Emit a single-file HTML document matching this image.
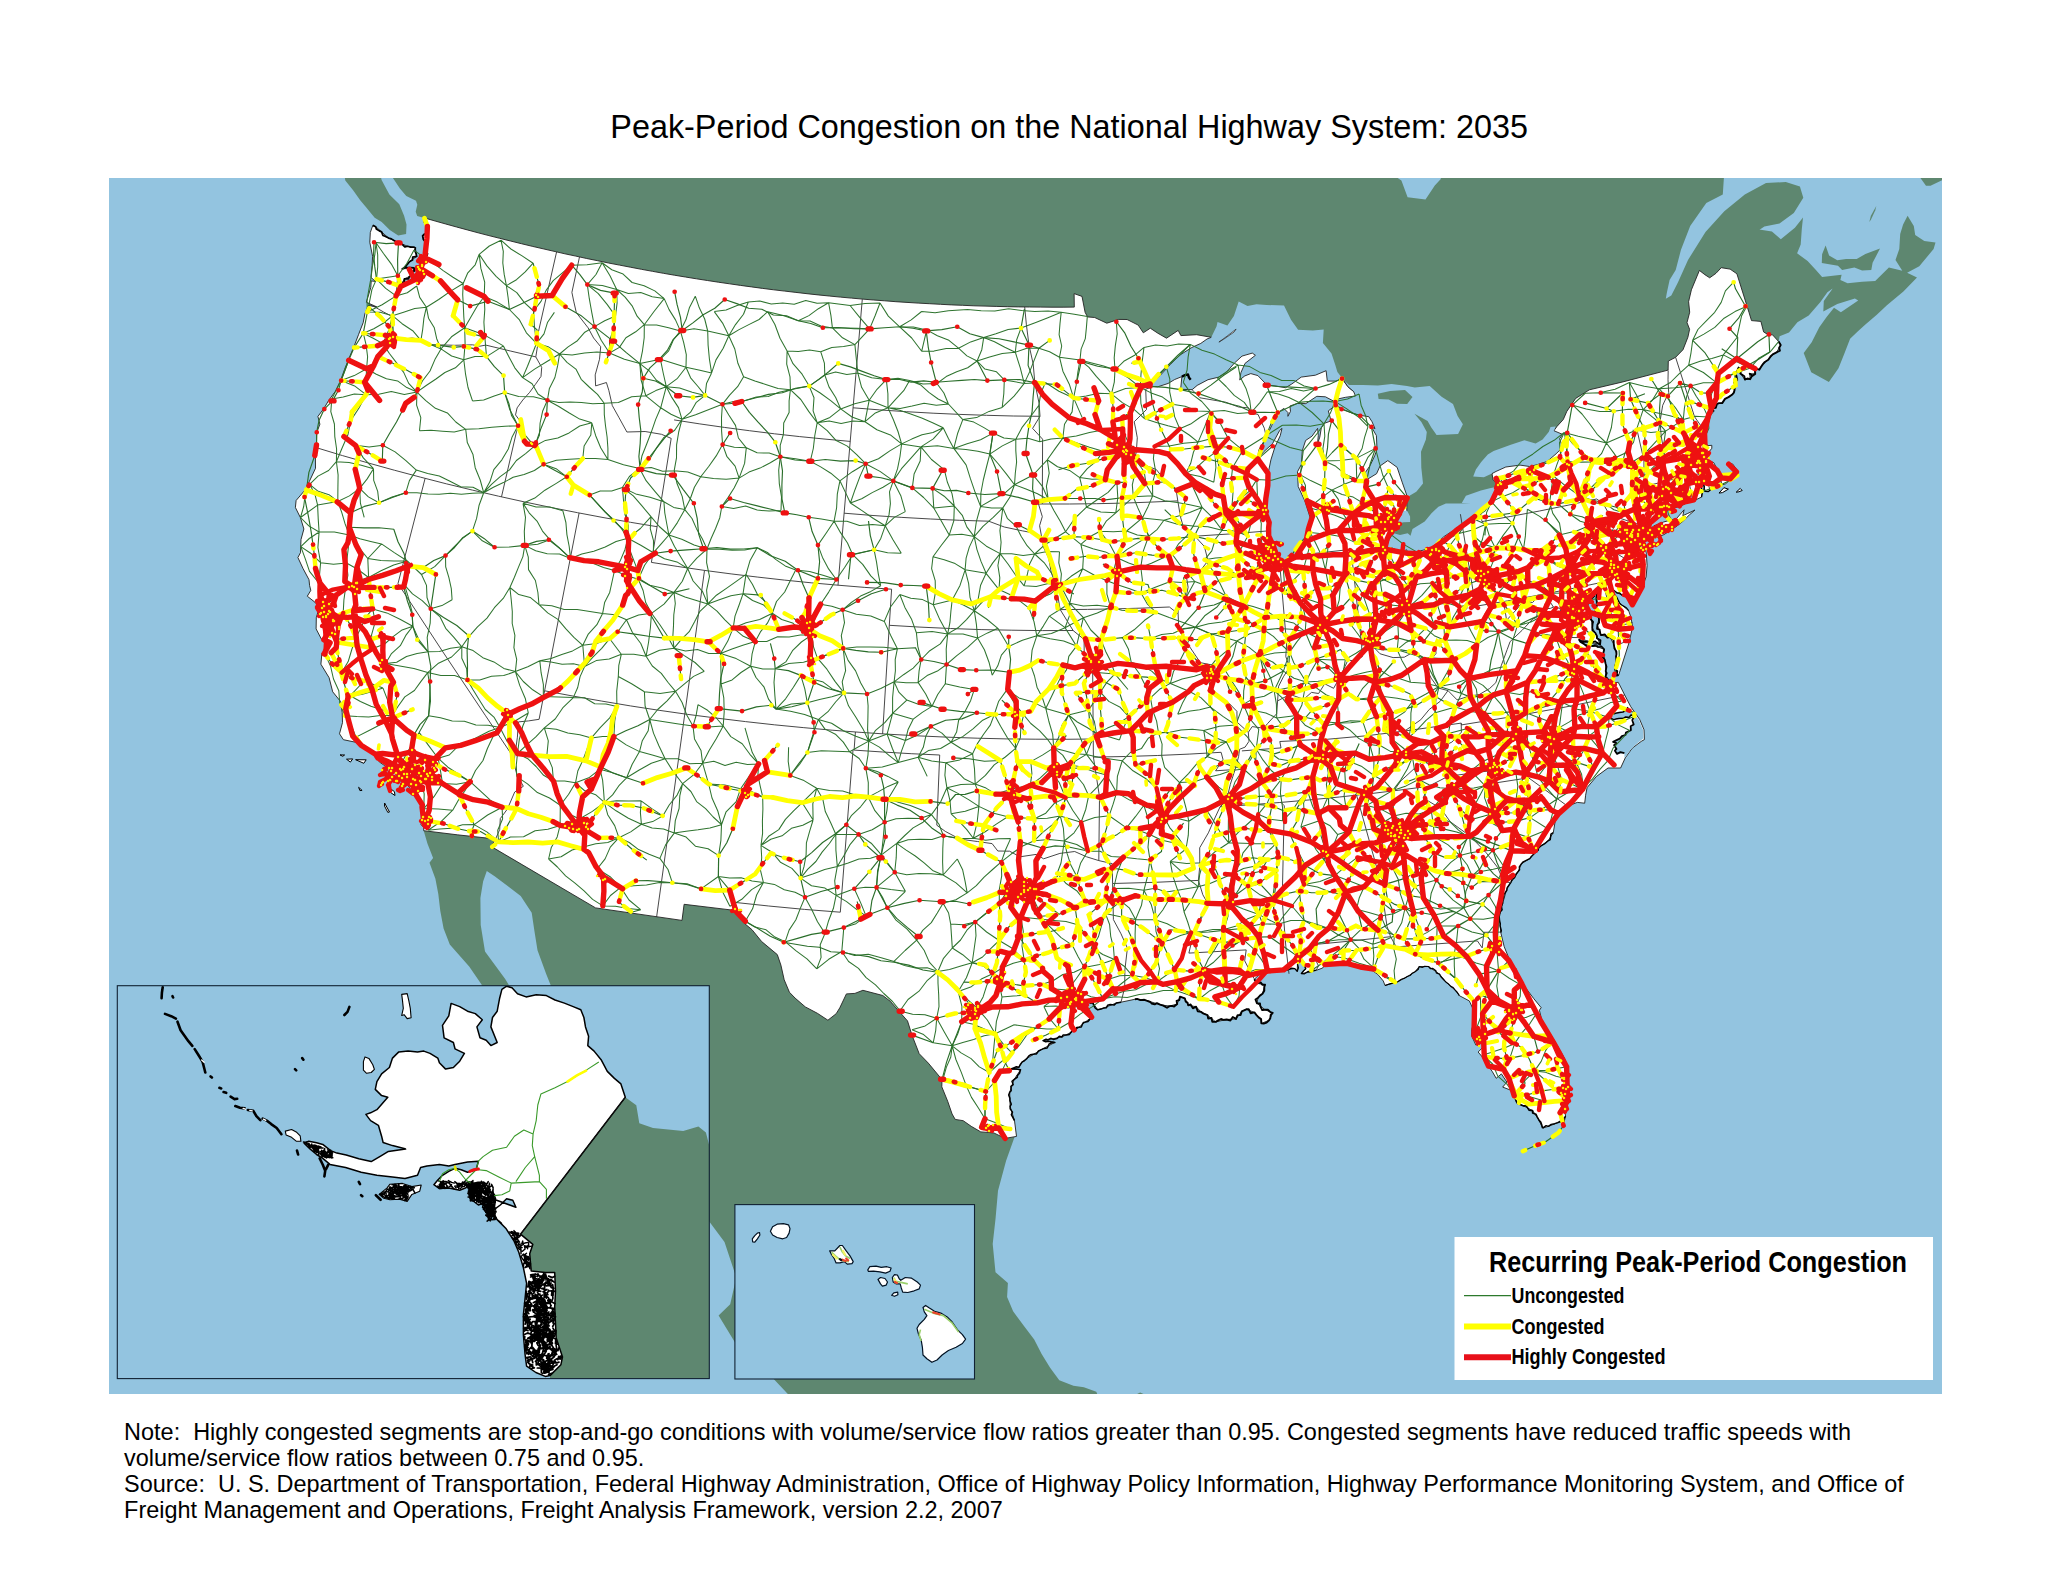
<!DOCTYPE html>
<html><head><meta charset="utf-8"><title>Peak-Period Congestion on the National Highway System: 2035</title>
<style>
html,body{margin:0;padding:0;background:#fff}
body{width:2048px;height:1582px;position:relative;overflow:hidden;font-family:"Liberation Sans",sans-serif;color:#000}
</style></head><body>
<svg xmlns="http://www.w3.org/2000/svg" width="2048" height="1582" viewBox="0 0 2048 1582" style="position:absolute;left:0;top:0;font-family:'Liberation Sans',sans-serif">
<defs><clipPath id="mc"><rect x="109" y="178" width="1833" height="1216"/></clipPath></defs>
<g clip-path="url(#mc)">
<rect x="109" y="178" width="1833" height="1216" fill="#93c4e0"/>
<path d="M315.7,16.1 328.3,46.5 338.2,72.2 339.9,95.0 335.0,109.2 345.5,121.0 358.7,132.9 371.9,144.6 384.8,158.0 390.0,168.8 392.3,177.0 399.9,188.5 406.3,196.0 416.0,200.7 417.3,204.8 415.7,211.7 417.2,215.9 424.3,217.9 423.6,221.4 427.8,228.2 427.5,233.6 422.6,235.9 425.8,244.2 427.0,255.7 420.9,261.3 420.1,268.5 418.2,275.4 414.5,279.2 407.0,283.3 401.7,283.7 404.4,278.8 411.8,275.4 414.0,267.9 402.2,268.9 409.4,261.7 416.7,256.4 415.4,247.9 407.6,246.3 399.7,242.9 388.6,238.1 381.6,231.9 375.7,226.7 372.8,225.4 370.3,232.5 369.8,242.4 372.6,256.3 372.1,265.5 371.0,277.5 375.5,281.4 371.2,280.9 370.8,287.5 367.7,297.8 366.3,302.2 376.8,306.9 368.2,305.4 364.9,313.8 363.2,322.6 358.5,334.7 353.5,347.8 348.9,358.5 344.5,369.5 340.5,380.7 335.4,391.3 328.6,400.5 323.9,408.5 317.9,416.4 319.9,424.2 316.7,432.7 316.5,445.9 315.4,456.9 315.5,468.3 309.3,481.5 305.3,489.7 296.1,500.5 295.4,507.5 300.5,517.8 303.9,529.0 301.0,539.5 300.5,552.6 297.9,557.5 303.0,568.5 309.0,579.7 309.6,585.5 310.8,590.4 307.3,596.2 314.9,602.2 319.0,606.4 320.1,606.7 323.0,602.6 327.2,600.1 331.4,600.8 325.2,605.1 326.9,611.3 327.2,620.8 329.4,623.3 323.6,617.9 321.6,611.6 321.5,607.8 318.9,607.8 317.3,614.2 316.3,617.7 316.1,628.9 321.4,639.1 325.9,641.1 328.5,647.5 324.9,653.2 321.9,653.2 320.9,664.2 329.1,677.7 332.7,691.8 340.6,701.5 342.2,712.4 342.5,722.6 339.5,733.8 343.4,739.7 356.9,742.5 364.9,747.1 371.7,750.0 375.7,754.7 379.3,761.9 384.5,765.5 387.1,767.6 394.5,768.3 396.7,771.8 396.9,777.4 397.1,780.4 402.0,781.2 406.0,782.5 409.6,787.8 414.3,794.1 419.3,801.2 422.4,809.3 421.8,818.5 421.0,824.6 423.8,827.4 423.7,830.7 427.5,843.8 433.1,858.0 429.5,862.7 435.4,878.8 438.3,894.1 440.3,911.1 443.6,928.4 449.8,944.4 457.5,953.3 469.2,966.6 481.7,984.8 483.8,998.7 481.8,1009.2 473.0,1013.0 450.1,1008.4 458.0,1022.8 466.6,1037.2 489.5,1058.0 498.4,1059.6 521.1,1080.0 529.9,1105.0 518.7,1131.8 533.2,1145.1 556.5,1166.8 579.0,1189.9 586.0,1211.3 595.2,1206.6 605.8,1193.9 594.6,1170.8 580.6,1163.4 569.7,1147.4 563.8,1121.3 556.4,1095.0 541.6,1060.0 535.0,1043.3 523.1,1016.9 516.3,997.5 505.2,979.1 485.0,951.5 480.7,925.0 480.4,898.1 483.1,881.4 486.8,871.1 495.0,876.4 520.7,896.0 531.7,912.7 534.5,931.5 537.5,950.3 546.1,973.7 553.9,993.2 568.6,1010.2 581.6,1029.6 596.6,1058.0 619.5,1079.4 628.5,1120.2 653.4,1145.0 661.4,1160.3 691.0,1192.4 704.6,1215.2 724.5,1242.1 736.3,1277.5 730.2,1304.3 718.6,1315.4 736.7,1345.2 762.1,1366.7 788.8,1395.0 833.8,1412.1 878.7,1438.8 913.9,1454.2 999.7,1484.1 1054.0,1518.6 1054.0,1686.4 1360.5,1673.5 1339.2,1421.0 1250.2,1427.4 1196.1,1416.3 1147.9,1395.8 1140.1,1392.6 1133.1,1395.9 1098.1,1396.2 1096.3,1391.7 1083.9,1387.3 1073.4,1385.7 1059.3,1380.2 1050.1,1367.7 1041.5,1353.8 1034.2,1339.5 1023.6,1325.4 1013.1,1311.3 1007.1,1296.9 1007.9,1282.9 995.5,1272.2 992.7,1244.0 995.5,1219.0 998.0,1190.8 1006.1,1160.8 1014.9,1136.1 1016.5,1136.4 1014.5,1120.7 1010.1,1106.4 1009.7,1092.2 1014.0,1079.7 1020.5,1069.8 1011.0,1068.9 1019.0,1067.3 1022.2,1061.9 1027.0,1058.4 1041.3,1049.6 1054.9,1042.4 1043.0,1040.6 1061.9,1037.0 1076.0,1029.8 1082.3,1024.4 1091.6,1017.1 1086.8,1008.2 1085.1,1001.0 1093.0,1002.7 1097.7,1009.8 1104.0,1007.9 1116.3,1003.0 1121.0,1002.2 1134.9,999.3 1144.3,999.8 1160.1,1004.7 1169.5,1006.1 1177.2,1004.0 1180.0,996.7 1184.8,998.3 1188.2,1005.3 1196.1,1006.7 1201.0,1011.9 1207.5,1015.2 1215.7,1021.9 1226.6,1019.5 1236.0,1018.9 1241.8,1011.4 1246.3,1009.3 1254.4,1012.4 1261.1,1019.1 1261.4,1023.4 1269.1,1020.3 1272.7,1012.9 1265.2,1009.8 1256.9,1003.2 1258.1,997.7 1262.5,993.8 1265.0,984.6 1257.1,983.4 1254.3,979.3 1259.6,974.2 1267.1,971.1 1274.7,969.5 1284.1,970.6 1288.7,969.5 1294.8,968.6 1297.2,971.3 1297.5,964.1 1299.1,957.5 1303.5,961.8 1305.7,968.8 1301.4,973.5 1310.6,972.0 1316.1,970.4 1322.7,968.0 1326.7,961.5 1331.8,965.4 1347.1,963.9 1359.7,965.5 1371.1,969.7 1377.8,974.4 1383.3,981.0 1385.0,985.5 1389.9,983.9 1396.6,982.4 1407.8,976.3 1415.1,971.8 1419.1,966.6 1428.5,966.5 1439.5,974.1 1446.2,982.3 1455.2,990.2 1459.4,995.7 1469.3,1000.9 1474.0,1011.1 1474.6,1020.0 1471.7,1029.5 1471.7,1036.0 1475.9,1045.1 1479.1,1042.9 1480.6,1035.4 1485.2,1038.4 1482.4,1047.8 1478.1,1052.0 1482.8,1057.5 1487.8,1065.1 1492.3,1071.6 1496.2,1078.3 1501.4,1073.9 1506.9,1082.1 1502.7,1087.1 1511.4,1090.4 1513.8,1095.8 1517.3,1103.2 1523.6,1105.9 1532.6,1110.6 1539.1,1120.4 1542.6,1128.1 1548.4,1126.4 1557.8,1122.7 1564.2,1121.7 1565.6,1116.1 1564.8,1110.8 1569.0,1100.4 1568.6,1088.5 1568.1,1077.8 1567.3,1067.1 1564.6,1058.5 1559.9,1050.2 1551.3,1035.4 1542.1,1021.3 1539.4,1010.2 1541.2,1007.7 1533.6,998.4 1526.7,989.3 1518.8,977.2 1509.8,960.4 1504.2,946.7 1500.8,932.7 1499.3,917.3 1502.7,903.2 1507.1,888.0 1510.8,882.6 1514.6,877.6 1518.2,871.5 1521.5,863.7 1529.8,858.6 1535.7,852.1 1541.3,845.7 1548.1,840.8 1553.3,832.6 1555.2,821.2 1558.4,814.0 1567.5,806.1 1577.3,802.4 1584.7,803.2 1585.6,795.3 1587.1,787.6 1596.3,776.6 1608.0,768.0 1620.6,768.0 1625.3,757.8 1632.2,748.2 1641.2,741.4 1644.4,739.6 1644.0,729.7 1639.7,719.5 1630.7,706.6 1624.7,695.0 1619.6,684.9 1618.2,682.3 1609.7,683.3 1609.3,681.6 1605.4,676.8 1605.7,671.2 1605.6,663.8 1604.7,659.6 1603.3,653.2 1604.2,649.3 1597.7,646.9 1584.3,644.2 1579.1,639.7 1588.0,641.5 1600.1,644.6 1596.9,636.0 1592.3,627.7 1590.5,612.5 1587.5,604.7 1591.8,598.2 1596.2,589.9 1600.0,590.9 1596.6,600.9 1594.8,612.4 1599.0,618.9 1597.4,624.8 1601.0,635.2 1609.9,637.0 1613.8,644.3 1616.5,654.1 1615.2,665.5 1616.7,675.5 1618.7,675.1 1623.5,660.0 1628.6,644.0 1632.6,627.2 1631.0,617.5 1628.6,610.6 1619.7,603.3 1615.0,595.1 1610.2,588.7 1610.0,581.3 1610.8,584.9 1612.5,590.0 1622.1,595.3 1631.0,597.1 1631.4,605.2 1636.2,597.7 1642.4,586.7 1646.1,576.9 1647.1,565.5 1646.4,554.5 1644.7,544.8 1639.1,546.9 1636.8,545.6 1640.3,540.3 1641.5,537.0 1642.3,531.3 1642.6,534.9 1642.3,536.9 1643.3,541.1 1653.8,538.6 1664.0,534.6 1675.9,526.8 1682.9,521.3 1689.5,514.8 1695.0,510.0 1687.8,513.4 1682.8,515.7 1684.1,509.8 1676.6,518.4 1663.6,522.0 1653.5,526.0 1648.0,531.8 1646.3,530.3 1648.6,526.1 1649.7,523.9 1654.6,519.0 1660.6,515.3 1666.3,510.6 1673.9,507.9 1680.4,506.3 1687.0,502.7 1692.7,501.3 1701.5,497.1 1702.4,492.0 1700.6,483.1 1703.4,483.5 1705.0,491.3 1708.4,491.5 1711.7,488.7 1714.9,484.9 1720.5,478.1 1721.8,484.9 1725.6,483.8 1730.5,479.5 1737.5,476.8 1738.7,475.3 1736.8,469.5 1732.5,463.9 1728.2,463.2 1729.1,464.5 1734.0,467.3 1735.4,472.5 1729.1,476.5 1723.5,476.2 1717.9,470.6 1713.8,462.7 1708.3,460.5 1704.5,459.6 1706.4,456.5 1708.1,453.0 1711.8,448.3 1711.8,445.3 1707.5,445.7 1705.6,441.7 1705.9,434.9 1705.9,431.9 1707.3,427.0 1709.1,420.9 1710.7,414.9 1713.8,411.4 1711.6,408.6 1717.0,403.8 1722.2,403.1 1725.0,398.9 1728.5,397.1 1733.9,392.6 1736.3,385.1 1735.1,373.5 1738.6,367.6 1740.4,373.5 1744.9,379.6 1750.1,379.2 1749.8,373.7 1755.2,373.9 1754.9,368.4 1759.3,369.7 1762.9,364.1 1768.3,359.8 1773.2,354.1 1776.6,352.3 1780.7,345.0 1778.6,341.5 1779.6,336.3 1789.0,332.5 1797.4,322.3 1808.7,315.5 1820.2,302.2 1827.4,292.2 1832.7,288.4 1823.8,301.0 1823.3,311.4 1837.3,304.0 1854.9,298.5 1858.2,300.4 1840.9,312.2 1834.0,307.7 1826.6,317.1 1819.3,327.2 1811.7,342.2 1803.7,353.1 1811.2,372.3 1828.9,382.0 1838.5,368.2 1844.4,353.6 1850.1,338.7 1858.2,330.9 1865.4,324.5 1876.8,314.7 1886.9,305.3 1903.4,291.5 1917.0,277.5 1907.1,272.8 1919.3,266.2 1933.6,249.0 1935.5,242.4 1924.3,241.1 1915.2,235.1 1913.8,226.0 1907.6,215.8 1903.1,224.4 1900.2,234.0 1899.3,248.9 1895.5,260.0 1902.3,270.8 1888.9,267.4 1875.2,280.9 1862.2,281.8 1847.6,283.2 1840.4,280.1 1841.6,274.7 1822.1,276.9 1815.7,269.7 1807.6,261.1 1797.1,253.3 1800.7,244.6 1801.8,229.1 1803.0,217.4 1794.9,227.7 1780.8,239.2 1771.9,231.6 1759.2,229.4 1753.1,234.0 1764.4,226.6 1779.5,223.5 1793.8,213.1 1803.3,197.8 1799.9,186.5 1785.8,182.0 1766.0,183.1 1744.8,194.5 1724.3,211.3 1705.5,231.9 1688.0,260.0 1677.9,282.5 1671.3,295.4 1665.8,298.7 1666.8,292.9 1669.6,279.9 1675.7,270.1 1680.9,250.1 1690.2,226.0 1706.3,203.1 1722.8,194.4 1724.0,176.2 1735.9,157.6 1765.4,144.2 1797.1,135.8 1836.9,123.2 1875.0,103.9 1892.1,77.9 1920.9,42.2 1922.5,-18.7 1826.3,-233.6 1390.3,-98.8 1427.0,116.3 1436.8,139.2 1446.1,158.7 1440.6,179.2 1434.8,185.6 1425.5,199.6 1407.6,197.3 1401.4,180.6 1380.8,166.2 1362.1,147.9 1356.9,127.7 1325.6,-88.2 392.1,-188.3Z" fill="#5e8770"/>
<path d="M316.7,117.3 321.1,131.2 320.4,144.0 330.3,151.2 337.5,162.9 343.6,170.6 345.3,180.5 353.3,190.5 360.2,200.2 366.5,207.8 374.7,217.8 381.7,221.9 389.8,229.9 398.2,235.4 406.1,234.1 406.5,224.5 404.1,215.7 399.3,204.3 389.4,194.6 381.6,179.9 378.4,166.3 366.5,148.4 349.8,137.3 338.5,127.2 328.2,118.0Z" fill="#5e8770"/>
<path d="M1781.0,154.9 1798.2,145.9 1817.7,144.5 1844.2,148.0 1853.0,157.9 1840.2,164.5 1818.3,166.9 1802.5,165.0 1786.7,159.3Z" fill="#5e8770"/>
<path d="M1825.6,245.4 1822.1,254.2 1821.8,263.0 1838.0,265.7 1842.1,270.0 1854.4,267.5 1862.1,270.4 1871.3,270.1 1872.6,262.8 1880.0,248.6 1865.4,254.0 1856.7,259.1 1846.1,259.0 1837.3,260.3 1829.1,255.6Z" fill="#5e8770"/>
<path d="M1926.0,185.8 1930.5,185.8 1944.3,179.0 1963.8,168.8 1989.1,159.8 1987.1,125.6 1961.8,98.1 1929.2,112.1 1928.0,133.8 1926.8,149.6 1915.3,156.3 1920.0,177.4Z" fill="#5e8770"/>
<path d="M1869.3,222.0 1870.9,215.7 1876.3,206.0 1875.3,210.2 1871.0,219.5Z" fill="#5e8770"/>
<path d="M424.3,217.9 423.6,221.4 427.8,228.2 427.5,233.6 422.6,235.9 425.8,244.2 427.0,255.7 420.9,261.3 420.1,268.5 418.2,275.4 414.5,279.2 407.0,283.3 401.7,283.7 404.4,278.8 411.8,275.4 414.0,267.9 402.2,268.9 409.4,261.7 416.7,256.4 415.4,247.9 407.6,246.3 399.7,242.9 388.6,238.1 381.6,231.9 375.7,226.7 372.8,225.4 370.3,232.5 369.8,242.4 372.6,256.3 372.1,265.5 371.0,277.5 375.5,281.4 371.2,280.9 370.8,287.5 367.7,297.8 366.3,302.2 376.8,306.9 368.2,305.4 364.9,313.8 363.2,322.6 358.5,334.7 353.5,347.8 348.9,358.5 344.5,369.5 340.5,380.7 335.4,391.3 328.6,400.5 323.9,408.5 317.9,416.4 319.9,424.2 316.7,432.7 316.5,445.9 315.4,456.9 315.5,468.3 309.3,481.5 305.3,489.7 296.1,500.5 295.4,507.5 300.5,517.8 303.9,529.0 301.0,539.5 300.5,552.6 297.9,557.5 303.0,568.5 309.0,579.7 309.6,585.5 310.8,590.4 307.3,596.2 314.9,602.2 319.0,606.4 320.1,606.7 323.0,602.6 327.2,600.1 331.4,600.8 325.2,605.1 326.9,611.3 327.2,620.8 329.4,623.3 323.6,617.9 321.6,611.6 321.5,607.8 318.9,607.8 317.3,614.2 316.3,617.7 316.1,628.9 321.4,639.1 325.9,641.1 328.5,647.5 324.9,653.2 321.9,653.2 320.9,664.2 329.1,677.7 332.7,691.8 340.6,701.5 342.2,712.4 342.5,722.6 339.5,733.8 343.4,739.7 356.9,742.5 364.9,747.1 371.7,750.0 375.7,754.7 379.3,761.9 384.5,765.5 387.1,767.6 394.5,768.3 396.7,771.8 396.9,777.4 397.1,780.4 402.0,781.2 406.0,782.5 409.6,787.8 414.3,794.1 419.3,801.2 422.4,809.3 421.8,818.5 421.0,824.6 423.8,827.4 423.7,830.7 457.3,834.8 495.6,839.0 491.4,846.6 595.6,907.9 682.0,920.4 684.1,904.3 734.8,910.4 739.1,913.1 743.5,922.6 752.0,929.7 761.6,941.5 777.3,954.6 780.9,965.1 784.2,979.8 789.4,992.2 795.1,998.1 805.3,1006.9 817.4,1013.3 827.9,1020.2 836.2,1013.7 839.8,1007.8 846.4,993.9 854.9,993.4 862.9,990.3 882.8,995.5 890.3,1001.3 899.2,1011.5 907.5,1020.9 912.1,1035.5 919.2,1053.7 928.3,1063.1 939.0,1076.0 942.0,1079.7 941.8,1086.8 947.7,1101.3 952.1,1114.0 955.2,1119.4 963.2,1120.7 971.2,1126.3 980.8,1131.9 993.8,1132.9 1005.1,1138.4 1016.5,1136.4 1014.5,1120.7 1010.1,1106.4 1009.7,1092.2 1014.0,1079.7 1020.5,1069.8 1011.0,1068.9 1019.0,1067.3 1022.2,1061.9 1027.0,1058.4 1041.3,1049.6 1054.9,1042.4 1043.0,1040.6 1061.9,1037.0 1076.0,1029.8 1082.3,1024.4 1091.6,1017.1 1086.8,1008.2 1085.1,1001.0 1093.0,1002.7 1097.7,1009.8 1104.0,1007.9 1116.3,1003.0 1121.0,1002.2 1134.9,999.3 1144.3,999.8 1160.1,1004.7 1169.5,1006.1 1177.2,1004.0 1180.0,996.7 1184.8,998.3 1188.2,1005.3 1196.1,1006.7 1201.0,1011.9 1207.5,1015.2 1215.7,1021.9 1226.6,1019.5 1236.0,1018.9 1241.8,1011.4 1246.3,1009.3 1254.4,1012.4 1261.1,1019.1 1261.4,1023.4 1269.1,1020.3 1272.7,1012.9 1265.2,1009.8 1256.9,1003.2 1258.1,997.7 1262.5,993.8 1265.0,984.6 1257.1,983.4 1254.3,979.3 1259.6,974.2 1267.1,971.1 1274.7,969.5 1284.1,970.6 1288.7,969.5 1294.8,968.6 1297.2,971.3 1297.5,964.1 1299.1,957.5 1303.5,961.8 1305.7,968.8 1301.4,973.5 1310.6,972.0 1316.1,970.4 1322.7,968.0 1326.7,961.5 1331.8,965.4 1347.1,963.9 1359.7,965.5 1371.1,969.7 1377.8,974.4 1383.3,981.0 1385.0,985.5 1389.9,983.9 1396.6,982.4 1407.8,976.3 1415.1,971.8 1419.1,966.6 1428.5,966.5 1439.5,974.1 1446.2,982.3 1455.2,990.2 1459.4,995.7 1469.3,1000.9 1474.0,1011.1 1474.6,1020.0 1471.7,1029.5 1471.7,1036.0 1475.9,1045.1 1479.1,1042.9 1480.6,1035.4 1485.2,1038.4 1482.4,1047.8 1478.1,1052.0 1482.8,1057.5 1487.8,1065.1 1492.3,1071.6 1496.2,1078.3 1501.4,1073.9 1506.9,1082.1 1502.7,1087.1 1511.4,1090.4 1513.8,1095.8 1517.3,1103.2 1523.6,1105.9 1532.6,1110.6 1539.1,1120.4 1542.6,1128.1 1548.4,1126.4 1557.8,1122.7 1564.2,1121.7 1565.6,1116.1 1564.8,1110.8 1569.0,1100.4 1568.6,1088.5 1568.1,1077.8 1567.3,1067.1 1564.6,1058.5 1559.9,1050.2 1551.3,1035.4 1542.1,1021.3 1539.4,1010.2 1541.2,1007.7 1533.6,998.4 1526.7,989.3 1518.8,977.2 1509.8,960.4 1504.2,946.7 1500.8,932.7 1499.3,917.3 1502.7,903.2 1507.1,888.0 1510.8,882.6 1514.6,877.6 1518.2,871.5 1521.5,863.7 1529.8,858.6 1535.7,852.1 1541.3,845.7 1548.1,840.8 1553.3,832.6 1555.2,821.2 1558.4,814.0 1567.5,806.1 1577.3,802.4 1584.7,803.2 1585.6,795.3 1587.1,787.6 1596.3,776.6 1608.0,768.0 1620.6,768.0 1625.3,757.8 1632.2,748.2 1641.2,741.4 1644.4,739.6 1644.0,729.7 1639.7,719.5 1630.7,706.6 1624.7,695.0 1619.6,684.9 1618.2,682.3 1609.7,683.3 1609.3,681.6 1605.4,676.8 1605.7,671.2 1605.6,663.8 1604.7,659.6 1603.3,653.2 1604.2,649.3 1597.7,646.9 1584.3,644.2 1579.1,639.7 1588.0,641.5 1600.1,644.6 1596.9,636.0 1592.3,627.7 1590.5,612.5 1587.5,604.7 1591.8,598.2 1596.2,589.9 1600.0,590.9 1596.6,600.9 1594.8,612.4 1599.0,618.9 1597.4,624.8 1601.0,635.2 1609.9,637.0 1613.8,644.3 1616.5,654.1 1615.2,665.5 1616.7,675.5 1618.7,675.1 1623.5,660.0 1628.6,644.0 1632.6,627.2 1631.0,617.5 1628.6,610.6 1619.7,603.3 1615.0,595.1 1610.2,588.7 1610.0,581.3 1610.8,584.9 1612.5,590.0 1622.1,595.3 1631.0,597.1 1631.4,605.2 1636.2,597.7 1642.4,586.7 1646.1,576.9 1647.1,565.5 1646.4,554.5 1644.7,544.8 1639.1,546.9 1636.8,545.6 1640.3,540.3 1641.5,537.0 1642.3,531.3 1642.6,534.9 1642.3,536.9 1643.3,541.1 1653.8,538.6 1664.0,534.6 1675.9,526.8 1682.9,521.3 1689.5,514.8 1695.0,510.0 1687.8,513.4 1682.8,515.7 1684.1,509.8 1676.6,518.4 1663.6,522.0 1653.5,526.0 1648.0,531.8 1646.3,530.3 1648.6,526.1 1649.7,523.9 1654.6,519.0 1660.6,515.3 1666.3,510.6 1673.9,507.9 1680.4,506.3 1687.0,502.7 1692.7,501.3 1701.5,497.1 1702.4,492.0 1700.6,483.1 1703.4,483.5 1705.0,491.3 1708.4,491.5 1711.7,488.7 1714.9,484.9 1720.5,478.1 1721.8,484.9 1725.6,483.8 1730.5,479.5 1737.5,476.8 1738.7,475.3 1736.8,469.5 1732.5,463.9 1728.2,463.2 1729.1,464.5 1734.0,467.3 1735.4,472.5 1729.1,476.5 1723.5,476.2 1717.9,470.6 1713.8,462.7 1708.3,460.5 1704.5,459.6 1706.4,456.5 1708.1,453.0 1711.8,448.3 1711.8,445.3 1707.5,445.7 1705.6,441.7 1705.9,434.9 1705.9,431.9 1707.3,427.0 1709.1,420.9 1710.7,414.9 1713.8,411.4 1711.6,408.6 1717.0,403.8 1722.2,403.1 1725.0,398.9 1728.5,397.1 1733.9,392.6 1736.3,385.1 1735.1,373.5 1738.6,367.6 1740.4,373.5 1744.9,379.6 1750.1,379.2 1749.8,373.7 1755.2,373.9 1754.9,368.4 1759.3,369.7 1762.9,364.1 1768.3,359.8 1773.2,354.1 1776.6,352.3 1780.7,345.0 1778.6,341.5 1772.5,334.8 1768.5,334.9 1763.6,331.9 1760.9,321.4 1751.5,320.6 1749.0,312.4 1736.9,273.8 1730.1,269.1 1721.2,267.7 1716.0,273.3 1709.7,277.8 1704.9,274.7 1699.4,270.4 1691.4,289.8 1688.6,301.7 1689.7,312.2 1687.0,322.6 1689.6,329.3 1687.9,337.2 1683.0,349.7 1675.6,357.3 1668.3,361.1 1668.1,370.1 1622.9,381.9 1589.4,389.8 1575.7,398.4 1566.8,411.4 1563.3,419.5 1557.0,426.4 1553.9,430.7 1547.3,449.4 1499.0,458.7 1492.2,472.1 1492.0,473.6 1493.1,480.0 1497.8,483.9 1498.3,486.4 1478.4,502.0 1461.5,517.7 1414.6,543.9 1396.1,540.3 1393.6,533.4 1393.1,524.3 1397.2,521.2 1405.2,515.3 1406.8,511.5 1406.8,498.7 1407.3,496.8 1411.6,474.3 1393.4,414.0 1367.1,407.9 1363.6,400.4 1366.5,393.5 1353.6,391.5 1348.0,386.8 1342.0,378.6 1335.8,379.3 1328.0,365.8 1304.4,354.1 1237.7,324.6 1216.1,336.3 1211.3,337.3 1196.6,334.7 1180.9,335.6 1178.2,330.4 1166.5,338.2 1157.8,333.2 1150.3,328.2 1143.3,332.8 1138.2,325.1 1127.1,319.5 1118.7,319.4 1106.8,323.2 1094.7,317.5 1087.5,316.9 1085.1,312.3 1082.0,296.4 1074.1,293.6 1074.3,307.1 1063.1,307.2 1052.0,307.2 1040.8,307.1 1029.6,307.0 1018.5,306.9 1007.3,306.7 996.2,306.4 985.0,306.1 973.9,305.8 962.7,305.3 951.6,304.9 940.4,304.3 929.3,303.7 918.1,303.1 907.0,302.4 895.9,301.7 884.7,300.8 873.6,300.0 862.5,299.1 851.4,298.1 840.3,297.1 829.2,296.0 818.1,294.9 807.0,293.7 795.9,292.4 784.8,291.1 773.7,289.8 762.6,288.4 751.6,286.9 740.5,285.4 729.5,283.8 718.4,282.2 707.4,280.5 696.4,278.8 685.4,277.0 674.4,275.2 663.4,273.3 652.4,271.3 641.4,269.3 630.4,267.2 619.5,265.1 608.5,263.0 597.6,260.7 586.7,258.5 575.8,256.1 564.9,253.8 554.0,251.3 543.1,248.8 532.2,246.3 521.4,243.7 510.5,241.0 499.7,238.3 488.9,235.6 478.1,232.8 467.3,229.9 456.6,227.0 445.8,224.0 435.1,221.0 424.3,217.9Z" fill="#fff" stroke="#222" stroke-width="0.9" stroke-linejoin="round"/>
<path d="M1553.9,430.7 1562.6,434.4 1559.6,438.7 1562.7,447.3 1556.1,453.8 1547.1,461.5 1537.1,464.7 1529.5,466.5 1520.0,465.1 1505.8,467.0 1496.1,471.4 1492.0,473.6 1483.9,477.2 1473.2,476.5 1475.9,469.5 1481.2,462.0 1487.8,454.6 1493.6,450.9 1510.8,444.8 1524.4,440.3 1535.6,443.6 1542.6,439.6 1548.9,431.7 1550.5,427.0 1555.7,426.6Z" fill="#93c4e0"/>
<path d="M1498.8,486.3 1496.1,493.4 1489.6,501.9 1480.4,511.9 1472.4,518.4 1461.7,526.8 1450.5,532.3 1443.2,537.1 1434.0,547.6 1421.0,550.7 1410.8,554.7 1407.1,551.6 1406.8,549.8 1400.9,551.7 1392.4,548.1 1386.3,547.1 1389.1,539.5 1393.1,533.4 1393.8,533.3 1400.0,535.1 1407.7,533.2 1410.5,535.8 1412.5,528.9 1424.7,521.6 1431.5,513.3 1438.4,506.7 1445.9,503.4 1459.2,503.4 1471.1,503.3 1461.8,503.0 1465.9,495.7 1480.9,490.6 1489.8,488.3 1498.0,486.4Z" fill="#93c4e0"/>
<path d="M1397.1,523.8 1398.1,518.2 1400.5,510.5 1407.2,510.7 1410.1,516.5 1410.1,521.9 1403.5,522.2Z" fill="#93c4e0"/>
<path d="M1407.3,496.8 1402.4,482.9 1397.1,467.3 1387.8,460.6 1380.0,466.0 1376.6,473.7 1367.4,479.3 1364.6,473.5 1370.1,465.5 1374.7,455.8 1377.0,449.3 1376.4,435.6 1371.4,426.9 1375.0,428.6 1372.0,421.7 1368.8,416.7 1360.0,415.3 1352.6,413.4 1342.7,409.2 1335.7,405.3 1335.5,402.1 1338.2,398.9 1345.5,397.3 1355.5,396.0 1353.6,391.5 1348.0,386.8 1343.4,380.2 1342.0,378.6 1349.0,384.9 1362.8,384.9 1377.9,385.4 1391.6,383.9 1407.0,385.9 1414.8,387.6 1429.7,386.0 1441.6,396.8 1453.0,404.0 1457.6,416.0 1462.9,424.2 1458.1,434.1 1436.6,435.1 1431.3,427.6 1427.6,420.9 1414.5,413.8 1421.4,421.9 1426.8,431.9 1425.9,439.4 1421.0,451.8 1421.3,467.4 1423.0,483.5 1416.3,491.8 1407.8,496.7Z" fill="#93c4e0"/>
<path d="M1335.7,405.3 1328.3,410.9 1330.3,417.9 1331.9,420.6 1324.4,423.3 1321.3,427.9 1319.8,437.1 1317.5,443.9 1318.3,435.5 1317.6,428.4 1312.0,436.2 1305.6,440.5 1302.3,450.6 1301.4,464.4 1297.5,471.7 1298.2,486.5 1304.9,501.0 1310.0,517.2 1309.5,530.7 1305.4,542.0 1299.3,553.5 1295.6,556.8 1288.0,561.1 1281.3,561.0 1276.0,552.8 1272.4,545.1 1269.3,535.9 1268.7,523.6 1265.6,511.6 1264.7,498.6 1268.0,485.7 1268.2,473.0 1270.9,459.8 1274.9,447.1 1280.2,435.8 1282.0,428.4 1279.7,430.4 1272.5,443.7 1263.8,451.7 1258.0,458.4 1258.6,450.4 1266.3,437.1 1271.6,425.8 1278.0,412.6 1283.9,408.4 1288.1,412.7 1287.9,416.3 1290.5,411.3 1289.9,406.0 1297.2,403.5 1305.8,403.6 1316.8,396.3 1325.4,396.8 1335.5,402.1Z" fill="#93c4e0"/>
<path d="M1342.0,378.6 1336.0,381.1 1327.3,381.1 1326.1,370.7 1315.4,375.2 1301.2,377.1 1291.5,384.2 1285.6,387.7 1274.2,385.9 1266.7,384.8 1257.9,375.6 1250.8,373.6 1244.8,375.9 1239.7,379.9 1240.9,372.7 1245.0,363.4 1255.4,355.3 1252.3,353.1 1242.0,356.1 1234.4,363.1 1226.0,372.7 1218.5,377.2 1208.0,379.7 1197.2,385.4 1192.1,389.7 1180.6,389.3 1181.9,376.6 1174.7,379.5 1168.0,383.5 1157.7,386.8 1150.3,386.4 1153.8,381.6 1160.4,375.2 1170.0,364.8 1179.5,355.3 1191.8,347.5 1200.8,343.4 1207.0,339.0 1211.3,337.3 1216.6,326.3 1217.5,321.9 1227.4,325.5 1233.9,316.0 1238.7,301.4 1247.5,306.0 1256.5,304.2 1266.6,305.0 1284.0,305.5 1291.0,319.7 1298.1,329.7 1312.9,330.6 1323.7,329.4 1322.9,343.1 1331.5,353.6 1335.3,365.0 1337.4,371.9 1342.5,378.5Z" fill="#93c4e0"/>
<path d="M1377.8,393.8 1390.1,391.0 1405.0,389.9 1412.5,397.1 1407.2,404.0 1397.0,403.7 1388.7,399.5 1378.6,399.1Z" fill="#5e8770"/>
<path d="M1218.9,342.1 1227.0,336.2 1236.1,329.1 1234.0,332.1 1223.6,339.3Z" fill="#fff" stroke="#222" stroke-width="0.7"/>
<path d="M1553.9,430.7 1562.6,434.4 1559.6,438.7 1562.7,447.3 1556.1,453.8 1547.1,461.5 1537.1,464.7 1529.5,466.5 1520.0,465.1 1505.8,467.0 1496.1,471.4 1492.0,473.6" fill="none" stroke="#222" stroke-width="0.9"/>
<path d="M1498.8,486.3 1496.1,493.4 1489.6,501.9 1480.4,511.9 1472.4,518.4 1461.7,526.8 1450.5,532.3 1443.2,537.1 1434.0,547.6 1421.0,550.7 1410.8,554.7 1407.1,551.6 1406.8,549.8 1400.9,551.7 1392.4,548.1 1386.3,547.1 1389.1,539.5 1393.1,533.4" fill="none" stroke="#222" stroke-width="0.9"/>
<path d="M1407.3,496.8 1402.4,482.9 1397.1,467.3 1387.8,460.6 1380.0,466.0 1376.6,473.7 1367.4,479.3 1364.6,473.5 1370.1,465.5 1374.7,455.8 1377.0,449.3 1376.4,435.6 1371.4,426.9 1375.0,428.6 1372.0,421.7 1368.8,416.7 1360.0,415.3 1352.6,413.4 1342.7,409.2 1335.7,405.3 1335.5,402.1 1338.2,398.9 1345.5,397.3 1355.5,396.0 1353.6,391.5 1348.0,386.8 1343.4,380.2 1342.0,378.6" fill="none" stroke="#222" stroke-width="0.9"/>
<path d="M1335.7,405.3 1328.3,410.9 1330.3,417.9 1331.9,420.6 1324.4,423.3 1321.3,427.9 1319.8,437.1 1317.5,443.9 1318.3,435.5 1317.6,428.4 1312.0,436.2 1305.6,440.5 1302.3,450.6 1301.4,464.4 1297.5,471.7 1298.2,486.5 1304.9,501.0 1310.0,517.2 1309.5,530.7 1305.4,542.0 1299.3,553.5 1295.6,556.8 1288.0,561.1 1281.3,561.0 1276.0,552.8 1272.4,545.1 1269.3,535.9 1268.7,523.6 1265.6,511.6 1264.7,498.6 1268.0,485.7 1268.2,473.0 1270.9,459.8 1274.9,447.1 1280.2,435.8 1282.0,428.4 1279.7,430.4 1272.5,443.7 1263.8,451.7 1258.0,458.4 1258.6,450.4 1266.3,437.1 1271.6,425.8 1278.0,412.6 1283.9,408.4 1288.1,412.7 1287.9,416.3 1290.5,411.3 1289.9,406.0 1297.2,403.5 1305.8,403.6 1316.8,396.3 1325.4,396.8 1335.5,402.1" fill="none" stroke="#222" stroke-width="0.9"/>
<path d="M1342.0,378.6 1336.0,381.1 1327.3,381.1 1326.1,370.7 1315.4,375.2 1301.2,377.1 1291.5,384.2 1285.6,387.7 1274.2,385.9 1266.7,384.8 1257.9,375.6 1250.8,373.6 1244.8,375.9 1239.7,379.9 1240.9,372.7 1245.0,363.4 1255.4,355.3 1252.3,353.1 1242.0,356.1 1234.4,363.1 1226.0,372.7 1218.5,377.2 1208.0,379.7 1197.2,385.4 1192.1,389.7 1180.6,389.3 1181.9,376.6 1174.7,379.5 1168.0,383.5 1157.7,386.8 1150.3,386.4 1153.8,381.6 1160.4,375.2 1170.0,364.8 1179.5,355.3 1191.8,347.5 1200.8,343.4 1207.0,339.0 1211.3,337.3" fill="none" stroke="#222" stroke-width="0.9"/>
<path d="M1624.4,753.2 1617.1,753.9 1614.9,750.7 1616.3,743.0 1613.1,741.8 1619.8,738.6 1628.6,731.2 1633.7,724.5 1633.8,717.1 1634.9,715.0 1638.8,719.7 1643.1,729.9 1643.5,738.3 1635.9,744.4 1631.0,749.2 1624.5,757.9Z" fill="#93c4e0"/>
<path d="M1633.5,715.3 1625.6,717.0 1615.7,719.1 1606.8,718.4 1613.2,714.1 1623.0,712.0 1627.9,707.2 1630.6,710.4Z" fill="#93c4e0"/>
<path d="M1719.0,493.1 1723.9,487.7 1728.4,489.1 1722.5,492.6Z" fill="#fff" stroke="#000" stroke-width="1.0"/>
<path d="M1736.2,492.2 1740.2,488.4 1742.2,490.5 1738.9,491.8Z" fill="#fff" stroke="#000" stroke-width="1.0"/>
<path d="M340.0,754.9 344.6,755.0 342.7,756.3Z" fill="#fff" stroke="#000" stroke-width="1.0"/>
<path d="M346.5,759.2 352.7,758.9 350.4,762.1Z" fill="#fff" stroke="#000" stroke-width="1.0"/>
<path d="M355.6,759.7 366.2,759.8 363.8,763.3Z" fill="#fff" stroke="#000" stroke-width="1.0"/>
<path d="M388.4,787.2 394.4,791.6 395.0,795.5 390.7,792.6Z" fill="#fff" stroke="#000" stroke-width="1.0"/>
<path d="M384.6,803.0 389.5,812.0 387.8,812.4 384.5,806.0Z" fill="#fff" stroke="#000" stroke-width="1.0"/>
<path d="M358.6,787.3 362.1,790.4 359.9,790.6Z" fill="#fff" stroke="#000" stroke-width="1.0"/>
<path d="M1609.7,683.3 1609.3,681.6 1607.4,678.5 1605.4,676.8 1606.7,673.2 1605.7,671.2 1606.5,666.7 1605.6,663.8 1604.7,659.6 1602.3,656.8 1603.3,653.2 1604.2,649.3 1601.3,646.4 1597.7,646.9 1596.1,645.1 1592.8,646.1 1589.6,645.1 1587.2,646.6 1584.3,644.2 1580.5,642.0 1579.1,639.7 1581.2,641.1 1584.1,641.9 1588.0,641.5 1590.2,642.6 1595.3,641.4 1596.8,642.6 1600.1,644.6 1600.5,640.4 1596.9,638.3 1596.9,636.0 1595.3,632.9 1592.4,630.3 1592.3,627.7 1592.6,623.7 1593.1,621.9 1590.8,619.3 1589.7,616.6 1590.5,612.5 1588.8,610.0 1586.6,607.6 1587.5,604.7 1588.9,601.4 1591.8,598.2 1594.3,596.0 1594.1,592.4 1596.2,589.9 1600.0,590.9 1598.7,592.3 1596.9,594.4 1596.3,598.7 1596.6,600.9 1597.8,604.6 1596.1,606.9 1597.2,608.9 1594.8,612.4 1598.4,615.8 1599.0,618.9 1599.1,622.7 1597.4,624.8 1597.0,628.8 1599.6,629.5 1600.2,633.1 1601.0,635.2 1604.7,634.4 1607.4,637.6 1609.9,637.0 1613.2,639.4 1613.7,640.8 1613.8,644.3 1614.5,648.5 1616.4,651.5 1616.5,654.1 1616.0,656.6 1616.6,659.2 1617.2,662.1 1615.2,665.5 1615.1,669.9 1617.3,671.1 1616.7,675.5 1618.7,675.1" fill="none" stroke="#000" stroke-width="1.8" stroke-linejoin="round"/>
<path d="M1713.8,411.4 1711.6,408.6 1715.8,407.8 1717.0,403.8 1719.0,403.1 1722.2,403.1 1725.0,398.9 1728.5,397.1 1732.0,394.8 1733.9,392.6 1734.5,390.2 1733.9,386.2 1736.3,385.1 1734.0,382.5 1737.2,379.9 1736.3,375.4 1735.1,373.5 1737.6,370.4 1738.6,367.6 1741.1,369.9 1740.4,373.5 1744.3,376.2 1744.9,379.6 1747.3,378.5 1750.1,379.2 1752.1,375.6 1749.8,373.7 1752.3,375.9 1755.2,373.9 1755.0,370.7 1754.9,368.4 1759.3,369.7 1760.8,367.2 1762.9,364.1 1764.8,362.0 1768.3,359.8 1771.0,355.9 1773.2,354.1 1776.6,352.3 1779.9,350.6 1779.2,347.7 1780.7,345.0 1778.6,341.5" fill="none" stroke="#000" stroke-width="1.9" stroke-linejoin="round"/>
<path d="M423.6,221.4 426.0,222.5 426.0,227.1 427.8,228.2 428.2,231.5 427.5,233.6 424.3,234.0 422.6,235.9 423.3,239.4 425.3,241.7 425.8,244.2 426.9,247.0 425.5,250.4 427.6,253.6 427.0,255.7 424.5,257.3 424.1,260.8 420.9,261.3 421.4,265.4 420.1,268.5 419.1,272.6 418.2,275.4 415.5,277.3 414.5,279.2 412.0,281.2 408.5,281.5 407.0,283.3 403.7,284.1 401.7,283.7 404.4,281.6 404.4,278.8 408.4,278.9 409.4,276.6 411.8,275.4 411.5,271.9 414.7,270.9 414.0,267.9 410.5,267.5 408.7,267.5 404.9,267.7 402.2,268.9 404.9,267.1 407.7,264.0 409.4,261.7 412.5,260.1 412.7,257.2 416.7,256.4 416.0,253.3 414.8,250.5 415.4,247.9 413.8,247.1 410.7,247.1 407.6,246.3 405.0,247.0 402.7,244.9 399.7,242.9 397.4,243.1 394.3,240.7 391.4,238.9 388.6,238.1 385.0,236.2 382.9,235.4 381.6,231.9 379.3,230.9 376.3,229.0 375.7,226.7 372.8,225.4" fill="none" stroke="#000" stroke-width="1.7" stroke-linejoin="round"/>
<path d="M1134.9,999.3 1137.2,998.9 1140.4,1000.1 1144.3,999.8 1146.6,1000.7 1150.3,1002.0 1151.6,1003.5 1154.7,1004.4 1156.9,1003.1 1160.1,1004.7 1163.3,1005.6 1167.0,1007.8 1169.5,1006.1 1171.9,1005.9 1174.1,1006.6 1177.2,1004.0 1176.6,1000.8 1179.3,1000.0 1180.0,996.7 1184.8,998.3 1185.7,1001.6 1187.5,1002.6 1188.2,1005.3 1190.6,1004.5 1192.9,1008.3 1196.1,1006.7 1197.7,1011.3 1201.0,1011.9 1203.6,1013.7 1207.5,1015.2 1208.2,1018.5 1211.5,1018.0 1212.3,1021.9 1215.7,1021.9 1218.2,1020.4 1221.0,1019.0 1223.4,1019.9 1226.6,1019.5 1230.4,1020.5 1232.8,1017.0 1236.0,1018.9 1237.6,1015.1 1240.5,1015.1 1241.8,1011.4 1246.3,1009.3 1248.7,1009.1 1250.6,1013.2 1254.4,1012.4 1256.3,1014.9 1258.6,1017.4 1261.1,1019.1 1261.4,1023.4 1263.7,1023.6 1266.6,1022.6 1269.1,1020.3 1270.3,1018.2 1270.7,1014.9 1272.7,1012.9 1270.4,1012.1 1267.9,1009.8 1265.2,1009.8 1262.2,1010.1 1260.3,1006.1 1260.0,1003.5 1256.9,1003.2 1255.5,999.5 1258.1,997.7 1260.2,995.4 1262.5,993.8 1264.3,990.7 1264.3,986.9 1265.0,984.6 1262.5,984.8 1260.6,982.4 1257.1,983.4 1254.3,979.3" fill="none" stroke="#000" stroke-width="1.9" stroke-linejoin="round"/>
<path d="M1014.5,1120.7 1012.8,1117.4 1011.3,1114.7 1012.5,1112.1 1010.2,1108.9 1010.1,1106.4 1011.3,1104.2 1009.9,1100.6 1009.9,1098.2 1008.7,1094.9 1009.7,1092.2 1011.2,1090.8 1010.9,1086.3 1013.2,1084.7 1012.0,1081.3 1014.0,1079.7 1017.4,1077.2 1017.3,1075.8 1019.5,1073.3 1020.5,1069.8 1016.5,1069.0 1015.0,1068.7 1011.0,1068.9 1014.3,1067.6 1016.3,1066.8 1019.0,1067.3 1020.0,1065.0 1022.2,1061.9 1024.1,1061.0 1027.0,1058.4 1028.6,1056.1 1030.4,1054.8 1034.7,1053.9 1036.5,1053.9 1038.5,1051.0 1041.3,1049.6 1044.2,1048.4 1047.2,1048.0 1049.2,1043.9 1052.0,1042.8 1054.9,1042.4 1051.1,1041.8 1048.7,1041.3 1045.7,1041.7 1043.0,1040.6 1046.0,1039.3 1047.7,1039.8 1050.7,1038.3 1053.3,1039.4 1056.9,1038.6 1059.3,1036.3 1061.9,1037.0 1063.0,1035.1 1066.3,1035.1 1069.4,1034.4 1071.6,1031.5 1073.4,1029.5 1076.0,1029.8 1076.7,1027.4 1081.3,1027.0 1082.3,1024.4 1083.5,1022.4 1088.0,1021.6 1089.3,1020.1 1091.6,1017.1 1090.4,1014.2 1087.8,1011.8 1086.8,1008.2 1086.4,1004.8 1085.1,1001.0 1087.1,1001.1 1090.4,1003.2 1093.0,1002.7 1093.7,1005.5 1095.3,1008.1 1097.7,1009.8 1101.1,1009.1 1104.0,1007.9 1106.5,1007.7 1107.6,1005.2 1110.2,1004.5 1114.3,1005.1 1116.3,1003.0 1121.0,1002.2" fill="none" stroke="#000" stroke-width="1.5" stroke-linejoin="round"/>
<path d="M1500.8,932.7 1501.3,930.5 1500.1,925.8 1500.3,923.6 1499.6,921.2 1499.3,917.3 1499.0,914.9 1500.3,911.8 1502.2,909.8 1501.3,906.3 1502.7,903.2 1502.5,900.9 1503.5,898.0 1504.0,894.5 1505.5,892.1 1506.9,890.3 1507.1,888.0 1509.4,884.5 1510.8,882.6 1512.1,879.2 1514.6,877.6 1516.1,874.0 1518.2,871.5 1519.6,869.8 1519.3,866.9 1521.5,863.7 1523.2,861.8 1527.7,859.6 1529.8,858.6 1531.3,856.5 1533.4,854.6 1535.7,852.1 1538.3,850.1 1538.4,847.7 1541.3,845.7 1544.5,843.9 1545.9,842.8 1548.1,840.8 1550.3,839.6 1550.9,834.2 1553.3,832.6" fill="none" stroke="#000" stroke-width="1.4" stroke-linejoin="round"/>
<path d="M1513.8,1095.8 1514.9,1097.4 1516.4,1101.7 1517.3,1103.2 1520.1,1104.5 1523.6,1105.9 1526.4,1105.9 1529.0,1110.1 1532.6,1110.6 1532.6,1113.1 1536.0,1114.3 1537.3,1117.0 1539.1,1120.4 1540.9,1122.4 1541.6,1124.4 1542.6,1128.1" fill="none" stroke="#000" stroke-width="1.6" stroke-linejoin="round"/>
<path d="M1542.6,1128.1 1546.1,1125.7 1548.4,1126.4 1551.2,1124.4 1554.6,1123.7 1557.8,1122.7 1560.4,1121.1 1564.2,1121.7 1563.9,1118.5 1565.6,1116.1" fill="none" stroke="#000" stroke-width="1.4" stroke-linejoin="round"/>
<path d="M1624.4,753.2 1620.4,752.1 1617.1,753.9 1614.9,750.7 1616.5,748.9 1614.1,745.2 1616.3,743.0 1613.1,741.8 1616.6,740.1 1619.8,738.6 1621.9,736.2 1625.4,735.0 1625.9,732.6 1628.6,731.2 1630.9,730.1 1630.7,726.2 1633.7,724.5 1632.3,720.2 1633.8,717.1" fill="none" stroke="#000" stroke-width="1.8" stroke-linejoin="round"/>
<path d="M1633.5,715.3 1631.0,714.9 1629.3,717.3 1625.6,717.0 1623.3,718.3 1618.9,718.6 1615.7,719.1 1613.5,719.7 1610.7,718.1 1606.8,718.4 1609.1,715.7 1613.2,714.1 1615.6,713.2 1619.3,712.5 1623.0,712.0 1626.1,710.1 1627.9,707.2" fill="none" stroke="#000" stroke-width="1.5" stroke-linejoin="round"/>
<path d="M1628.6,610.6 1626.6,608.0 1624.4,606.5 1621.3,604.8 1619.7,603.3 1617.9,599.6 1616.8,597.2 1615.0,595.1 1612.7,592.7 1612.1,591.5 1610.2,588.7 1609.3,585.7 1610.0,581.3 1610.8,584.9 1612.2,587.6 1612.5,590.0 1614.4,590.6 1617.2,593.2 1619.4,592.8 1622.1,595.3 1624.9,595.1 1628.8,597.4 1631.0,597.1 1630.9,599.2 1631.4,602.2 1631.4,605.2" fill="none" stroke="#000" stroke-width="1.2" stroke-linejoin="round"/>
<path d="M1259.6,974.2 1261.0,973.2 1265.3,972.1 1267.1,971.1 1269.0,971.3 1271.6,970.3 1274.7,969.5 1277.7,970.3 1281.4,971.3 1284.1,970.6 1288.7,969.5 1291.3,968.2 1294.8,968.6 1297.2,971.3 1298.4,967.8 1297.5,964.1 1298.2,960.8 1299.1,957.5 1301.5,960.7 1303.5,961.8 1304.8,966.2 1305.7,968.8 1303.9,970.4 1301.4,973.5 1304.5,973.8 1308.3,971.3 1310.6,972.0 1313.2,970.1 1316.1,970.4" fill="none" stroke="#000" stroke-width="1.3" stroke-linejoin="round"/>
<path d="M1385.0,985.5 1389.9,983.9 1394.0,982.9 1396.6,982.4 1398.8,980.9 1401.4,979.2 1404.8,978.1 1407.8,976.3 1410.0,975.5 1412.1,973.3 1415.1,971.8 1418.3,969.3 1419.1,966.6 1422.5,967.3 1424.6,966.4 1428.5,966.5 1430.3,968.6 1432.9,968.4 1435.9,970.7 1436.3,972.9 1439.5,974.1 1440.5,976.3 1443.0,979.0 1444.7,980.9 1446.2,982.3 1447.9,983.4 1450.8,986.4 1453.2,987.6 1455.2,990.2 1457.0,992.0 1459.4,995.7" fill="none" stroke="#000" stroke-width="1.2" stroke-linejoin="round"/>
<path d="M1701.5,497.1 1702.4,492.0 1701.4,489.3 1701.1,485.7 1700.6,483.1 1703.4,483.5 1704.4,487.0 1703.9,489.7 1705.0,491.3 1708.4,491.5 1711.7,488.7 1714.9,484.9 1717.3,482.7 1719.0,480.0 1720.5,478.1" fill="none" stroke="#000" stroke-width="1.3" stroke-linejoin="round"/>
<path d="M1181.9,376.6 1185.0,375.1 1188.0,374.5 1188.9,377.4 1190.7,379.7" fill="none" stroke="#000" stroke-width="2.4" stroke-linejoin="round"/>
<path d="M367.5,303.3 376.5,307.9 383.2,311.8 391.1,315.9 392.2,325.6 392.3,334.2 401.2,339.4 412.1,338.0 422.0,339.6 428.8,345.2 441.4,344.9 454.3,345.3 472.5,344.8 479.8,346.2 485.8,345.1 485.8,345.1 510.8,351.1 535.8,356.9 M556.6,251.9 536.2,341.6 537.5,346.2 535.8,356.9 M535.8,356.9 541.7,367.4 541.0,376.4 535.4,384.4 529.7,392.3 522.8,400.0 517.1,407.9 515.5,414.9 520.6,421.6 516.5,431.7 501.5,496.8 M316.8,447.8 342.5,455.6 368.4,463.0 394.3,470.2 420.3,477.1 446.3,483.8 472.4,490.1 498.6,496.2 524.9,502.0 551.2,507.5 577.6,512.7 604.0,517.7 630.5,522.3 657.1,526.7 M425.1,478.4 398.0,583.5 441.9,650.4 485.6,715.8 514.4,758.7 514.2,764.2 516.7,773.9 523.3,786.3 514.7,792.0 507.4,809.0 500.3,818.6 499.7,829.5 495.6,839.0 M544.6,690.8 539.1,719.3 528.6,720.9 518.4,721.9 517.4,737.2 514.4,758.7 M579.1,513.0 544.6,690.8 M544.6,690.8 573.2,696.1 601.8,701.1 630.4,705.9 659.1,710.3 687.8,714.4 716.6,718.1 745.5,721.6 774.3,724.8 803.2,727.6 832.1,730.2 861.1,732.4 890.0,734.3 919.0,735.9 948.0,737.2 977.1,738.2 1006.1,738.9 1035.1,739.2 1064.1,739.3 1093.2,739.0 M657.1,526.7 651.4,562.4 651.4,562.4 677.9,566.5 704.5,570.4 684.8,713.9 656.6,917.0 M657.1,526.7 671.2,438.4 661.5,434.3 645.1,431.5 626.9,432.0 619.1,417.8 612.3,405.6 608.8,390.3 606.4,382.5 595.6,385.9 595.2,374.9 599.5,359.3 600.7,346.7 593.6,338.0 588.1,327.8 576.3,312.6 573.7,301.1 571.9,292.4 579.5,256.9 M674.1,419.9 699.2,423.8 724.3,427.4 749.4,430.7 774.5,433.8 799.7,436.6 825.0,439.1 850.2,441.4 M862.3,299.1 838.0,585.2 M853.1,407.8 879.7,409.9 906.4,411.7 933.1,413.2 959.8,414.4 986.5,415.3 1013.3,416.0 1040.0,416.3 M844.1,513.2 873.0,515.5 901.9,517.4 930.8,519.0 959.8,520.3 988.7,521.2 1004.3,527.0 1022.6,530.9 1033.0,532.8 1042.2,540.1 M704.5,570.4 731.1,573.9 757.8,577.1 784.5,580.1 811.2,582.8 838.0,585.2 864.8,587.4 891.6,589.2 M891.6,589.2 889.3,625.3 M889.3,625.3 919.9,627.1 950.5,628.5 981.1,629.6 1011.8,630.2 1042.4,630.6 1073.1,630.5 M889.3,625.3 882.6,733.9 M855.4,732.0 854.1,750.1 854.1,750.1 882.6,752.0 911.2,753.7 939.7,755.0 M853.0,750.0 840.3,912.2 840.3,912.2 804.5,909.4 768.7,906.0 732.9,902.2 734.8,910.4 M939.7,755.0 936.8,825.2 945.3,831.4 959.8,839.1 977.4,841.5 992.1,843.6 997.8,851.0 1009.6,851.2 1019.9,856.8 1036.2,854.4 1043.6,858.8 1059.9,853.4 1074.7,851.5 1086.6,856.8 1098.8,860.6 1112.2,863.6 M1093.4,757.1 1099.5,796.9 1098.8,860.6 M1112.2,863.6 1112.6,883.5 1113.4,919.6 1121.0,933.8 1127.4,948.1 1124.9,969.8 1124.7,987.7 1121.0,1002.2 M1093.4,757.1 1092.6,662.9 1084.2,652.2 1084.1,639.5 1073.1,630.5 1060.2,609.6 1057.5,594.4 1055.9,585.3 1051.3,572.7 1048.7,558.2 1043.5,547.3 1042.2,540.1 1039.6,525.7 1042.3,516.6 1038.5,504.0 1042.3,504.0 1042.6,439.2 1032.6,428.4 1040.0,416.3 1039.1,403.4 1034.8,382.6 1033.2,364.0 1029.0,345.1 1026.4,324.8 1024.7,307.0 M1042.3,504.0 1069.4,504.0 1096.6,503.7 1123.7,503.1 1150.7,502.1 1177.8,500.9 M1060.2,609.6 1087.5,609.4 1114.8,608.9 1142.1,608.1 1169.4,607.0 1178.1,613.8 M1093.4,757.1 1125.4,756.5 1157.3,755.5 1189.2,754.1 1221.1,752.3 1223.0,759.4 1215.6,770.8 1235.1,769.5 M1112.6,883.5 1155.5,882.3 1198.4,880.4 M1152.3,387.0 1145.7,389.1 1146.5,409.5 1134.2,421.8 1135.7,428.9 1137.3,437.8 1136.4,450.4 1135.4,457.7 1143.3,464.6 1156.3,469.5 1165.8,481.7 1175.9,488.4 1177.8,500.9 1180.5,517.1 1183.6,527.7 1194.9,536.2 1204.4,546.5 1208.0,560.7 1199.3,572.1 1186.1,574.7 1188.1,587.2 1186.0,598.2 1178.2,605.9 1178.1,613.8 1178.9,630.1 1189.8,647.0 1200.4,662.7 1214.9,665.5 1215.5,675.3 1211.5,687.5 1220.6,698.6 1226.9,701.1 1236.9,711.3 1237.1,722.2 1248.3,732.3 1249.0,741.3 1245.1,747.1 1239.5,749.3 1238.6,756.6 1235.1,769.5 1230.3,784.4 1226.4,801.0 1220.1,806.8 1214.9,818.0 1208.4,832.8 1199.7,847.8 1199.8,865.9 1198.4,880.4 1202.8,894.7 1207.7,903.4 1202.4,916.4 1193.5,933.0 1188.9,953.1 M1188.9,953.1 1246.2,949.9 1244.7,960.8 1250.1,971.3 1254.3,978.9 M1194.9,536.2 1232.1,533.8 1269.4,530.8 M1192.1,389.7 1200.0,397.8 1225.7,402.2 1238.6,407.0 1248.7,407.9 1251.6,413.1 1258.0,414.4 1264.3,428.2 1266.3,437.1 M1279.1,556.8 1286.6,643.8 1285.8,656.6 1289.5,667.2 1283.4,676.8 1278.6,686.3 1277.6,700.9 M1287.5,556.1 1319.3,552.9 1351.0,549.4 1351.2,551.5 1386.7,546.0 M1351.2,551.5 1361.7,645.1 M1470.2,573.4 1468.9,582.5 1468.1,594.7 1466.8,608.5 1454.9,621.4 1450.2,626.9 1446.2,639.2 1435.6,645.2 1436.0,653.5 1430.1,661.0 1426.0,662.3 1419.2,657.8 1413.4,652.0 1404.3,657.2 1393.1,657.6 1380.1,653.8 1370.5,644.0 1361.7,645.1 1361.8,652.4 1362.3,656.7 1353.0,660.7 1347.9,660.2 1342.9,670.9 1339.5,677.9 1333.6,688.3 1324.7,683.8 1318.6,693.5 1311.5,692.4 1303.7,699.3 1290.0,694.4 1277.6,700.9 1276.7,713.7 1267.5,723.6 1263.7,728.2 1252.2,726.6 1248.3,732.3 M1241.9,750.9 1281.0,747.9 1279.8,741.5 1310.3,739.9 1324.6,739.5 1367.3,735.7 1404.7,731.0 1461.2,723.1 1461.5,724.9 1508.8,717.2 1565.1,707.1 1624.7,695.0 M1404.7,731.0 1420.7,719.8 1429.3,709.4 1440.2,701.3 1448.0,690.6 1438.2,688.0 1431.1,678.1 1427.1,669.5 1426.0,662.3 M1448.0,690.6 1457.1,699.9 1469.4,696.1 1479.2,694.6 1489.6,688.5 1495.8,682.7 1501.4,665.2 1507.2,649.5 1510.1,641.6 1522.1,630.3 1532.7,619.1 1536.6,617.3 1537.8,609.0 1550.3,608.4 1553.4,607.1 M1503.6,601.6 1506.6,620.2 1516.9,609.1 1523.5,600.6 1532.5,602.6 1538.7,595.9 1545.6,598.3 1550.7,602.8 1553.4,607.1 1560.1,608.3 1561.2,613.7 1571.7,617.1 1576.1,621.8 1572.9,629.8 1571.6,637.5 1580.1,637.6 1588.0,641.5 1602.2,647.9 M1475.6,606.3 1507.4,600.9 1539.3,595.0 1571.0,588.8 1602.7,582.2 1608.2,576.9 1611.9,577.2 M1602.7,582.2 1614.8,626.6 1632.5,622.7 M1620.0,644.0 1630.4,639.2 M1460.4,514.2 1475.6,606.3 M1480.4,511.9 1482.0,521.6 1482.0,521.6 1510.8,516.4 1539.5,511.0 1568.1,505.2 1596.6,499.0 1603.0,503.2 1607.5,511.4 1618.6,517.8 1613.3,528.7 1610.4,534.1 1610.7,544.1 1617.0,553.8 1626.0,559.2 1618.5,570.2 1611.9,577.2 M1618.6,517.8 1642.4,525.7 M1648.9,524.1 1646.3,521.0 1651.7,516.0 1649.0,512.9 1644.2,486.2 1643.9,460.2 1637.1,430.3 1632.6,430.3 M1644.3,486.5 1687.7,475.7 1698.7,473.9 1699.7,477.7 1708.0,483.0 1709.9,490.0 M1688.0,476.7 1692.9,502.0 M1644.0,460.9 1664.6,455.8 1694.3,449.2 1700.5,442.0 1704.9,440.1 M1664.6,455.8 1661.1,435.5 1660.1,420.9 1662.7,405.3 1668.7,392.6 1668.0,379.8 1668.2,370.4 M1705.5,432.4 1694.5,416.7 1675.6,357.3 M1220.1,806.8 1250.0,804.8 1279.8,802.5 1309.6,799.9 1339.4,797.0 1369.2,793.8 1398.9,790.2 1428.6,786.3 M1393.7,790.9 1400.9,780.8 1414.8,768.1 1425.2,759.4 1438.3,748.4 1451.9,742.1 1461.4,732.2 1461.2,723.4 M1428.6,786.3 1448.1,776.3 1487.3,771.1 1488.0,775.7 1490.9,773.4 1496.3,782.8 1528.6,777.8 1567.5,806.1 M1428.6,786.3 1423.1,798.0 1440.8,808.4 1450.2,821.7 1470.3,836.3 1486.3,852.9 1497.7,867.5 1503.7,881.9 1510.8,882.6 M1356.6,795.2 1377.5,870.3 1385.2,884.7 1383.9,904.9 1387.0,926.3 1390.6,936.7 1396.2,946.9 1477.4,940.9 1482.2,947.9 1483.9,932.3 1500.1,932.1 M1390.6,936.7 1351.0,941.0 1311.3,944.8 1310.9,950.3 1318.5,965.9 1316.1,970.4 M1281.1,802.4 1284.3,805.8 1282.2,900.3 1285.9,947.0 1289.0,973.8" fill="none" stroke="#333" stroke-width="0.9"/>
<path d="M1258.9,914.6 1247.1,919.1 1236.3,925.9 1224.1,929.4 M1258.9,914.6 1277.9,924.3 M1258.9,914.6 1243.4,909.1 1228.2,902.8 M1084.2,967.4 1074.0,972.2 1062.8,974.5 1053.1,980.7 1042.4,984.3 M1084.2,967.4 1076.2,978.8 1067.9,989.9 M1084.2,967.4 1099.6,964.6 1114.4,959.5 M1084.2,967.4 1078.0,956.4 1072.2,945.1 M817.4,658.1 803.5,662.2 788.8,663.5 775.2,668.8 M817.4,658.1 813.5,646.8 811.8,634.9 M817.4,658.1 826.9,669.2 835.0,681.4 844.0,692.9 M817.4,658.1 830.4,653.5 843.2,648.4 M1521.5,487.2 1535.9,494.3 1549.7,502.4 M1521.5,487.2 1512.1,493.1 1501.6,496.9 1491.6,501.8 M1486.4,935.3 1498.8,919.4 M1486.4,935.3 1475.0,940.4 1465.9,949.4 1454.2,954.0 M1486.4,935.3 1471.9,931.9 1458.1,926.0 M1282.6,820.8 1282.5,806.9 1280.4,793.1 1281.3,779.2 M1282.6,820.8 1269.9,819.3 1258.2,814.3 M1282.6,820.8 1291.7,811.6 1298.7,800.8 1307.7,791.6 M1334.9,875.6 1349.6,881.1 1364.2,886.7 M1334.9,875.6 1345.8,866.2 1357.3,857.4 M1334.9,875.6 1320.0,881.6 1304.1,884.6 M1334.9,875.6 1324.0,859.9 M1257.7,510.5 1261.3,523.4 1260.8,536.8 1263.0,549.9 M1257.7,510.5 1251.1,522.7 1247.8,536.1 M1257.7,510.5 1257.4,495.1 1256.8,479.6 M1466.7,572.8 1476.6,553.8 M1466.7,572.8 1465.6,584.4 1460.4,595.1 1459.5,606.8 M1156.1,612.4 1147.2,603.8 1141.0,593.1 M1156.1,612.4 1144.6,620.3 1134.2,629.8 1122.4,637.6 M1156.1,612.4 1169.2,617.6 1182.4,622.3 1195.5,627.2 M1250.6,843.6 1228.8,842.8 M1250.6,843.6 1243.0,852.8 1239.6,864.5 1232.3,874.0 M1250.6,843.6 1252.4,854.9 1255.6,865.9 M1250.6,843.6 1263.3,843.7 1275.9,843.7 M1045.4,382.5 1024.2,383.4 M1045.4,382.5 1058.9,391.2 1073.6,397.9 M1045.4,382.5 1040.7,393.5 1038.9,405.3 M1283.0,565.2 1284.1,578.9 1284.8,592.7 M999.2,940.5 990.7,948.6 982.6,957.0 972.2,962.8 M999.2,940.5 986.6,932.0 975.2,922.1 M999.2,940.5 1013.0,948.8 1024.2,960.4 M509.9,587.5 503.2,598.4 494.4,607.7 487.0,618.1 477.5,626.8 469.1,636.4 461.8,646.8 M509.9,587.5 514.4,577.2 518.6,566.9 522.9,556.6 524.8,545.4 M509.9,587.5 518.8,594.6 530.2,597.4 539.0,604.7 M509.9,587.5 511.2,599.5 512.3,611.5 512.2,623.5 514.9,635.4 513.9,647.6 516.7,659.4 515.4,671.6 M1364.2,886.7 1359.3,897.7 1356.5,909.3 M1263.0,549.9 1259.1,560.2 1256.2,570.9 M967.5,309.6 981.2,310.7 994.9,311.1 1008.6,308.8 M967.5,309.6 948.4,310.7 M1626.0,513.5 1613.9,509.7 1603.1,502.4 1590.6,499.8 1578.8,495.2 M562.8,510.7 549.8,507.0 536.1,506.9 523.0,503.3 M562.8,510.7 565.9,522.5 566.9,534.6 569.2,546.5 570.6,558.6 M1345.9,566.5 1343.9,577.8 1340.1,588.7 1339.2,600.2 1336.0,611.2 M1345.9,566.5 1354.2,580.5 1362.8,594.4 M1084.9,900.9 1076.7,890.7 1065.8,883.2 1057.1,873.5 M1347.2,520.2 1341.2,510.6 1338.3,499.4 1331.8,490.1 M1347.2,520.2 1334.8,515.3 1322.1,511.3 1309.3,507.7 M1347.2,520.2 1350.7,531.9 1355.9,542.9 M999.0,589.6 985.4,598.6 974.3,610.7 M999.0,589.6 999.8,577.6 997.9,565.5 1000.1,553.6 M999.0,589.6 986.1,573.3 M999.0,589.6 1009.8,594.5 1019.7,600.8 1029.0,608.1 M899.7,326.8 911.7,338.0 921.7,351.2 M899.7,326.8 888.3,316.1 880.0,303.0 M899.7,326.8 911.2,319.9 921.6,311.5 M899.7,326.8 913.4,326.9 926.7,329.9 M1248.0,886.1 1259.4,894.4 1272.5,899.8 M1291.9,906.0 1284.4,914.8 1277.9,924.3 M1291.9,906.0 1304.2,920.5 M1291.9,906.0 1299.3,896.1 1304.1,884.6 M1498.8,919.4 1498.0,932.3 1496.8,945.1 1497.5,958.0 1498.6,970.9 M1498.8,919.4 1495.4,906.5 1488.5,895.1 M1498.8,919.4 1498.6,906.1 1502.4,893.2 1502.0,879.9 1504.0,866.8 M965.1,569.8 968.6,583.3 970.0,597.3 974.3,610.7 M965.1,569.8 955.1,563.6 944.2,559.8 933.0,556.7 M965.1,569.8 966.1,558.2 969.3,547.1 974.2,536.6 M965.1,569.8 986.1,573.3 M965.1,569.8 960.0,585.4 952.2,599.9 M1228.8,842.8 1238.0,832.7 1248.1,823.5 1258.2,814.3 M1228.8,842.8 1228.3,831.1 1228.4,819.4 1231.2,807.8 1230.2,796.0 M1228.8,842.8 1220.4,832.4 1213.6,820.9 1206.4,809.7 M1228.8,842.8 1215.1,851.7 1203.0,862.7 M1346.7,760.4 1361.3,766.2 1373.9,775.5 M1346.7,760.4 1344.8,772.2 1345.5,784.0 1344.1,795.8 1346.0,807.7 M1346.7,760.4 1340.0,772.0 1336.4,785.1 1328.4,796.0 M1448.5,733.4 1450.7,719.8 1455.4,707.0 M1448.5,733.4 1469.5,727.9 M1690.5,385.9 1675.0,387.8 1659.3,388.8 M1690.5,385.9 1703.3,382.8 1716.4,382.6 M1690.5,385.9 1696.2,396.3 1703.0,406.1 1708.0,417.0 M1690.5,385.9 1686.6,396.8 1684.4,408.1 1683.3,419.6 M1021.1,536.2 1027.1,545.7 1034.7,554.0 M1021.1,536.2 1016.0,526.1 1007.3,518.3 1002.8,507.9 M1664.3,461.1 1654.4,466.1 1646.4,474.0 1636.5,479.1 M1664.3,461.1 1663.5,446.0 1665.6,431.1 M1643.2,409.6 1636.4,429.9 M1643.2,409.6 1655.4,419.4 1665.6,431.1 M1643.2,409.6 1652.5,400.1 1659.3,388.8 M1643.2,409.6 1636.9,395.8 1629.4,382.5 M1643.2,409.6 1656.6,412.8 1670.0,415.8 1683.3,419.6 M1643.2,409.6 1628.4,409.3 1613.7,411.3 M1247.8,536.1 1237.4,555.4 M1247.8,536.1 1235.4,531.1 1222.1,530.3 M1034.7,554.0 1023.2,555.4 1011.6,553.8 1000.1,553.6 M1034.7,554.0 1029.6,564.1 1027.2,575.0 1024.1,585.8 M1034.7,554.0 1044.6,563.2 1052.3,574.3 1060.4,585.0 M1034.7,554.0 1044.1,545.3 1054.9,538.5 1065.6,531.8 M1034.7,554.0 1047.0,551.6 1059.5,551.8 M1310.3,532.4 1316.3,544.5 1322.1,556.7 1325.4,569.9 M1310.3,532.4 1329.2,534.6 M1310.3,532.4 1310.0,545.4 1306.5,557.8 1303.2,570.2 M953.8,448.4 965.9,449.5 977.9,451.2 989.8,454.1 M953.8,448.4 937.5,445.8 920.9,446.9 M953.8,448.4 966.1,464.9 M953.8,448.4 967.1,443.8 980.6,439.8 993.0,433.1 M953.8,448.4 948.3,438.2 943.2,427.8 M953.8,448.4 957.5,433.8 962.8,419.6 M762.7,796.9 752.0,791.8 740.6,788.7 M762.7,796.9 760.2,786.1 757.9,775.2 758.6,763.9 M762.7,796.9 762.9,809.1 762.4,821.2 762.6,833.3 761.0,845.4 M762.7,796.9 775.8,798.9 789.2,799.7 802.2,802.7 M702.6,763.2 709.1,750.6 716.4,738.4 723.2,726.0 M702.6,763.2 701.0,750.4 694.5,738.9 693.0,726.1 M702.6,763.2 689.8,763.7 677.7,758.7 665.1,758.7 M702.6,763.2 708.7,784.1 M702.6,763.2 713.8,761.2 725.0,765.4 736.2,762.2 747.4,764.5 758.6,763.9 M702.6,763.2 693.9,774.7 682.6,783.7 M1001.3,861.9 1011.5,853.8 1022.2,846.3 1034.1,840.8 M1001.3,861.9 992.6,869.5 984.1,877.2 976.3,885.7 967.2,892.9 M1001.3,861.9 1005.5,850.0 1010.6,838.6 M1001.3,861.9 1001.7,875.8 999.3,889.7 999.3,903.6 M1065.6,797.7 1059.2,782.5 1049.6,769.2 M1065.6,797.7 1077.1,796.5 1088.7,795.7 M1065.6,797.7 1072.7,810.3 1081.1,822.2 M1065.6,797.7 1054.3,803.4 1045.8,813.2 1034.4,818.8 M1065.6,797.7 1060.3,816.0 M1049.6,769.2 1040.3,777.8 1030.3,785.4 M1049.6,769.2 1030.8,761.6 M1034.1,840.8 1049.2,839.4 1064.3,841.0 M1034.1,840.8 1042.7,832.3 1052.2,824.9 1060.3,816.0 M1502.4,477.5 1513.5,471.1 1521.8,460.9 1532.7,454.2 1542.9,446.5 1554.1,440.3 1564.2,432.5 M1502.4,477.5 1497.8,490.0 1491.6,501.8 M1049.4,616.1 1065.1,627.7 M1049.4,616.1 1043.3,626.1 1036.8,635.8 M1049.4,616.1 1059.6,609.8 1069.8,603.3 M1553.2,475.8 1551.4,489.1 1549.7,502.4 M1553.2,475.8 1556.7,465.1 1560.6,454.6 1559.5,442.8 1564.2,432.5 M1553.2,475.8 1565.6,485.9 1578.8,495.2 M946.5,664.5 945.3,683.8 M946.5,664.5 956.8,655.6 967.6,647.3 977.6,638.1 M946.5,664.5 946.2,649.1 947.7,633.9 M946.5,664.5 937.4,671.1 927.1,675.6 918.1,682.4 M1379.7,669.7 1371.4,679.2 1362.7,688.3 1356.2,699.2 M1379.7,669.7 1389.1,675.9 1399.9,678.7 1410.4,682.2 M1379.7,669.7 1374.2,657.4 1366.3,646.5 M1379.7,669.7 1380.0,683.0 1381.6,696.3 M1379.7,669.7 1366.9,671.9 1354.4,675.1 1342.0,679.1 M1380.9,916.1 1370.6,923.7 1359.8,930.7 1350.5,939.6 M1380.9,916.1 1393.6,913.7 1405.1,908.0 M1380.9,916.1 1385.8,927.3 1394.3,936.0 M1380.9,916.1 1375.6,929.8 1372.9,944.3 M1380.9,916.1 1368.8,912.4 1356.5,909.3 M1350.5,939.6 1338.8,939.7 1327.3,941.3 1315.9,943.8 M1350.5,939.6 1362.1,940.3 1372.9,944.3 M1350.5,939.6 1341.3,948.5 1331.1,956.1 M1350.5,939.6 1338.8,935.2 1328.1,928.3 1316.3,924.2 1304.2,920.5 M1350.5,939.6 1358.7,948.2 1364.0,959.2 1372.9,967.2 M1100.0,531.2 1109.6,543.7 1117.0,557.7 M1100.0,531.2 1106.5,520.8 1115.8,512.8 M1100.0,531.2 1113.3,531.7 1126.7,531.0 M1100.0,531.2 1089.7,536.7 1080.9,544.4 M461.8,646.8 451.6,657.0 438.5,663.2 427.7,672.6 M461.8,646.8 450.5,648.3 439.5,651.6 428.1,651.8 M461.8,646.8 461.8,658.2 466.7,668.7 467.4,679.9 M461.8,646.8 453.9,637.4 445.7,628.3 440.1,616.9 430.7,608.8 M461.8,646.8 473.1,650.6 482.8,657.7 493.9,661.9 503.8,668.4 515.4,671.6 M500.0,727.4 514.6,721.2 528.3,713.0 M500.0,727.4 489.0,731.2 478.8,736.5 468.4,741.6 457.9,746.3 449.3,755.0 438.1,758.2 M500.0,727.4 494.2,717.4 485.3,709.5 479.2,699.8 473.2,690.0 467.4,679.9 M500.0,727.4 507.2,741.5 517.5,753.5 M500.0,727.4 488.1,725.3 475.9,725.1 464.4,721.2 452.2,721.0 440.5,717.8 428.6,715.8 M500.0,727.4 492.6,737.5 487.3,748.7 483.0,760.5 475.5,770.5 470.2,781.7 M528.3,713.0 522.8,726.0 519.3,739.5 517.5,753.5 M528.3,713.0 525.4,698.8 519.7,685.4 515.4,671.6 M1186.0,849.0 1178.4,837.9 1169.7,827.6 1163.3,815.6 M1186.0,849.0 1170.2,861.4 M1186.0,849.0 1188.3,835.2 1188.8,821.2 M1186.0,849.0 1174.2,842.9 1161.2,840.0 1149.2,834.3 M1281.3,779.2 1291.0,761.0 M1281.3,779.2 1271.3,770.5 1263.1,760.2 1256.2,749.0 M1281.3,779.2 1272.8,790.4 1267.1,803.4 1258.2,814.3 M1291.0,761.0 1278.7,759.0 1268.4,751.3 1256.2,749.0 M1291.0,761.0 1298.6,742.0 M1291.0,761.0 1302.8,762.2 1314.5,762.2 1326.3,761.6 M1198.2,886.7 1210.0,883.5 1221.2,878.7 1232.3,874.0 M1198.2,886.7 1177.6,890.2 M1198.2,886.7 1188.3,878.9 1179.6,869.8 1170.2,861.4 M1198.2,886.7 1191.8,899.6 1184.0,911.7 M1198.2,886.7 1199.7,874.5 1203.0,862.7 M372.7,608.9 375.2,621.9 371.5,635.1 374.1,648.0 M372.7,608.9 365.5,617.6 361.1,627.8 355.9,637.6 M372.7,608.9 386.8,612.9 400.0,619.3 412.8,626.2 M349.3,535.0 359.8,538.8 370.7,541.4 381.5,543.9 M349.3,535.0 348.2,549.0 346.5,563.0 M349.3,535.0 334.4,532.0 319.1,532.0 M349.3,535.0 345.1,523.9 341.8,512.6 337.8,501.5 M349.3,535.0 358.3,546.9 367.8,558.5 M345.7,587.1 356.6,581.0 368.6,577.5 M345.7,587.1 343.9,600.0 343.2,612.9 M345.7,587.1 347.9,575.1 346.5,563.0 M300.5,517.5 303.7,506.5 305.1,495.0 309.6,484.3 M300.5,517.5 308.8,525.9 319.1,532.0 M300.5,517.5 317.6,505.1 M364.2,517.4 360.4,503.1 359.7,488.3 M1242.9,939.4 1232.7,946.3 1222.6,953.4 1213.7,962.2 1203.6,969.2 M1242.9,939.4 1252.8,948.2 1260.8,958.6 1267.9,969.7 M1175.6,990.6 1157.0,981.7 M1175.6,990.6 1184.8,983.3 1193.7,975.6 1203.6,969.2 M1175.6,990.6 1187.5,994.4 1199.2,999.0 M1175.6,990.6 1163.3,990.5 1151.3,993.3 1139.2,994.5 1127.2,997.5 1114.9,996.8 1102.8,998.8 M1191.0,932.6 1178.5,929.9 1167.2,923.8 1155.2,919.7 M1191.0,932.6 1202.0,931.5 1213.0,929.4 1224.1,929.4 M1191.0,932.6 1180.4,935.6 1170.2,939.9 1159.4,942.5 M1191.0,932.6 1187.7,922.0 1184.0,911.7 M1155.2,919.7 1135.6,919.4 M1155.2,919.7 1162.8,910.0 1169.1,899.3 1177.6,890.2 M1155.2,919.7 1151.2,904.4 1143.9,890.3 M1155.2,919.7 1156.0,931.4 1159.4,942.5 M1135.6,919.4 1129.5,908.2 1119.5,899.8 1113.6,888.5 M1135.6,919.4 1120.4,916.7 1105.4,913.4 M1135.6,919.4 1141.5,905.3 1143.9,890.3 M1135.6,919.4 1135.1,934.2 1135.3,949.0 M501.0,240.2 503.3,251.4 502.8,263.0 504.2,274.4 506.4,285.6 M501.0,240.2 510.9,249.0 522.1,255.9 533.1,263.2 M501.0,240.2 489.3,246.0 479.2,254.3 M414.0,250.1 423.5,257.2 433.8,263.3 443.2,270.6 453.0,277.2 463.2,283.5 M414.0,250.1 406.8,263.5 397.8,275.7 M775.2,668.8 774.0,682.2 774.9,695.7 776.0,709.1 M775.2,668.8 785.8,661.9 792.5,650.7 801.4,642.0 811.8,634.9 M775.2,668.8 762.8,669.1 750.7,666.2 M974.3,610.7 986.5,619.0 997.9,628.3 M974.3,610.7 978.3,598.3 980.6,585.2 986.1,573.3 M974.3,610.7 976.4,624.4 977.6,638.1 M974.3,610.7 963.4,605.0 952.2,599.9 M974.3,610.7 966.5,619.6 958.0,627.8 947.7,633.9 M1532.7,691.3 1519.8,694.4 1506.3,692.3 1493.4,695.7 M933.8,508.1 923.6,497.5 912.3,487.9 M933.8,508.1 941.6,521.5 949.2,535.1 M933.8,508.1 932.6,488.4 M933.8,508.1 954.3,506.0 M649.7,719.5 648.2,730.8 642.3,740.7 639.5,751.6 M649.7,719.5 664.2,721.7 678.6,723.9 693.0,726.1 M649.7,719.5 653.5,733.1 659.0,746.0 665.1,758.7 M649.7,719.5 657.7,709.5 667.1,700.9 675.5,691.3 M649.7,719.5 645.1,706.0 644.4,691.8 M1103.0,451.3 1089.5,447.2 1076.2,442.7 1062.8,438.1 M1103.0,451.3 1096.4,461.1 1087.3,468.7 1079.7,477.6 M1432.4,583.1 1420.3,583.7 1408.5,587.0 M1432.4,583.1 1421.9,595.3 1410.0,606.1 M523.0,503.3 525.5,517.3 524.3,531.4 524.8,545.4 M523.0,503.3 534.8,498.1 544.9,490.2 555.9,483.6 566.7,476.8 M523.0,503.3 529.1,512.8 537.0,521.1 542.5,531.1 549.8,539.7 M1495.2,547.7 1489.5,536.4 1485.7,524.3 M1495.2,547.7 1493.7,560.1 1489.0,571.6 M1495.2,547.7 1503.3,535.1 1512.5,523.3 M1042.4,984.3 1054.7,988.9 1067.9,989.9 M1237.4,555.4 1226.5,557.3 1215.4,558.1 1204.5,559.8 M1144.0,347.4 1155.5,345.1 1167.2,346.1 1178.7,344.0 1190.3,344.4 M1144.0,347.4 1142.3,360.7 1141.0,374.1 1140.3,387.5 M1144.0,347.4 1134.6,355.3 1123.8,361.3 1115.0,370.0 M997.9,628.3 1008.7,646.5 M997.9,628.3 987.6,632.9 977.6,638.1 M1331.8,490.1 1344.1,484.3 1356.7,479.5 M1331.8,490.1 1320.3,498.6 1309.3,507.7 M1331.8,490.1 1342.1,494.5 1353.2,497.1 1362.9,503.0 M1331.8,490.1 1321.1,485.5 1310.6,480.6 1300.5,474.9 M1045.8,708.4 1042.3,697.5 1037.0,687.2 1034.5,676.0 1030.7,665.2 M1045.8,708.4 1052.6,694.3 1059.3,680.1 M1045.8,708.4 1048.9,721.5 1052.7,734.4 1053.7,747.9 M1045.8,708.4 1057.1,711.8 1068.5,715.0 M1045.8,708.4 1032.9,702.1 1019.0,697.9 1006.9,689.9 M1619.6,532.2 1613.2,542.4 1604.1,550.3 M1619.6,532.2 1605.7,529.0 1592.0,524.5 M1082.2,417.6 1073.6,397.9 M943.1,875.0 931.0,873.7 918.9,873.5 906.7,874.7 894.7,872.3 M943.1,875.0 957.3,859.0 M943.1,875.0 956.0,882.9 967.2,892.9 M943.1,875.0 942.6,861.9 942.8,848.8 943.4,835.7 M943.1,875.0 932.6,870.4 924.1,862.9 915.3,856.0 905.8,849.9 896.7,843.4 M1437.1,925.9 1436.8,938.8 1436.3,951.7 1438.2,964.6 M1437.1,925.9 1427.3,932.4 1416.9,937.6 M1437.1,925.9 1429.1,907.1 M1437.1,925.9 1450.2,916.5 1463.8,907.8 M1437.1,925.9 1458.1,926.0 M1396.1,567.9 1402.1,577.6 1408.5,587.0 M1396.1,567.9 1390.4,556.0 1381.3,546.5 M1405.1,908.0 1401.7,922.8 1394.3,936.0 M1405.1,908.0 1408.6,896.6 1415.0,886.5 M1405.1,908.0 1400.4,894.2 1398.3,879.6 1391.9,866.4 M1405.1,908.0 1412.9,922.0 1416.9,937.6 M1405.1,908.0 1417.2,909.6 1429.1,907.1 M350.8,420.4 347.9,434.8 342.0,448.2 336.4,461.7 M350.8,420.4 359.0,408.0 366.0,394.7 M1394.3,936.0 1383.8,940.7 1372.9,944.3 M1394.3,936.0 1393.5,947.6 1396.3,959.1 1394.1,970.7 1395.1,982.3 M868.7,741.1 875.3,730.7 884.8,722.7 892.6,713.3 M868.7,741.1 849.6,751.7 M868.7,741.1 868.0,754.8 865.8,768.2 M868.7,741.1 879.4,747.1 888.7,755.1 898.3,762.6 M868.7,741.1 887.1,734.1 M868.7,741.1 867.6,729.4 867.9,717.6 868.1,705.7 867.0,694.0 M868.7,741.1 863.0,728.9 855.9,717.3 848.5,705.8 844.0,692.9 M868.7,741.1 855.9,736.3 843.4,730.7 831.6,723.3 818.3,719.6 M1623.0,578.2 1617.1,568.7 1612.1,558.5 1604.1,550.3 M1431.2,810.1 1433.1,823.4 1434.6,836.7 M1431.2,810.1 1419.0,814.1 1406.1,813.3 1393.7,816.0 M1431.2,810.1 1439.4,818.0 1450.4,822.1 1458.5,830.1 1467.7,836.8 M1431.2,810.1 1440.7,798.9 1451.4,788.7 M1384.1,730.1 1392.9,739.9 1403.2,748.0 1412.5,757.1 M1384.1,730.1 1392.9,719.7 1404.5,712.1 1412.7,701.2 M1232.3,874.0 1243.5,868.5 1255.6,865.9 M1232.3,874.0 1229.1,888.2 1228.2,902.8 M1392.8,790.4 1406.1,785.9 1418.6,779.5 M1392.8,790.4 1384.6,781.4 1373.9,775.5 M1392.8,790.4 1379.9,798.0 1366.8,805.4 M1392.8,790.4 1400.7,780.1 1407.3,769.0 1412.5,757.1 M1418.6,779.5 1414.3,768.7 1412.5,757.1 M1418.6,779.5 1429.0,784.7 1439.9,787.7 1451.4,788.7 M1723.3,354.9 1711.8,358.5 1700.1,361.3 1688.7,365.2 M1723.3,354.9 1717.9,368.3 1716.4,382.6 M1723.3,354.9 1736.7,361.7 1750.4,367.9 M1723.3,354.9 1736.8,337.7 M1636.4,429.9 1650.9,432.5 1665.6,431.1 M1636.4,429.9 1633.5,442.5 1625.0,452.8 1621.8,465.2 M1636.4,429.9 1621.4,436.6 1606.4,443.0 M1703.5,473.0 1697.5,459.3 1688.2,447.8 M1703.5,473.0 1706.4,461.9 1705.0,450.6 1704.0,439.2 1708.9,428.3 1708.0,417.0 M1039.7,441.7 1028.0,438.3 1015.8,439.2 M1039.7,441.7 1051.1,438.9 1062.8,438.1 M1039.7,441.7 1039.4,429.6 1039.1,417.4 1038.9,405.3 M1383.5,523.8 1392.0,535.4 1403.3,544.1 M980.6,506.4 980.9,493.0 983.3,480.0 986.5,467.0 989.8,454.1 M980.6,506.4 992.2,499.7 1004.2,493.6 1014.5,484.7 M980.6,506.4 976.4,521.3 974.2,536.6 M980.6,506.4 975.3,492.8 970.5,478.9 966.1,464.9 M980.6,506.4 991.6,508.1 1002.8,507.9 M1015.8,439.2 1002.3,445.9 989.8,454.1 M1015.8,439.2 1015.8,450.6 1016.6,462.0 1015.3,473.3 1014.5,484.7 M1015.8,439.2 1003.9,438.0 993.0,433.1 M1015.8,439.2 1022.3,427.1 1030.8,416.3 1038.9,405.3 M989.8,454.1 998.4,464.0 1006.5,474.2 1014.5,484.7 M989.8,454.1 993.0,433.1 M1443.4,559.0 1449.9,545.5 1458.9,533.6 M1443.4,559.0 1422.2,555.1 M544.3,727.9 555.2,719.0 563.2,707.3 573.3,697.6 M544.3,727.9 548.3,740.9 546.9,754.8 552.3,767.6 553.5,781.1 M544.3,727.9 556.3,729.2 567.8,733.0 579.8,734.7 591.4,737.9 M544.3,727.9 535.8,736.9 526.5,745.1 517.5,753.5 M1567.6,461.6 1580.4,462.1 1593.3,462.0 M1567.6,461.6 1567.0,446.9 1564.2,432.5 M1206.2,672.3 1194.4,676.3 1182.1,678.9 1170.4,683.4 M1206.2,672.3 1225.6,670.9 M1206.2,672.3 1209.5,683.7 1209.6,695.5 1210.5,707.1 M1206.2,672.3 1215.1,660.6 1226.4,651.2 1236.8,641.0 M1259.9,656.2 1272.7,662.0 1283.5,671.1 M1259.9,656.2 1265.4,667.4 1270.8,678.6 1274.1,690.7 M1259.9,656.2 1274.6,652.9 1289.6,652.1 M1259.9,656.2 1249.1,647.4 1236.8,641.0 M1170.4,683.4 1159.5,689.3 1150.5,697.8 M1170.4,683.4 1173.5,671.4 1179.8,660.9 1185.4,650.1 M1170.4,683.4 1160.1,679.1 1151.7,671.1 1142.0,665.7 1131.2,662.2 M1170.4,683.4 1189.0,691.2 M1305.6,598.6 1303.6,609.6 1306.0,620.7 1305.2,631.7 M1305.6,598.6 1284.8,592.7 M1305.6,598.6 1321.3,603.8 1336.0,611.2 M1372.9,944.3 1373.8,955.8 1372.9,967.2 M1007.7,816.8 996.3,824.1 985.2,831.8 973.3,838.2 M1007.7,816.8 992.8,813.0 978.9,806.4 M972.6,753.8 974.5,768.9 975.2,784.1 M972.6,753.8 977.4,743.6 983.6,734.2 990.3,725.1 994.3,714.5 M972.6,753.8 961.4,748.8 951.1,742.3 M972.6,753.8 959.7,759.9 945.8,762.7 M913.2,719.2 892.6,713.3 M913.2,719.2 922.3,712.4 931.9,706.4 M913.2,719.2 908.1,729.4 905.4,740.4 M1221.9,984.3 1233.7,979.6 1244.9,973.6 M1221.9,984.3 1225.9,996.4 1233.3,1006.7 M1221.9,984.3 1209.9,990.7 1199.2,999.0 M539.8,660.8 551.0,662.1 562.1,664.2 573.5,663.7 584.6,666.5 M539.8,660.8 541.1,672.7 543.4,684.6 543.3,696.6 M539.8,660.8 527.8,666.8 515.4,671.6 M539.8,660.8 551.1,658.4 561.8,654.5 572.6,650.9 582.8,645.3 M618.3,676.5 618.8,665.3 621.3,654.3 M618.3,676.5 616.7,691.4 616.9,706.4 M618.3,676.5 631.6,683.8 644.4,691.8 M584.6,666.5 596.2,660.6 609.2,658.9 621.3,654.3 M584.6,666.5 580.1,676.6 577.7,687.5 573.3,697.6 M584.6,666.5 582.8,645.3 M584.6,666.5 592.9,657.2 601.7,648.3 609.7,638.7 M1163.3,815.6 1176.1,818.0 1188.8,821.2 M1163.3,815.6 1143.9,805.3 M1300.9,826.9 1304.3,815.3 1303.6,803.0 1307.7,791.6 M1300.9,826.9 1320.0,820.5 M1300.9,826.9 1309.8,837.0 1315.8,849.2 1324.0,859.9 M1325.4,740.5 1316.6,731.2 1305.1,725.2 1296.7,715.5 M1256.2,749.0 1246.8,736.3 1235.8,725.0 M1256.2,749.0 1250.7,759.5 1243.6,769.0 M1256.2,749.0 1255.8,760.2 1259.0,771.2 1258.7,782.4 M1256.2,749.0 1258.8,729.3 M1158.5,732.9 1162.1,744.1 1161.7,756.0 1164.6,767.3 M1158.5,732.9 1148.2,738.3 1141.6,748.4 1130.3,752.5 1122.2,760.8 M1158.5,732.9 1156.6,721.1 1152.5,709.7 1150.5,697.8 M1158.5,732.9 1169.8,732.2 1181.1,730.0 1192.4,729.2 1203.8,730.6 M1674.0,524.4 1668.4,514.2 1665.9,502.5 1658.9,492.9 M973.3,838.2 966.6,829.4 959.1,821.3 951.1,813.8 M973.3,838.2 977.1,822.5 978.9,806.4 M973.3,838.2 958.2,838.4 943.4,835.7 M973.3,838.2 985.7,840.3 998.2,838.7 1010.6,838.6 M320.6,562.7 319.2,578.8 321.2,594.8 M320.6,562.7 333.5,564.2 346.5,563.0 M320.6,562.7 317.9,547.5 319.1,532.0 M320.6,562.7 311.4,553.8 300.8,546.6 M975.2,784.1 985.4,775.3 994.2,764.9 1005.3,757.0 1015.6,748.3 M975.2,784.1 979.2,794.9 978.9,806.4 M975.2,784.1 960.9,784.6 946.9,787.8 M975.2,784.1 986.0,788.1 995.9,794.1 M975.2,784.1 964.1,778.7 955.5,769.9 945.8,762.7 M359.7,488.3 367.2,478.9 373.5,468.7 M359.7,488.3 349.4,495.9 337.8,501.5 M359.7,488.3 368.4,496.9 379.0,502.8 M1224.1,929.4 1220.2,940.0 1214.6,949.7 1208.3,959.0 1203.6,969.2 M1224.1,929.4 1228.0,916.4 1228.2,902.8 M416.7,286.0 419.7,297.4 426.4,307.2 M416.7,286.0 407.3,292.8 396.1,295.9 M790.4,389.7 779.0,392.2 768.1,396.6 756.3,396.9 745.3,400.6 733.6,401.5 722.4,404.3 M790.4,389.7 800.8,399.5 808.7,411.4 817.2,422.7 M790.4,389.7 789.1,400.9 789.1,412.4 783.7,423.0 783.4,434.4 780.2,445.4 780.3,456.8 M790.4,389.7 790.0,376.8 786.7,364.1 787.1,351.1 M790.4,389.7 809.2,386.1 M790.4,389.7 778.1,388.4 766.5,384.7 754.9,381.1 743.6,376.7 M464.7,327.7 451.5,336.8 441.0,348.9 M464.7,327.7 463.8,316.7 463.3,305.6 462.7,294.5 463.2,283.5 M464.7,327.7 465.1,343.8 463.8,359.8 M464.7,327.7 470.9,317.1 477.0,306.5 484.2,296.5 M464.7,327.7 484.7,335.1 M553.2,280.6 562.4,272.9 571.7,265.2 M553.2,280.6 546.1,290.4 541.0,301.4 533.5,311.0 M651.0,516.7 640.4,528.5 627.9,538.3 M651.0,516.7 659.3,526.5 668.9,535.0 M651.0,516.7 650.3,528.8 653.5,540.6 653.4,552.7 M651.0,516.7 642.2,506.2 633.3,495.9 622.4,487.5 M723.2,726.0 708.1,727.1 693.0,726.1 M723.2,726.0 715.9,717.5 707.6,710.3 698.0,704.6 M723.2,726.0 730.8,736.6 742.2,743.8 749.9,754.3 758.6,763.9 M723.2,726.0 724.2,711.8 723.8,697.8 721.1,683.9 M901.3,553.2 893.0,539.7 885.2,525.8 M901.3,553.2 887.6,552.7 874.1,549.8 M800.8,675.4 804.8,688.9 807.3,702.7 M800.8,675.4 793.4,687.2 785.6,698.8 776.0,709.1 M800.8,675.4 812.0,678.9 823.2,682.1 832.9,689.3 844.0,692.9 M720.6,653.4 732.0,649.1 743.6,645.1 755.3,641.6 M720.6,653.4 708.8,653.6 697.5,649.4 685.5,650.9 674.0,648.2 M720.6,653.4 736.2,658.6 750.7,666.2 M720.6,653.4 727.8,641.1 733.2,627.9 M720.6,653.4 720.9,668.6 721.1,683.9 M1337.7,834.6 1349.5,830.7 1361.7,830.3 1373.8,829.0 M1337.7,834.6 1330.2,825.8 1320.0,820.5 M1337.7,834.6 1332.4,848.1 1324.0,859.9 M1276.7,870.5 1276.8,857.1 1275.9,843.7 M1276.7,870.5 1274.4,885.1 1272.5,899.8 M857.8,372.9 846.8,374.4 835.6,372.1 824.8,375.0 M857.8,372.9 861.6,387.3 869.2,400.2 M857.8,372.9 871.7,377.8 886.3,379.6 M857.8,372.9 856.3,358.7 854.9,344.6 M772.3,613.3 766.8,602.8 757.6,594.8 752.4,584.2 746.0,574.3 M772.3,613.3 781.7,619.5 792.6,622.9 801.1,631.0 811.8,634.9 M772.3,613.3 767.4,623.2 760.4,631.9 755.3,641.6 M772.3,613.3 763.7,605.0 752.6,600.5 743.0,593.8 M772.3,613.3 776.5,601.5 784.7,592.0 790.1,580.9 795.7,569.9 M772.3,613.3 759.7,619.5 746.1,622.8 733.2,627.9 M1133.7,448.8 1136.6,461.3 1144.2,471.8 1146.2,484.7 1152.7,495.7 M1133.7,448.8 1132.4,460.8 1135.0,472.8 1132.3,484.8 1133.3,496.8 M1133.7,448.8 1126.9,439.6 1122.7,429.0 M1425.6,628.4 1417.1,636.7 1406.4,642.2 1397.2,649.7 M1425.6,628.4 1434.3,635.7 1444.7,640.2 M961.7,1021.7 973.4,1024.2 984.3,1029.0 995.2,1033.8 M961.7,1021.7 957.7,1034.0 952.2,1045.8 M961.7,1021.7 961.9,1006.3 958.2,991.5 M961.7,1021.7 976.9,1007.9 M1454.2,954.0 1465.2,958.5 1476.1,963.1 1487.6,966.3 1498.6,970.9 M1454.2,954.0 1438.2,964.6 M1454.2,954.0 1454.3,966.0 1455.0,978.0 M1454.2,954.0 1456.7,940.1 1458.1,926.0 M745.0,727.8 748.5,740.2 752.3,752.6 758.6,763.9 M1258.2,814.3 1263.0,824.8 1271.9,832.8 1275.9,843.7 M1258.2,814.3 1259.4,798.4 1258.7,782.4 M985.0,1118.7 978.4,1108.0 971.5,1097.4 966.3,1085.9 M985.0,1118.7 997.8,1123.6 1010.3,1129.0 M985.0,1118.7 984.9,1105.1 985.9,1091.5 M1035.7,1028.0 1047.0,1029.0 1058.3,1029.0 M1035.7,1028.0 1026.6,1035.2 1019.9,1044.7 1012.1,1053.1 M1035.7,1028.0 1014.2,1024.8 M483.7,492.7 472.5,493.2 461.4,494.3 450.3,493.3 439.2,494.3 428.1,493.9 416.9,492.7 405.8,492.7 M483.7,492.7 480.2,480.0 475.2,467.7 473.0,454.6 467.3,442.6 465.7,429.3 M483.7,492.7 491.5,484.3 500.2,476.7 509.5,469.9 516.4,460.5 525.6,453.6 534.4,446.2 M483.7,492.7 473.0,487.3 460.7,486.8 450.0,481.3 439.3,476.0 427.7,473.4 416.3,470.1 M483.7,492.7 489.9,481.8 493.8,469.7 501.9,459.8 508.3,449.0 512.1,436.9 518.0,425.8 M483.7,492.7 493.4,487.3 503.4,482.6 513.1,477.3 524.1,474.6 534.4,470.5 543.6,464.2 M483.7,492.7 479.1,505.2 476.6,518.4 472.4,531.1 M1047.3,459.8 1055.0,448.9 1062.8,438.1 M1047.3,459.8 1033.1,475.0 M1047.3,459.8 1049.2,473.1 1046.4,486.4 1048.3,499.7 M1047.3,459.8 1057.5,466.7 1069.6,470.4 1079.7,477.6 M1474.8,804.9 1485.0,785.7 M1474.8,804.9 1463.4,796.4 1451.4,788.7 M1498.6,970.9 1509.3,978.3 1520.7,984.9 M1498.6,970.9 1496.8,986.1 1499.3,1001.1 M1476.6,553.8 1482.4,539.5 1485.7,524.3 M682.0,419.3 671.0,414.2 660.7,407.8 M682.0,419.3 690.6,412.2 696.3,402.3 705.1,395.4 M682.0,419.3 695.6,414.8 709.0,409.5 722.4,404.3 M682.0,419.3 678.5,407.6 671.8,397.4 666.3,386.7 M682.0,419.3 674.7,430.2 663.6,437.7 656.2,448.4 649.3,459.7 639.6,468.4 M682.0,419.3 678.7,432.0 676.6,444.8 676.5,457.9 674.2,470.7 M1373.9,775.5 1373.9,759.7 1369.8,744.5 M1373.9,775.5 1371.9,790.8 1366.8,805.4 M1369.8,744.5 1381.0,746.0 1390.9,751.6 1402.4,751.9 1412.5,757.1 M1369.8,744.5 1358.7,738.4 1349.4,729.7 1338.6,723.1 M1369.8,744.5 1366.6,732.8 1362.7,721.3 M1665.6,431.1 1654.5,443.2 1643.3,455.1 M1665.6,431.1 1683.3,419.6 M1002.2,407.4 1014.1,396.2 1024.2,383.4 M1002.2,407.4 1003.8,393.7 1004.3,379.9 M1002.2,407.4 989.1,411.4 976.6,417.6 962.8,419.6 M876.5,887.4 865.4,887.3 854.3,888.8 M876.5,887.4 885.6,879.8 894.7,872.3 M876.5,887.4 877.6,870.9 881.4,854.8 M876.5,887.4 890.9,889.6 905.4,891.3 M876.5,887.4 882.5,897.2 887.3,907.7 M1057.1,873.5 1061.0,863.0 1062.7,852.0 1064.3,841.0 M1177.6,890.2 1172.9,876.1 1170.2,861.4 M1177.6,890.2 1166.3,892.0 1155.1,888.3 1143.9,890.3 M1177.6,890.2 1182.0,900.6 1184.0,911.7 M1497.4,593.9 1507.4,582.6 1517.7,571.7 M1119.5,739.9 1108.0,736.6 1096.5,733.5 M1119.5,739.9 1123.5,728.0 1128.7,716.6 M1296.7,715.5 1276.7,717.9 M1296.7,715.5 1296.0,728.8 1298.6,742.0 M1296.7,715.5 1289.2,707.1 1282.5,698.2 1274.1,690.7 M1296.7,715.5 1310.5,718.6 1324.4,721.7 1338.6,723.1 M1296.7,715.5 1301.9,704.9 1304.0,693.5 1306.1,682.0 M1267.0,611.1 1253.1,606.5 1238.9,603.0 1226.0,596.0 M1267.0,611.1 1278.9,619.5 1293.5,622.9 1305.2,631.7 M1534.6,1070.9 1523.4,1082.2 1514.6,1095.3 M1534.6,1070.9 1545.6,1072.3 1556.0,1076.2 1566.7,1078.8 M1534.6,1070.9 1541.2,1061.4 1545.6,1050.6 1551.9,1040.9 M1488.5,895.1 1497.4,881.6 1504.0,866.8 M1488.5,895.1 1477.1,903.3 1463.8,907.8 M1459.9,855.5 1448.1,844.9 1434.6,836.7 M1459.9,855.5 1450.8,862.4 1442.9,870.6 1436.4,880.1 M1459.9,855.5 1470.8,852.8 1481.8,851.1 1492.9,850.2 M1459.9,855.5 1467.7,836.8 M1459.9,855.5 1467.3,865.0 1472.2,876.0 M892.6,713.3 906.8,700.1 M892.6,713.3 892.6,697.5 894.1,681.8 M892.6,713.3 887.1,734.1 M951.1,813.8 965.3,811.3 978.9,806.4 M951.1,813.8 950.0,800.6 946.9,787.8 M1307.7,791.6 1312.7,806.5 1320.0,820.5 M1088.7,795.7 1085.8,809.2 1081.1,822.2 M1088.7,795.7 1102.7,794.7 1116.6,792.6 M1088.7,795.7 1098.4,785.9 1106.6,774.9 M1088.7,795.7 1083.5,784.5 1075.7,775.0 1068.9,764.8 M1230.2,796.0 1235.1,781.7 1243.6,769.0 M1230.2,796.0 1217.7,801.8 1206.4,809.7 M1230.2,796.0 1218.8,787.2 1208.3,777.3 M381.5,543.9 394.3,552.6 407.3,561.0 M381.5,543.9 367.8,558.5 M374.1,648.0 385.6,663.6 M374.1,648.0 384.6,644.0 393.1,636.6 402.1,629.9 412.8,626.2 M427.7,672.6 421.0,681.4 414.4,690.5 404.8,696.9 398.3,706.0 392.2,715.4 M427.7,672.6 440.9,675.4 454.6,675.4 467.4,679.9 M427.7,672.6 413.9,668.6 399.8,666.0 385.6,663.6 M427.7,672.6 430.0,686.9 430.5,701.3 428.6,715.8 M1282.4,425.3 1296.3,424.9 1310.2,426.2 1324.0,423.8 M1282.4,425.3 1265.3,436.2 M1277.9,924.3 1290.8,920.4 1304.2,920.5 M1331.1,956.1 1321.5,963.7 1311.3,970.5 M1331.1,956.1 1345.4,958.3 1359.1,963.2 1372.9,967.2 M1292.1,964.5 1280.5,969.1 1267.9,969.7 M995.2,1033.8 996.4,1021.4 999.9,1009.4 1002.0,997.1 M995.2,1033.8 993.9,1046.8 992.8,1059.8 989.3,1072.5 M995.2,1033.8 984.2,1035.8 973.6,1039.4 962.8,1042.4 952.2,1045.8 M995.2,1033.8 1003.1,1043.9 1012.1,1053.1 M995.2,1033.8 987.3,1020.0 976.9,1007.9 M995.2,1033.8 1014.2,1024.8 M382.9,343.6 388.8,330.0 392.5,315.7 M382.9,343.6 389.4,353.5 396.6,362.9 403.7,372.4 408.7,383.4 416.9,392.1 M382.9,343.6 373.2,338.2 363.3,333.2 M382.8,445.2 395.1,451.9 405.9,460.7 416.3,470.1 M382.8,445.2 369.1,447.1 355.5,445.3 M506.4,285.6 508.1,297.5 509.4,309.5 M506.4,285.6 516.5,279.7 525.2,271.9 533.1,263.2 M506.4,285.6 516.8,292.6 524.4,302.6 533.5,311.0 M506.4,285.6 496.1,276.3 486.9,265.9 479.2,254.3 M858.5,834.4 850.2,844.3 844.0,855.5 837.3,866.4 M858.5,834.4 871.2,843.2 881.4,854.8 M858.5,834.4 872.2,829.8 884.6,822.3 M858.5,834.4 847.1,834.4 835.8,834.2 M884.3,621.4 870.8,616.1 856.3,614.3 842.6,609.8 M884.3,621.4 890.5,607.0 899.8,594.5 M884.3,621.4 890.6,635.2 897.4,648.7 M854.3,888.8 836.1,895.4 M854.3,888.8 860.5,902.4 866.1,916.1 M609.5,353.0 624.4,359.3 639.9,363.6 M609.5,353.0 619.4,347.4 625.9,337.7 635.7,331.8 644.3,324.7 M609.5,353.0 609.6,340.4 613.8,328.5 615.5,316.1 M609.5,353.0 601.2,340.3 594.5,326.6 M609.5,353.0 597.0,352.0 584.5,352.9 572.1,355.0 559.6,354.0 M1611.7,598.8 1600.3,598.6 1588.9,599.7 M509.4,309.5 497.3,302.1 484.2,296.5 M509.4,309.5 519.5,319.9 526.4,332.8 536.5,343.3 M441.0,348.9 420.9,340.3 M441.0,348.9 436.7,338.7 434.3,327.8 428.5,318.2 426.4,307.2 M441.0,348.9 451.6,356.0 463.8,359.8 M441.0,348.9 434.9,359.6 430.0,371.0 422.4,381.0 416.9,392.1 M906.8,700.1 898.8,692.1 894.1,681.8 M906.8,700.1 919.0,704.5 931.9,706.4 M336.4,461.7 349.1,462.5 361.3,465.2 373.5,468.7 M336.4,461.7 328.6,470.5 318.0,476.1 309.6,484.3 M336.4,461.7 338.1,474.9 337.9,488.2 337.8,501.5 M336.4,461.7 336.6,449.0 334.8,436.6 334.4,424.0 330.8,411.6 331.8,398.9 M638.3,579.3 649.6,585.3 662.1,587.9 674.0,592.4 M638.3,579.3 635.7,565.4 630.6,552.2 627.9,538.3 M638.3,579.3 644.6,565.3 653.4,552.7 M638.3,579.3 643.1,590.5 645.7,602.5 651.5,613.3 M638.3,579.3 626.2,575.4 614.5,570.5 M1164.6,767.3 1179.6,782.6 M1552.1,752.7 1557.5,765.9 1561.6,779.5 M1552.1,752.7 1539.9,749.3 1528.1,745.1 M1552.1,752.7 1563.8,758.3 1576.1,762.1 M1552.1,752.7 1546.3,765.5 1537.8,776.8 M639.9,363.6 642.5,350.8 644.2,337.8 644.3,324.7 M639.9,363.6 641.1,380.0 645.9,395.8 M639.9,363.6 649.2,370.8 656.4,380.2 666.3,386.7 M639.9,363.6 660.4,359.2 M621.3,654.3 633.8,654.3 646.1,656.3 M621.3,654.3 609.7,638.7 M1409.1,737.4 1410.8,725.4 1410.9,713.2 1412.7,701.2 M1409.1,737.4 1417.8,729.1 1426.0,720.4 1435.2,712.7 M1515.8,772.1 1517.8,786.4 1515.9,800.7 M1515.8,772.1 1526.4,776.4 1537.8,776.8 M1023.7,714.8 1020.9,725.9 1020.4,737.6 1015.6,748.3 M1023.7,714.8 1030.8,723.5 1039.5,730.6 1047.1,738.8 1053.7,747.9 M1023.7,714.8 1014.2,703.1 1006.9,689.9 M1356.7,479.5 1345.4,474.3 1335.8,466.3 1324.5,461.0 M1356.7,479.5 1362.4,468.7 1367.7,457.7 1375.5,448.4 M1356.7,479.5 1356.2,458.4 M1172.3,404.2 1185.1,406.3 1197.5,411.1 1210.6,411.6 M1172.3,404.2 1169.7,391.8 1169.8,379.0 1166.3,366.8 M1172.3,404.2 1162.5,397.1 1151.1,392.9 1140.3,387.5 M1172.3,404.2 1174.7,416.9 1179.7,428.8 M1303.3,450.7 1310.4,441.9 1317.5,433.0 1324.0,423.8 M1303.3,450.7 1301.7,462.8 1300.5,474.9 M1303.3,450.7 1290.0,447.5 1277.5,442.1 1265.3,436.2 M1113.6,888.5 1108.4,900.5 1105.4,913.4 M1113.6,888.5 1128.8,888.2 1143.9,890.3 M1113.6,888.5 1117.4,872.5 1123.4,857.2 M1309.3,507.7 1316.5,516.2 1321.6,526.3 1329.2,534.6 M1309.3,507.7 1305.9,496.9 1305.4,485.3 1300.5,474.9 M1369.7,614.4 1362.8,594.4 M1369.7,614.4 1369.5,630.6 1366.3,646.5 M1369.7,614.4 1386.1,604.5 M1504.0,866.8 1492.9,850.2 M1504.0,866.8 1493.2,869.2 1482.3,871.2 1472.2,876.0 M1030.7,665.2 1032.1,650.1 1036.8,635.8 M1225.6,670.9 1232.2,681.7 1239.0,692.4 1243.4,704.4 M1225.6,670.9 1232.8,656.6 1236.8,641.0 M1235.1,618.5 1222.0,621.9 1208.6,623.7 1195.5,627.2 M1170.2,861.4 1186.6,863.6 1203.0,862.7 M1226.0,596.0 1216.0,590.3 1205.5,585.6 1194.8,581.5 M1226.0,596.0 1219.9,583.3 1213.1,571.0 1204.5,559.8 M1226.0,596.0 1216.7,607.3 1204.7,615.8 1195.5,627.2 M1015.3,352.2 1002.2,353.4 989.6,357.1 977.1,361.0 M1015.3,352.2 1020.2,367.7 1024.2,383.4 M1015.3,352.2 1026.8,348.3 1038.9,348.3 M1015.3,352.2 1004.8,347.2 994.5,341.8 983.7,337.6 M1015.3,352.2 1016.7,339.8 1021.0,328.1 M355.9,637.6 351.8,649.5 348.2,661.6 341.7,672.6 M1086.5,754.4 1098.3,757.3 1110.2,759.0 1122.2,760.8 M1086.5,754.4 1075.3,753.7 1064.5,750.7 1053.7,747.9 M1086.5,754.4 1081.6,740.8 1076.0,727.5 1068.5,715.0 M1086.5,754.4 1095.3,765.9 1106.6,774.9 M1086.5,754.4 1068.9,764.8 M1086.5,754.4 1090.7,743.6 1096.5,733.5 M1058.3,1029.0 1049.7,1018.6 1043.9,1006.4 M1058.3,1029.0 1069.9,1022.2 1080.5,1013.9 1092.1,1006.9 1102.8,998.8 M1157.0,981.7 1144.7,977.5 1132.0,975.3 M1157.0,981.7 1159.5,968.7 1156.6,955.4 1159.4,942.5 M1157.0,981.7 1174.3,969.6 M1157.0,981.7 1146.0,984.5 1135.7,989.7 1124.2,991.2 1113.4,994.7 1102.8,998.8 M1154.6,446.4 1153.4,458.7 1155.6,471.1 1152.5,483.3 1152.7,495.7 M1154.6,446.4 1169.2,446.1 1183.6,443.3 1198.1,442.1 M1024.5,995.3 1013.2,996.0 1002.0,997.1 M1024.5,995.3 1013.7,988.6 1002.8,982.0 993.2,973.6 M644.3,324.7 654.0,311.5 664.2,298.6 M644.3,324.7 637.1,316.2 632.1,305.8 625.1,297.1 616.7,289.5 M644.3,324.7 656.6,325.1 668.6,327.7 680.4,330.9 M714.3,311.6 726.1,309.9 737.1,305.6 748.3,302.0 M714.3,311.6 722.6,323.1 728.8,335.8 M842.6,609.8 851.3,602.5 860.6,596.1 870.9,591.4 880.7,585.7 M842.6,609.8 831.8,606.3 820.6,604.2 M842.6,609.8 844.5,622.7 841.3,635.6 843.2,648.4 M1242.9,450.3 1228.1,438.2 M1242.9,450.3 1254.1,443.2 1265.3,436.2 M1242.9,450.3 1232.6,467.4 M1163.9,520.2 1178.3,524.6 1193.2,526.1 M1163.9,520.2 1176.8,516.5 1189.7,512.5 1202.1,507.4 M1163.9,520.2 1157.3,529.3 1148.6,536.3 M1163.9,520.2 1142.4,517.9 M1106.9,580.7 1118.2,585.0 1129.7,588.7 1141.0,593.1 M1106.9,580.7 1094.5,575.3 1082.7,568.8 M1106.9,580.7 1113.9,570.0 1117.0,557.7 M1106.9,580.7 1106.9,594.1 1110.6,607.0 M1438.2,964.6 1455.0,978.0 M687.7,568.5 693.1,581.0 702.4,591.3 707.8,603.9 M687.7,568.5 682.3,581.3 674.0,592.4 M687.7,568.5 681.1,557.5 674.5,546.5 668.9,535.0 M687.7,568.5 676.9,561.9 664.5,558.7 653.4,552.7 M687.7,568.5 696.8,558.1 707.0,549.0 M626.5,619.7 615.0,614.8 602.6,613.6 M626.5,619.7 632.3,632.3 640.8,643.5 646.1,656.3 M626.5,619.7 638.6,614.9 651.5,613.3 M626.5,619.7 619.1,630.0 609.7,638.7 M832.4,327.9 830.9,315.3 828.6,302.8 M832.4,327.9 820.9,325.9 810.1,321.0 798.3,320.8 M832.4,327.9 844.8,327.9 857.2,328.2 869.6,328.9 M832.4,327.9 842.5,337.8 854.9,344.6 M1403.3,544.1 1422.2,555.1 M1107.9,979.6 1119.7,975.8 1132.0,975.3 M977.1,361.0 984.9,369.1 996.5,371.8 1004.3,379.9 M977.1,361.0 967.7,367.8 956.7,371.7 946.2,376.6 936.9,383.5 M977.1,361.0 981.8,349.7 983.7,337.6 M977.1,361.0 966.9,355.9 958.5,348.2 M1393.7,816.0 1383.6,822.3 1373.8,829.0 M1393.7,816.0 1380.9,809.1 1366.8,805.4 M1393.7,816.0 1404.8,822.3 1417.3,825.0 M933.3,604.7 935.4,592.6 935.2,580.7 931.6,568.7 933.0,556.7 M933.3,604.7 922.6,599.6 910.8,598.3 899.8,594.5 M933.3,604.7 952.2,599.9 M933.3,604.7 939.8,619.6 947.7,633.9 M1436.4,880.1 1425.5,882.9 1415.0,886.5 M1436.4,880.1 1431.2,893.2 1429.1,907.1 M1436.4,880.1 1444.1,890.8 1453.1,900.1 1463.8,907.8 M1478.0,643.9 1471.3,631.8 1465.1,619.4 1459.5,606.8 M1478.0,643.9 1482.7,629.2 1486.7,614.5 M1478.0,643.9 1466.2,651.9 1453.9,659.2 M1478.0,643.9 1487.8,637.5 1498.5,633.0 M1478.0,643.9 1467.2,640.5 1456.0,640.0 1444.7,640.2 M945.3,683.8 937.7,694.5 931.9,706.4 M945.3,683.8 959.7,687.1 974.3,689.4 M748.3,302.0 759.8,301.0 771.2,304.1 782.7,303.1 794.2,304.2 805.7,300.5 817.1,303.2 828.6,302.8 M748.3,302.0 743.5,314.2 735.5,324.6 728.8,335.8 M1030.0,892.2 1027.3,905.3 1020.8,917.0 M1030.0,892.2 1036.6,905.4 1041.9,919.2 M516.7,776.6 527.5,783.9 537.4,792.6 549.5,798.0 560.3,805.3 M516.7,776.6 516.3,765.0 517.5,753.5 M1152.7,495.7 1164.6,500.8 1177.2,502.5 1189.7,504.8 1202.1,507.4 M1152.7,495.7 1133.3,496.8 M1152.7,495.7 1147.9,506.9 1142.4,517.9 M1373.8,829.0 1381.4,837.3 1392.8,840.4 1400.4,848.7 M1346.0,807.7 1366.8,805.4 M1346.0,807.7 1328.4,796.0 M1621.8,465.2 1633.1,461.5 1643.3,455.1 M1621.8,465.2 1614.4,453.9 1606.4,443.0 M1141.0,593.1 1155.3,587.3 1169.7,581.8 M1141.0,593.1 1142.4,580.2 1140.8,567.2 M1105.4,913.4 1109.6,924.5 1110.7,936.3 1113.5,947.7 1114.4,959.5 M1105.4,913.4 1101.7,925.0 1098.4,936.8 1092.2,947.5 M1459.5,606.8 1453.2,617.3 1448.7,628.6 1444.7,640.2 M1459.5,606.8 1448.6,603.5 1437.3,604.1 M1486.7,614.5 1498.5,633.0 M1439.1,686.5 1424.9,683.3 1410.4,682.2 M1439.1,686.5 1455.0,683.5 1470.2,678.1 M1439.1,686.5 1446.8,673.0 1453.9,659.2 M1439.1,686.5 1433.4,676.7 1428.1,666.6 1421.5,657.3 M1439.1,686.5 1426.0,694.0 1412.7,701.2 M1439.1,686.5 1435.9,699.4 1435.2,712.7 M1305.2,631.7 1316.5,626.5 1326.0,618.5 1336.0,611.2 M1305.2,631.7 1317.9,638.3 1331.6,642.6 M1305.2,631.7 1311.0,645.8 1318.1,659.3 M1305.2,631.7 1291.6,629.2 1277.8,628.5 1264.0,630.0 M1305.2,631.7 1297.0,641.6 1289.6,652.1 M1408.5,587.0 1393.4,584.3 1379.6,577.7 M1408.5,587.0 1410.0,606.1 M1122.2,760.8 1133.0,770.8 1145.6,778.5 1156.6,788.2 M1122.2,760.8 1117.4,776.3 1116.6,792.6 M1188.8,821.2 1186.1,808.3 1182.7,795.5 1179.6,782.6 M1188.8,821.2 1206.4,809.7 M1207.1,756.6 1196.7,763.9 1188.5,773.6 1179.6,782.6 M1207.1,756.6 1216.1,748.4 1226.4,741.9 M1207.1,756.6 1219.2,761.0 1231.0,766.1 1243.6,769.0 M1207.1,756.6 1205.8,743.5 1203.8,730.6 M1015.6,748.3 1007.4,737.7 1000.6,726.2 994.3,714.5 M1087.8,851.0 1076.7,844.5 1064.3,841.0 M1087.8,851.0 1080.7,862.9 1076.7,876.2 M1087.8,851.0 1100.0,851.2 1111.3,856.4 1123.4,857.2 M639.5,751.6 652.3,755.0 665.1,758.7 M639.5,751.6 632.2,764.3 626.6,777.8 M639.5,751.6 626.2,744.9 613.9,736.5 M1183.3,382.4 1190.9,393.4 1201.8,401.5 1210.6,411.6 M1183.3,382.4 1187.1,370.0 1188.1,357.1 1190.3,344.4 M420.9,340.3 422.7,329.3 423.9,318.1 426.4,307.2 M420.9,340.3 412.7,330.7 402.1,323.7 392.5,315.7 M522.6,377.6 514.8,367.8 509.0,356.9 503.4,345.9 M522.6,377.6 527.5,366.2 532.1,354.8 536.5,343.3 M522.6,377.6 532.1,383.8 538.0,394.0 547.4,400.3 M522.6,377.6 534.6,369.1 547.0,361.5 559.6,354.0 M407.3,561.0 393.7,564.9 381.0,570.8 368.6,577.5 M407.3,561.0 421.5,574.5 M407.3,561.0 406.3,573.2 404.6,585.2 M407.3,561.0 394.1,561.1 380.9,560.6 367.8,558.5 M695.3,296.2 699.3,307.8 704.7,319.0 707.7,331.0 M695.3,296.2 689.5,307.4 686.0,319.6 680.4,330.9 M820.7,351.7 824.4,363.1 824.8,375.0 M820.7,351.7 809.5,350.0 798.3,351.6 787.1,351.1 M820.7,351.7 831.8,347.4 843.5,346.6 854.9,344.6 M707.8,603.9 696.4,600.5 685.0,596.9 674.0,592.4 M707.8,603.9 716.4,595.2 726.4,588.4 736.3,581.4 746.0,574.3 M707.8,603.9 719.3,599.7 730.9,595.7 743.0,593.8 M707.8,603.9 699.7,611.7 694.6,621.8 689.2,631.7 681.2,639.6 674.0,648.2 M707.8,603.9 717.0,611.1 724.9,619.8 733.2,627.9 M707.8,603.9 706.6,590.2 709.5,576.4 706.6,562.7 707.0,549.0 M807.3,702.7 791.3,703.9 776.0,709.1 M807.3,702.7 819.5,699.4 831.9,696.7 844.0,692.9 M1000.1,553.6 986.4,546.2 974.2,536.6 M1000.1,553.6 1008.2,564.3 1015.7,575.3 1024.1,585.8 M1000.1,553.6 992.6,563.1 986.1,573.3 M1000.1,553.6 1001.1,542.2 999.9,530.6 1001.4,519.3 1002.8,507.9 M1561.6,779.5 1556.8,799.3 M1284.8,592.7 1293.0,580.6 1303.2,570.2 M1528.2,837.4 1514.9,832.7 1501.5,828.6 1489.1,821.5 M1528.2,837.4 1530.2,817.6 M1528.2,837.4 1548.5,829.3 M1002.0,997.1 999.4,984.7 993.2,973.6 M763.4,882.5 751.6,889.6 741.8,899.3 729.9,906.2 M763.4,882.5 774.4,884.4 784.3,889.7 795.1,892.3 805.0,897.2 M763.4,882.5 752.1,881.0 741.1,877.8 729.6,878.1 718.4,876.5 M763.4,882.5 756.6,895.0 752.6,908.8 745.3,921.2 M763.4,882.5 760.5,870.3 761.7,857.7 761.0,845.4 M1515.9,800.7 1524.3,808.1 1530.2,817.6 M1415.0,886.5 1422.4,896.5 1429.1,907.1 M1059.3,680.1 1066.6,669.6 1068.8,656.4 1076.5,646.1 M1340.4,444.5 1332.2,452.5 1324.5,461.0 M1340.4,444.5 1356.2,458.4 M426.4,307.2 438.7,299.5 450.7,291.1 463.2,283.5 M426.4,307.2 414.7,308.6 403.6,312.2 392.5,315.7 M1128.0,689.5 1114.9,673.9 M367.4,312.0 382.1,304.7 396.1,295.9 M367.4,312.0 369.7,300.8 371.9,289.6 376.5,279.1 M367.4,312.0 380.2,312.2 392.5,315.7 M367.4,312.0 367.0,300.3 369.0,288.8 371.1,277.3 372.5,265.8 374.9,254.3 376.0,242.7 M1692.7,340.3 1691.0,352.8 1688.7,365.2 M1692.7,340.3 1697.9,329.5 1706.3,320.9 1714.7,312.3 1721.2,302.4 1725.4,290.9 1733.6,282.2 M1692.7,340.3 1703.9,334.1 1714.8,327.4 1724.1,318.2 1735.0,311.6 1746.8,306.2 M894.7,872.3 881.4,854.8 M894.7,872.3 896.2,857.9 896.7,843.4 M894.7,872.3 905.4,891.3 M1143.9,890.3 1147.8,875.3 1150.0,859.9 M1379.6,577.7 1381.8,591.4 1386.1,604.5 M472.5,400.9 468.0,387.5 465.5,373.8 463.8,359.8 M472.5,400.9 483.7,400.0 494.2,396.1 504.7,392.6 M1556.8,799.3 1543.3,808.2 1530.2,817.6 M1556.8,799.3 1552.3,814.2 1548.5,829.3 M1556.8,799.3 1569.3,791.8 1583.4,787.6 M1556.8,799.3 1547.0,788.3 1537.8,776.8 M894.1,681.8 895.4,670.8 895.2,659.6 897.4,648.7 M894.1,681.8 880.8,688.5 867.0,694.0 M894.1,681.8 903.5,674.7 913.2,668.1 921.2,659.5 M894.1,681.8 906.1,682.7 918.1,682.4 M1320.0,820.5 1320.3,833.7 1324.4,846.6 1324.0,859.9 M1320.0,820.5 1323.1,807.9 1328.4,796.0 M1276.7,717.9 1286.2,731.3 1298.6,742.0 M1276.7,717.9 1276.4,704.2 1274.1,690.7 M1276.7,717.9 1265.8,712.9 1253.8,710.6 1243.4,704.4 M1024.2,383.4 1004.3,379.9 M1024.2,383.4 1029.6,371.9 1034.2,360.1 1038.9,348.3 M993.2,973.6 983.7,966.3 972.2,962.8 M993.2,973.6 981.3,979.1 970.7,987.1 958.2,991.5 M993.2,973.6 987.0,984.7 983.1,996.9 976.9,1007.9 M993.2,973.6 1002.8,967.5 1013.2,963.3 1024.2,960.4 M1132.0,975.3 1124.2,966.2 1114.4,959.5 M1132.0,975.3 1122.2,983.0 1112.4,990.8 1102.8,998.8 M1020.8,917.0 1041.9,919.2 M1020.8,917.0 1023.3,931.3 1022.0,946.0 1024.2,960.4 M729.9,906.2 722.7,891.9 718.4,876.5 M912.0,1029.8 923.6,1034.6 933.2,1042.8 M912.0,1029.8 925.2,1025.9 936.7,1018.2 M660.7,407.8 645.9,395.8 M660.7,407.8 666.3,386.7 M660.7,407.8 655.6,419.6 651.4,431.8 646.8,443.7 642.0,455.7 639.6,468.4 M707.7,331.0 728.8,335.8 M707.7,331.0 694.0,328.8 680.4,330.9 M707.7,331.0 708.1,345.1 709.4,359.0 711.6,372.9 M693.0,726.1 686.6,714.8 682.1,702.5 675.5,691.3 M693.0,726.1 696.1,715.5 698.0,704.6 M912.3,487.9 893.3,480.9 M912.3,487.9 914.1,474.0 920.2,461.0 920.9,446.9 M1528.1,745.1 1526.5,729.2 1527.4,713.2 M1528.1,745.1 1531.6,755.6 1535.3,766.0 1537.8,776.8 M957.3,859.0 962.6,869.7 965.1,881.3 967.2,892.9 M366.0,394.7 354.6,385.9 341.1,380.6 M366.0,394.7 365.9,381.7 366.6,368.8 M366.0,394.7 354.3,394.1 343.2,397.0 331.8,398.9 M366.0,394.7 378.7,394.3 391.3,391.6 404.3,394.5 416.9,392.1 M419.5,430.7 431.0,430.3 442.6,431.2 454.2,431.9 465.7,429.3 M419.5,430.7 420.8,417.7 416.6,405.1 416.9,392.1 M1213.8,482.2 1200.2,476.6 1185.8,473.4 M1213.8,482.2 1215.9,467.5 1214.9,452.7 M571.7,265.2 587.0,264.7 602.1,262.8 M865.6,463.7 859.9,476.6 855.0,489.7 850.4,503.0 M865.6,463.7 880.0,471.4 893.3,480.9 M865.6,463.7 856.7,454.6 847.3,446.1 835.7,440.2 827.2,430.6 817.2,422.7 M865.6,463.7 878.5,458.7 889.8,450.9 901.6,443.9 M865.6,463.7 852.4,471.7 839.9,480.8 M543.3,696.6 558.3,697.0 573.3,697.6 M543.3,696.6 532.7,689.8 523.3,681.5 515.4,671.6 M1593.3,462.0 1582.9,452.8 1572.6,443.6 1564.2,432.5 M1593.3,462.0 1601.5,453.7 1606.4,443.0 M1659.3,388.8 1670.4,382.5 1679.3,373.6 1688.7,365.2 M1659.3,388.8 1644.2,386.3 1629.4,382.5 M1659.3,388.8 1667.9,398.6 1676.1,408.7 1683.3,419.6 M1081.1,822.2 1074.1,832.8 1064.3,841.0 M1081.1,822.2 1094.8,817.6 1109.2,815.7 M1081.1,822.2 1060.3,816.0 M1356.2,699.2 1368.9,697.9 1381.6,696.3 M1489.1,821.5 1488.8,809.5 1484.6,797.9 1485.0,785.7 M933.0,556.7 941.0,545.8 949.2,535.1 M972.2,962.8 974.1,949.3 976.0,935.8 975.2,922.1 M972.2,962.8 962.7,954.7 952.3,948.0 M972.2,962.8 966.4,977.8 958.2,991.5 M972.2,962.8 960.9,966.1 949.5,969.4 937.9,971.5 M705.1,395.4 698.0,386.5 690.6,377.8 686.0,367.2 M705.1,395.4 692.2,392.2 679.6,387.9 666.3,386.7 M705.1,395.4 706.5,383.6 711.6,372.9 M341.1,380.6 354.3,375.6 366.6,368.8 M341.1,380.6 348.7,360.3 M341.1,380.6 331.8,398.9 M722.4,404.3 721.5,417.7 721.6,431.1 722.6,444.6 M722.4,404.3 728.8,415.0 735.5,425.4 738.4,438.0 746.3,447.8 M722.4,404.3 729.6,395.2 737.6,386.7 743.6,376.7 M850.4,503.0 861.7,498.7 872.2,492.6 883.0,487.3 893.3,480.9 M850.4,503.0 862.0,510.6 873.4,518.5 885.2,525.8 M850.4,503.0 845.2,491.9 839.9,480.8 M1455.4,707.0 1462.0,692.2 1470.2,678.1 M1455.4,707.0 1469.6,711.2 1484.4,713.4 M1455.4,707.0 1435.2,712.7 M893.3,480.9 901.5,468.7 911.2,457.8 920.9,446.9 M893.3,480.9 889.5,491.8 890.4,503.6 889.0,514.9 885.2,525.8 M893.3,480.9 900.8,495.7 905.3,511.6 M893.3,480.9 897.5,468.9 900.0,456.5 901.6,443.9 M704.3,671.3 693.6,676.4 684.5,683.8 675.5,691.3 M704.3,671.3 695.0,662.5 684.3,655.6 674.0,648.2 M533.5,311.0 534.5,327.2 536.5,343.3 M1193.2,526.1 1202.1,507.4 M1193.2,526.1 1186.8,535.9 1178.3,544.2 1172.3,554.3 M1193.2,526.1 1207.9,526.8 1222.1,530.3 M674.0,592.4 675.3,603.5 673.8,614.7 673.5,625.8 672.8,637.0 674.0,648.2 M674.0,592.4 664.0,604.1 651.5,613.3 M1429.1,907.1 1440.6,909.1 1452.2,908.1 1463.8,907.8 M1388.4,488.1 1382.8,475.3 1379.0,461.9 1375.5,448.4 M1304.1,884.6 1317.4,887.1 1330.1,892.0 1343.4,894.7 M975.2,922.1 966.9,930.2 960.6,940.0 952.3,948.0 M975.2,922.1 963.1,924.8 950.7,924.1 M975.2,922.1 986.9,912.5 999.3,903.6 M1126.5,827.9 1109.2,815.7 M1126.5,827.9 1138.1,830.2 1149.2,834.3 M1126.5,827.9 1135.4,816.7 1143.9,805.3 M1116.6,792.6 1106.6,774.9 M1116.6,792.6 1113.1,804.2 1109.2,815.7 M1116.6,792.6 1129.7,800.1 1143.9,805.3 M1549.7,502.4 1552.8,513.4 1559.5,523.1 1561.4,534.5 M615.5,316.1 604.7,320.7 594.5,326.6 M615.5,316.1 617.1,302.9 616.7,289.5 M615.5,316.1 607.3,304.6 598.3,293.6 587.3,284.6 M645.9,395.8 655.8,390.6 666.3,386.7 M645.9,395.8 631.7,396.7 618.4,402.4 604.2,403.3 M686.0,367.2 677.5,378.3 666.3,386.7 M686.0,367.2 686.3,354.7 683.7,342.7 680.4,330.9 M686.0,367.2 673.2,363.3 660.4,359.2 M686.0,367.2 698.8,369.9 711.6,372.9 M664.2,298.6 654.8,290.9 644.1,285.7 632.1,282.5 623.1,274.1 611.8,269.8 602.1,262.8 M664.2,298.6 652.2,296.7 640.8,292.5 628.3,293.5 616.7,289.5 M664.2,298.6 669.1,309.6 675.5,319.9 680.4,330.9 M1629.8,730.5 1618.7,725.1 1609.0,717.6 M1629.8,730.5 1621.3,739.3 1612.9,748.4 1608.2,760.3 1599.9,769.4 1592.4,779.1 1583.4,787.6 M1064.3,841.0 1067.0,853.2 1070.8,865.1 1076.7,876.2 M1064.3,841.0 1063.4,828.3 1060.3,816.0 M836.3,579.5 844.8,567.3 852.7,554.7 M836.3,579.5 828.6,568.9 822.5,557.4 817.9,545.1 M836.3,579.5 828.7,592.1 820.6,604.2 M836.3,579.5 823.0,575.2 809.6,571.6 795.7,569.9 M1335.0,401.4 1346.8,408.9 1358.2,416.7 1368.0,426.7 M1335.0,401.4 1330.4,413.1 1324.0,423.8 M1335.0,401.4 1347.5,399.0 1359.1,394.1 M920.9,446.9 901.6,443.9 M920.9,446.9 933.3,438.9 943.2,427.8 M920.9,446.9 931.5,459.5 944.4,469.8 M665.1,758.7 651.3,763.2 638.8,770.2 626.6,777.8 M665.1,758.7 673.2,771.6 682.6,783.7 M978.9,806.4 968.6,799.6 957.9,793.4 946.9,787.8 M1231.5,511.9 1238.8,500.3 1249.4,491.2 1256.8,479.6 M1231.5,511.9 1222.1,530.3 M1231.5,511.9 1232.4,500.8 1233.2,489.7 1231.4,478.5 1232.6,467.4 M1492.9,850.2 1480.1,843.8 1467.7,836.8 M1492.9,850.2 1485.5,858.4 1480.3,868.3 1472.2,876.0 M602.1,262.8 610.0,275.8 616.7,289.5 M602.1,262.8 596.0,274.5 587.3,284.6 M1688.7,365.2 1703.4,372.5 1716.4,382.6 M1256.8,479.6 1271.6,480.2 1285.9,476.0 1300.5,474.9 M1014.5,484.7 1033.1,475.0 M1014.5,484.7 1026.0,489.1 1037.5,493.7 1048.3,499.7 M1014.5,484.7 1010.0,497.0 1002.8,507.9 M1485.7,524.3 1499.1,523.4 1512.5,523.3 M1485.7,524.3 1486.6,512.5 1491.6,501.8 M1485.7,524.3 1472.6,529.9 1458.9,533.6 M931.9,706.4 925.7,694.0 918.1,682.4 M463.2,283.5 467.6,273.2 475.2,264.8 479.2,254.3 M824.8,375.0 829.0,386.9 835.7,397.5 840.7,408.9 M824.8,375.0 809.2,386.1 M974.2,536.6 976.9,549.3 981.0,561.4 986.1,573.3 M974.2,536.6 961.8,534.3 949.2,535.1 M974.2,536.6 983.0,526.3 993.2,517.4 1002.8,507.9 M974.2,536.6 966.8,526.9 962.3,515.3 954.3,506.0 M1202.1,507.4 1197.0,496.0 1191.7,484.5 1185.8,473.4 M1202.1,507.4 1213.1,518.1 1222.1,530.3 M946.9,787.8 940.6,802.0 931.5,814.6 M946.9,787.8 944.9,775.3 945.8,762.7 M1024.1,585.8 1036.2,586.4 1048.3,583.5 1060.4,585.0 M1008.6,308.8 1021.7,310.5 1034.8,311.6 1048.1,311.1 1061.2,312.3 M840.7,408.9 852.0,417.0 865.0,421.7 M840.7,408.9 829.9,417.4 817.2,422.7 M840.7,408.9 854.7,403.8 869.2,400.2 M840.7,408.9 830.7,400.7 820.2,393.0 809.2,386.1 M1485.0,785.7 1470.8,770.9 M1485.0,785.7 1473.9,788.0 1462.7,788.7 1451.4,788.7 M865.0,421.7 853.0,421.1 841.1,423.4 829.1,420.9 817.2,422.7 M865.0,421.7 869.2,400.2 M865.0,421.7 876.9,429.7 890.4,434.9 901.6,443.9 M865.0,421.7 875.4,412.9 888.0,407.8 M1410.4,682.2 1407.7,670.7 1401.9,660.4 1397.2,649.7 M1114.9,673.9 1106.8,682.4 1100.3,692.2 M1114.9,673.9 1111.2,662.3 1105.7,651.4 1101.1,640.0 M1114.9,673.9 1099.8,672.8 1084.7,672.8 M992.2,675.2 997.8,665.8 1001.4,655.1 1008.7,646.5 M992.2,675.2 989.0,662.2 984.4,649.8 977.6,638.1 M994.3,714.5 982.7,720.2 973.0,728.9 962.7,736.6 951.1,742.3 M994.3,714.5 998.7,701.2 1006.9,689.9 M1255.6,865.9 1265.1,854.2 1275.9,843.7 M828.6,302.8 818.4,308.7 808.9,315.6 798.3,320.8 M828.6,302.8 850.1,305.5 M594.5,326.6 591.8,312.7 589.3,298.7 587.3,284.6 M594.5,326.6 584.8,332.2 577.4,340.7 568.1,346.9 559.6,354.0 M666.3,386.7 663.2,373.0 660.4,359.2 M728.8,335.8 723.2,348.2 716.0,359.9 711.6,372.9 M728.8,335.8 738.6,329.9 748.8,324.6 759.1,319.5 767.7,311.7 M728.8,335.8 734.8,349.0 737.9,363.3 743.6,376.7 M463.8,359.8 474.9,356.4 486.5,356.6 M463.8,359.8 455.4,367.8 444.9,372.5 435.6,379.2 426.2,385.5 416.9,392.1 M746.0,574.3 743.0,593.8 M746.0,574.3 750.1,560.4 757.2,547.7 M885.2,525.8 894.3,517.4 905.3,511.6 M885.2,525.8 880.8,538.4 874.1,549.8 M885.2,525.8 872.5,524.4 859.5,525.5 847.0,521.3 834.1,521.2 M1621.7,701.2 1610.5,702.6 1600.7,708.4 1590.1,711.5 M1621.7,701.2 1610.7,690.9 1603.0,678.0 M373.5,468.7 363.3,457.9 355.5,445.3 M373.5,468.7 373.7,480.4 377.7,491.4 379.0,502.8 M1395.1,982.3 1383.1,976.1 1372.9,967.2 M405.8,492.7 409.4,480.6 416.3,470.1 M405.8,492.7 392.1,497.0 379.0,502.8 M943.1,903.2 955.9,899.8 967.2,892.9 M943.1,903.2 948.6,913.0 950.7,924.1 M943.1,903.2 937.3,913.0 931.3,922.6 922.7,930.4 916.7,940.1 M993.0,433.1 983.5,427.4 973.8,422.1 962.8,419.6 M1116.9,482.6 1104.8,478.8 1092.1,479.2 1079.7,477.6 M1116.9,482.6 1108.1,492.4 1097.2,499.7 1086.5,507.2 M1116.9,482.6 1117.8,497.8 1115.8,512.8 M309.6,484.3 318.2,491.3 329.0,494.7 337.8,501.5 M309.6,484.3 314.9,494.2 317.6,505.1 M1073.6,397.9 1086.2,396.1 1098.7,393.2 1111.5,393.8 M1073.6,397.9 1072.1,411.9 1064.5,424.2 1062.8,438.1 M1073.6,397.9 1076.1,385.4 1077.8,372.7 1080.0,360.0 M1073.6,397.9 1069.3,384.2 1062.9,371.2 1059.5,357.2 M1034.4,818.8 1047.4,818.2 1060.3,816.0 M916.4,632.7 911.7,619.6 904.9,607.4 899.8,594.5 M916.4,632.7 932.1,631.4 947.7,633.9 M916.4,632.7 917.8,646.3 921.2,659.5 M1082.7,568.8 1071.1,576.3 1060.4,585.0 M1082.7,568.8 1077.5,580.0 1072.4,591.2 1069.8,603.3 M1082.7,568.8 1083.4,556.5 1080.9,544.4 M740.6,788.7 724.8,785.1 708.7,784.1 M740.6,788.7 749.3,776.1 758.6,763.9 M740.6,788.7 736.2,801.7 726.1,811.8 721.5,824.7 M663.9,501.8 673.7,507.4 684.8,509.6 M663.9,501.8 664.8,513.0 666.8,524.0 668.9,535.0 M663.9,501.8 654.9,491.3 646.1,480.7 639.6,468.4 M663.9,501.8 650.0,497.3 635.7,493.9 622.4,487.5 M874.1,549.8 852.7,554.7 M874.1,549.8 876.5,561.8 878.3,573.8 880.7,585.7 M1336.0,611.2 1334.0,597.1 1328.3,583.9 1325.4,569.9 M1228.1,438.2 1220.6,424.0 1210.6,411.6 M1228.1,438.2 1212.8,438.3 1198.1,442.1 M1111.5,393.8 1104.1,384.9 1096.3,376.4 1089.0,367.4 1080.0,360.0 M1111.5,393.8 1125.5,388.6 1140.3,387.5 M1111.5,393.8 1114.3,382.1 1115.0,370.0 M1111.5,393.8 1122.3,402.6 1134.3,409.6 1144.8,418.8 M1150.5,697.8 1145.2,685.3 1139.1,673.3 1131.2,662.2 M1283.5,671.1 1274.1,690.7 M1283.5,671.1 1294.0,678.3 1306.1,682.0 M1283.5,671.1 1289.6,652.1 M420.6,779.4 428.3,767.9 438.1,758.2 M420.6,779.4 411.4,771.1 401.4,763.6 M420.6,779.4 424.2,793.8 423.8,808.6 M989.3,1072.5 979.3,1066.9 971.1,1058.6 961.1,1052.9 952.2,1045.8 M989.3,1072.5 1000.4,1062.5 1012.1,1053.1 M1148.6,536.3 1137.7,542.9 1126.8,549.6 1117.0,557.7 M1148.6,536.3 1142.4,517.9 M1148.6,536.3 1143.2,551.4 1140.8,567.2 M1148.6,536.3 1137.3,534.9 1126.7,531.0 M776.0,709.1 768.5,699.1 764.1,687.2 756.0,677.5 750.7,666.2 M776.0,709.1 790.5,711.3 804.6,714.5 818.3,719.6 M503.4,345.9 486.5,356.6 M503.4,345.9 484.7,335.1 M888.2,798.8 898.3,782.0 M888.2,798.8 868.2,797.1 M888.2,798.8 899.2,802.4 910.3,805.5 921.0,809.8 931.5,814.6 M888.2,798.8 886.9,810.6 884.6,822.3 M1463.8,907.8 1465.9,891.3 1472.2,876.0 M1397.2,649.7 1381.6,649.7 1366.3,646.5 M1397.2,649.7 1409.4,653.4 1421.5,657.3 M1397.2,649.7 1398.5,636.6 1397.8,623.4 M1117.0,557.7 1128.7,562.9 1140.8,567.2 M1117.0,557.7 1121.5,544.2 1126.7,531.0 M1117.0,557.7 1105.5,551.9 1092.9,548.8 1080.9,544.4 M949.2,535.1 953.8,520.9 954.3,506.0 M607.9,459.5 623.5,464.8 639.6,468.4 M607.9,459.5 600.8,448.0 595.7,435.7 591.8,422.8 M607.9,459.5 607.9,448.2 607.1,437.0 605.5,425.8 604.3,414.6 604.2,403.3 M607.9,459.5 595.4,458.6 582.8,458.4 M811.8,634.9 800.3,634.9 789.1,637.0 777.6,636.8 766.7,641.5 755.3,641.6 M811.8,634.9 814.3,619.0 820.6,604.2 M1514.6,1095.3 1509.0,1082.3 1503.6,1069.3 M1514.6,1095.3 1507.4,1084.7 1497.8,1076.1 1492.6,1064.0 1483.3,1055.1 M1514.6,1095.3 1529.8,1096.8 1544.4,1101.1 M1368.0,426.7 1364.6,437.4 1362.1,448.5 1356.2,458.4 M1368.0,426.7 1365.6,415.7 1361.1,405.2 1359.1,394.1 M438.1,758.2 440.5,770.8 442.5,783.4 M438.1,758.2 425.6,758.5 413.8,762.7 401.4,763.6 M438.1,758.2 428.5,745.4 419.1,732.4 M438.1,758.2 447.9,767.2 459.0,774.5 470.2,781.7 M1564.2,432.5 1578.2,436.2 1592.4,439.4 1606.4,443.0 M1210.6,411.6 1224.2,410.5 1237.6,413.5 1251.2,412.5 M1210.6,411.6 1204.6,426.9 1198.1,442.1 M1210.6,411.6 1200.2,417.2 1190.6,424.1 1179.7,428.8 M1244.9,973.6 1256.1,969.6 1267.9,969.7 M1244.9,973.6 1240.1,984.3 1239.0,996.3 1233.3,1006.7 M755.3,641.6 752.1,653.8 750.7,666.2 M755.3,641.6 743.3,636.3 733.2,627.9 M1688.2,447.8 1684.4,433.9 1683.3,419.6 M1590.1,711.5 1575.7,708.9 1562.6,702.5 M1590.1,711.5 1609.0,717.6 M1590.1,711.5 1585.4,698.4 1580.2,685.6 1572.4,674.0 M1590.1,711.5 1578.9,715.0 1569.4,721.9 1559.3,727.6 M1590.1,711.5 1588.0,723.8 1588.7,736.2 M1325.4,569.9 1327.3,558.2 1327.9,546.4 1329.2,534.6 M1325.4,569.9 1314.3,568.8 1303.2,570.2 M800.6,878.1 811.5,885.8 825.0,888.1 836.1,895.4 M800.6,878.1 812.8,874.1 824.7,869.4 837.3,866.4 M800.6,878.1 804.0,866.7 806.1,855.0 806.4,842.9 809.6,831.4 813.1,820.0 M800.6,878.1 807.6,869.3 815.9,861.5 822.1,852.1 829.4,843.5 835.8,834.2 M800.6,878.1 791.9,868.4 780.4,862.2 772.0,852.2 761.0,845.4 M1716.4,382.6 1711.7,393.6 1709.0,405.1 1708.0,417.0 M1716.4,382.6 1727.0,376.0 1738.8,372.1 1750.4,367.9 M1133.3,496.8 1137.6,507.4 1142.4,517.9 M1133.3,496.8 1124.6,504.8 1115.8,512.8 M368.6,577.5 358.0,569.5 346.5,563.0 M368.6,577.5 367.8,558.5 M1562.6,702.5 1550.6,705.1 1538.8,708.5 1527.4,713.2 M1562.6,702.5 1569.5,688.9 1572.4,674.0 M1562.6,702.5 1560.9,715.0 1559.3,727.6 M1514.7,1043.4 1521.9,1032.9 1530.1,1023.3 1537.0,1012.7 M1514.7,1043.4 1510.3,1056.8 1503.6,1069.3 M1514.7,1043.4 1504.5,1047.9 1493.9,1051.6 1483.3,1055.1 M1592.0,524.5 1587.3,509.0 1578.8,495.2 M1592.0,524.5 1577.1,530.7 1561.4,534.5 M1592.0,524.5 1580.2,521.3 1570.2,514.2 M1592.0,524.5 1584.9,537.1 1579.7,550.5 M597.3,868.8 590.2,858.0 584.2,846.7 M597.3,868.8 610.1,876.7 620.7,887.4 M597.3,868.8 605.1,858.9 610.3,847.1 618.9,837.7 M1169.7,581.8 1182.3,582.4 1194.8,581.5 M788.6,747.3 788.2,761.4 790.2,775.4 M573.3,697.6 584.6,697.7 594.7,703.7 606.0,704.1 616.9,706.4 M1329.2,534.6 1343.2,536.9 1355.9,542.9 M421.5,574.5 426.5,585.4 427.0,597.5 430.7,608.8 M421.5,574.5 434.7,566.6 445.5,555.6 M1708.0,417.0 1695.4,416.2 1683.3,419.6 M494.5,547.2 482.3,540.8 472.4,531.1 M1062.8,438.1 1076.3,436.1 1089.5,432.6 1102.8,430.0 M952.3,948.0 951.5,936.0 950.7,924.1 M952.3,948.0 943.3,958.7 937.9,971.5 M1493.4,695.7 1483.0,685.4 1470.2,678.1 M1493.4,695.7 1484.4,713.4 M1493.4,695.7 1499.4,681.1 1504.9,666.4 M1493.4,695.7 1501.2,704.6 1507.8,714.4 M1185.8,473.4 1196.4,467.7 1205.3,459.7 1214.9,452.7 M1185.8,473.4 1190.7,463.3 1193.4,452.3 1198.1,442.1 M1566.7,1078.8 1564.3,1100.3 M1087.3,316.6 1086.4,327.6 1085.3,338.6 1081.1,349.1 1080.0,360.0 M1087.3,316.6 1074.3,314.2 1061.2,312.3 M675.5,691.3 668.1,682.5 661.3,673.4 652.3,666.0 646.1,656.3 M675.5,691.3 660.0,693.4 644.4,691.8 M817.2,422.7 814.8,435.5 813.3,448.5 810.3,461.2 M817.2,422.7 813.1,410.8 814.0,397.8 809.2,386.1 M1512.5,523.3 1501.6,513.1 1491.6,501.8 M1512.5,523.3 1517.7,536.3 1523.5,549.1 M852.7,554.7 862.7,564.4 870.8,575.9 880.7,585.7 M852.7,554.7 847.5,543.0 840.4,532.4 834.1,521.2 M951.1,742.3 956.6,732.1 958.6,720.4 965.4,710.7 970.7,700.4 974.3,689.4 M951.1,742.3 941.9,733.1 930.8,726.4 M951.1,742.3 940.6,748.5 928.4,750.6 918.1,757.2 M392.2,715.4 388.2,701.6 383.0,688.1 M392.2,715.4 381.1,724.3 368.6,730.8 356.0,737.1 M392.2,715.4 380.4,715.4 368.7,717.1 356.9,716.6 345.1,715.8 M392.2,715.4 382.1,709.7 370.9,706.3 360.4,701.5 350.3,695.7 M1318.1,659.3 1311.5,670.4 1306.1,682.0 M1318.1,659.3 1331.8,660.1 1345.4,659.4 M1318.1,659.3 1331.4,667.6 1342.0,679.1 M1166.3,366.8 1178.8,356.2 1190.3,344.4 M1166.3,366.8 1158.9,375.3 1149.4,381.2 1140.3,387.5 M898.3,782.0 887.9,776.4 877.2,771.6 865.8,768.2 M898.3,782.0 887.9,786.4 878.1,791.9 868.2,797.1 M1750.4,367.9 1758.8,358.2 1770.2,351.8 1778.4,341.9 M428.1,651.8 417.1,653.4 406.5,656.5 396.7,662.2 385.6,663.6 M428.1,651.8 427.2,637.4 430.2,623.1 430.7,608.8 M428.1,651.8 419.0,639.9 412.8,626.2 M936.9,383.5 923.0,384.0 909.6,380.6 M936.9,383.5 943.9,393.0 948.4,404.0 M1080.0,360.0 1059.5,357.2 M1080.0,360.0 1091.8,363.0 1103.6,365.9 1115.0,370.0 M504.7,392.6 518.7,396.4 533.4,396.8 547.4,400.3 M504.7,392.6 509.0,403.7 511.5,415.5 518.0,425.8 M1480.9,1016.5 1473.9,1035.4 M1480.9,1016.5 1489.9,1023.2 1497.1,1031.6 M1480.9,1016.5 1480.4,995.3 M1470.2,678.1 1476.4,689.3 1478.0,702.3 1484.4,713.4 M1470.2,678.1 1481.8,674.5 1492.9,669.0 1504.9,666.4 M1033.1,475.0 1042.4,486.3 1048.3,499.7 M502.1,807.2 487.6,815.0 474.2,824.6 M502.1,807.2 490.3,800.2 480.3,790.9 470.2,781.7 M502.1,807.2 502.6,819.0 497.7,830.2 498.6,841.9 M627.9,538.3 621.5,528.6 613.9,519.9 605.3,512.1 597.5,503.5 589.7,495.1 M627.9,538.3 616.1,541.5 605.2,547.0 593.8,551.2 581.8,553.9 570.6,558.6 M627.9,538.3 640.8,545.3 653.4,552.7 M627.9,538.3 628.3,525.4 624.6,513.0 623.5,500.2 622.4,487.5 M627.9,538.3 624.9,549.7 620.4,560.4 614.5,570.5 M442.5,783.4 434.0,796.7 423.8,808.6 M442.5,783.4 456.5,784.3 470.2,781.7 M465.7,429.3 478.8,428.7 491.8,427.3 504.9,426.2 518.0,425.8 M465.7,429.3 455.8,422.0 447.4,412.9 435.4,408.3 425.8,400.7 416.9,392.1 M534.4,446.2 545.4,440.4 557.8,438.0 569.1,432.9 579.7,426.0 591.8,422.8 M534.4,446.2 539.4,435.2 540.1,423.0 542.6,411.3 547.4,400.3 M534.4,446.2 526.0,436.2 518.0,425.8 M534.4,446.2 543.6,464.2 M684.8,509.6 677.4,522.6 668.9,535.0 M684.8,509.6 682.2,496.4 677.1,483.8 674.2,470.7 M684.8,509.6 692.0,518.5 696.6,528.9 702.3,538.7 707.0,549.0 M684.8,509.6 690.3,498.8 694.4,487.3 700.7,476.8 M1185.3,598.9 1194.8,581.5 M467.4,679.9 479.8,679.9 491.5,676.2 503.7,675.6 515.4,671.6 M1100.3,692.2 1088.6,710.1 M1100.3,692.2 1108.8,701.4 1120.2,707.3 1128.7,716.6 M401.4,763.6 406.9,752.9 413.0,742.7 419.1,732.4 M1053.7,747.9 1058.8,737.0 1062.0,725.3 1068.5,715.0 M1053.7,747.9 1062.7,755.1 1068.9,764.8 M1053.7,747.9 1042.4,755.1 1030.8,761.6 M1179.6,782.6 1194.3,781.8 1208.3,777.3 M474.2,824.6 462.5,824.7 451.3,828.3 439.7,829.1 428.1,830.2 M474.2,824.6 487.2,832.1 498.6,841.9 M560.1,825.4 579.4,819.0 M560.1,825.4 560.3,805.3 M560.1,825.4 557.2,836.9 551.3,847.4 548.6,859.0 M560.1,825.4 547.9,829.3 535.1,830.7 523.6,836.8 510.4,837.1 498.6,841.9 M780.3,456.8 778.7,470.2 779.3,483.6 781.5,497.0 781.0,510.4 M780.3,456.8 795.1,460.0 810.3,461.2 M780.3,456.8 769.2,453.1 757.1,452.8 746.3,447.8 M780.3,456.8 770.3,462.7 760.0,468.1 749.0,472.1 739.1,478.1 M589.7,495.1 600.2,490.9 611.7,491.0 622.4,487.5 M1194.8,581.5 1187.0,572.6 1179.2,563.9 1172.3,554.3 M1172.3,554.3 1161.7,558.5 1151.4,563.2 1140.8,567.2 M364.1,681.0 383.0,688.1 M364.1,681.0 350.3,695.7 M1324.5,461.0 1322.9,448.7 1324.8,436.2 1324.0,423.8 M1324.5,461.0 1340.4,460.5 1356.2,458.4 M743.0,593.8 739.1,605.0 735.0,616.1 733.2,627.9 M849.6,751.7 859.2,758.5 865.8,768.2 M849.6,751.7 835.5,751.3 821.4,750.7 807.4,752.5 M849.6,751.7 843.3,742.1 835.4,734.2 824.8,728.9 818.3,719.6 M1523.7,601.8 1536.6,595.5 1550.8,593.3 M1060.4,585.0 1050.8,593.8 1038.4,598.9 1029.0,608.1 M1060.4,585.0 1061.4,573.9 1058.8,562.9 1059.5,551.8 M1060.4,585.0 1069.8,603.3 M1142.4,517.9 1126.7,531.0 M1150.0,859.9 1136.7,858.7 1123.4,857.2 M1150.0,859.9 1148.0,847.2 1149.2,834.3 M1029.0,608.1 1034.0,621.6 1036.8,635.8 M1350.7,624.5 1356.8,609.5 1362.8,594.4 M1350.7,624.5 1358.8,635.3 1366.3,646.5 M659.9,858.4 668.0,869.5 672.3,882.7 M659.9,858.4 649.1,854.3 638.6,849.6 629.3,842.5 618.9,837.7 M659.9,858.4 665.6,844.9 674.2,833.1 M1235.8,725.0 1222.9,716.4 1210.5,707.1 M1235.8,725.0 1219.5,726.2 1203.8,730.6 M1235.8,725.0 1243.4,704.4 M584.2,846.7 583.9,832.4 579.4,819.0 M584.2,846.7 572.1,850.0 561.1,856.7 548.6,859.0 M584.2,846.7 595.8,843.8 607.8,842.5 618.9,837.7 M1541.8,652.9 1555.4,636.0 M1122.4,637.6 1128.5,649.3 1131.2,662.2 M1555.4,636.0 1560.1,649.1 1567.5,661.0 1572.4,674.0 M1555.4,636.0 1542.3,634.0 1529.8,630.0 1517.3,625.8 M1190.3,344.4 1202.0,350.2 1214.5,354.1 1226.1,359.8 1238.0,365.1 M1530.2,817.6 1548.5,829.3 M1038.9,348.3 1049.6,351.8 1059.5,357.2 M1065.6,531.8 1060.1,521.0 1053.9,510.5 1048.3,499.7 M1065.6,531.8 1074.8,518.3 1086.5,507.2 M1065.6,531.8 1080.9,544.4 M396.1,295.9 385.7,288.3 376.5,279.1 M396.1,295.9 392.5,315.7 M396.1,295.9 397.8,275.7 M1473.9,1035.4 1485.3,1032.1 1497.1,1031.6 M1410.0,606.1 1397.8,623.4 M1410.0,606.1 1398.0,605.7 1386.1,604.5 M1238.0,365.1 1249.7,366.6 1260.0,372.4 1271.1,375.5 1281.7,380.4 1293.8,380.4 1304.1,386.0 1315.5,388.5 M1238.0,365.1 1240.3,377.2 1246.0,388.4 1249.7,400.1 1251.2,412.5 M1238.0,365.1 1227.4,371.1 1217.4,378.2 M1008.7,646.5 1022.4,640.3 1036.8,635.8 M805.0,897.2 811.6,909.3 817.5,921.7 825.0,933.4 M805.0,897.2 800.3,908.4 795.9,919.8 789.1,930.1 785.2,941.7 M1068.5,715.0 1088.6,710.1 M1068.5,715.0 1077.3,722.0 1087.1,727.5 1096.5,733.5 M674.0,648.2 659.5,650.2 646.1,656.3 M674.0,648.2 667.4,636.0 659.7,624.5 651.5,613.3 M722.6,444.6 734.3,447.2 746.3,447.8 M722.6,444.6 726.8,456.3 735.1,466.2 739.1,478.1 M722.6,444.6 716.2,455.9 708.7,466.5 700.7,476.8 M1537.0,1012.7 1545.0,1026.5 1551.9,1040.9 M1537.0,1012.7 1525.9,1017.4 1513.8,1018.2 M1140.3,387.5 1128.3,377.8 1115.0,370.0 M1140.3,387.5 1140.9,403.4 1144.8,418.8 M952.2,1045.8 933.2,1042.8 M952.2,1045.8 955.9,1059.5 961.4,1072.6 966.3,1085.9 M952.2,1045.8 950.8,1057.0 946.3,1067.4 943.3,1078.2 M952.2,1045.8 944.3,1032.0 936.7,1018.2 M781.0,510.4 769.1,511.1 757.2,510.1 745.6,506.1 733.6,508.4 721.8,506.5 M1030.3,785.4 1018.6,787.4 1007.2,790.6 995.9,794.1 M1030.3,785.4 1031.9,773.5 1030.8,761.6 M383.0,688.1 372.3,691.4 361.5,694.5 350.3,695.7 M423.8,808.6 438.3,808.9 452.7,810.2 M423.8,808.6 428.1,830.2 M1041.9,919.2 1054.0,920.4 1066.0,921.5 1077.7,924.8 M1041.9,919.2 1051.6,928.4 1061.1,937.6 1072.2,945.1 M1453.9,659.2 1437.7,658.2 1421.5,657.3 M1453.9,659.2 1444.7,640.2 M1274.1,690.7 1285.0,688.6 1295.8,686.3 1306.1,682.0 M1274.1,690.7 1264.3,696.3 1253.1,698.6 1243.4,704.4 M1366.3,646.5 1376.0,637.7 1386.7,630.2 1397.8,623.4 M1366.3,646.5 1356.0,653.2 1345.4,659.4 M366.6,368.8 348.7,360.3 M366.6,368.8 376.3,374.2 386.4,378.8 397.6,380.9 406.8,387.6 416.9,392.1 M366.6,368.8 367.6,356.7 366.1,344.9 363.3,333.2 M1324.0,423.8 1312.1,412.5 1299.1,402.4 M1204.5,559.8 1211.8,550.9 1215.2,539.5 1222.1,530.3 M1570.6,570.5 1557.8,566.2 1546.8,558.3 M933.2,1042.8 935.7,1030.6 936.7,1018.2 M869.2,400.2 877.0,389.3 886.3,379.6 M869.2,400.2 888.0,407.8 M921.7,351.2 926.7,329.9 M921.7,351.2 934.0,351.1 946.2,348.6 958.5,348.2 M901.6,443.9 898.0,431.5 893.3,419.5 888.0,407.8 M901.6,443.9 911.7,439.1 922.0,434.8 933.0,432.5 943.2,427.8 M948.4,310.7 935.1,312.7 921.6,311.5 M1079.7,477.6 1083.3,492.3 1086.5,507.2 M880.0,303.0 875.0,316.0 869.6,328.9 M880.0,303.0 865.0,303.4 850.1,305.5 M909.6,380.6 898.0,378.2 886.3,379.6 M909.6,380.6 903.7,390.7 895.8,399.2 888.0,407.8 M909.6,380.6 920.3,384.7 928.9,392.4 938.1,399.0 948.4,404.0 M1520.7,984.9 1520.2,996.4 1515.5,1007.0 1513.8,1018.2 M1527.4,713.2 1538.3,717.5 1549.2,721.6 1559.3,727.6 M808.7,517.3 821.4,518.9 834.1,521.2 M865.8,768.2 882.3,767.1 898.3,762.6 M865.8,768.2 868.3,782.6 868.2,797.1 M886.3,379.6 887.9,393.7 888.0,407.8 M1491.6,501.8 1484.8,511.1 1475.2,517.6 1465.7,524.2 1458.9,533.6 M701.0,888.9 718.4,876.5 M701.0,888.9 687.1,883.7 672.3,882.7 M1570.9,593.0 1550.8,593.3 M1576.1,762.1 1581.6,774.3 1583.4,787.6 M1576.1,762.1 1570.0,750.8 1565.3,738.9 1559.3,727.6 M1576.1,762.1 1584.1,750.0 1588.7,736.2 M900.0,1010.8 892.5,1001.5 883.8,993.5 875.5,984.9 866.1,977.6 858.5,968.4 848.6,961.5 841.8,951.5 M900.0,1010.8 908.0,999.5 919.0,991.2 927.4,980.3 937.9,971.5 M602.6,613.6 589.9,611.4 577.2,609.4 564.2,609.6 551.8,605.7 539.0,604.7 M602.6,613.6 596.9,624.7 588.3,634.1 582.8,645.3 M602.6,613.6 604.6,602.6 609.7,592.4 612.1,581.5 614.5,570.5 M1018.3,876.6 1011.0,885.0 1005.2,894.3 999.3,903.6 M640.6,909.7 629.0,900.0 620.7,887.4 M640.6,909.7 628.0,908.4 615.5,906.3 602.8,905.9 M983.7,337.6 995.9,333.7 1008.1,329.4 1021.0,328.1 M983.7,337.6 970.7,341.9 958.5,348.2 M321.2,594.8 318.0,582.0 309.5,571.3 305.3,558.9 300.8,546.6 M579.4,819.0 568.7,813.7 560.3,805.3 M579.4,819.0 592.4,811.4 604.4,802.3 M1067.9,989.9 1055.8,998.1 1043.9,1006.4 M1067.9,989.9 1079.8,991.8 1091.0,996.7 1102.8,998.8 M1226.4,741.9 1233.6,756.3 1243.6,769.0 M1226.4,741.9 1214.5,737.3 1203.8,730.6 M1243.6,769.0 1231.5,770.4 1220.0,774.4 1208.3,777.3 M1243.6,769.0 1258.7,782.4 M843.8,927.6 842.8,939.6 841.8,951.5 M843.8,927.6 855.9,923.7 866.1,916.1 M836.1,895.4 834.7,880.8 837.3,866.4 M836.1,895.4 846.6,901.6 856.2,909.1 866.1,916.1 M836.1,895.4 833.4,908.3 828.6,920.7 825.0,933.4 M718.4,876.5 718.6,855.6 M837.3,866.4 848.2,863.0 858.9,859.0 870.5,858.2 881.4,854.8 M837.3,866.4 835.9,850.3 835.8,834.2 M898.3,762.6 892.4,748.5 887.1,734.1 M898.3,762.6 901.4,751.4 905.4,740.4 M898.3,762.6 918.1,757.2 M641.4,824.3 630.7,831.9 618.9,837.7 M641.4,824.3 628.4,818.2 616.1,810.8 604.4,802.3 M641.4,824.3 652.1,828.0 663.5,829.1 674.2,833.1 M641.4,824.3 652.7,821.6 662.8,815.9 M641.4,824.3 640.4,812.6 641.1,800.8 M560.3,805.3 568.5,794.5 575.5,782.8 M745.3,921.2 754.9,927.1 766.1,929.8 774.9,937.1 785.2,941.7 M816.8,968.8 828.7,959.3 841.8,951.5 M816.8,968.8 821.1,957.4 820.2,944.7 825.0,933.4 M816.8,968.8 807.0,958.8 795.8,950.6 785.2,941.7 M553.5,781.1 543.6,775.3 536.1,766.5 527.8,758.7 517.5,753.5 M553.5,781.1 564.6,780.9 575.5,782.8 M868.2,797.1 855.3,795.1 842.7,790.9 829.6,790.4 816.7,788.3 M868.2,797.1 874.9,810.7 884.6,822.3 M868.2,797.1 860.6,806.8 851.6,815.3 845.0,825.9 835.8,834.2 M816.7,788.3 812.8,803.9 813.1,820.0 M816.7,788.3 804.0,780.6 790.2,775.4 M816.7,788.3 822.8,799.2 825.3,811.6 830.7,822.8 835.8,834.2 M816.7,788.3 802.2,802.7 M620.7,887.4 633.6,885.8 646.5,884.9 659.3,882.5 672.3,882.7 M620.7,887.4 610.5,895.5 602.8,905.9 M817.9,545.1 826.1,533.2 834.1,521.2 M839.9,480.8 830.8,473.2 820.7,466.9 810.3,461.2 M839.9,480.8 837.3,494.2 836.6,507.8 834.1,521.2 M1609.0,717.6 1608.3,730.1 1605.2,742.1 1602.5,754.2 M1609.0,717.6 1599.7,727.8 1588.7,736.2 M1080.2,1006.2 1068.2,1007.9 1056.0,1006.0 1043.9,1006.4 M887.1,734.1 905.4,740.4 M1470.8,770.9 1481.8,762.1 1494.7,756.1 1504.9,746.2 M1498.5,633.0 1500.4,644.2 1502.8,655.2 1504.9,666.4 M1498.5,633.0 1517.3,625.8 M524.8,545.4 528.3,557.1 528.5,569.6 535.4,580.5 537.9,592.5 539.0,604.7 M524.8,545.4 535.7,550.8 547.2,553.7 559.5,554.1 570.6,558.6 M524.8,545.4 537.7,544.3 549.8,539.7 M1336.9,699.4 1338.2,711.2 1338.6,723.1 M1336.9,699.4 1326.0,694.8 1316.4,687.9 1306.1,682.0 M539.0,604.7 547.7,612.9 557.9,619.4 565.7,628.7 573.9,637.3 582.8,645.3 M1527.4,509.3 1526.2,522.6 1525.4,535.9 1523.5,549.1 M1527.4,509.3 1539.7,516.4 1550.7,525.2 1561.4,534.5 M668.9,535.0 661.2,543.9 653.4,552.7 M668.9,535.0 681.8,539.3 694.1,545.0 707.0,549.0 M1246.0,677.4 1243.7,690.8 1243.4,704.4 M570.6,558.6 560.5,548.8 549.8,539.7 M570.6,558.6 581.6,561.4 592.9,563.3 603.5,567.5 614.5,570.5 M484.2,296.5 484.8,309.4 483.9,322.2 484.7,335.1 M484.2,296.5 484.7,282.2 480.9,268.4 479.2,254.3 M958.2,991.5 948.3,981.3 937.9,971.5 M958.2,991.5 967.6,999.6 976.9,1007.9 M1315.5,388.5 1299.1,402.4 M1315.5,388.5 1303.6,391.1 1291.3,388.6 1279.5,391.6 1267.4,391.8 M1086.5,507.2 1100.8,511.9 1115.8,512.8 M1083.4,617.7 1090.8,630.0 1101.1,640.0 M1083.4,617.7 1065.1,627.7 M1083.4,617.7 1079.9,631.9 1076.5,646.1 M1083.4,617.7 1097.3,612.9 1110.6,607.0 M1083.4,617.7 1069.8,603.3 M1602.5,754.2 1595.8,765.2 1590.6,776.9 1583.4,787.6 M1602.5,754.2 1596.1,744.8 1588.7,736.2 M1504.9,746.2 1499.0,734.6 1491.9,723.8 1484.4,713.4 M1101.1,640.0 1096.8,651.5 1092.2,662.8 1084.7,672.8 M1101.1,640.0 1103.0,628.7 1107.2,617.9 1110.6,607.0 M943.4,835.7 939.0,824.3 931.5,814.6 M943.4,835.7 932.0,839.6 920.0,839.3 908.1,839.8 896.7,843.4 M931.5,814.6 920.1,818.5 908.0,818.2 896.0,818.7 884.6,822.3 M931.5,814.6 923.1,822.2 913.1,827.9 904.8,835.5 896.7,843.4 M1210.5,707.1 1199.6,709.8 1188.5,711.2 1177.7,714.2 M1210.5,707.1 1200.9,697.6 1189.0,691.2 M385.6,663.6 391.5,653.6 400.3,645.7 405.8,635.4 412.8,626.2 M616.7,289.5 602.3,285.6 587.3,284.6 M600.0,769.2 613.5,773.0 626.6,777.8 M600.0,769.2 602.6,780.1 603.6,791.2 604.4,802.3 M600.0,769.2 588.8,777.8 575.5,782.8 M600.0,769.2 602.7,757.5 611.0,748.1 613.9,736.5 M1065.1,627.7 1076.5,646.1 M1065.1,627.7 1051.4,633.4 1036.8,635.8 M1065.1,627.7 1069.4,615.9 1069.8,603.3 M1059.5,357.2 1061.7,346.0 1059.1,334.7 1060.0,323.5 1061.2,312.3 M1088.6,710.1 1094.3,721.2 1096.5,733.5 M1629.4,382.5 1615.1,389.2 1599.7,392.8 M841.8,951.5 854.6,955.6 868.3,954.3 881.2,957.8 894.0,961.4 M813.1,820.0 802.8,825.3 791.4,828.3 782.1,835.8 770.8,839.2 761.0,845.4 M813.1,820.0 802.2,802.7 M1328.4,796.0 1326.4,784.6 1328.3,773.0 1326.3,761.6 M1106.6,774.9 1094.0,771.7 1081.8,767.0 1068.9,764.8 M452.1,599.7 441.9,605.6 430.7,608.8 M452.1,599.7 451.3,588.6 448.9,577.6 445.7,566.9 445.5,555.6 M1021.0,328.1 1034.5,323.1 1047.9,317.8 1061.2,312.3 M945.8,762.7 931.7,761.1 918.1,757.2 M591.4,737.9 600.2,727.7 609.7,717.9 616.9,706.4 M591.4,737.9 587.1,749.0 582.9,760.2 577.8,771.0 575.5,782.8 M591.4,737.9 602.6,736.4 613.9,736.5 M1431.2,742.4 1422.8,750.9 1412.5,757.1 M746.3,447.8 744.6,463.4 739.1,478.1 M798.3,320.8 783.3,315.4 767.7,311.7 M897.4,648.7 883.9,647.3 870.3,646.9 856.8,646.9 843.2,648.4 M1338.6,723.1 1350.7,722.7 1362.7,721.3 M566.7,476.8 556.1,468.7 543.6,464.2 M708.7,784.1 712.0,798.0 717.8,811.0 721.5,824.7 M1115.0,370.0 1114.2,357.9 1115.3,345.9 1117.2,333.8 1116.3,321.7 M680.4,330.9 673.3,340.0 668.7,350.9 660.4,359.2 M750.7,666.2 741.0,672.5 732.1,679.9 721.1,683.9 M1185.4,650.1 1189.3,638.1 1195.5,627.2 M966.3,1085.9 954.3,1083.5 943.3,1078.2 M966.3,1085.9 985.9,1091.5 M888.0,407.8 899.6,410.3 910.7,414.1 921.7,418.1 932.6,422.8 943.2,427.8 M888.0,407.8 900.2,408.6 912.1,406.1 924.1,403.3 936.3,405.3 948.4,404.0 M927.2,776.4 918.1,757.2 M1306.1,682.0 1318.1,681.2 1330.1,679.9 1342.0,679.1 M1306.1,682.0 1300.1,672.3 1293.8,662.7 1289.6,652.1 M376.5,279.1 377.7,267.0 377.7,254.8 376.0,242.7 M376.5,279.1 397.8,275.7 M1504.9,666.4 1511.1,653.5 1513.1,639.3 1517.3,625.8 M430.7,608.8 422.2,600.6 412.5,593.9 404.6,585.2 M1746.8,306.2 1741.5,316.1 1739.2,326.9 1736.8,337.7 M646.1,656.3 648.6,642.0 650.4,627.7 651.5,613.3 M1458.9,533.6 1446.0,539.7 1433.5,546.3 1422.2,555.1 M1444.7,640.2 1444.0,627.8 1440.8,615.9 1437.3,604.1 M1381.6,696.3 1397.2,698.3 1412.7,701.2 M1195.5,627.2 1183.9,628.4 1173.2,633.2 1161.6,634.6 1150.7,638.6 M1195.5,627.2 1208.8,633.3 1222.9,636.9 1236.8,641.0 M639.6,468.4 651.2,467.5 662.6,471.2 674.2,470.7 M639.6,468.4 629.4,476.5 622.4,487.5 M1345.4,659.4 1342.0,679.1 M1251.2,412.5 1244.3,402.4 1234.2,395.4 1226.1,386.5 1217.4,378.2 M1251.2,412.5 1259.9,402.6 1267.4,391.8 M626.6,777.8 618.9,785.7 612.6,794.9 604.4,802.3 M869.6,328.9 859.7,317.3 850.1,305.5 M869.6,328.9 854.9,344.6 M1299.1,402.4 1288.9,397.6 1278.4,393.9 1267.4,391.8 M428.6,715.8 419.1,732.4 M356.0,737.1 351.5,726.0 345.1,715.8 M674.2,470.7 687.8,472.1 700.7,476.8 M1114.4,959.5 1102.8,954.5 1092.2,947.5 M937.9,971.5 927.2,967.7 915.6,967.9 904.6,965.4 894.0,961.4 M937.9,971.5 929.3,962.1 924.1,950.3 916.7,940.1 M937.9,971.5 938.0,983.2 938.7,994.9 939.0,1006.6 936.7,1018.2 M787.1,351.1 780.0,338.2 774.9,324.5 767.7,311.7 M787.1,351.1 793.0,363.7 802.1,374.2 809.2,386.1 M1096.5,733.5 1107.4,728.1 1118.6,723.5 1128.7,716.6 M1606.4,443.0 1611.4,427.5 1613.7,411.3 M1606.4,443.0 1597.2,434.3 1589.8,424.0 1582.0,414.0 1572.9,405.2 M1177.7,714.2 1182.8,702.4 1189.0,691.2 M1076.5,646.1 1063.7,640.9 1050.1,638.8 1036.8,635.8 M977.6,638.1 963.0,634.1 947.7,633.9 M1264.0,630.0 1273.4,636.4 1281.3,644.5 1289.6,652.1 M1264.0,630.0 1249.7,633.8 1236.8,641.0 M392.5,315.7 383.7,323.0 373.8,328.7 363.3,333.2 M452.7,810.2 441.3,821.3 428.1,830.2 M452.7,810.2 458.2,800.5 464.6,791.3 470.2,781.7 M345.1,715.8 339.8,704.0 338.8,690.8 333.5,679.0 330.6,666.4 325.3,654.6 M867.0,694.0 860.6,682.8 855.6,670.9 848.1,660.4 843.2,648.4 M795.7,569.9 785.2,565.9 776.0,559.6 767.4,552.4 757.2,547.7 M881.4,854.8 883.2,838.6 884.6,822.3 M881.4,854.8 896.7,843.4 M1499.3,1001.1 1480.4,995.3 M844.0,692.9 842.2,681.8 845.6,670.6 844.4,659.5 843.2,648.4 M844.0,692.9 835.6,702.0 828.0,711.7 818.3,719.6 M1559.3,727.6 1573.4,733.9 1588.7,736.2 M1613.7,411.3 1599.8,411.4 1586.2,409.0 1572.9,405.2 M591.8,422.8 579.7,419.1 568.9,412.8 558.4,406.2 547.4,400.3 M591.8,422.8 590.8,435.1 584.1,446.1 582.8,458.4 M721.8,506.5 719.8,517.7 715.7,528.2 711.1,538.5 707.0,549.0 M721.8,506.5 728.2,497.4 734.1,488.0 739.1,478.1 M445.5,555.6 454.6,547.5 462.3,538.0 472.4,531.1 M790.2,775.4 799.5,764.5 807.4,752.5 M1110.6,607.0 1097.1,605.2 1083.3,605.9 1069.8,603.3 M536.5,343.3 544.0,333.9 547.6,322.2 554.4,312.4 M536.5,343.3 548.8,347.1 559.6,354.0 M952.2,599.9 950.9,611.3 949.9,622.7 947.7,633.9 M1123.4,857.2 1133.3,851.0 1139.6,840.8 1149.2,834.3 M1149.2,834.3 1148.3,819.5 1143.9,805.3 M1243.4,704.4 1249.2,718.0 1258.8,729.3 M1198.1,442.1 1189.2,435.0 1179.7,428.8 M930.8,726.4 918.7,734.4 905.4,740.4 M930.8,726.4 925.8,736.3 923.3,747.3 918.1,757.2 M404.6,585.2 408.7,598.6 412.1,612.2 412.8,626.2 M1343.4,894.7 1356.5,909.3 M582.8,645.3 596.6,643.4 609.7,638.7 M926.7,329.9 937.4,335.8 948.9,340.3 958.5,348.2 M325.3,654.6 326.8,638.3 326.4,622.0 M547.4,400.3 549.4,388.4 554.9,377.5 557.6,365.9 559.6,354.0 M547.4,400.3 558.7,402.6 570.1,401.9 581.5,402.4 592.8,403.7 604.2,403.3 M721.5,824.7 709.9,827.9 698.0,829.8 686.1,831.3 674.2,833.1 M721.5,824.7 720.9,840.3 718.6,855.6 M721.5,824.7 713.2,817.0 705.6,808.6 696.6,801.6 690.9,791.5 682.6,783.7 M948.4,404.0 962.8,419.6 M947.7,633.9 940.3,643.9 929.8,650.7 921.2,659.5 M319.1,532.0 309.3,538.5 300.8,546.6 M319.1,532.0 318.2,518.6 317.6,505.1 M337.8,501.5 317.6,505.1 M921.2,659.5 919.1,670.8 918.1,682.4 M1543.4,615.5 1530.9,622.0 1517.3,625.8 M602.8,905.9 592.6,899.4 584.1,890.9 575.0,883.2 565.6,875.8 557.4,867.0 548.6,859.0 M1375.5,448.4 1356.2,458.4 M894.0,961.4 905.1,950.5 916.7,940.1 M618.9,837.7 614.7,825.6 607.7,814.7 604.4,802.3 M604.4,802.3 595.6,794.7 584.4,790.5 575.5,782.8 M604.4,802.3 616.6,800.7 628.9,801.1 641.1,800.8 M486.5,356.6 484.7,335.1 M616.9,706.4 614.7,721.4 613.9,736.5 M944.4,469.8 947.3,482.0 952.0,493.6 954.3,506.0 M674.2,833.1 686.1,837.1 695.4,846.2 708.1,848.8 718.6,855.6 M674.2,833.1 675.3,820.6 679.1,808.5 679.8,795.9 682.6,783.7 M662.8,815.9 651.8,808.6 641.1,800.8 M662.8,815.9 669.2,805.0 677.1,795.1 682.6,783.7 M761.0,845.4 768.7,836.3 778.8,829.6 785.4,819.4 793.6,810.9 802.2,802.7 M807.4,752.5 810.8,741.4 814.3,730.4 818.3,719.6 M1179.7,428.8 1168.0,425.8 1156.3,422.4 1144.8,418.8 M1012.1,1053.1 1005.8,1062.9 1000.8,1073.5 993.8,1082.8 985.9,1091.5 M707.0,549.0 719.6,549.2 732.2,550.3 744.7,550.1 757.2,547.7 M376.0,242.7 383.5,253.5 391.4,264.1 397.8,275.7 M559.6,354.0 567.0,362.3 575.9,369.1 581.2,379.3 589.2,387.0 597.5,394.4 604.2,403.3 M932.6,488.4 944.2,496.2 954.3,506.0 M916.7,940.1 907.1,929.1 895.7,919.8 887.3,907.7 M905.4,891.3 896.6,899.8 887.3,907.7 M582.8,458.4 569.6,459.3 556.4,460.3 543.6,464.2 M739.1,478.1 726.2,479.2 713.5,478.4 700.7,476.8" fill="none" stroke="#2f742f" stroke-width="1.05" stroke-linejoin="round"/>
<path d="M313.0,544.6 311.0,530.9 308.6,517.2 304.5,497.1 M350.6,512.8 364.3,506.4 379.0,502.8 392.3,497.5 405.8,492.7 M349.3,527.2 364.1,527.9 379.0,527.7 393.8,529.3 398.0,541.8 404.0,553.6 407.8,566.2 M314.8,455.5 308.9,472.4 306.4,490.0 M413.9,735.0 420.1,724.4 428.6,715.8 429.7,698.7 430.1,681.5 430.8,666.5 428.1,651.8 417.2,639.8 412.8,626.2 412.2,614.7 407.4,601.0 403.7,586.9 M423.3,567.6 433.8,560.5 445.5,555.6 454.1,547.0 462.6,538.4 472.4,531.1 484.0,538.4 494.5,547.2 509.7,547.0 524.8,545.4 536.5,541.4 548.8,539.8 559.6,548.3 569.7,557.6 M467.4,679.9 467.5,665.2 467.1,650.4 468.7,635.7 456.8,625.5 443.6,617.4 430.7,608.8 433.3,591.6 435.8,574.4 M601.0,767.1 613.5,773.2 626.6,777.8 643.0,783.3 M613.9,736.5 625.8,730.8 638.0,725.7 649.7,719.5 M649.9,613.5 657.0,625.8 664.2,638.1 M617.6,631.8 633.1,633.9 648.6,636.3 664.2,638.1 M655.3,553.2 670.6,551.1 687.0,549.9 703.5,548.7 716.9,547.6 730.4,549.1 743.8,549.0 757.2,547.7 770.5,555.7 785.2,561.2 797.9,570.2 817.9,578.4 M626.0,532.2 613.5,520.5 601.4,508.0 589.7,495.1 M566.7,476.8 555.1,470.6 543.6,464.2 M648.6,458.4 659.5,444.4 670.6,430.7 M640.2,469.4 656.3,473.6 672.9,475.1 M535.4,444.4 540.6,429.4 546.6,414.6 547.4,400.3 M518.0,425.8 509.9,409.8 504.7,392.6 503.5,375.6 494.4,366.7 486.5,356.6 M429.3,344.6 438.0,345.1 453.7,347.4 463.8,346.4 M457.7,299.8 470.1,306.1 488.0,301.2 509.4,309.5 523.1,302.9 536.7,296.2 M397.8,275.7 397.6,259.3 398.5,242.9 386.2,243.6 374.0,242.2 373.6,254.6 374.8,266.9 376.5,279.1 M367.4,312.0 363.3,333.2 354.1,347.6 348.7,360.3 341.1,380.6 338.4,390.3 332.5,400.9 324.3,409.1 319.1,420.2 316.7,432.2 316.5,444.9 M402.7,410.0 396.5,422.0 389.5,433.5 382.8,445.2 382.3,461.1 M565.4,306.7 580.8,315.4 594.5,326.6 613.1,341.1 M613.1,341.1 626.3,352.6 639.9,363.6 643.3,378.3 655.4,381.0 666.3,386.7 678.2,395.8 693.0,397.4 705.1,395.4 722.4,404.3 734.9,403.3 741.7,401.5 M643.3,378.3 649.9,367.9 658.9,359.6 667.3,350.4 673.3,339.3 682.2,330.5 680.5,317.4 677.1,304.7 674.6,291.7 M643.3,378.3 642.3,391.8 638.1,404.6 639.2,417.5 640.8,430.4 640.2,443.4 638.9,456.5 640.2,469.4 M741.7,401.5 749.4,412.3 758.1,422.2 767.2,431.8 775.3,442.2 780.3,456.8 782.5,470.8 781.9,484.9 782.0,499.0 784.8,512.9 796.8,514.8 808.7,517.3 812.1,531.6 817.9,545.1 819.6,561.7 817.9,578.4 M780.3,456.8 795.3,458.7 810.3,461.2 825.3,459.5 840.5,461.1 855.6,460.6 M814.1,682.4 807.3,702.7 813.6,722.4 814.4,732.3 807.4,752.5 798.6,763.8 790.2,775.4 M732.8,828.7 726.8,842.7 718.6,855.6 718.4,876.5 729.7,890.2 M701.0,888.9 686.9,884.5 672.3,882.7 660.2,881.5 648.0,880.6 635.9,880.7 M800.1,861.8 800.6,878.1 805.0,897.2 M800.1,861.8 811.7,852.6 822.6,842.5 834.8,834.2 846.3,824.8 M837.5,887.1 821.0,891.5 805.0,897.2 M842.6,609.8 858.0,600.8 871.4,593.7 885.9,589.2 M843.2,648.4 855.8,650.4 868.3,651.9 881.1,652.3 M724.0,663.9 720.7,678.6 719.5,693.6 718.8,708.6 M800.8,675.4 788.4,670.6 775.2,668.8 774.2,658.6 770.4,643.4 M814.1,682.4 828.6,688.8 844.0,692.9 867.0,694.0 M807.3,702.7 791.8,706.7 776.0,709.1 771.3,705.2 756.4,706.9 742.0,711.1 718.8,708.6 M760.7,595.1 743.0,593.8 M682.2,330.5 692.9,322.9 703.2,314.7 714.8,308.3 724.7,299.5 736.8,303.6 748.7,308.3 761.8,309.2 773.4,315.0 786.5,315.8 798.3,320.8 810.8,323.5 822.8,327.7 838.5,327.5 854.0,328.7 869.6,328.9 M741.7,401.5 755.1,398.0 768.5,394.4 782.3,392.8 795.5,388.2 809.2,386.1 819.3,379.1 829.0,371.5 838.2,363.4 850.4,366.9 862.3,371.4 874.2,375.8 886.3,379.6 M614.7,293.1 600.5,290.4 587.3,284.6 579.9,274.6 571.7,265.2 M784.8,512.9 771.1,509.3 757.3,505.9 743.6,502.5 730.0,498.5 721.8,506.5 M722.6,444.6 730.1,433.0 M797.9,570.2 802.9,584.3 809.0,597.9 M703.5,548.7 698.6,533.9 697.2,518.4 693.8,503.3 683.1,489.3 672.9,475.1 M817.9,578.4 836.3,579.5 M689.4,588.7 674.0,592.4 664.7,594.1 651.7,586.5 638.9,578.4 M942.1,1079.3 946.5,1062.4 952.2,1045.8 957.0,1033.8 961.7,1021.7 M937.7,972.3 922.9,970.0 908.7,965.1 894.0,962.3 881.0,960.8 868.6,956.6 855.7,954.7 842.9,952.5 830.8,951.8 819.4,947.2 807.4,946.3 795.5,944.2 783.7,942.2 M783.7,942.2 770.3,936.3 757.9,928.6 745.3,921.2 M783.7,942.2 797.6,938.4 811.4,934.4 825.7,932.1 843.8,927.6 M843.8,927.6 860.8,919.1 M869.9,914.3 887.3,907.7 903.3,903.6 919.5,900.2 941.7,901.7 M941.7,901.7 955.6,901.2 969.3,904.0 973.3,902.1 M936.7,1018.2 924.9,1014.7 912.6,1014.2 900.7,1011.2 M912.1,1035.1 933.2,1042.8 M957.3,838.1 943.4,835.7 931.7,827.9 921.5,818.0 910.0,810.3 897.1,805.1 884.6,799.3 M988.2,911.7 975.2,922.1 964.2,926.2 M930.5,801.4 947.6,803.6 955.6,794.5 965.1,794.4 976.8,790.9 M884.6,799.3 884.6,822.3 885.6,836.8 880.4,857.8 M880.4,857.8 885.8,861.6 894.7,872.3 M880.4,857.8 877.8,872.5 876.5,887.4 887.3,907.7 896.7,918.4 907.5,927.6 918.6,936.5 M880.4,857.8 869.3,871.8 854.3,888.8 M880.4,857.8 865.3,844.4 858.5,834.4 846.3,824.8 M884.6,799.3 883.6,787.1 880.8,775.2 865.8,768.2 M869.9,914.3 871.9,900.5 876.5,887.4 M953.3,757.9 968.9,758.7 984.5,761.3 1000.2,760.5 M1020.4,841.6 1043.1,848.3 1055.2,845.9 1067.5,846.7 1087.8,851.0 M976.8,712.8 961.9,718.9 945.7,720.2 930.8,726.4 913.3,734.0 M976.8,712.8 959.7,711.4 942.6,709.3 921.6,702.4 M1009.4,672.2 992.9,670.1 976.2,670.3 961.9,669.6 946.5,664.5 933.9,661.5 921.2,659.5 915.5,647.7 897.4,648.7 881.1,652.3 M1009.4,672.2 1010.6,659.3 1008.7,646.5 1008.7,636.8 M974.3,689.4 967.8,694.1 M867.0,582.4 884.0,582.6 900.7,585.1 M900.7,585.1 913.4,585.5 926.2,586.1 M1035.1,502.2 1032.6,488.7 1033.1,475.0 1025.6,453.5 1026.9,439.6 1029.0,425.8 1032.1,411.6 1033.1,397.0 1034.5,382.6 M1034.5,382.6 1028.1,365.4 1029.0,345.1 1021.0,328.1 1024.4,309.0 M1034.5,382.6 1019.6,379.5 1004.3,379.9 987.3,380.6 974.4,379.5 961.7,380.4 948.9,381.2 936.2,382.2 923.7,380.9 911.2,382.1 898.8,379.3 886.3,379.6 M1035.1,502.2 1018.4,497.4 1001.4,493.6 984.8,494.5 968.3,493.0 956.5,490.4 944.3,490.8 932.6,488.4 912.3,487.9 893.3,480.9 881.0,477.7 868.4,476.1 865.6,463.7 855.6,460.6 M1064.9,498.4 1080.2,498.5 1095.0,498.5 1103.4,500.1 1122.0,497.7 M1158.5,374.3 1166.3,366.8 1177.9,355.2 1190.3,344.4 M1114.5,369.0 1097.7,366.2 1081.3,361.4 M1081.3,361.4 1076.8,381.8 M1116.3,321.7 1124.9,333.2 1130.9,346.2 1138.4,358.3 M1049.6,340.4 1038.9,348.3 1029.0,345.1 M926.2,586.1 928.4,603.0 929.3,620.1 M851.0,554.7 849.7,567.0 848.5,579.3 M851.0,554.7 874.1,549.8 870.3,535.6 868.5,521.0 M942.7,470.2 932.6,488.4 M993.0,433.1 989.8,454.1 997.0,471.5 1001.4,493.6 M926.2,330.9 941.8,329.6 957.2,326.8 969.8,333.8 983.7,337.6 999.0,338.7 1014.0,341.9 1029.0,345.1 M926.2,330.9 928.2,346.8 931.1,362.5 936.2,382.2 M869.6,328.9 884.6,327.7 899.7,326.8 913.0,328.2 926.2,330.9 M987.3,380.6 977.1,361.0 M1017.8,524.8 1029.5,530.4 M1168.3,454.2 1170.9,449.4 1161.1,429.7 1156.9,418.4 1152.3,402.7 1150.3,386.4 M1150.3,386.4 1165.5,387.4 1180.6,389.6 1198.5,393.6 M1257.8,459.1 1272.7,446.2 M1219.3,421.3 1211.3,413.6 M1198.5,393.6 1211.2,384.9 1223.4,375.5 1236.2,367.0 M1198.5,393.6 1212.0,398.2 1225.5,402.7 1239.3,406.3 1252.3,412.3 1265.0,412.3 1277.7,412.6 M1277.7,412.6 1299.1,402.4 1311.1,401.2 1323.2,401.0 1335.3,402.1 M1266.7,385.2 1272.0,399.0 1277.7,412.6 M1266.7,385.2 1278.9,386.5 1291.1,387.1 1303.3,387.8 1315.5,388.5 1329.1,384.4 1342.0,378.6 M1205.3,591.7 1198.6,607.7 1188.8,618.6 1179.1,629.7 M1179.1,629.7 1195.5,627.2 1211.4,634.0 M1226.8,599.8 1214.1,605.0 1198.6,607.7 M1226.8,599.8 1225.0,607.2 1216.2,617.5 M1251.8,684.1 1265.2,680.9 1283.5,671.1 M1259.6,654.4 1263.3,670.7 1265.2,680.9 M1230.0,691.8 1225.3,677.7 M1341.7,607.6 1351.4,597.0 M1339.3,678.6 1327.4,667.1 1318.6,668.6 M1299.4,475.1 1303.4,463.4 1317.5,444.3 M1325.1,461.9 1327.5,448.2 1328.4,434.2 1331.7,420.6 M1366.6,480.9 1370.1,464.3 1375.5,448.4 1371.4,426.9 M1371.4,426.9 1360.2,415.8 1341.5,409.2 1335.7,405.3 M1365.8,487.1 1378.6,484.1 1388.8,471.0 M1407.2,497.9 1393.9,482.1 1388.8,471.0 M1331.7,420.6 1340.4,431.9 M1378.5,643.8 1396.4,637.5 1409.8,641.1 1423.7,641.4 1434.9,627.0 M1434.1,604.7 1430.4,614.4 1434.9,627.0 M1373.8,583.8 1362.8,594.4 M1325.0,726.0 1338.6,723.1 1350.5,720.8 1362.7,721.3 1376.5,716.7 M1375.1,682.2 1384.6,672.0 1393.8,661.5 M1354.9,753.1 1359.2,743.4 M1369.1,759.2 1369.8,744.5 M1430.1,661.0 1433.4,674.2 1439.1,686.5 1461.0,693.2 1470.4,697.1 M1483.0,621.3 1491.3,624.1 1498.5,631.5 M1480.9,630.4 1486.5,630.9 1498.5,631.5 M1498.5,631.5 1517.3,625.8 1529.8,619.6 1542.7,613.9 M1498.5,631.5 1512.8,639.1 1528.3,643.9 M1488.8,674.7 1491.1,660.1 1495.1,645.8 1498.5,631.5 M1468.4,678.7 1459.1,686.7 1461.0,693.2 M1258.8,937.1 1269.7,936.8 1284.2,947.0 1298.8,957.1 M1194.1,932.7 1208.7,932.0 1223.2,930.4 1239.4,928.8 1262.7,923.8 1277.9,924.3 M1229.5,904.0 1237.5,893.8 1248.0,886.1 1260.0,883.9 1273.9,898.7 M1229.5,904.0 1238.8,889.5 1246.8,874.3 1261.0,871.3 1267.4,859.8 M1242.9,939.4 1232.4,945.5 M1262.7,923.8 1258.9,914.6 1260.9,901.5 M1305.2,865.4 1320.4,873.9 1334.9,875.6 M1305.2,865.4 1296.3,847.9 1289.7,833.8 M1358.0,911.0 1362.1,929.0 M1347.0,930.3 1350.5,939.6 1343.6,950.5 M1315.9,943.8 1327.4,941.5 1347.0,930.3 M1324.2,892.6 1316.1,909.0 1317.4,927.7 M1338.3,912.3 1347.0,930.3 M1377.9,930.2 1380.9,916.1 1382.8,903.1 M1487.1,989.6 1498.6,970.9 1508.9,960.6 M1479.1,974.1 1498.6,970.9 M1538.0,1051.6 1533.9,1036.4 M1525.1,1083.6 1522.4,1072.8 M1475.9,985.3 1479.1,974.1 M1438.0,962.7 1452.2,959.1 1466.5,956.3 M1415.1,954.1 1426.0,959.8 1438.0,962.7 M1495.8,946.9 1486.4,935.3 1470.2,918.7 M1425.8,824.7 1443.2,828.9 1456.6,832.0 1469.7,836.4 M1384.9,884.4 1406.5,877.9 1423.7,865.8 M1384.9,884.4 1387.3,898.2 1393.0,911.0 1392.2,922.1 1377.9,930.2 M1413.6,912.9 1421.7,912.7 1433.9,915.0 1453.4,911.4 1470.2,918.7 1483.4,919.3 1496.5,917.0 M1423.4,897.8 1440.0,905.7 1453.4,911.4 M1443.8,936.2 1456.3,926.5 1470.2,918.7 1482.5,904.4 1488.5,895.1 1503.4,882.0 M1413.6,912.9 1405.1,908.0 1393.0,911.0 1382.8,903.1 M1426.7,929.2 1433.9,915.0 M1443.8,936.2 1458.1,926.0 1470.2,918.7 M1423.7,865.8 1436.4,880.1 1441.7,886.2 1449.7,889.4 1457.8,895.9 1466.2,900.9 1482.5,904.4 1496.5,917.0 M1446.9,873.6 1463.2,882.9 1471.7,887.6 1479.4,881.5 1503.4,882.0 M1469.7,836.4 1470.9,851.9 1472.9,856.9 1480.8,872.0 M1469.7,836.4 1458.8,847.0 1459.9,855.5 1462.4,868.9 1463.2,882.9 1466.2,900.9 1463.8,907.8 1470.2,918.7 M1423.7,865.8 1433.8,853.0 1446.6,858.1 1459.9,855.5 M1446.9,873.6 1462.4,868.9 M1503.4,882.0 1493.5,873.9 1485.2,864.2 M1469.7,836.4 1487.9,841.4 1499.6,845.9 1511.2,850.8 M1469.7,836.4 1481.1,843.6 1492.9,850.2 1497.0,862.8 1502.6,874.8 M1502.2,830.6 1495.9,838.4 1492.9,850.2 M1463.0,783.2 1472.7,791.4 1485.0,785.7 1495.3,786.6 M1494.3,813.2 1472.4,819.3 1460.0,809.3 M1567.2,432.7 1569.8,418.9 1572.2,405.1 1585.2,393.3 1600.7,392.7 1622.8,393.0 M1551.6,503.4 1545.5,519.8 1559.3,535.0 M1513.8,548.2 1518.7,536.6 1512.5,523.3 1516.2,512.5 M1593.1,521.6 1582.0,516.8 1570.2,514.2 1558.2,503.9 M1474.0,536.1 1483.2,544.2 1496.7,548.0 M1472.6,518.4 1485.7,524.3 1484.9,535.4 M1660.0,422.8 1659.6,408.3 1660.6,394.0 1651.3,379.0 M1736.8,358.7 1737.7,337.5 1729.5,328.7 1738.6,318.2 1745.5,306.3 M1630.6,399.3 1629.4,382.5 M1686.7,403.5 1680.0,383.1 M1748.0,365.2 1759.0,358.9 1769.7,352.2 1768.9,334.4 M1736.8,358.7 1747.3,350.3 1757.7,341.8 1768.9,334.4 M1745.5,306.3 1735.5,288.8 1733.6,282.2 M1713.9,366.5 1704.6,352.3 1692.7,340.3 M1708.4,393.1 1701.1,393.0 1690.5,385.9 M1690.5,385.9 1680.0,383.1 1667.8,396.2 M1736.8,358.7 1721.7,348.8 M1648.1,403.1 1660.6,394.0 M1630.6,399.3 1644.9,393.7 M1628.1,451.8 1614.8,457.9 1591.1,459.6 M1622.8,393.0 1606.6,408.5 1613.7,411.3 M1585.1,402.9 1606.6,408.5 M396.1,295.9 392.5,315.7 393.3,334.5 M352.1,411.8 350.8,420.4 343.9,436.7 M315.5,568.4 314.3,554.8 313.0,544.6 M304.5,497.1 306.4,490.0 309.6,484.3 M331.2,652.7 341.3,673.2 344.6,685.0 348.1,696.7 M345.7,709.2 341.2,704.7 M374.0,587.4 397.1,587.3 M369.4,639.8 383.3,635.5 M430.3,821.3 444.3,823.7 457.6,828.7 471.5,831.5 480.4,831.5 498.6,841.9 M459.2,794.6 466.2,809.8 474.2,824.6 471.5,831.5 471.9,836.1 M433.6,762.6 445.4,769.8 458.3,774.9 470.2,781.7 M361.1,745.2 356.0,737.1 M392.7,717.9 412.6,709.4 M393.5,682.3 397.2,694.4 392.7,717.9 M518.7,790.9 516.6,808.5 510.7,819.8 504.4,830.7 498.6,841.9 492.2,846.8 M622.6,888.8 618.9,902.1 631.6,912.2 640.6,909.7 M582.6,797.1 575.5,782.8 M686.3,767.9 697.8,775.6 708.7,784.1 720.7,786.5 732.5,789.2 744.5,791.5 M585.2,829.8 594.3,815.7 604.4,802.3 M604.4,802.3 617.2,805.1 630.4,805.4 643.3,808.0 662.8,815.9 M598.6,837.9 618.9,837.7 632.4,849.5 646.8,860.1 M678.7,655.6 681.1,679.1 M628.7,540.0 635.1,532.6 M570.8,493.7 573.3,485.1 M626.0,532.2 626.6,518.0 625.0,503.8 625.9,489.6 630.6,478.0 640.2,469.4 M582.8,458.4 574.6,467.4 566.7,476.8 M486.5,356.6 477.5,349.4 463.8,346.4 M476.4,345.7 483.7,336.9 484.7,335.1 M453.1,315.8 464.7,327.7 468.0,332.8 483.7,336.9 M536.7,296.2 539.2,285.6 533.1,263.2 M536.7,296.2 534.3,310.4 530.7,324.2 537.1,329.9 536.5,343.3 M400.9,286.4 397.8,275.7 M400.9,286.4 388.9,282.1 376.5,279.1 M385.4,335.2 363.3,333.2 M377.5,345.8 354.1,347.6 M391.8,337.8 389.9,327.8 380.4,316.8 369.5,307.4 367.4,312.0 M364.6,382.2 341.1,380.6 M377.8,356.6 392.3,363.1 406.5,370.1 420.5,377.7 M420.5,377.7 416.9,392.1 414.2,397.3 M355.5,445.3 368.9,453.1 382.3,461.1 M613.1,341.1 605.9,362.3 M613.1,341.1 613.8,326.2 614.2,311.3 614.7,293.1 M810.1,661.7 814.1,682.4 M764.5,760.5 777.9,744.9 M744.5,791.5 762.7,796.9 772.6,797.4 M706.8,726.7 693.0,726.1 M718.8,708.6 706.8,726.7 M729.7,890.2 742.4,882.2 755.1,874.1 M755.1,874.1 762.8,863.5 770.9,853.2 785.3,858.2 800.1,861.8 M801.9,617.6 805.3,612.7 809.0,597.9 M808.5,628.4 820.2,622.8 830.8,615.1 842.6,609.8 M708.6,641.8 720.6,653.4 724.0,663.9 M814.1,682.4 800.8,675.4 M810.1,661.7 826.6,655.0 843.2,648.4 M778.7,629.4 772.3,613.3 760.7,595.1 M808.5,628.4 796.9,620.3 784.6,613.3 M1020.4,841.6 1018.2,822.0 M1013.2,780.7 1017.4,761.3 1015.6,748.3 1014.8,727.3 M956.6,988.8 966.4,1000.4 976.1,1012.0 M1123.4,857.2 1140.5,843.0 1149.2,834.3 M1043.1,848.3 1049.6,833.5 1060.7,814.3 1065.2,799.3 1067.9,794.7 1072.2,784.5 1073.2,767.3 1076.3,755.9 M1049.2,1019.0 1035.7,1028.0 1022.5,1035.1 M1022.5,1035.1 1012.1,1053.1 1005.0,1062.1 1009.4,1070.7 M1022.5,1035.1 1010.2,1043.3 997.3,1050.3 989.3,1072.5 985.9,1091.5 985.1,1105.1 985.0,1118.7 M995.2,1033.8 1001.2,1047.6 1005.0,1062.1 M942.1,1079.3 954.4,1081.9 966.3,1085.9 985.9,1091.5 M981.6,1127.3 996.0,1127.4 1010.3,1129.0 M1084.7,979.2 1084.2,967.4 1089.2,955.8 1092.8,943.7 1094.8,934.3 1088.7,914.9 1104.9,900.9 M1094.8,934.3 1105.4,913.4 1121.7,900.6 M1104.9,900.9 1107.9,879.9 1112.0,868.0 M1051.5,988.6 1042.4,984.3 1023.6,985.9 1000.2,982.0 M1042.6,968.1 1034.9,960.8 1026.8,948.5 1019.0,936.2 M1000.2,982.0 1017.8,990.9 1024.5,995.3 1037.2,1002.9 M1059.9,1008.0 1058.3,1029.0 1045.6,1035.2 1032.5,1040.4 M1112.9,988.7 1107.9,979.6 1114.4,959.5 M1112.9,988.7 1108.1,977.4 1103.3,966.0 1098.8,954.5 1092.8,943.7 M1092.8,943.7 1085.4,934.2 1077.7,924.8 1075.1,907.5 M1001.0,951.4 986.7,951.6 M1000.2,982.0 985.1,964.8 972.2,962.8 M1000.2,982.0 988.1,981.2 976.0,982.5 963.9,982.1 M976.1,1012.0 954.6,1013.5 936.7,1018.2 M1006.9,874.5 1001.3,861.9 980.4,850.2 M980.4,850.2 981.8,837.8 983.7,825.4 M983.7,825.4 996.8,807.7 1010.0,794.4 M999.3,903.6 988.2,911.7 M1030.0,891.9 1039.6,899.5 1049.3,907.0 1059.2,914.3 M1075.1,907.5 1059.2,914.3 1039.8,916.5 M1030.0,891.9 1041.4,887.6 1052.0,881.6 1061.7,871.8 1070.3,861.0 M1075.1,907.5 1084.9,900.9 1091.9,901.9 M1019.0,936.2 1038.3,933.1 1050.8,931.5 1062.9,928.1 M1013.0,952.3 1024.2,960.4 1034.9,960.8 M860.8,919.1 857.2,901.5 M1055.5,787.6 1053.5,797.0 1060.7,814.3 M1053.7,747.9 1066.1,735.9 1060.3,733.6 M1054.3,770.1 1072.2,784.5 M1054.3,770.1 1073.2,767.3 M1022.8,769.6 1031.7,777.3 M1010.0,794.4 1005.5,777.3 1000.2,760.5 M1012.1,803.5 1013.6,812.2 M1034.4,818.8 1026.6,798.7 M983.7,825.4 996.5,830.3 M983.7,825.4 969.9,823.5 956.3,820.9 M1016.3,714.0 1031.0,711.2 M1049.0,688.6 1061.8,685.6 1074.8,683.5 1086.8,672.4 M1016.3,714.0 994.3,714.5 976.8,712.8 M1016.3,714.0 1023.7,714.8 M1016.3,714.0 1024.6,733.0 M1016.3,714.0 1001.9,700.2 M1030.7,665.2 1038.3,660.3 1050.4,663.3 1062.8,665.0 M1093.2,662.9 1083.9,683.4 1086.6,696.7 1088.6,710.1 1089.8,722.8 1096.3,736.1 M1062.8,665.0 1062.0,678.5 1061.7,692.1 1068.5,715.0 1060.3,733.6 M1093.2,662.9 1076.5,646.1 M1099.8,679.1 1100.3,692.2 1100.3,708.5 1101.6,721.1 1101.9,732.4 M1099.8,745.8 1105.2,761.7 M1133.3,751.2 1135.6,764.9 M1135.6,764.9 1150.3,777.5 1156.6,788.2 1157.6,806.6 M1130.7,730.6 1128.7,716.6 1123.0,703.2 1118.5,689.4 1099.8,679.1 M1130.7,730.6 1144.6,731.5 1158.5,732.9 1165.0,732.2 1175.6,736.8 1189.0,738.3 1202.3,740.2 1215.5,742.7 1226.4,741.9 1236.9,736.8 M1093.2,662.9 1104.4,667.6 1114.9,673.9 1132.3,676.3 1146.5,677.1 1160.4,679.9 M1155.4,666.7 1152.0,648.2 1150.7,638.6 1148.0,625.5 M1146.7,702.4 1147.9,713.0 M1160.4,679.9 1166.4,691.1 1172.5,702.2 M1172.5,702.2 1167.8,724.9 1165.0,732.2 M1085.4,638.7 1101.1,640.0 1122.4,637.6 1136.6,637.9 1150.7,638.6 1164.6,638.2 1178.6,637.6 M1178.6,637.6 1185.4,650.1 1196.6,669.8 M1215.0,675.3 1210.3,690.5 1210.5,707.1 1214.8,712.5 1215.9,727.6 1215.5,742.7 M1233.1,761.3 1235.4,763.2 1243.6,769.0 M1233.1,761.3 1225.0,761.8 1211.7,768.7 1206.7,777.1 M1236.9,736.8 1246.2,730.1 M1193.4,785.1 1199.7,767.1 1198.6,762.8 1207.1,756.6 1215.5,742.7 M1199.7,767.1 1206.7,777.1 M1177.7,799.9 1179.6,782.6 M1140.3,828.5 1140.5,843.0 M1140.3,828.5 1126.5,827.9 M1162.5,818.7 1162.6,835.1 1161.5,851.5 1150.0,859.9 1153.3,874.8 M1153.3,874.8 1137.0,874.6 1124.8,870.1 1112.0,868.0 M1153.3,874.8 1155.3,887.1 1155.1,899.6 M1100.4,797.3 1109.2,815.7 1106.7,827.7 1101.2,845.8 1105.6,857.4 1112.0,868.0 M1106.9,772.9 1097.3,768.3 1082.9,768.0 1068.6,768.4 1054.3,770.1 M1157.6,806.6 1169.4,790.8 M1171.8,837.1 1180.0,858.2 M1171.8,837.1 1183.6,823.2 M1206.4,809.7 1205.6,815.6 1210.0,822.7 M1155.0,760.3 1135.6,764.9 M1177.2,981.7 1174.9,970.6 1168.8,956.8 1162.4,943.0 1152.3,935.4 1142.4,927.5 1121.6,916.7 1121.7,900.6 M1181.7,988.1 1199.2,999.0 1203.5,999.2 1218.7,1002.0 M1140.1,982.7 1132.0,975.3 1135.8,961.1 1135.3,949.0 1130.6,935.6 1121.6,916.7 M1140.1,982.7 1148.8,973.7 1155.9,963.4 1162.4,943.0 M1162.4,943.0 1159.7,931.1 1155.2,919.7 1155.1,899.6 M1162.4,943.0 1170.8,929.7 1191.0,932.6 M1170.8,899.4 1177.6,890.2 M1224.9,969.2 1224.4,957.0 1223.1,944.9 M1174.9,970.6 1164.4,973.3 M1203.7,972.2 1193.1,963.0 M1218.7,1002.0 1233.3,1006.7 M1239.5,970.3 1242.5,956.8 M1121.7,900.6 1113.6,888.5 M1177.2,981.7 1175.6,990.6 M991.1,596.5 1011.2,598.7 M1168.7,556.3 1158.7,548.3 1150.2,538.6 M1117.0,556.3 1125.8,540.2 1123.7,528.2 1122.2,516.1 M1122.0,497.7 1125.2,482.1 1123.9,474.2 M1144.8,483.6 1166.0,481.7 1176.8,490.2 M1138.4,358.3 1139.5,361.6 1131.3,363.3 M1112.9,422.0 1113.2,407.9 1111.5,393.8 M1095.0,414.5 1098.7,400.8 M1098.7,400.8 1086.1,399.5 1073.6,397.9 1056.8,384.6 1035.0,382.9 M1095.4,453.6 1078.3,445.6 M1078.3,445.6 1062.8,438.1 1054.8,429.7 M1105.3,479.7 1091.1,486.2 1076.9,489.0 1064.9,498.4 M1105.3,479.7 1116.9,482.6 1125.2,482.1 M1105.3,479.7 1092.3,474.2 M1142.5,464.2 1154.2,473.0 1166.0,481.7 M1122.7,429.0 1122.2,417.3 1130.4,412.6 M1116.8,456.4 1102.1,459.1 1087.7,463.2 1072.9,465.5 1058.5,469.8 M1055.6,585.0 1040.1,578.1 M1055.6,585.0 1051.0,579.3 M1055.6,585.0 1056.2,596.2 1057.6,608.6 M1035.1,601.2 1033.5,619.6 M1035.1,601.2 1029.0,608.1 M991.1,596.5 988.4,607.8 M1043.5,540.1 1058.7,538.6 1073.9,536.6 1088.1,537.5 1102.1,539.7 M1102.1,539.7 1110.1,541.8 1125.8,540.2 1138.0,538.4 1150.2,538.6 M1150.2,538.6 1160.6,539.5 1177.5,538.4 1194.3,536.2 M1117.0,556.3 1111.0,555.8 1097.9,557.5 1086.1,556.3 1070.4,558.6 M1117.0,556.3 1135.5,552.8 1152.0,555.1 1168.7,556.3 M1168.7,556.3 1181.5,546.8 1194.3,536.2 M1198.5,571.4 1193.2,552.5 1194.3,536.2 M1198.5,571.4 1183.6,577.8 1185.7,597.9 1180.1,603.6 1177.7,611.0 M1117.4,572.2 1131.2,582.4 1147.9,584.5 1150.4,591.8 1161.9,590.2 1174.6,593.5 1185.7,597.9 M1172.9,567.7 1169.7,581.8 1174.6,593.5 M1117.4,572.2 1106.9,580.7 M1117.4,572.2 1102.9,564.0 M1126.9,515.6 1142.4,517.9 1145.5,529.7 1150.2,538.6 M1126.9,515.6 1122.2,516.1 M1102.1,539.7 1100.0,531.2 1099.1,518.9 M1074.8,516.0 1073.9,536.6 M1057.7,585.0 1073.9,593.9 M1116.0,591.7 1124.9,592.7 1141.0,593.1 1150.4,591.8 M1194.3,536.2 1184.3,527.5 1174.3,518.8 1164.7,509.7 M1257.8,459.1 1265.6,437.1 1270.7,424.4 1277.7,412.6 M1241.7,450.6 1228.8,447.2 1215.4,446.1 1198.0,447.5 1184.5,449.0 1170.9,449.4 1168.3,454.2 M1223.3,496.8 1221.7,479.1 1218.0,461.8 1215.4,446.1 M1226.0,513.6 1239.5,498.5 1248.7,486.6 M1226.0,513.6 1207.2,518.8 1198.6,527.6 1194.3,536.2 M1226.0,513.6 1216.2,506.0 1209.8,498.2 M1248.0,468.9 1232.6,467.4 1218.0,461.8 1202.4,457.4 M1245.7,477.8 1226.0,478.5 M1176.8,490.2 1185.9,497.7 1180.7,517.0 M1226.0,513.6 1222.1,530.3 M1264.8,511.7 1251.4,501.6 1239.5,498.5 M1252.6,705.5 1250.5,718.1 1246.2,730.1 M1264.8,617.6 1246.3,629.2 1227.4,632.0 1211.4,634.0 1196.9,639.7 1178.6,637.6 M1226.8,599.8 1235.1,618.5 M1243.5,606.2 1246.3,629.2 1244.6,644.8 1242.7,660.4 1246.0,677.4 1251.8,684.1 M1205.3,591.7 1198.3,592.8 1185.3,598.9 M1236.1,541.8 1223.2,543.6 1208.9,539.6 1194.3,536.2 M1205.3,591.7 1215.6,581.8 1238.6,575.7 M1218.6,665.6 1216.0,649.6 1211.4,634.0 M1252.6,705.5 1263.0,701.7 M1259.6,654.4 1270.7,668.0 1286.4,665.1 1288.7,668.0 M1272.0,580.7 1284.8,592.7 M1281.4,616.2 1281.6,631.5 1289.5,639.1 M1244.4,706.1 1239.9,697.4 1232.8,687.4 1225.3,677.7 M1314.6,647.7 1316.8,658.7 1318.6,668.6 M1344.8,574.9 1337.2,584.0 1328.5,588.3 1319.1,588.4 1313.5,590.3 1300.7,603.5 M1289.9,693.7 1290.0,680.8 1288.7,668.0 1289.6,652.1 1289.5,639.1 M1289.5,639.1 1296.2,628.6 1301.4,617.3 1300.7,603.5 M1289.9,693.7 1306.1,682.0 1306.3,676.9 M1288.7,668.0 1299.7,666.2 1316.8,658.7 1332.9,653.4 1340.4,649.5 1347.9,659.8 M1322.5,625.0 1332.9,630.7 1342.7,638.5 M1356.7,619.0 1354.3,607.0 1349.6,590.9 1344.8,574.9 M1320.6,599.0 1333.0,595.1 M1300.7,603.5 1284.8,592.7 M1331.2,644.9 1314.6,647.7 M1307.2,500.8 1302.7,488.1 1299.4,475.1 M1323.6,508.9 1323.2,494.9 1324.6,481.1 1325.1,461.9 M1366.6,480.9 1362.2,469.2 1356.2,458.4 1340.9,445.2 M1353.4,513.8 1347.2,493.0 1343.9,483.3 1343.0,475.4 M1366.6,480.9 1357.2,481.0 1343.0,475.4 M1365.8,487.1 1361.8,502.9 1353.4,513.8 M1374.4,500.9 1361.8,502.9 M1312.5,516.2 1323.6,508.9 M1313.0,556.5 1313.0,550.8 1306.1,541.2 M1328.0,532.7 1329.2,544.6 1320.1,555.7 M1359.4,530.5 1370.4,541.9 1384.7,549.2 M1394.3,523.1 1394.0,506.1 1384.9,497.5 M1323.6,508.9 1339.2,507.9 1353.4,513.8 M1323.6,508.9 1333.4,501.1 M1394.4,575.9 1390.8,565.1 1384.7,549.2 M1411.0,630.4 1413.2,636.0 1413.4,652.0 M1434.9,627.0 1449.9,626.9 M1385.3,594.3 1369.8,593.3 1373.8,583.8 M1421.5,603.5 1436.4,590.9 1447.1,583.3 M1411.0,630.4 1423.7,641.4 1435.8,645.0 M1370.2,644.1 1388.4,649.8 1401.0,649.9 1413.4,652.0 1430.1,661.0 M1416.2,577.3 1403.9,578.3 1394.4,575.9 1373.8,583.8 1359.9,580.9 1344.8,574.9 M1446.3,571.4 1452.8,564.1 1464.0,557.6 M1446.3,571.4 1455.7,578.6 1466.7,572.8 M1464.0,557.6 1466.7,572.8 1467.0,584.3 1468.2,595.1 M1464.0,557.6 1458.9,544.5 1455.9,530.7 M1384.7,549.2 1372.0,560.8 1362.6,563.4 1344.8,574.9 M1384.7,549.2 1369.4,552.6 1360.0,558.9 1346.2,554.7 M1384.7,571.4 1396.1,567.9 1412.9,560.1 1423.9,553.9 M1407.6,553.3 1412.9,560.1 1416.2,577.3 M1376.0,619.3 1385.6,612.2 1386.1,604.5 1385.3,594.3 M1385.6,612.2 1395.0,610.5 1407.3,607.8 M1376.0,619.3 1371.5,628.2 1368.7,634.6 1370.2,644.1 M1370.2,644.1 1361.0,630.5 1356.7,619.0 M1445.0,599.8 1459.3,589.9 1467.0,584.3 1485.2,578.3 M1400.7,585.7 1408.5,587.0 1416.2,577.3 M1434.3,547.6 1441.2,539.8 1451.1,546.8 1455.7,552.8 M1441.1,561.9 1443.4,559.0 1447.5,556.2 1455.7,552.8 1464.0,557.6 M1384.7,571.4 1375.9,572.7 1362.6,563.4 M1403.1,551.5 1399.7,560.1 1396.1,567.9 M1338.7,699.1 1325.7,705.7 1311.8,710.3 1303.9,719.5 1296.7,715.5 1284.6,725.2 1263.7,728.2 M1325.0,726.0 1311.8,710.3 1303.4,699.7 M1303.4,699.7 1287.2,699.8 M1303.4,699.7 1322.0,697.4 1338.7,699.1 M1376.5,716.7 1390.9,713.4 1403.1,709.6 1415.4,705.9 M1375.1,682.2 1394.2,686.7 1410.1,694.0 1415.4,705.9 1433.0,695.0 M1433.0,695.0 1435.2,712.7 1436.6,728.5 M1376.5,716.7 1379.6,739.5 1379.0,759.0 M1375.1,682.2 1379.7,669.7 1375.2,657.9 1366.3,646.5 M1339.3,678.6 1348.3,693.5 1356.2,699.2 1369.6,699.7 M1348.3,693.5 1338.7,699.1 M1325.0,726.0 1315.2,733.9 1296.7,733.6 M1263.7,728.2 1265.0,739.4 1256.2,749.0 1252.4,753.1 1244.0,767.9 M1263.7,728.2 1271.3,742.7 1271.9,754.6 M1364.2,677.6 1376.1,674.9 M1259.3,775.0 1259.7,770.3 1252.4,753.1 M1261.7,781.8 1274.1,779.3 1281.3,779.2 1288.7,780.1 1300.7,778.4 1312.7,777.1 M1261.7,781.8 1271.9,795.8 1272.0,805.7 M1227.0,800.9 1245.9,797.6 1256.1,796.6 1271.9,795.8 1280.2,796.3 1293.9,794.0 1307.7,791.6 1313.8,794.0 1328.4,796.0 1342.4,790.2 1364.8,792.5 M1261.7,781.8 1270.4,763.7 1271.9,754.6 1286.3,750.1 1300.5,745.1 M1318.3,756.9 1299.8,759.8 1291.0,761.0 1280.3,765.8 1270.4,763.7 M1318.3,756.9 1328.1,748.1 1337.6,741.9 M1318.3,756.9 1313.0,743.7 M1330.6,767.0 1330.1,777.6 1328.4,796.0 1328.8,807.9 M1330.6,767.0 1346.8,770.8 1354.4,757.0 1354.9,753.1 M1331.5,754.5 1330.6,767.0 M1364.8,792.5 1373.9,775.5 1379.0,759.0 M1376.8,787.1 1389.5,771.5 1401.0,764.8 1411.5,756.8 M1312.7,777.1 1307.7,791.6 1296.9,808.4 M1312.7,777.1 1319.9,780.5 1330.1,777.6 M1376.8,787.1 1392.8,790.4 M1453.1,660.2 1447.8,679.1 1439.1,686.5 1433.0,695.0 M1453.1,660.2 1445.2,650.9 1437.2,641.8 1435.8,645.0 M1430.1,661.0 1437.2,641.8 1444.7,640.2 M1449.9,626.9 1460.0,614.7 1468.8,601.5 1468.2,595.1 M1523.5,600.6 1542.7,613.9 M1470.4,697.1 1455.4,707.0 1445.3,702.3 1433.0,695.0 M1455.4,707.0 1450.8,721.4 M1324.9,964.6 1343.6,950.5 1356.5,950.2 1370.6,948.5 1384.6,945.7 M1466.5,956.3 1480.9,950.7 1495.8,946.9 M1229.5,904.0 1219.8,883.5 1217.7,874.1 1212.1,862.1 M1258.8,937.1 1242.9,939.4 1223.6,942.6 1208.8,937.8 1194.1,932.7 M1194.1,932.7 1200.6,917.7 1208.3,903.4 M1200.9,865.5 1209.2,852.3 1213.9,836.1 1219.3,818.0 1227.0,800.9 M1200.9,865.5 1212.1,862.1 1226.8,860.0 1240.3,861.1 1252.5,857.8 1267.4,859.8 1278.8,857.1 1291.7,860.0 1305.2,865.4 M1298.8,957.1 1292.7,945.6 1284.3,935.6 1277.9,924.3 1273.5,908.7 1273.9,898.7 1275.9,884.7 1276.7,870.5 1278.8,857.1 1275.9,843.7 1268.7,830.3 1269.3,818.3 1272.0,805.7 M1227.0,800.9 1241.9,803.7 1257.0,804.5 1272.0,805.7 1282.8,810.6 1296.9,808.4 1317.9,813.7 1328.8,807.9 M1346.0,807.7 1356.8,793.0 1364.8,792.5 M1232.1,831.1 1244.3,828.1 1258.7,830.5 1268.7,830.3 M1237.2,850.3 1240.3,861.1 M1213.9,836.1 1232.1,831.1 M1256.2,972.0 1267.4,971.1 M1348.8,832.1 1355.1,844.1 1348.9,848.0 1342.9,863.1 M1355.1,844.1 1370.9,861.7 1376.3,872.6 1372.4,878.9 M1317.9,813.7 1299.1,810.2 1297.1,821.1 1289.7,833.8 M1323.5,828.8 1311.7,842.3 M1346.0,891.9 1339.4,890.1 1324.2,892.6 1311.7,892.8 1299.3,890.9 1286.3,893.8 1273.9,898.7 M1305.2,865.4 1304.1,884.6 1299.3,890.9 1301.0,905.8 1304.2,920.5 1300.9,928.7 1300.7,943.0 1298.8,957.1 M1377.9,930.2 1384.6,945.7 1378.1,956.9 1373.8,969.0 M1377.9,930.2 1362.1,929.0 1355.9,925.7 1347.0,930.3 1329.4,927.6 1317.4,927.7 1304.2,920.5 M1377.9,930.2 1380.7,916.7 1382.8,903.1 1384.9,884.4 M1346.0,891.9 1344.5,886.3 1354.0,871.3 M1298.8,957.1 1304.5,964.9 1310.0,965.6 1311.3,970.5 M1514.2,1095.8 1527.6,1094.8 1540.6,1091.1 1553.9,1089.3 1567.2,1088.0 M1560.1,1112.7 1563.6,1125.7 1558.4,1132.7 1544.6,1142.5 1536.3,1145.2 1522.8,1151.2 M1474.6,1001.9 1464.5,990.2 1455.0,978.0 1438.0,962.7 1426.4,958.7 1415.1,954.1 M1510.2,1033.1 1514.7,1043.4 1521.3,1047.2 1529.0,1058.5 1534.6,1070.9 1545.8,1080.6 1557.1,1090.3 1567.7,1100.6 M1503.6,1069.3 1507.1,1058.9 1504.0,1047.8 1504.8,1032.1 M1484.3,1056.9 1507.1,1058.9 1522.6,1055.6 1538.0,1051.6 1553.4,1042.3 M1509.0,1078.6 1522.4,1072.8 1534.6,1070.9 1547.2,1070.4 1566.6,1066.8 M1487.1,989.6 1480.4,995.3 1474.6,1001.9 M1482.6,1013.5 1483.6,1004.0 1487.1,989.6 M1499.0,1029.5 1491.6,1023.8 1482.6,1013.5 M1514.2,1009.1 1514.6,1018.1 1510.2,1033.1 M1514.2,1095.8 1525.1,1083.6 M1373.8,969.0 1384.7,975.2 1395.1,982.3 M1415.1,954.1 1422.4,938.7 1418.5,925.6 1413.6,912.9 M1415.1,954.1 1403.9,938.8 1408.0,925.5 1413.6,912.9 M1343.6,950.5 1343.3,963.2 M1356.5,950.2 1347.1,963.5 M1331.1,956.1 1324.9,964.6 M1495.8,946.9 1500.3,936.0 M1425.8,824.7 1441.7,817.6 1444.4,802.4 M1425.8,824.7 1425.1,837.5 1433.8,853.0 1423.7,865.8 M1372.4,820.4 1378.0,812.5 M1372.4,820.4 1383.3,822.4 M1372.4,820.4 1366.8,805.4 1364.8,792.5 M1384.9,884.4 1397.5,889.1 1409.3,895.6 1423.4,897.8 M1413.6,912.9 1412.9,926.3 1422.4,938.7 M1443.8,936.2 1434.6,938.3 1422.4,938.7 1403.9,938.8 1391.1,933.8 1377.9,930.2 M1411.4,814.2 1419.5,817.7 1425.8,824.7 M1418.1,806.0 1431.2,810.1 1444.4,802.4 M1387.8,853.1 1403.2,853.5 M1375.2,842.9 1387.8,853.1 M1375.8,801.4 1389.3,805.0 M1494.3,813.2 1514.9,812.8 1526.8,811.1 1538.8,809.8 1550.9,809.9 M1533.8,851.4 1528.2,837.4 1530.2,817.6 1530.1,799.9 1524.8,791.7 1521.2,782.6 1525.2,773.6 M1494.3,813.2 1514.9,812.8 1530.1,799.9 M1494.3,813.2 1484.6,821.9 1476.5,832.1 M1494.3,813.2 1490.2,802.3 1485.0,785.7 1489.1,780.3 M1449.9,788.8 1460.0,809.3 1463.8,823.2 1469.7,836.4 M1449.9,788.8 1446.6,775.5 1441.7,762.6 M1506.2,800.9 1495.3,786.6 1492.8,768.4 M1528.2,784.8 1521.2,782.6 M1530.1,799.9 1528.2,784.8 1525.2,773.6 M1596.4,726.8 1605.2,726.5 1620.1,722.3 1634.4,716.2 M1550.1,765.2 1561.6,779.5 1582.6,789.3 M1550.1,765.2 1565.3,765.1 1576.1,762.1 1593.7,767.9 M1550.1,765.2 1534.2,761.1 M1573.3,748.7 1573.0,736.2 M1573.3,748.7 1573.0,754.5 1577.4,772.3 M1584.3,748.4 1589.3,737.0 M1584.3,748.4 1593.7,767.9 M1492.8,768.4 1511.4,758.4 1519.4,746.3 M1499.5,752.0 1511.4,758.4 M1441.7,762.6 1424.2,775.3 1405.9,782.2 M1424.2,775.3 1418.6,779.5 1417.4,792.7 1418.1,806.0 M1463.5,736.6 1469.5,727.9 M1463.5,736.6 1443.8,736.3 M1441.7,762.6 1455.8,747.9 M1616.8,705.9 1609.0,717.6 1596.4,726.8 M1574.9,727.7 1574.0,709.4 M1616.8,705.9 1634.3,712.6 1634.4,716.2 M1590.1,711.5 1596.4,726.8 M1543.4,731.8 1539.1,721.7 1540.2,705.8 M1526.8,732.6 1519.4,746.3 M1560.2,701.4 1540.2,705.8 1525.5,712.9 1511.6,711.6 1498.1,713.5 1484.4,713.4 M1527.5,682.3 1547.4,680.6 1562.3,680.8 1577.1,679.6 M1573.8,668.8 1587.0,651.8 M1604.8,680.7 1592.6,665.7 1587.0,651.8 1567.9,641.9 M1567.9,641.9 1552.2,638.7 M1567.9,641.9 1555.8,629.1 1542.7,613.9 M1573.8,668.8 1560.6,674.8 1547.4,680.6 M1525.5,712.9 1537.3,706.8 1549.4,701.2 1558.2,690.9 1564.8,679.0 1573.8,668.8 M1610.7,686.8 1615.2,671.2 1619.3,655.4 1618.8,642.3 1618.2,629.2 M1528.3,643.9 1537.0,634.3 1552.2,638.7 M1541.8,656.9 1552.2,646.9 1552.2,638.7 M1493.3,694.9 1470.4,697.1 M1506.1,691.2 1505.9,678.8 1504.9,666.4 M1476.1,707.9 1484.4,713.4 1491.9,721.9 M1594.7,695.7 1603.5,692.8 M1614.2,600.4 1623.4,614.0 1631.6,628.1 M1568.1,466.4 1566.5,449.6 1567.2,432.7 M1541.1,550.8 1550.7,543.5 1559.3,535.0 M1541.1,550.8 1558.3,545.6 1575.5,540.6 1588.5,539.3 1608.7,533.8 M1629.7,442.9 1622.5,424.1 1622.4,408.6 1622.8,393.0 M1472.6,518.4 1495.0,515.6 1516.2,512.5 1533.5,498.0 1551.6,503.4 1558.2,503.9 1581.4,498.6 M1581.4,498.6 1592.8,502.4 1604.7,504.3 1616.4,507.2 1625.1,513.0 M1528.0,586.1 1523.5,600.6 M1539.8,555.5 1546.8,558.3 1557.8,564.4 1569.5,568.8 M1514.7,577.1 1517.7,571.7 1507.9,567.3 M1512.5,589.3 1514.7,577.1 M1484.5,566.0 1496.7,548.0 M1485.2,578.3 1489.0,571.6 1507.9,567.3 1510.4,554.5 1513.8,548.2 M1485.2,578.3 1497.4,593.9 1491.2,607.0 M1498.4,581.1 1502.1,581.4 1514.7,577.1 M1586.4,573.8 1594.2,561.0 M1586.4,573.8 1581.5,563.7 M1593.1,521.6 1603.0,515.6 M1567.6,547.4 1575.5,540.6 M1579.7,550.5 1588.5,539.3 M1604.4,549.2 1595.1,543.4 1588.5,539.3 M1565.9,549.2 1567.6,547.4 1574.0,546.9 M1626.2,558.4 1627.4,551.5 1625.3,543.5 M1610.3,544.5 1613.9,533.3 1621.9,523.0 M1676.9,523.1 1685.8,516.5 M1636.0,501.1 1635.8,490.6 1636.5,479.1 1632.5,466.7 M1662.3,461.6 1661.0,452.3 1657.8,434.7 1660.0,422.8 M1660.0,500.6 1658.9,492.9 1645.3,480.9 1646.9,470.6 M1646.9,470.6 1646.9,461.5 1644.5,455.2 M1644.5,455.2 1645.1,441.7 1644.1,428.2 1637.7,415.9 1630.6,399.3 M1632.5,466.7 1636.5,464.2 1644.5,455.2 M1683.6,433.0 1674.8,414.8 1667.8,396.2 1660.6,394.0 M1687.6,440.2 1704.5,432.7 M1687.6,440.2 1667.4,447.7 1661.0,452.3 M1683.6,433.0 1672.8,427.7 1661.9,422.7 1660.0,422.8 1648.1,403.1 1630.6,399.3 M1704.5,432.7 1696.8,426.2 1690.9,415.2 1686.7,403.5 M1683.6,433.0 1682.4,421.4 1674.8,414.8 M1683.6,433.0 1696.8,426.2 M1716.4,398.0 1719.9,397.0 1722.1,394.4 1735.6,385.4 1734.7,373.2 1748.0,365.2 M1718.3,373.5 1713.9,366.5 M1711.4,408.7 1691.1,401.9 1686.7,403.5 M1717.0,382.8 1734.7,373.2 M1644.1,428.2 1660.0,422.8 M1644.1,428.2 1636.4,429.9 1629.7,442.9 M1568.1,466.4 1559.8,457.1 1563.0,444.7 1567.2,432.7 M1591.1,459.6 1584.4,457.0 1575.9,444.8 1567.2,432.7 M1581.4,498.6 1587.7,480.0 1591.1,459.6 M1581.4,498.6 1591.4,490.6 1600.6,481.5 1612.8,470.3 1626.2,460.7 M1563.6,489.8 1558.2,503.9 M1563.6,489.8 1548.1,477.2 M1568.1,466.4 1558.2,472.9 1548.1,477.2 M1530.0,470.1 1541.9,465.0 1559.8,457.1 M1496.1,478.4 1502.4,477.5 1522.1,470.9 1530.0,470.1 M1499.5,492.7 1507.8,502.7 1516.2,512.5 M1499.2,485.9 1511.0,482.0 1522.8,478.1 1539.1,477.6 1548.1,477.2 M1516.2,478.7 1521.5,487.2 1531.4,491.5 M1632.5,466.7 1621.8,465.2 1611.8,474.1 1600.6,481.5 M1632.1,493.5 1624.0,502.9 1625.1,513.0 M1635.4,508.7 1636.0,501.1 1640.7,499.8 M1258.9,914.6 1251.7,901.0 1248.0,886.1 M1258.9,914.6 1249.6,926.1 1242.9,939.4 M1258.9,914.6 1272.5,899.8 M1084.2,967.4 1096.1,973.4 1107.9,979.6 M1084.2,967.4 1091.6,977.2 1097.5,987.8 1102.8,998.8 M1521.5,487.2 1502.4,477.5 M1521.5,487.2 1532.5,484.6 1542.3,478.8 1553.2,475.8 M1466.7,572.8 1455.4,576.5 1443.9,579.9 1432.4,583.1 M1466.7,572.8 1477.4,579.2 1487.2,586.8 1497.4,593.9 M1466.7,572.8 1477.9,573.2 1489.0,571.6 M1156.1,612.4 1144.8,610.7 1133.2,610.9 1121.8,610.2 1110.6,607.0 M1283.0,565.2 1292.2,554.3 1300.4,542.7 1310.3,532.4 M1283.0,565.2 1303.2,570.2 M999.2,940.5 998.0,951.7 996.9,962.9 993.2,973.6 M999.2,940.5 1008.4,927.3 1020.8,917.0 M999.2,940.5 999.3,928.2 1000.2,915.9 999.3,903.6 M1364.2,886.7 1374.4,892.1 1384.3,898.0 1394.1,904.1 1405.1,908.0 M1364.2,886.7 1372.2,878.3 1383.4,874.1 1391.9,866.4 M1263.0,549.9 1250.3,553.1 1237.4,555.4 M1345.9,566.5 1356.5,572.1 1368.0,575.1 1379.6,577.7 M1345.9,566.5 1357.2,559.0 1370.0,554.1 1381.3,546.5 M1084.9,900.9 1080.3,888.8 1076.7,876.2 M1248.0,886.1 1232.3,874.0 M1248.0,886.1 1263.2,880.0 1276.7,870.5 M1248.0,886.1 1255.6,865.9 M1576.2,619.2 1583.9,628.3 1592.7,636.3 M1576.2,619.2 1571.8,606.5 1570.9,593.0 M1448.5,733.4 1446.7,745.1 1444.3,756.7 1442.8,768.4 M1448.5,733.4 1458.5,741.4 1467.4,750.7 M1247.8,536.1 1239.8,523.9 1231.5,511.9 M1065.6,797.7 1065.3,781.0 1068.9,764.8 M1034.1,840.8 1034.3,829.8 1034.4,818.8 M1553.2,475.8 1567.6,461.6 M372.7,608.9 370.4,593.3 368.6,577.5 M372.7,608.9 357.7,608.7 343.2,612.9 M1315.9,943.8 1313.8,957.2 1311.3,970.5 M1191.0,932.6 1195.5,944.7 1197.4,957.7 1203.6,969.2 M1103.0,451.3 1118.4,450.6 1133.7,448.8 M1432.4,583.1 1437.3,604.1 M1495.2,547.7 1509.3,548.4 1523.5,549.1 M1237.4,555.4 1246.5,563.5 1256.2,570.9 M1237.4,555.4 1236.9,575.1 M1396.1,567.9 1379.6,577.7 M1431.2,810.1 1425.3,800.6 1424.7,788.9 1418.6,779.5 M1384.1,730.1 1396.6,733.9 1409.1,737.4 M1384.1,730.1 1385.4,718.7 1383.1,707.5 1381.6,696.3 M1392.8,790.4 1393.1,803.2 1393.7,816.0 M1636.5,479.1 1640.7,499.8 M1383.5,523.8 1374.5,512.1 1362.9,503.0 M1383.5,523.8 1392.6,514.0 1404.2,507.4 M1383.5,523.8 1384.7,511.8 1385.5,499.8 1388.4,488.1 M1383.5,523.8 1375.2,531.3 1364.6,535.7 1355.9,542.9 M1206.2,672.3 1196.8,660.3 1185.4,650.1 M1305.6,598.6 1304.5,584.4 1303.2,570.2 M1007.7,816.8 1021.0,817.8 1034.4,818.8 M1221.9,984.3 1211.5,978.3 1203.6,969.2 M1163.3,815.6 1167.6,804.0 1174.0,793.5 1179.6,782.6 M1325.4,740.5 1326.3,761.6 M1674.0,524.4 1664.1,514.6 1652.1,507.6 1640.7,499.8 M1604.1,550.3 1596.5,538.2 1592.0,524.5 M1276.7,870.5 1255.6,865.9 M1658.9,492.9 1670.1,484.1 1681.0,475.1 M1425.6,628.4 1411.9,624.7 1397.8,623.4 M1637.9,591.3 1640.0,578.7 1640.9,565.9 M1476.6,553.8 1489.0,571.6 M1373.9,775.5 1386.4,768.6 1399.9,763.9 1412.5,757.1 M1057.1,873.5 1076.7,876.2 M1497.4,593.9 1485.0,598.8 1472.6,603.9 1459.5,606.8 M1497.4,593.9 1503.9,604.6 1511.8,614.5 1517.3,625.8 M1277.9,924.3 1274.5,912.2 1272.5,899.8 M1592.7,636.3 1587.6,649.8 1581.0,662.5 1572.4,674.0 M1611.7,598.8 1603.9,586.8 1598.7,573.4 M1552.1,752.7 1555.5,740.1 1559.3,727.6 M1627.4,551.5 1640.9,565.9 M1681.0,475.1 1680.1,489.6 1675.4,503.3 M1681.0,475.1 1685.6,461.7 1688.2,447.8 M1675.4,503.3 1685.6,498.4 1695.4,492.6 1706.7,490.0 1717.5,486.4 1727.7,481.4 1737.4,475.4 M1172.3,404.2 1158.3,411.0 1144.8,418.8 M1369.7,614.4 1350.7,624.5 M1434.6,836.7 1445.6,837.5 1456.6,838.4 1467.7,836.8 M1434.6,836.7 1417.3,825.0 M1235.1,618.5 1229.7,607.6 1226.0,596.0 M1235.1,618.5 1250.3,622.5 1264.0,630.0 M355.9,637.6 350.2,624.9 343.2,612.9 M355.9,637.6 336.8,639.2 M1024.5,995.3 1023.3,983.7 1025.9,972.0 1024.2,960.4 M1598.7,573.4 1588.8,579.2 1580.2,586.6 1570.9,593.0 M1373.8,829.0 1381.1,840.8 1386.4,853.6 1391.9,866.4 M1373.8,829.0 1369.7,817.4 1366.8,805.4 M1400.4,848.7 1404.4,861.7 1411.9,873.2 1415.0,886.5 M1621.8,465.2 1607.5,463.6 1593.3,462.0 M1621.8,465.2 1612.2,474.4 1599.6,479.3 1590.1,488.6 1578.8,495.2 M1486.7,614.5 1502.6,618.7 1517.3,625.8 M1408.5,587.0 1411.3,575.6 1417.4,565.6 1422.2,555.1 M1087.8,851.0 1097.9,846.1 1107.1,839.3 1117.3,834.4 1126.5,827.9 M1561.6,779.5 1549.5,779.7 1537.8,776.8 M1284.8,592.7 1275.9,584.6 1266.2,577.6 1256.2,570.9 M1528.2,837.4 1516.3,841.4 1504.7,845.9 1492.9,850.2 M1515.9,800.7 1507.0,807.7 1497.6,814.0 1489.1,821.5 M1415.0,886.5 1403.4,876.4 1391.9,866.4 M1379.6,577.7 1372.1,587.0 1362.8,594.4 M1381.3,546.5 1368.9,542.5 1355.9,542.9 M1132.0,975.3 1134.5,962.3 1135.3,949.0 M1528.1,745.1 1516.6,747.7 1504.9,746.2 M1528.1,745.1 1519.6,736.0 1515.1,724.3 1507.8,714.4 M1593.3,462.0 1587.7,472.8 1583.9,484.3 1578.8,495.2 M1489.1,821.5 1503.0,822.2 1516.7,821.1 1530.2,817.6 M1404.2,507.4 1396.3,497.8 1388.4,488.1 M1304.1,884.6 1313.8,872.1 1324.0,859.9 M1485.0,785.7 1488.9,775.3 1496.7,766.8 1498.6,755.4 1504.9,746.2 M1517.7,571.7 1521.8,586.6 1523.7,601.8 M1517.7,571.7 1527.6,580.7 1540.7,584.6 1550.8,593.3 M1517.7,571.7 1532.8,566.1 1546.8,558.3 M1034.4,818.8 1031.0,807.9 1031.4,796.6 1030.3,785.4 M1150.5,697.8 1139.4,707.0 1128.7,716.6 M1590.1,711.5 1594.6,700.4 1598.8,689.2 1603.0,678.0 M1442.8,768.4 1456.9,768.1 1470.8,770.9 M1442.8,768.4 1435.1,756.2 1431.2,742.4 M1442.8,768.4 1427.5,763.1 1412.5,757.1 M1442.8,768.4 1454.4,758.5 1467.4,750.7 M1514.7,1043.4 1497.1,1031.6 M1169.7,581.8 1179.1,588.9 1185.3,598.9 M1578.8,495.2 1570.2,514.2 M1203.6,969.2 1188.9,971.1 1174.3,969.6 M1203.6,969.2 1199.6,983.9 1199.2,999.0 M1100.3,692.2 1088.1,692.1 1075.9,692.9 M364.1,681.0 352.4,678.2 341.7,672.6 M343.2,612.9 326.4,622.0 M1523.7,601.8 1532.6,610.1 1543.4,615.5 M1523.7,601.8 1519.2,613.5 1517.3,625.8 M1214.9,452.7 1224.3,459.5 1232.6,467.4 M1204.5,559.8 1215.3,564.8 1226.9,568.3 1236.9,575.1 M1570.6,570.5 1559.8,581.1 1550.8,593.3 M1570.9,593.0 1588.9,599.7 M1067.9,989.9 1080.2,1006.2 M1602.1,616.2 1588.9,599.7 M1504.9,746.2 1507.5,730.4 1507.8,714.4 M1504.9,746.2 1492.8,740.6 1480.7,735.1 1469.5,727.9 M1088.6,710.1 1075.9,692.9 M1550.8,593.3 1546.7,604.3 1543.4,615.5 M1550.8,593.3 1548.9,581.7 1549.2,569.8 1546.8,558.3 M1397.8,623.4 1392.9,613.4 1386.1,604.5 M1381.6,696.3 1371.5,708.3 1362.7,721.3 M1513.8,1018.2 1497.1,1031.6 M1077.7,924.8 1072.2,945.1 M341.7,672.6 332.6,664.5 325.3,654.6 M341.7,672.6 339.7,661.5 336.9,650.6 336.8,639.2 M345.1,715.8 350.3,695.7 M1467.4,750.7 1466.9,739.2 1469.5,727.9 M1024.2,960.4 1036.0,955.9 1048.2,952.7 1059.8,947.6 1072.2,945.1" fill="none" stroke="#2a6e2a" stroke-width="1.15" stroke-linejoin="round"/>
<path d="M396.1,295.9 392.5,315.7 393.3,334.5 M352.1,411.8 350.8,420.4 343.9,436.7 M315.5,568.4 314.3,554.8 313.0,544.6 M304.5,497.1 306.4,490.0 309.6,484.3 M331.2,652.7 341.3,673.2 344.6,685.0 348.1,696.7 M345.7,709.2 341.2,704.7 M374.0,587.4 397.1,587.3 M369.4,639.8 383.3,635.5 M430.3,821.3 444.3,823.7 457.6,828.7 471.5,831.5 480.4,831.5 498.6,841.9 M459.2,794.6 466.2,809.8 474.2,824.6 471.5,831.5 471.9,836.1 M433.6,762.6 445.4,769.8 458.3,774.9 470.2,781.7 M361.1,745.2 356.0,737.1 M392.7,717.9 412.6,709.4 M393.5,682.3 397.2,694.4 392.7,717.9 M518.7,790.9 516.6,808.5 510.7,819.8 504.4,830.7 498.6,841.9 492.2,846.8 M622.6,888.8 618.9,902.1 631.6,912.2 640.6,909.7 M582.6,797.1 575.5,782.8 M686.3,767.9 697.8,775.6 708.7,784.1 720.7,786.5 732.5,789.2 744.5,791.5 M585.2,829.8 594.3,815.7 604.4,802.3 M604.4,802.3 617.2,805.1 630.4,805.4 643.3,808.0 662.8,815.9 M598.6,837.9 618.9,837.7 632.4,849.5 646.8,860.1 M678.7,655.6 681.1,679.1 M628.7,540.0 635.1,532.6 M570.8,493.7 573.3,485.1 M626.0,532.2 626.6,518.0 625.0,503.8 625.9,489.6 630.6,478.0 640.2,469.4 M582.8,458.4 574.6,467.4 566.7,476.8 M486.5,356.6 477.5,349.4 463.8,346.4 M476.4,345.7 483.7,336.9 484.7,335.1 M453.1,315.8 464.7,327.7 468.0,332.8 483.7,336.9 M536.7,296.2 539.2,285.6 533.1,263.2 M536.7,296.2 534.3,310.4 530.7,324.2 537.1,329.9 536.5,343.3 M400.9,286.4 397.8,275.7 M400.9,286.4 388.9,282.1 376.5,279.1 M385.4,335.2 363.3,333.2 M377.5,345.8 354.1,347.6 M391.8,337.8 389.9,327.8 380.4,316.8 369.5,307.4 367.4,312.0 M364.6,382.2 341.1,380.6 M377.8,356.6 392.3,363.1 406.5,370.1 420.5,377.7 M420.5,377.7 416.9,392.1 414.2,397.3 M355.5,445.3 368.9,453.1 382.3,461.1 M613.1,341.1 605.9,362.3 M613.1,341.1 613.8,326.2 614.2,311.3 614.7,293.1 M810.1,661.7 814.1,682.4 M764.5,760.5 777.9,744.9 M744.5,791.5 762.7,796.9 772.6,797.4 M706.8,726.7 693.0,726.1 M718.8,708.6 706.8,726.7 M729.7,890.2 742.4,882.2 755.1,874.1 M755.1,874.1 762.8,863.5 770.9,853.2 785.3,858.2 800.1,861.8 M801.9,617.6 805.3,612.7 809.0,597.9 M808.5,628.4 820.2,622.8 830.8,615.1 842.6,609.8 M708.6,641.8 720.6,653.4 724.0,663.9 M814.1,682.4 800.8,675.4 M810.1,661.7 826.6,655.0 843.2,648.4 M778.7,629.4 772.3,613.3 760.7,595.1 M808.5,628.4 796.9,620.3 784.6,613.3 M1020.4,841.6 1018.2,822.0 M1013.2,780.7 1017.4,761.3 1015.6,748.3 1014.8,727.3 M956.6,988.8 966.4,1000.4 976.1,1012.0 M1123.4,857.2 1140.5,843.0 1149.2,834.3 M1043.1,848.3 1049.6,833.5 1060.7,814.3 1065.2,799.3 1067.9,794.7 1072.2,784.5 1073.2,767.3 1076.3,755.9 M1049.2,1019.0 1035.7,1028.0 1022.5,1035.1 M1022.5,1035.1 1012.1,1053.1 1005.0,1062.1 1009.4,1070.7 M1022.5,1035.1 1010.2,1043.3 997.3,1050.3 989.3,1072.5 985.9,1091.5 985.1,1105.1 985.0,1118.7 M995.2,1033.8 1001.2,1047.6 1005.0,1062.1 M942.1,1079.3 954.4,1081.9 966.3,1085.9 985.9,1091.5 M981.6,1127.3 996.0,1127.4 1010.3,1129.0 M1084.7,979.2 1084.2,967.4 1089.2,955.8 1092.8,943.7 1094.8,934.3 1088.7,914.9 1104.9,900.9 M1094.8,934.3 1105.4,913.4 1121.7,900.6 M1104.9,900.9 1107.9,879.9 1112.0,868.0 M1051.5,988.6 1042.4,984.3 1023.6,985.9 1000.2,982.0 M1042.6,968.1 1034.9,960.8 1026.8,948.5 1019.0,936.2 M1000.2,982.0 1017.8,990.9 1024.5,995.3 1037.2,1002.9 M1059.9,1008.0 1058.3,1029.0 1045.6,1035.2 1032.5,1040.4 M1112.9,988.7 1107.9,979.6 1114.4,959.5 M1112.9,988.7 1108.1,977.4 1103.3,966.0 1098.8,954.5 1092.8,943.7 M1092.8,943.7 1085.4,934.2 1077.7,924.8 1075.1,907.5 M1001.0,951.4 986.7,951.6 M1000.2,982.0 985.1,964.8 972.2,962.8 M1000.2,982.0 988.1,981.2 976.0,982.5 963.9,982.1 M976.1,1012.0 954.6,1013.5 936.7,1018.2 M1006.9,874.5 1001.3,861.9 980.4,850.2 M980.4,850.2 981.8,837.8 983.7,825.4 M983.7,825.4 996.8,807.7 1010.0,794.4 M999.3,903.6 988.2,911.7 M1030.0,891.9 1039.6,899.5 1049.3,907.0 1059.2,914.3 M1075.1,907.5 1059.2,914.3 1039.8,916.5 M1030.0,891.9 1041.4,887.6 1052.0,881.6 1061.7,871.8 1070.3,861.0 M1075.1,907.5 1084.9,900.9 1091.9,901.9 M1019.0,936.2 1038.3,933.1 1050.8,931.5 1062.9,928.1 M1013.0,952.3 1024.2,960.4 1034.9,960.8 M860.8,919.1 857.2,901.5 M1055.5,787.6 1053.5,797.0 1060.7,814.3 M1053.7,747.9 1066.1,735.9 1060.3,733.6 M1054.3,770.1 1072.2,784.5 M1054.3,770.1 1073.2,767.3 M1022.8,769.6 1031.7,777.3 M1010.0,794.4 1005.5,777.3 1000.2,760.5 M1012.1,803.5 1013.6,812.2 M1034.4,818.8 1026.6,798.7 M983.7,825.4 996.5,830.3 M983.7,825.4 969.9,823.5 956.3,820.9 M1016.3,714.0 1031.0,711.2 M1049.0,688.6 1061.8,685.6 1074.8,683.5 1086.8,672.4 M1016.3,714.0 994.3,714.5 976.8,712.8 M1016.3,714.0 1023.7,714.8 M1016.3,714.0 1024.6,733.0 M1016.3,714.0 1001.9,700.2 M1030.7,665.2 1038.3,660.3 1050.4,663.3 1062.8,665.0 M1093.2,662.9 1083.9,683.4 1086.6,696.7 1088.6,710.1 1089.8,722.8 1096.3,736.1 M1062.8,665.0 1062.0,678.5 1061.7,692.1 1068.5,715.0 1060.3,733.6 M1093.2,662.9 1076.5,646.1 M1099.8,679.1 1100.3,692.2 1100.3,708.5 1101.6,721.1 1101.9,732.4 M1099.8,745.8 1105.2,761.7 M1133.3,751.2 1135.6,764.9 M1135.6,764.9 1150.3,777.5 1156.6,788.2 1157.6,806.6 M1130.7,730.6 1128.7,716.6 1123.0,703.2 1118.5,689.4 1099.8,679.1 M1130.7,730.6 1144.6,731.5 1158.5,732.9 1165.0,732.2 1175.6,736.8 1189.0,738.3 1202.3,740.2 1215.5,742.7 1226.4,741.9 1236.9,736.8 M1093.2,662.9 1104.4,667.6 1114.9,673.9 1132.3,676.3 1146.5,677.1 1160.4,679.9 M1155.4,666.7 1152.0,648.2 1150.7,638.6 1148.0,625.5 M1146.7,702.4 1147.9,713.0 M1160.4,679.9 1166.4,691.1 1172.5,702.2 M1172.5,702.2 1167.8,724.9 1165.0,732.2 M1085.4,638.7 1101.1,640.0 1122.4,637.6 1136.6,637.9 1150.7,638.6 1164.6,638.2 1178.6,637.6 M1178.6,637.6 1185.4,650.1 1196.6,669.8 M1215.0,675.3 1210.3,690.5 1210.5,707.1 1214.8,712.5 1215.9,727.6 1215.5,742.7 M1233.1,761.3 1235.4,763.2 1243.6,769.0 M1233.1,761.3 1225.0,761.8 1211.7,768.7 1206.7,777.1 M1236.9,736.8 1246.2,730.1 M1193.4,785.1 1199.7,767.1 1198.6,762.8 1207.1,756.6 1215.5,742.7 M1199.7,767.1 1206.7,777.1 M1177.7,799.9 1179.6,782.6 M1140.3,828.5 1140.5,843.0 M1140.3,828.5 1126.5,827.9 M1162.5,818.7 1162.6,835.1 1161.5,851.5 1150.0,859.9 1153.3,874.8 M1153.3,874.8 1137.0,874.6 1124.8,870.1 1112.0,868.0 M1153.3,874.8 1155.3,887.1 1155.1,899.6 M1100.4,797.3 1109.2,815.7 1106.7,827.7 1101.2,845.8 1105.6,857.4 1112.0,868.0 M1106.9,772.9 1097.3,768.3 1082.9,768.0 1068.6,768.4 1054.3,770.1 M1157.6,806.6 1169.4,790.8 M1171.8,837.1 1180.0,858.2 M1171.8,837.1 1183.6,823.2 M1206.4,809.7 1205.6,815.6 1210.0,822.7 M1155.0,760.3 1135.6,764.9 M1177.2,981.7 1174.9,970.6 1168.8,956.8 1162.4,943.0 1152.3,935.4 1142.4,927.5 1121.6,916.7 1121.7,900.6 M1181.7,988.1 1199.2,999.0 1203.5,999.2 1218.7,1002.0 M1140.1,982.7 1132.0,975.3 1135.8,961.1 1135.3,949.0 1130.6,935.6 1121.6,916.7 M1140.1,982.7 1148.8,973.7 1155.9,963.4 1162.4,943.0 M1162.4,943.0 1159.7,931.1 1155.2,919.7 1155.1,899.6 M1162.4,943.0 1170.8,929.7 1191.0,932.6 M1170.8,899.4 1177.6,890.2 M1224.9,969.2 1224.4,957.0 1223.1,944.9 M1174.9,970.6 1164.4,973.3 M1203.7,972.2 1193.1,963.0 M1218.7,1002.0 1233.3,1006.7 M1239.5,970.3 1242.5,956.8 M1121.7,900.6 1113.6,888.5 M1177.2,981.7 1175.6,990.6 M991.1,596.5 1011.2,598.7 M1168.7,556.3 1158.7,548.3 1150.2,538.6 M1117.0,556.3 1125.8,540.2 1123.7,528.2 1122.2,516.1 M1122.0,497.7 1125.2,482.1 1123.9,474.2 M1144.8,483.6 1166.0,481.7 1176.8,490.2 M1138.4,358.3 1139.5,361.6 1131.3,363.3 M1112.9,422.0 1113.2,407.9 1111.5,393.8 M1095.0,414.5 1098.7,400.8 M1098.7,400.8 1086.1,399.5 1073.6,397.9 1056.8,384.6 1035.0,382.9 M1095.4,453.6 1078.3,445.6 M1078.3,445.6 1062.8,438.1 1054.8,429.7 M1105.3,479.7 1091.1,486.2 1076.9,489.0 1064.9,498.4 M1105.3,479.7 1116.9,482.6 1125.2,482.1 M1105.3,479.7 1092.3,474.2 M1142.5,464.2 1154.2,473.0 1166.0,481.7 M1122.7,429.0 1122.2,417.3 1130.4,412.6 M1116.8,456.4 1102.1,459.1 1087.7,463.2 1072.9,465.5 1058.5,469.8 M1055.6,585.0 1040.1,578.1 M1055.6,585.0 1051.0,579.3 M1055.6,585.0 1056.2,596.2 1057.6,608.6 M1035.1,601.2 1033.5,619.6 M1035.1,601.2 1029.0,608.1 M991.1,596.5 988.4,607.8 M1043.5,540.1 1058.7,538.6 1073.9,536.6 1088.1,537.5 1102.1,539.7 M1102.1,539.7 1110.1,541.8 1125.8,540.2 1138.0,538.4 1150.2,538.6 M1150.2,538.6 1160.6,539.5 1177.5,538.4 1194.3,536.2 M1117.0,556.3 1111.0,555.8 1097.9,557.5 1086.1,556.3 1070.4,558.6 M1117.0,556.3 1135.5,552.8 1152.0,555.1 1168.7,556.3 M1168.7,556.3 1181.5,546.8 1194.3,536.2 M1198.5,571.4 1193.2,552.5 1194.3,536.2 M1198.5,571.4 1183.6,577.8 1185.7,597.9 1180.1,603.6 1177.7,611.0 M1117.4,572.2 1131.2,582.4 1147.9,584.5 1150.4,591.8 1161.9,590.2 1174.6,593.5 1185.7,597.9 M1172.9,567.7 1169.7,581.8 1174.6,593.5 M1117.4,572.2 1106.9,580.7 M1117.4,572.2 1102.9,564.0 M1126.9,515.6 1142.4,517.9 1145.5,529.7 1150.2,538.6 M1126.9,515.6 1122.2,516.1 M1102.1,539.7 1100.0,531.2 1099.1,518.9 M1074.8,516.0 1073.9,536.6 M1057.7,585.0 1073.9,593.9 M1116.0,591.7 1124.9,592.7 1141.0,593.1 1150.4,591.8 M1194.3,536.2 1184.3,527.5 1174.3,518.8 1164.7,509.7 M1257.8,459.1 1265.6,437.1 1270.7,424.4 1277.7,412.6 M1241.7,450.6 1228.8,447.2 1215.4,446.1 1198.0,447.5 1184.5,449.0 1170.9,449.4 1168.3,454.2 M1223.3,496.8 1221.7,479.1 1218.0,461.8 1215.4,446.1 M1226.0,513.6 1239.5,498.5 1248.7,486.6 M1226.0,513.6 1207.2,518.8 1198.6,527.6 1194.3,536.2 M1226.0,513.6 1216.2,506.0 1209.8,498.2 M1248.0,468.9 1232.6,467.4 1218.0,461.8 1202.4,457.4 M1245.7,477.8 1226.0,478.5 M1176.8,490.2 1185.9,497.7 1180.7,517.0 M1226.0,513.6 1222.1,530.3 M1264.8,511.7 1251.4,501.6 1239.5,498.5 M1252.6,705.5 1250.5,718.1 1246.2,730.1 M1264.8,617.6 1246.3,629.2 1227.4,632.0 1211.4,634.0 1196.9,639.7 1178.6,637.6 M1226.8,599.8 1235.1,618.5 M1243.5,606.2 1246.3,629.2 1244.6,644.8 1242.7,660.4 1246.0,677.4 1251.8,684.1 M1205.3,591.7 1198.3,592.8 1185.3,598.9 M1236.1,541.8 1223.2,543.6 1208.9,539.6 1194.3,536.2 M1205.3,591.7 1215.6,581.8 1238.6,575.7 M1218.6,665.6 1216.0,649.6 1211.4,634.0 M1252.6,705.5 1263.0,701.7 M1259.6,654.4 1270.7,668.0 1286.4,665.1 1288.7,668.0 M1272.0,580.7 1284.8,592.7 M1281.4,616.2 1281.6,631.5 1289.5,639.1 M1244.4,706.1 1239.9,697.4 1232.8,687.4 1225.3,677.7 M1314.6,647.7 1316.8,658.7 1318.6,668.6 M1344.8,574.9 1337.2,584.0 1328.5,588.3 1319.1,588.4 1313.5,590.3 1300.7,603.5 M1289.9,693.7 1290.0,680.8 1288.7,668.0 1289.6,652.1 1289.5,639.1 M1289.5,639.1 1296.2,628.6 1301.4,617.3 1300.7,603.5 M1289.9,693.7 1306.1,682.0 1306.3,676.9 M1288.7,668.0 1299.7,666.2 1316.8,658.7 1332.9,653.4 1340.4,649.5 1347.9,659.8 M1322.5,625.0 1332.9,630.7 1342.7,638.5 M1356.7,619.0 1354.3,607.0 1349.6,590.9 1344.8,574.9 M1320.6,599.0 1333.0,595.1 M1300.7,603.5 1284.8,592.7 M1331.2,644.9 1314.6,647.7 M1307.2,500.8 1302.7,488.1 1299.4,475.1 M1323.6,508.9 1323.2,494.9 1324.6,481.1 1325.1,461.9 M1366.6,480.9 1362.2,469.2 1356.2,458.4 1340.9,445.2 M1353.4,513.8 1347.2,493.0 1343.9,483.3 1343.0,475.4 M1366.6,480.9 1357.2,481.0 1343.0,475.4 M1365.8,487.1 1361.8,502.9 1353.4,513.8 M1374.4,500.9 1361.8,502.9 M1312.5,516.2 1323.6,508.9 M1313.0,556.5 1313.0,550.8 1306.1,541.2 M1328.0,532.7 1329.2,544.6 1320.1,555.7 M1359.4,530.5 1370.4,541.9 1384.7,549.2 M1394.3,523.1 1394.0,506.1 1384.9,497.5 M1323.6,508.9 1339.2,507.9 1353.4,513.8 M1323.6,508.9 1333.4,501.1 M1394.4,575.9 1390.8,565.1 1384.7,549.2 M1411.0,630.4 1413.2,636.0 1413.4,652.0 M1434.9,627.0 1449.9,626.9 M1385.3,594.3 1369.8,593.3 1373.8,583.8 M1421.5,603.5 1436.4,590.9 1447.1,583.3 M1411.0,630.4 1423.7,641.4 1435.8,645.0 M1370.2,644.1 1388.4,649.8 1401.0,649.9 1413.4,652.0 1430.1,661.0 M1416.2,577.3 1403.9,578.3 1394.4,575.9 1373.8,583.8 1359.9,580.9 1344.8,574.9 M1446.3,571.4 1452.8,564.1 1464.0,557.6 M1446.3,571.4 1455.7,578.6 1466.7,572.8 M1464.0,557.6 1466.7,572.8 1467.0,584.3 1468.2,595.1 M1464.0,557.6 1458.9,544.5 1455.9,530.7 M1384.7,549.2 1372.0,560.8 1362.6,563.4 1344.8,574.9 M1384.7,549.2 1369.4,552.6 1360.0,558.9 1346.2,554.7 M1384.7,571.4 1396.1,567.9 1412.9,560.1 1423.9,553.9 M1407.6,553.3 1412.9,560.1 1416.2,577.3 M1376.0,619.3 1385.6,612.2 1386.1,604.5 1385.3,594.3 M1385.6,612.2 1395.0,610.5 1407.3,607.8 M1376.0,619.3 1371.5,628.2 1368.7,634.6 1370.2,644.1 M1370.2,644.1 1361.0,630.5 1356.7,619.0 M1445.0,599.8 1459.3,589.9 1467.0,584.3 1485.2,578.3 M1400.7,585.7 1408.5,587.0 1416.2,577.3 M1434.3,547.6 1441.2,539.8 1451.1,546.8 1455.7,552.8 M1441.1,561.9 1443.4,559.0 1447.5,556.2 1455.7,552.8 1464.0,557.6 M1384.7,571.4 1375.9,572.7 1362.6,563.4 M1403.1,551.5 1399.7,560.1 1396.1,567.9 M1338.7,699.1 1325.7,705.7 1311.8,710.3 1303.9,719.5 1296.7,715.5 1284.6,725.2 1263.7,728.2 M1325.0,726.0 1311.8,710.3 1303.4,699.7 M1303.4,699.7 1287.2,699.8 M1303.4,699.7 1322.0,697.4 1338.7,699.1 M1376.5,716.7 1390.9,713.4 1403.1,709.6 1415.4,705.9 M1375.1,682.2 1394.2,686.7 1410.1,694.0 1415.4,705.9 1433.0,695.0 M1433.0,695.0 1435.2,712.7 1436.6,728.5 M1376.5,716.7 1379.6,739.5 1379.0,759.0 M1375.1,682.2 1379.7,669.7 1375.2,657.9 1366.3,646.5 M1339.3,678.6 1348.3,693.5 1356.2,699.2 1369.6,699.7 M1348.3,693.5 1338.7,699.1 M1325.0,726.0 1315.2,733.9 1296.7,733.6 M1263.7,728.2 1265.0,739.4 1256.2,749.0 1252.4,753.1 1244.0,767.9 M1263.7,728.2 1271.3,742.7 1271.9,754.6 M1364.2,677.6 1376.1,674.9 M1259.3,775.0 1259.7,770.3 1252.4,753.1 M1261.7,781.8 1274.1,779.3 1281.3,779.2 1288.7,780.1 1300.7,778.4 1312.7,777.1 M1261.7,781.8 1271.9,795.8 1272.0,805.7 M1227.0,800.9 1245.9,797.6 1256.1,796.6 1271.9,795.8 1280.2,796.3 1293.9,794.0 1307.7,791.6 1313.8,794.0 1328.4,796.0 1342.4,790.2 1364.8,792.5 M1261.7,781.8 1270.4,763.7 1271.9,754.6 1286.3,750.1 1300.5,745.1 M1318.3,756.9 1299.8,759.8 1291.0,761.0 1280.3,765.8 1270.4,763.7 M1318.3,756.9 1328.1,748.1 1337.6,741.9 M1318.3,756.9 1313.0,743.7 M1330.6,767.0 1330.1,777.6 1328.4,796.0 1328.8,807.9 M1330.6,767.0 1346.8,770.8 1354.4,757.0 1354.9,753.1 M1331.5,754.5 1330.6,767.0 M1364.8,792.5 1373.9,775.5 1379.0,759.0 M1376.8,787.1 1389.5,771.5 1401.0,764.8 1411.5,756.8 M1312.7,777.1 1307.7,791.6 1296.9,808.4 M1312.7,777.1 1319.9,780.5 1330.1,777.6 M1376.8,787.1 1392.8,790.4 M1453.1,660.2 1447.8,679.1 1439.1,686.5 1433.0,695.0 M1453.1,660.2 1445.2,650.9 1437.2,641.8 1435.8,645.0 M1430.1,661.0 1437.2,641.8 1444.7,640.2 M1449.9,626.9 1460.0,614.7 1468.8,601.5 1468.2,595.1 M1523.5,600.6 1542.7,613.9 M1470.4,697.1 1455.4,707.0 1445.3,702.3 1433.0,695.0 M1455.4,707.0 1450.8,721.4 M1324.9,964.6 1343.6,950.5 1356.5,950.2 1370.6,948.5 1384.6,945.7 M1466.5,956.3 1480.9,950.7 1495.8,946.9 M1229.5,904.0 1219.8,883.5 1217.7,874.1 1212.1,862.1 M1258.8,937.1 1242.9,939.4 1223.6,942.6 1208.8,937.8 1194.1,932.7 M1194.1,932.7 1200.6,917.7 1208.3,903.4 M1200.9,865.5 1209.2,852.3 1213.9,836.1 1219.3,818.0 1227.0,800.9 M1200.9,865.5 1212.1,862.1 1226.8,860.0 1240.3,861.1 1252.5,857.8 1267.4,859.8 1278.8,857.1 1291.7,860.0 1305.2,865.4 M1298.8,957.1 1292.7,945.6 1284.3,935.6 1277.9,924.3 1273.5,908.7 1273.9,898.7 1275.9,884.7 1276.7,870.5 1278.8,857.1 1275.9,843.7 1268.7,830.3 1269.3,818.3 1272.0,805.7 M1227.0,800.9 1241.9,803.7 1257.0,804.5 1272.0,805.7 1282.8,810.6 1296.9,808.4 1317.9,813.7 1328.8,807.9 M1346.0,807.7 1356.8,793.0 1364.8,792.5 M1232.1,831.1 1244.3,828.1 1258.7,830.5 1268.7,830.3 M1237.2,850.3 1240.3,861.1 M1213.9,836.1 1232.1,831.1 M1256.2,972.0 1267.4,971.1 M1348.8,832.1 1355.1,844.1 1348.9,848.0 1342.9,863.1 M1355.1,844.1 1370.9,861.7 1376.3,872.6 1372.4,878.9 M1317.9,813.7 1299.1,810.2 1297.1,821.1 1289.7,833.8 M1323.5,828.8 1311.7,842.3 M1346.0,891.9 1339.4,890.1 1324.2,892.6 1311.7,892.8 1299.3,890.9 1286.3,893.8 1273.9,898.7 M1305.2,865.4 1304.1,884.6 1299.3,890.9 1301.0,905.8 1304.2,920.5 1300.9,928.7 1300.7,943.0 1298.8,957.1 M1377.9,930.2 1384.6,945.7 1378.1,956.9 1373.8,969.0 M1377.9,930.2 1362.1,929.0 1355.9,925.7 1347.0,930.3 1329.4,927.6 1317.4,927.7 1304.2,920.5 M1377.9,930.2 1380.7,916.7 1382.8,903.1 1384.9,884.4 M1346.0,891.9 1344.5,886.3 1354.0,871.3 M1298.8,957.1 1304.5,964.9 1310.0,965.6 1311.3,970.5 M1514.2,1095.8 1527.6,1094.8 1540.6,1091.1 1553.9,1089.3 1567.2,1088.0 M1560.1,1112.7 1563.6,1125.7 1558.4,1132.7 1544.6,1142.5 1536.3,1145.2 1522.8,1151.2 M1474.6,1001.9 1464.5,990.2 1455.0,978.0 1438.0,962.7 1426.4,958.7 1415.1,954.1 M1510.2,1033.1 1514.7,1043.4 1521.3,1047.2 1529.0,1058.5 1534.6,1070.9 1545.8,1080.6 1557.1,1090.3 1567.7,1100.6 M1503.6,1069.3 1507.1,1058.9 1504.0,1047.8 1504.8,1032.1 M1484.3,1056.9 1507.1,1058.9 1522.6,1055.6 1538.0,1051.6 1553.4,1042.3 M1509.0,1078.6 1522.4,1072.8 1534.6,1070.9 1547.2,1070.4 1566.6,1066.8 M1487.1,989.6 1480.4,995.3 1474.6,1001.9 M1482.6,1013.5 1483.6,1004.0 1487.1,989.6 M1499.0,1029.5 1491.6,1023.8 1482.6,1013.5 M1514.2,1009.1 1514.6,1018.1 1510.2,1033.1 M1514.2,1095.8 1525.1,1083.6 M1373.8,969.0 1384.7,975.2 1395.1,982.3 M1415.1,954.1 1422.4,938.7 1418.5,925.6 1413.6,912.9 M1415.1,954.1 1403.9,938.8 1408.0,925.5 1413.6,912.9 M1343.6,950.5 1343.3,963.2 M1356.5,950.2 1347.1,963.5 M1331.1,956.1 1324.9,964.6 M1495.8,946.9 1500.3,936.0 M1425.8,824.7 1441.7,817.6 1444.4,802.4 M1425.8,824.7 1425.1,837.5 1433.8,853.0 1423.7,865.8 M1372.4,820.4 1378.0,812.5 M1372.4,820.4 1383.3,822.4 M1372.4,820.4 1366.8,805.4 1364.8,792.5 M1384.9,884.4 1397.5,889.1 1409.3,895.6 1423.4,897.8 M1413.6,912.9 1412.9,926.3 1422.4,938.7 M1443.8,936.2 1434.6,938.3 1422.4,938.7 1403.9,938.8 1391.1,933.8 1377.9,930.2 M1411.4,814.2 1419.5,817.7 1425.8,824.7 M1418.1,806.0 1431.2,810.1 1444.4,802.4 M1387.8,853.1 1403.2,853.5 M1375.2,842.9 1387.8,853.1 M1375.8,801.4 1389.3,805.0 M1494.3,813.2 1514.9,812.8 1526.8,811.1 1538.8,809.8 1550.9,809.9 M1533.8,851.4 1528.2,837.4 1530.2,817.6 1530.1,799.9 1524.8,791.7 1521.2,782.6 1525.2,773.6 M1494.3,813.2 1514.9,812.8 1530.1,799.9 M1494.3,813.2 1484.6,821.9 1476.5,832.1 M1494.3,813.2 1490.2,802.3 1485.0,785.7 1489.1,780.3 M1449.9,788.8 1460.0,809.3 1463.8,823.2 1469.7,836.4 M1449.9,788.8 1446.6,775.5 1441.7,762.6 M1506.2,800.9 1495.3,786.6 1492.8,768.4 M1528.2,784.8 1521.2,782.6 M1530.1,799.9 1528.2,784.8 1525.2,773.6 M1596.4,726.8 1605.2,726.5 1620.1,722.3 1634.4,716.2 M1550.1,765.2 1561.6,779.5 1582.6,789.3 M1550.1,765.2 1565.3,765.1 1576.1,762.1 1593.7,767.9 M1550.1,765.2 1534.2,761.1 M1573.3,748.7 1573.0,736.2 M1573.3,748.7 1573.0,754.5 1577.4,772.3 M1584.3,748.4 1589.3,737.0 M1584.3,748.4 1593.7,767.9 M1492.8,768.4 1511.4,758.4 1519.4,746.3 M1499.5,752.0 1511.4,758.4 M1441.7,762.6 1424.2,775.3 1405.9,782.2 M1424.2,775.3 1418.6,779.5 1417.4,792.7 1418.1,806.0 M1463.5,736.6 1469.5,727.9 M1463.5,736.6 1443.8,736.3 M1441.7,762.6 1455.8,747.9 M1616.8,705.9 1609.0,717.6 1596.4,726.8 M1574.9,727.7 1574.0,709.4 M1616.8,705.9 1634.3,712.6 1634.4,716.2 M1590.1,711.5 1596.4,726.8 M1543.4,731.8 1539.1,721.7 1540.2,705.8 M1526.8,732.6 1519.4,746.3 M1560.2,701.4 1540.2,705.8 1525.5,712.9 1511.6,711.6 1498.1,713.5 1484.4,713.4 M1527.5,682.3 1547.4,680.6 1562.3,680.8 1577.1,679.6 M1573.8,668.8 1587.0,651.8 M1604.8,680.7 1592.6,665.7 1587.0,651.8 1567.9,641.9 M1567.9,641.9 1552.2,638.7 M1567.9,641.9 1555.8,629.1 1542.7,613.9 M1573.8,668.8 1560.6,674.8 1547.4,680.6 M1525.5,712.9 1537.3,706.8 1549.4,701.2 1558.2,690.9 1564.8,679.0 1573.8,668.8 M1610.7,686.8 1615.2,671.2 1619.3,655.4 1618.8,642.3 1618.2,629.2 M1528.3,643.9 1537.0,634.3 1552.2,638.7 M1541.8,656.9 1552.2,646.9 1552.2,638.7 M1493.3,694.9 1470.4,697.1 M1506.1,691.2 1505.9,678.8 1504.9,666.4 M1476.1,707.9 1484.4,713.4 1491.9,721.9 M1594.7,695.7 1603.5,692.8 M1614.2,600.4 1623.4,614.0 1631.6,628.1 M1568.1,466.4 1566.5,449.6 1567.2,432.7 M1541.1,550.8 1550.7,543.5 1559.3,535.0 M1541.1,550.8 1558.3,545.6 1575.5,540.6 1588.5,539.3 1608.7,533.8 M1629.7,442.9 1622.5,424.1 1622.4,408.6 1622.8,393.0 M1472.6,518.4 1495.0,515.6 1516.2,512.5 1533.5,498.0 1551.6,503.4 1558.2,503.9 1581.4,498.6 M1581.4,498.6 1592.8,502.4 1604.7,504.3 1616.4,507.2 1625.1,513.0 M1528.0,586.1 1523.5,600.6 M1539.8,555.5 1546.8,558.3 1557.8,564.4 1569.5,568.8 M1514.7,577.1 1517.7,571.7 1507.9,567.3 M1512.5,589.3 1514.7,577.1 M1484.5,566.0 1496.7,548.0 M1485.2,578.3 1489.0,571.6 1507.9,567.3 1510.4,554.5 1513.8,548.2 M1485.2,578.3 1497.4,593.9 1491.2,607.0 M1498.4,581.1 1502.1,581.4 1514.7,577.1 M1586.4,573.8 1594.2,561.0 M1586.4,573.8 1581.5,563.7 M1593.1,521.6 1603.0,515.6 M1567.6,547.4 1575.5,540.6 M1579.7,550.5 1588.5,539.3 M1604.4,549.2 1595.1,543.4 1588.5,539.3 M1565.9,549.2 1567.6,547.4 1574.0,546.9 M1626.2,558.4 1627.4,551.5 1625.3,543.5 M1610.3,544.5 1613.9,533.3 1621.9,523.0 M1676.9,523.1 1685.8,516.5 M1636.0,501.1 1635.8,490.6 1636.5,479.1 1632.5,466.7 M1662.3,461.6 1661.0,452.3 1657.8,434.7 1660.0,422.8 M1660.0,500.6 1658.9,492.9 1645.3,480.9 1646.9,470.6 M1646.9,470.6 1646.9,461.5 1644.5,455.2 M1644.5,455.2 1645.1,441.7 1644.1,428.2 1637.7,415.9 1630.6,399.3 M1632.5,466.7 1636.5,464.2 1644.5,455.2 M1683.6,433.0 1674.8,414.8 1667.8,396.2 1660.6,394.0 M1687.6,440.2 1704.5,432.7 M1687.6,440.2 1667.4,447.7 1661.0,452.3 M1683.6,433.0 1672.8,427.7 1661.9,422.7 1660.0,422.8 1648.1,403.1 1630.6,399.3 M1704.5,432.7 1696.8,426.2 1690.9,415.2 1686.7,403.5 M1683.6,433.0 1682.4,421.4 1674.8,414.8 M1683.6,433.0 1696.8,426.2 M1716.4,398.0 1719.9,397.0 1722.1,394.4 1735.6,385.4 1734.7,373.2 1748.0,365.2 M1718.3,373.5 1713.9,366.5 M1711.4,408.7 1691.1,401.9 1686.7,403.5 M1717.0,382.8 1734.7,373.2 M1644.1,428.2 1660.0,422.8 M1644.1,428.2 1636.4,429.9 1629.7,442.9 M1568.1,466.4 1559.8,457.1 1563.0,444.7 1567.2,432.7 M1591.1,459.6 1584.4,457.0 1575.9,444.8 1567.2,432.7 M1581.4,498.6 1587.7,480.0 1591.1,459.6 M1581.4,498.6 1591.4,490.6 1600.6,481.5 1612.8,470.3 1626.2,460.7 M1563.6,489.8 1558.2,503.9 M1563.6,489.8 1548.1,477.2 M1568.1,466.4 1558.2,472.9 1548.1,477.2 M1530.0,470.1 1541.9,465.0 1559.8,457.1 M1496.1,478.4 1502.4,477.5 1522.1,470.9 1530.0,470.1 M1499.5,492.7 1507.8,502.7 1516.2,512.5 M1499.2,485.9 1511.0,482.0 1522.8,478.1 1539.1,477.6 1548.1,477.2 M1516.2,478.7 1521.5,487.2 1531.4,491.5 M1632.5,466.7 1621.8,465.2 1611.8,474.1 1600.6,481.5 M1632.1,493.5 1624.0,502.9 1625.1,513.0 M1635.4,508.7 1636.0,501.1 1640.7,499.8 M1258.9,914.6 1251.7,901.0 1248.0,886.1 M1258.9,914.6 1249.6,926.1 1242.9,939.4 M1258.9,914.6 1272.5,899.8 M1084.2,967.4 1096.1,973.4 1107.9,979.6 M1084.2,967.4 1091.6,977.2 1097.5,987.8 1102.8,998.8 M1521.5,487.2 1502.4,477.5 M1521.5,487.2 1532.5,484.6 1542.3,478.8 1553.2,475.8 M1466.7,572.8 1455.4,576.5 1443.9,579.9 1432.4,583.1 M1466.7,572.8 1477.4,579.2 1487.2,586.8 1497.4,593.9 M1466.7,572.8 1477.9,573.2 1489.0,571.6 M1156.1,612.4 1144.8,610.7 1133.2,610.9 1121.8,610.2 1110.6,607.0 M1283.0,565.2 1292.2,554.3 1300.4,542.7 1310.3,532.4 M1283.0,565.2 1303.2,570.2 M999.2,940.5 998.0,951.7 996.9,962.9 993.2,973.6 M999.2,940.5 1008.4,927.3 1020.8,917.0 M999.2,940.5 999.3,928.2 1000.2,915.9 999.3,903.6 M1364.2,886.7 1374.4,892.1 1384.3,898.0 1394.1,904.1 1405.1,908.0 M1364.2,886.7 1372.2,878.3 1383.4,874.1 1391.9,866.4 M1263.0,549.9 1250.3,553.1 1237.4,555.4 M1345.9,566.5 1356.5,572.1 1368.0,575.1 1379.6,577.7 M1345.9,566.5 1357.2,559.0 1370.0,554.1 1381.3,546.5 M1084.9,900.9 1080.3,888.8 1076.7,876.2 M1248.0,886.1 1232.3,874.0 M1248.0,886.1 1263.2,880.0 1276.7,870.5 M1248.0,886.1 1255.6,865.9 M1576.2,619.2 1583.9,628.3 1592.7,636.3 M1576.2,619.2 1571.8,606.5 1570.9,593.0 M1448.5,733.4 1446.7,745.1 1444.3,756.7 1442.8,768.4 M1448.5,733.4 1458.5,741.4 1467.4,750.7 M1247.8,536.1 1239.8,523.9 1231.5,511.9 M1065.6,797.7 1065.3,781.0 1068.9,764.8 M1034.1,840.8 1034.3,829.8 1034.4,818.8 M1553.2,475.8 1567.6,461.6 M372.7,608.9 370.4,593.3 368.6,577.5 M372.7,608.9 357.7,608.7 343.2,612.9 M1315.9,943.8 1313.8,957.2 1311.3,970.5 M1191.0,932.6 1195.5,944.7 1197.4,957.7 1203.6,969.2 M1103.0,451.3 1118.4,450.6 1133.7,448.8 M1432.4,583.1 1437.3,604.1 M1495.2,547.7 1509.3,548.4 1523.5,549.1 M1237.4,555.4 1246.5,563.5 1256.2,570.9 M1237.4,555.4 1236.9,575.1 M1396.1,567.9 1379.6,577.7 M1431.2,810.1 1425.3,800.6 1424.7,788.9 1418.6,779.5 M1384.1,730.1 1396.6,733.9 1409.1,737.4 M1384.1,730.1 1385.4,718.7 1383.1,707.5 1381.6,696.3 M1392.8,790.4 1393.1,803.2 1393.7,816.0 M1636.5,479.1 1640.7,499.8 M1383.5,523.8 1374.5,512.1 1362.9,503.0 M1383.5,523.8 1392.6,514.0 1404.2,507.4 M1383.5,523.8 1384.7,511.8 1385.5,499.8 1388.4,488.1 M1383.5,523.8 1375.2,531.3 1364.6,535.7 1355.9,542.9 M1206.2,672.3 1196.8,660.3 1185.4,650.1 M1305.6,598.6 1304.5,584.4 1303.2,570.2 M1007.7,816.8 1021.0,817.8 1034.4,818.8 M1221.9,984.3 1211.5,978.3 1203.6,969.2 M1163.3,815.6 1167.6,804.0 1174.0,793.5 1179.6,782.6 M1325.4,740.5 1326.3,761.6 M1674.0,524.4 1664.1,514.6 1652.1,507.6 1640.7,499.8 M1604.1,550.3 1596.5,538.2 1592.0,524.5 M1276.7,870.5 1255.6,865.9 M1658.9,492.9 1670.1,484.1 1681.0,475.1 M1425.6,628.4 1411.9,624.7 1397.8,623.4 M1637.9,591.3 1640.0,578.7 1640.9,565.9 M1476.6,553.8 1489.0,571.6 M1373.9,775.5 1386.4,768.6 1399.9,763.9 1412.5,757.1 M1057.1,873.5 1076.7,876.2 M1497.4,593.9 1485.0,598.8 1472.6,603.9 1459.5,606.8 M1497.4,593.9 1503.9,604.6 1511.8,614.5 1517.3,625.8 M1277.9,924.3 1274.5,912.2 1272.5,899.8 M1592.7,636.3 1587.6,649.8 1581.0,662.5 1572.4,674.0 M1611.7,598.8 1603.9,586.8 1598.7,573.4 M1552.1,752.7 1555.5,740.1 1559.3,727.6 M1627.4,551.5 1640.9,565.9 M1681.0,475.1 1680.1,489.6 1675.4,503.3 M1681.0,475.1 1685.6,461.7 1688.2,447.8 M1675.4,503.3 1685.6,498.4 1695.4,492.6 1706.7,490.0 1717.5,486.4 1727.7,481.4 1737.4,475.4 M1172.3,404.2 1158.3,411.0 1144.8,418.8 M1369.7,614.4 1350.7,624.5 M1434.6,836.7 1445.6,837.5 1456.6,838.4 1467.7,836.8 M1434.6,836.7 1417.3,825.0 M1235.1,618.5 1229.7,607.6 1226.0,596.0 M1235.1,618.5 1250.3,622.5 1264.0,630.0 M355.9,637.6 350.2,624.9 343.2,612.9 M355.9,637.6 336.8,639.2 M1024.5,995.3 1023.3,983.7 1025.9,972.0 1024.2,960.4 M1598.7,573.4 1588.8,579.2 1580.2,586.6 1570.9,593.0 M1373.8,829.0 1381.1,840.8 1386.4,853.6 1391.9,866.4 M1373.8,829.0 1369.7,817.4 1366.8,805.4 M1400.4,848.7 1404.4,861.7 1411.9,873.2 1415.0,886.5 M1621.8,465.2 1607.5,463.6 1593.3,462.0 M1621.8,465.2 1612.2,474.4 1599.6,479.3 1590.1,488.6 1578.8,495.2 M1486.7,614.5 1502.6,618.7 1517.3,625.8 M1408.5,587.0 1411.3,575.6 1417.4,565.6 1422.2,555.1 M1087.8,851.0 1097.9,846.1 1107.1,839.3 1117.3,834.4 1126.5,827.9 M1561.6,779.5 1549.5,779.7 1537.8,776.8 M1284.8,592.7 1275.9,584.6 1266.2,577.6 1256.2,570.9 M1528.2,837.4 1516.3,841.4 1504.7,845.9 1492.9,850.2 M1515.9,800.7 1507.0,807.7 1497.6,814.0 1489.1,821.5 M1415.0,886.5 1403.4,876.4 1391.9,866.4 M1379.6,577.7 1372.1,587.0 1362.8,594.4 M1381.3,546.5 1368.9,542.5 1355.9,542.9 M1132.0,975.3 1134.5,962.3 1135.3,949.0 M1528.1,745.1 1516.6,747.7 1504.9,746.2 M1528.1,745.1 1519.6,736.0 1515.1,724.3 1507.8,714.4 M1593.3,462.0 1587.7,472.8 1583.9,484.3 1578.8,495.2 M1489.1,821.5 1503.0,822.2 1516.7,821.1 1530.2,817.6 M1404.2,507.4 1396.3,497.8 1388.4,488.1 M1304.1,884.6 1313.8,872.1 1324.0,859.9 M1485.0,785.7 1488.9,775.3 1496.7,766.8 1498.6,755.4 1504.9,746.2 M1517.7,571.7 1521.8,586.6 1523.7,601.8 M1517.7,571.7 1527.6,580.7 1540.7,584.6 1550.8,593.3 M1517.7,571.7 1532.8,566.1 1546.8,558.3 M1034.4,818.8 1031.0,807.9 1031.4,796.6 1030.3,785.4 M1150.5,697.8 1139.4,707.0 1128.7,716.6 M1590.1,711.5 1594.6,700.4 1598.8,689.2 1603.0,678.0 M1442.8,768.4 1456.9,768.1 1470.8,770.9 M1442.8,768.4 1435.1,756.2 1431.2,742.4 M1442.8,768.4 1427.5,763.1 1412.5,757.1 M1442.8,768.4 1454.4,758.5 1467.4,750.7 M1514.7,1043.4 1497.1,1031.6 M1169.7,581.8 1179.1,588.9 1185.3,598.9 M1578.8,495.2 1570.2,514.2 M1203.6,969.2 1188.9,971.1 1174.3,969.6 M1203.6,969.2 1199.6,983.9 1199.2,999.0 M1100.3,692.2 1088.1,692.1 1075.9,692.9 M364.1,681.0 352.4,678.2 341.7,672.6 M343.2,612.9 326.4,622.0 M1523.7,601.8 1532.6,610.1 1543.4,615.5 M1523.7,601.8 1519.2,613.5 1517.3,625.8 M1214.9,452.7 1224.3,459.5 1232.6,467.4 M1204.5,559.8 1215.3,564.8 1226.9,568.3 1236.9,575.1 M1570.6,570.5 1559.8,581.1 1550.8,593.3 M1570.9,593.0 1588.9,599.7 M1067.9,989.9 1080.2,1006.2 M1602.1,616.2 1588.9,599.7 M1504.9,746.2 1507.5,730.4 1507.8,714.4 M1504.9,746.2 1492.8,740.6 1480.7,735.1 1469.5,727.9 M1088.6,710.1 1075.9,692.9 M1550.8,593.3 1546.7,604.3 1543.4,615.5 M1550.8,593.3 1548.9,581.7 1549.2,569.8 1546.8,558.3 M1397.8,623.4 1392.9,613.4 1386.1,604.5 M1381.6,696.3 1371.5,708.3 1362.7,721.3 M1513.8,1018.2 1497.1,1031.6 M1077.7,924.8 1072.2,945.1 M341.7,672.6 332.6,664.5 325.3,654.6 M341.7,672.6 339.7,661.5 336.9,650.6 336.8,639.2 M345.1,715.8 350.3,695.7 M1467.4,750.7 1466.9,739.2 1469.5,727.9 M1024.2,960.4 1036.0,955.9 1048.2,952.7 1059.8,947.6 1072.2,945.1" fill="none" stroke="#ffff00" stroke-width="4.4" stroke-linecap="round" stroke-dasharray="9 11"/>
<path d="M1627,577l9,4 M1633,590l-2,4 M1609,571l-3,12 M1581,605l-12,1 M1590,513l-1,6 M1608,550l2,7 M1599,598l12,2 M1607,529l-8,3 M1612,560l-5,6 M1596,556l10,4 M1627,587l-7,3 M1591,527l-6,8 M1619,588l5,1 M1606,552l0,6 M1635,512l0,7 M1584,578l-2,5 M1616,565l-5,5 M1574,532l5,2 M1613,567l-3,9 M1657,535l-8,4 M1619,579l5,7 M1590,510l0,5 M1679,497l-5,1 M1671,444l-6,7 M1651,485l4,2 M1708,470l-7,6 M1696,449l-8,5 M1681,489l1,5 M1691,435l4,3 M1650,501l5,7 M1657,505l-8,10 M1733,474l-11,1 M1673,444l10,1 M1689,480l5,3 M1651,496l3,8 M1666,447l8,2 M1659,454l4,3 M1574,611l-4,12 M1572,626l2,7 M1596,667l-1,11 M1572,665l8,4 M1577,652l-11,3 M1581,593l4,5 M1576,586l6,5 M1560,650l3,8 M1605,619l11,2 M1564,657l-7,0 M1590,593l-4,5 M1572,664l-8,3 M1577,623l-1,6 M1609,602l-0,7 M1616,625l-4,7 M1609,635l5,3 M1621,614l2,13 M1622,614l-7,5 M1565,617l7,2 M1621,634l3,4 M1620,608l-9,2 M1610,611l-2,4 M1457,565l6,1 M1540,617l9,3 M1484,624l3,4 M1476,562l7,6 M1485,581l7,9 M1466,561l-6,1 M1539,578l5,2 M1535,607l-10,0 M1502,620l8,6 M1490,554l7,2 M1480,621l-4,7 M1454,552l-8,1 M1470,592l-2,8 M1542,751l-10,4 M1460,749l2,10 M1448,766l1,13 M1515,791l-5,2 M1544,741l9,6 M1515,756l-5,10 M1550,770l-2,7 M1436,762l9,9 M1458,783l8,3 M1515,747l-8,8 M1453,785l4,3 M1492,793l-5,3 M1525,741l-4,2 M1522,720l10,4 M1493,728l-9,1 M1517,728l6,5 M1463,778l-10,0 M1508,735l-5,5 M1451,774l-7,1 M1519,797l-1,11 M1553,730l-6,8 M1490,765l-9,0 M1357,589l-4,5 M1396,564l-4,3 M1356,612l4,9 M1436,606l-3,6 M1371,640l3,6 M1443,562l-6,2 M1302,593l8,4 M1331,575l-0,6 M1445,585l6,11 M1295,581l-12,4 M1289,589l2,10 M1360,603l5,6 M1434,607l-9,1 M1588,485l5,11 M1639,470l-3,6 M1559,485l6,10 M1649,471l-3,7 M1361,823l-2,7 M1443,839l5,0 M1381,869l2,8 M1421,820l-7,9 M1349,853l-8,6 M1383,866l1,7 M1336,741l-5,12 M1389,721l-1,10 M1439,740l1,5 M1413,723l-0,9 M1336,750l8,3 M1408,748l-3,9 M1429,724l-1,9 M1375,728l-9,9 M1324,762l-3,6 M1323,716l7,1 M1538,1085l-5,0 M1492,1048l2,11 M1511,965l-10,3 M1522,1094l-3,9 M1520,1071l4,4 M1493,1017l-6,5 M1497,1041l-10,2 M1557,1066l4,9 M1511,1084l3,6 M1249,510l8,5 M1255,513l9,0 M1243,499l4,3 M1301,568l7,4 M1234,525l1,4 M1229,531l5,4 M1390,549l0,9 M1365,517l-1,9 M1371,533l7,0 M1373,502l2,5 M1377,538l-8,1 M1366,523l2,4 M344,702l6,5 M355,584l-5,0 M368,684l8,6 M367,590l13,2 M383,706l4,7 M351,676l4,8 M1510,672l1,10 M1602,677l2,9 M1594,708l-5,7 M1597,713l5,6 M1526,703l-6,1 M1511,836l0,5 M1504,801l-11,5 M1446,857l8,0 M1468,807l-2,11 M1430,821l4,4 M1409,827l7,8 M1435,813l10,7 M1154,949l6,0 M1186,980l-3,5 M1241,931l8,2 M1158,978l-5,10 M1216,941l-6,11 M1299,936l4,5 M1008,903l5,3 M1099,894l-3,6 M1002,886l4,6 M1126,940l-2,4 M1060,961l11,4 M1080,929l-0,12 M1110,435l-2,12 M1135,459l0,7 M1129,384l12,5 M1144,472l-12,5 M1131,392l4,11 M1172,415l-6,3 M1096,694l-2,7 M1118,722l11,0 M1120,654l8,6 M1168,737l9,8 M1198,694l-3,5 M1167,675l0,7 M1338,922l7,8 M1300,860l-5,2 M1238,925l11,4 M1359,858l-6,10 M1339,867l5,2 M1344,890l-8,8 M1297,832l-6,2 M1279,930l3,7 M1215,849l8,2 M1264,861l-6,4 M1058,765l-12,3 M1181,807l-5,6 M1187,780l8,6 M1094,776l4,2 M1134,843l9,9 M1066,819l4,6 M1102,590l3,10 M1179,604l-5,12 M1229,624l8,1 M1147,598l4,7 M1291,571l11,1 M1136,560l1,12 M1202,638l-5,7 M1231,483l1,8 M1243,514l9,4 M1209,435l2,9 M419,766l-10,6 M435,779l-4,2 M407,760l3,3" fill="none" stroke="#ffff00" stroke-width="4.2" stroke-linecap="round"/>
<path d="M424.5,218.3 427.4,226.5 M367.9,390.3 366.0,394.7 352.1,411.8 M359.0,453.2 355.2,469.4 M336.8,642.2 357.1,645.5 374.1,648.0 M348.1,696.7 359.9,692.5 371.9,689.1 384.0,680.3 393.5,682.3 M306.4,490.0 321.9,495.6 337.2,501.9 M413.9,735.0 429.8,741.0 445.4,747.8 M407.8,566.2 423.3,567.6 435.8,574.4 M508.3,714.2 511.8,719.8 515.6,722.8 M605.1,629.3 612.8,620.3 622.7,605.1 M508.3,714.2 497.5,706.3 487.4,697.7 478.2,687.9 467.4,679.9 M508.3,714.2 509.5,727.3 509.4,740.4 512.1,753.6 512.9,767.0 M502.1,807.2 516.6,808.5 528.4,813.8 540.9,817.2 553.1,821.6 M498.6,841.9 513.3,842.6 528.0,842.0 542.7,843.1 557.4,841.9 570.7,845.7 584.0,849.4 M622.6,888.8 635.9,880.7 M532.2,755.2 549.4,756.7 566.6,756.4 586.0,760.9 601.0,767.1 M643.0,783.3 657.2,777.6 671.9,773.2 686.3,767.9 M586.0,760.9 591.4,737.9 M601.0,767.1 603.1,754.7 608.2,743.1 611.1,730.8 612.6,718.2 616.9,706.4 M637.8,570.5 638.9,578.4 630.6,587.3 M617.6,631.8 609.7,638.7 595.7,641.2 M664.2,638.1 679.1,638.3 693.8,639.6 708.6,641.8 M589.7,495.1 573.3,485.1 566.7,476.8 M543.6,464.2 535.4,444.4 M524.5,441.2 518.0,425.8 M524.5,441.2 520.7,419.5 M640.2,469.4 648.6,458.4 M391.8,337.8 406.3,339.6 420.9,340.3 429.3,344.6 M457.7,299.8 453.1,315.8 M432.5,275.7 440.5,280.9 M552.1,295.5 565.4,306.7 M536.5,343.3 548.5,350.6 554.8,363.2 M817.9,578.4 809.0,597.9 M790.2,775.4 767.4,771.8 M737.4,806.5 732.8,828.7 M729.7,890.2 715.3,890.7 701.0,888.9 M772.6,797.4 787.3,800.6 802.2,802.7 815.8,799.0 829.7,796.5 M778.7,629.4 770.6,628.2 755.7,626.4 744.4,628.4 M733.2,627.9 721.1,635.2 708.6,641.8 M808.5,628.4 819.7,635.8 832.2,640.8 843.2,648.4 M956.6,988.8 947.7,979.9 937.7,972.3 M973.3,902.1 986.8,897.6 1000.0,892.2 M994.5,1080.5 996.2,1096.3 996.6,1112.2 998.8,1128.0 M976.1,1012.0 974.8,1028.7 995.2,1033.8 M974.8,1028.7 980.5,1043.0 984.6,1057.8 989.3,1072.5 M942.1,1079.3 954.2,1082.4 966.3,1085.9 M980.4,850.2 968.4,845.0 957.3,838.1 M884.6,799.3 868.2,797.1 M884.6,799.3 899.9,799.3 915.1,801.8 930.5,801.4 M976.8,790.9 995.9,794.1 M829.7,796.5 842.5,797.7 855.3,796.0 868.2,797.1 M1049.6,769.2 1030.8,761.6 1017.4,761.3 M1022.8,769.6 1017.4,761.3 M1000.2,760.5 989.2,753.4 978.0,746.5 M1031.0,711.2 1036.1,701.6 1049.0,688.6 M1049.0,688.6 1056.6,677.2 1062.8,665.0 M1009.4,672.2 1019.8,670.1 1030.7,665.2 M1085.4,638.7 1078.2,626.7 1071.3,614.4 1063.8,600.0 1057.7,585.0 M1171.8,837.1 1186.0,849.0 1191.5,858.3 1193.5,868.2 M1153.3,874.8 1176.9,875.0 1193.5,868.2 M1170.8,899.4 1163.9,891.9 M926.2,586.1 938.9,593.6 952.2,599.9 970.9,603.9 991.1,596.5 M1057.7,585.0 1079.5,579.5 1092.2,577.6 1104.9,575.6 1117.4,572.2 M1122.2,516.1 1122.0,497.7 M1057.7,585.0 1054.0,569.7 1049.0,554.8 1043.5,540.1 M1043.5,540.1 1029.5,530.4 1033.4,516.5 1035.1,502.2 M1035.1,502.2 1048.3,499.7 1064.9,498.4 M1122.0,497.7 1133.3,496.8 1144.8,483.6 M1150.2,383.9 1158.5,374.3 M1150.2,383.9 1144.3,371.1 1138.4,358.3 M1150.2,383.9 1138.5,378.6 1126.2,374.5 1114.5,369.0 M1040.1,578.1 1037.2,572.2 1026.2,566.0 1016.0,558.4 M1016.0,558.4 1018.2,577.9 1011.2,598.7 M1040.1,578.1 1018.2,577.9 999.0,589.6 991.1,596.5 M1043.5,540.1 1048.9,530.1 M1257.8,459.1 1241.7,450.6 M1212.8,437.6 1209.8,428.1 1211.3,413.6 M1335.3,402.1 1338.3,390.2 1342.0,378.6 M1246.0,553.4 1237.6,554.4 1226.9,558.1 1221.2,560.3 1210.5,565.6 1200.1,571.7 M1325.1,461.9 1317.5,444.3 M1340.9,445.2 1340.4,431.9 1339.0,418.4 1335.7,405.3 M1343.0,475.4 1342.4,460.3 1340.9,445.2 M1384.6,945.7 1405.9,949.5 1415.1,954.1 M1415.1,954.1 1428.1,954.8 1441.2,954.2 1454.2,954.0 1466.5,956.3 M1208.3,903.4 1207.2,888.4 1208.2,873.3 1200.9,865.5 M1514.2,1095.8 1528.6,1104.1 1541.6,1102.8 1554.6,1101.4 1567.7,1100.6 M1510.2,1033.1 1533.9,1036.4 1549.4,1035.5 M558.4,689.7 567.9,681.1 576.7,671.7 585.1,662.7 592.1,652.4 595.7,641.2 605.1,629.3 M1046.0,894.5 1061.0,900.0 1075.1,907.5 1091.9,901.9 1104.9,900.9 1121.7,900.6 M1052.0,881.6 1065.3,878.3 1084.6,879.3 1098.3,873.6 1112.0,868.0 M1067.9,966.3 1056.8,958.0 1052.2,939.6 1046.3,927.9 1039.8,916.5 M1026.6,798.7 1045.7,796.2 1053.5,797.0 1067.9,794.7 1088.7,795.7 1100.4,797.3 M1030.3,785.4 1035.0,783.2 1041.8,782.5 M1068.9,764.8 1076.3,755.9 1078.2,752.5 1085.6,742.4 1096.3,736.1 M1100.5,654.4 1101.1,640.0 1107.5,620.3 1110.6,607.0 1116.0,591.7 M1210.3,690.5 1226.1,702.3 1232.0,713.2 1235.8,725.0 1236.9,736.8 1236.7,750.0 1233.1,761.3 1231.5,771.9 1226.9,781.3 1223.2,801.1 M1135.2,895.7 1155.1,899.6 1170.8,899.4 1181.3,899.8 1198.9,901.7 1208.3,903.4 M1264.9,566.4 1252.1,571.9 1238.6,575.7 1225.8,574.2 1212.9,573.0 1200.1,571.7 1198.5,571.4 M1264.9,566.4 1258.2,577.7 1252.1,589.5 1243.5,606.2 1235.1,618.5 1227.4,632.0 1228.2,655.0 M1272.0,580.7 1269.0,595.8 1267.0,611.1 1264.8,617.6 1263.2,641.0 1259.6,654.4 1255.1,669.1 1251.8,684.1 1252.6,705.5 M1236.1,541.8 1237.6,554.4 1238.6,575.7 1240.1,591.1 1243.5,606.2 M1243.5,606.2 1254.0,612.2 1264.8,617.6 1281.4,616.2 1301.4,617.3 M1226.8,599.8 1205.3,591.7 1200.1,571.7 M1215.0,675.3 1228.6,667.4 1242.7,660.4 1259.6,654.4 1273.7,646.6 1289.5,639.1 M1215.0,675.3 1227.1,678.9 1239.7,680.3 1251.8,684.1 1264.6,687.0 1277.2,690.4 1289.9,693.7 M1252.6,705.5 1258.1,716.9 1263.7,728.2 M1447.1,583.3 1445.0,599.8 1448.2,613.2 1449.9,626.9 M1289.9,693.7 1302.2,689.7 1314.6,686.0 1326.7,681.6 1339.3,678.6 M1300.5,745.1 1296.7,733.6 1280.2,731.0 1263.7,728.2 M1453.1,660.2 1444.7,640.2 1449.9,626.9 M1453.1,660.2 1465.4,653.5 1476.6,645.1 1480.9,630.4 1483.0,621.3 M1491.2,607.0 1507.3,603.6 1523.5,600.6 1537.4,597.7 1551.5,595.6 M1298.8,957.1 1305.1,950.1 1315.0,957.3 1324.9,964.6 M1246.3,975.8 1249.8,968.1 1254.3,952.6 1258.8,937.1 M1258.8,937.1 1262.7,923.8 1267.4,910.9 1273.9,898.7 M1229.5,904.0 1224.7,918.6 1223.2,930.4 1223.6,942.6 1223.9,955.9 1224.9,969.2 M1423.7,865.8 1435.0,870.8 1446.9,873.6 1459.6,874.1 1472.2,876.0 1487.7,879.5 1503.4,882.0 M1593.1,521.6 1586.8,510.4 1581.4,498.6 1570.7,482.5 1568.1,466.4 M1464.0,557.6 1480.2,552.3 1496.7,548.0 1513.8,548.2 1522.9,549.9 1541.1,550.8 M1472.6,518.4 1474.0,536.1 1476.6,553.8 M1472.6,518.4 1481.8,509.7 1491.6,501.8 M1516.2,478.7 1530.0,470.1 M1516.2,478.7 1532.2,478.8 1548.1,477.2 1568.1,466.4 1584.4,457.0 1591.1,459.6 1608.7,460.1 1626.2,460.7 M1632.5,466.7 1646.9,470.6 1666.9,478.7 M1635.4,508.7 1632.1,493.5 1632.4,480.1 1632.5,466.7 M1530.0,470.1 1531.4,491.5 1551.6,503.4" fill="none" stroke="#ffff00" stroke-width="4.8" stroke-linecap="round" stroke-linejoin="round"/>
<path d="M379.0,502.8h0.1 M407.8,566.2h0.1 M306.4,490.0h0.1 M413.9,735.0h0.1 M417.2,639.8h0.1 M472.4,531.1h0.1 M569.7,557.6h0.1 M468.7,635.7h0.1 M664.2,638.1h0.1 M664.2,638.1h0.1 M703.5,548.7h0.1 M613.5,520.5h0.1 M672.9,475.1h0.1 M504.7,392.6h0.1 M503.5,375.6h0.1 M438.0,345.1h0.1 M453.7,347.4h0.1 M488.0,301.2h0.1 M367.4,312.0h0.1 M363.3,333.2h0.1 M354.1,347.6h0.1 M643.3,378.3h0.1 M693.0,397.4h0.1 M705.1,395.4h0.1 M741.7,401.5h0.1 M640.2,469.4h0.1 M775.3,442.2h0.1 M814.1,682.4h0.1 M807.3,702.7h0.1 M807.4,752.5h0.1 M718.6,855.6h0.1 M672.3,882.7h0.1 M800.6,878.1h0.1 M718.8,708.6h0.1 M800.8,675.4h0.1 M844.0,692.9h0.1 M771.3,705.2h0.1 M718.8,708.6h0.1 M760.7,595.1h0.1 M809.2,386.1h0.1 M838.2,363.4h0.1 M937.7,972.3h0.1 M783.7,942.2h0.1 M884.6,799.3h0.1 M988.2,911.7h0.1 M947.6,803.6h0.1 M880.4,857.8h0.1 M885.8,861.6h0.1 M869.3,871.8h0.1 M865.3,844.4h0.1 M869.9,914.3h0.1 M1000.2,760.5h0.1 M1020.4,841.6h0.1 M1067.5,846.7h0.1 M1087.8,851.0h0.1 M913.3,734.0h0.1 M881.1,652.3h0.1 M1008.7,646.5h0.1 M1035.1,502.2h0.1 M1025.6,453.5h0.1 M1029.0,425.8h0.1 M1034.5,382.6h0.1 M1021.0,328.1h0.1 M1001.4,493.6h0.1 M855.6,460.6h0.1 M1064.9,498.4h0.1 M1166.3,366.8h0.1 M1049.6,340.4h0.1 M929.3,620.1h0.1 M851.0,554.7h0.1 M851.0,554.7h0.1 M874.1,549.8h0.1 M993.0,433.1h0.1 M1168.3,454.2h0.1 M1170.9,449.4h0.1 M1161.1,429.7h0.1 M1180.6,389.6h0.1 M1198.5,393.6h0.1 M1277.7,412.6h0.1 M1266.7,385.2h0.1 M1205.3,591.7h0.1 M1179.1,629.7h0.1 M1225.0,607.2h0.1 M1251.8,684.1h0.1 M1265.2,680.9h0.1 M1351.4,597.0h0.1 M1303.4,463.4h0.1 M1325.1,461.9h0.1 M1407.2,497.9h0.1 M1388.8,471.0h0.1 M1373.8,583.8h0.1 M1362.7,721.3h0.1 M1393.8,661.5h0.1 M1369.1,759.2h0.1 M1239.4,928.8h0.1 M1260.0,883.9h0.1 M1267.4,859.8h0.1 M1242.9,939.4h0.1 M1258.9,914.6h0.1 M1305.2,865.4h0.1 M1320.4,873.9h0.1 M1362.1,929.0h0.1 M1324.2,892.6h0.1 M1338.3,912.3h0.1 M1487.1,989.6h0.1 M1498.6,970.9h0.1 M1533.9,1036.4h0.1 M1475.9,985.3h0.1 M1438.0,962.7h0.1 M1415.1,954.1h0.1 M1495.8,946.9h0.1 M1486.4,935.3h0.1 M1469.7,836.4h0.1 M1470.2,918.7h0.1 M1423.4,897.8h0.1 M1470.2,918.7h0.1 M1433.9,915.0h0.1 M1423.7,865.8h0.1 M1449.7,889.4h0.1 M1466.2,900.9h0.1 M1482.5,904.4h0.1 M1463.2,882.9h0.1 M1479.4,881.5h0.1 M1469.7,836.4h0.1 M1462.4,868.9h0.1 M1470.2,918.7h0.1 M1446.9,873.6h0.1 M1485.2,864.2h0.1 M1502.2,830.6h0.1 M1472.7,791.4h0.1 M1485.0,785.7h0.1 M1622.8,393.0h0.1 M1559.3,535.0h0.1 M1512.5,523.3h0.1 M1474.0,536.1h0.1 M1472.6,518.4h0.1 M1485.7,524.3h0.1 M1651.3,379.0h0.1 M1630.6,399.3h0.1 M1680.0,383.1h0.1 M1745.5,306.3h0.1 M1733.6,282.2h0.1 M1713.9,366.5h0.1 M1701.1,393.0h0.1 M1648.1,403.1h0.1 M1606.6,408.5h0.1 M1613.7,411.3h0.1" fill="none" stroke="#ffff00" stroke-width="4.6" stroke-linecap="round"/>
<path d="M396.1,295.9 392.5,315.7 393.3,334.5 M352.1,411.8 350.8,420.4 343.9,436.7 M315.5,568.4 314.3,554.8 313.0,544.6 M304.5,497.1 306.4,490.0 309.6,484.3 M331.2,652.7 341.3,673.2 344.6,685.0 348.1,696.7 M345.7,709.2 341.2,704.7 M374.0,587.4 397.1,587.3 M369.4,639.8 383.3,635.5 M430.3,821.3 444.3,823.7 457.6,828.7 471.5,831.5 480.4,831.5 498.6,841.9 M459.2,794.6 466.2,809.8 474.2,824.6 471.5,831.5 471.9,836.1 M433.6,762.6 445.4,769.8 458.3,774.9 470.2,781.7 M361.1,745.2 356.0,737.1 M392.7,717.9 412.6,709.4 M393.5,682.3 397.2,694.4 392.7,717.9 M518.7,790.9 516.6,808.5 510.7,819.8 504.4,830.7 498.6,841.9 492.2,846.8 M622.6,888.8 618.9,902.1 631.6,912.2 640.6,909.7 M582.6,797.1 575.5,782.8 M686.3,767.9 697.8,775.6 708.7,784.1 720.7,786.5 732.5,789.2 744.5,791.5 M585.2,829.8 594.3,815.7 604.4,802.3 M604.4,802.3 617.2,805.1 630.4,805.4 643.3,808.0 662.8,815.9 M598.6,837.9 618.9,837.7 632.4,849.5 646.8,860.1 M678.7,655.6 681.1,679.1 M628.7,540.0 635.1,532.6 M570.8,493.7 573.3,485.1 M626.0,532.2 626.6,518.0 625.0,503.8 625.9,489.6 630.6,478.0 640.2,469.4 M582.8,458.4 574.6,467.4 566.7,476.8 M486.5,356.6 477.5,349.4 463.8,346.4 M476.4,345.7 483.7,336.9 484.7,335.1 M453.1,315.8 464.7,327.7 468.0,332.8 483.7,336.9 M536.7,296.2 539.2,285.6 533.1,263.2 M536.7,296.2 534.3,310.4 530.7,324.2 537.1,329.9 536.5,343.3 M400.9,286.4 397.8,275.7 M400.9,286.4 388.9,282.1 376.5,279.1 M385.4,335.2 363.3,333.2 M377.5,345.8 354.1,347.6 M391.8,337.8 389.9,327.8 380.4,316.8 369.5,307.4 367.4,312.0 M364.6,382.2 341.1,380.6 M377.8,356.6 392.3,363.1 406.5,370.1 420.5,377.7 M420.5,377.7 416.9,392.1 414.2,397.3 M355.5,445.3 368.9,453.1 382.3,461.1 M613.1,341.1 605.9,362.3 M613.1,341.1 613.8,326.2 614.2,311.3 614.7,293.1 M810.1,661.7 814.1,682.4 M764.5,760.5 777.9,744.9 M744.5,791.5 762.7,796.9 772.6,797.4 M706.8,726.7 693.0,726.1 M718.8,708.6 706.8,726.7 M729.7,890.2 742.4,882.2 755.1,874.1 M755.1,874.1 762.8,863.5 770.9,853.2 785.3,858.2 800.1,861.8 M801.9,617.6 805.3,612.7 809.0,597.9 M808.5,628.4 820.2,622.8 830.8,615.1 842.6,609.8 M708.6,641.8 720.6,653.4 724.0,663.9 M814.1,682.4 800.8,675.4 M810.1,661.7 826.6,655.0 843.2,648.4 M778.7,629.4 772.3,613.3 760.7,595.1 M808.5,628.4 796.9,620.3 784.6,613.3 M1020.4,841.6 1018.2,822.0 M1013.2,780.7 1017.4,761.3 1015.6,748.3 1014.8,727.3 M956.6,988.8 966.4,1000.4 976.1,1012.0 M1123.4,857.2 1140.5,843.0 1149.2,834.3 M1043.1,848.3 1049.6,833.5 1060.7,814.3 1065.2,799.3 1067.9,794.7 1072.2,784.5 1073.2,767.3 1076.3,755.9 M1049.2,1019.0 1035.7,1028.0 1022.5,1035.1 M1022.5,1035.1 1012.1,1053.1 1005.0,1062.1 1009.4,1070.7 M1022.5,1035.1 1010.2,1043.3 997.3,1050.3 989.3,1072.5 985.9,1091.5 985.1,1105.1 985.0,1118.7 M995.2,1033.8 1001.2,1047.6 1005.0,1062.1 M942.1,1079.3 954.4,1081.9 966.3,1085.9 985.9,1091.5 M981.6,1127.3 996.0,1127.4 1010.3,1129.0 M1084.7,979.2 1084.2,967.4 1089.2,955.8 1092.8,943.7 1094.8,934.3 1088.7,914.9 1104.9,900.9 M1094.8,934.3 1105.4,913.4 1121.7,900.6 M1104.9,900.9 1107.9,879.9 1112.0,868.0 M1051.5,988.6 1042.4,984.3 1023.6,985.9 1000.2,982.0 M1042.6,968.1 1034.9,960.8 1026.8,948.5 1019.0,936.2 M1000.2,982.0 1017.8,990.9 1024.5,995.3 1037.2,1002.9 M1059.9,1008.0 1058.3,1029.0 1045.6,1035.2 1032.5,1040.4 M1112.9,988.7 1107.9,979.6 1114.4,959.5 M1112.9,988.7 1108.1,977.4 1103.3,966.0 1098.8,954.5 1092.8,943.7 M1092.8,943.7 1085.4,934.2 1077.7,924.8 1075.1,907.5 M1001.0,951.4 986.7,951.6 M1000.2,982.0 985.1,964.8 972.2,962.8 M1000.2,982.0 988.1,981.2 976.0,982.5 963.9,982.1 M976.1,1012.0 954.6,1013.5 936.7,1018.2 M1006.9,874.5 1001.3,861.9 980.4,850.2 M980.4,850.2 981.8,837.8 983.7,825.4 M983.7,825.4 996.8,807.7 1010.0,794.4 M999.3,903.6 988.2,911.7 M1030.0,891.9 1039.6,899.5 1049.3,907.0 1059.2,914.3 M1075.1,907.5 1059.2,914.3 1039.8,916.5 M1030.0,891.9 1041.4,887.6 1052.0,881.6 1061.7,871.8 1070.3,861.0 M1075.1,907.5 1084.9,900.9 1091.9,901.9 M1019.0,936.2 1038.3,933.1 1050.8,931.5 1062.9,928.1 M1013.0,952.3 1024.2,960.4 1034.9,960.8 M860.8,919.1 857.2,901.5 M1055.5,787.6 1053.5,797.0 1060.7,814.3 M1053.7,747.9 1066.1,735.9 1060.3,733.6 M1054.3,770.1 1072.2,784.5 M1054.3,770.1 1073.2,767.3 M1022.8,769.6 1031.7,777.3 M1010.0,794.4 1005.5,777.3 1000.2,760.5 M1012.1,803.5 1013.6,812.2 M1034.4,818.8 1026.6,798.7 M983.7,825.4 996.5,830.3 M983.7,825.4 969.9,823.5 956.3,820.9 M1016.3,714.0 1031.0,711.2 M1049.0,688.6 1061.8,685.6 1074.8,683.5 1086.8,672.4 M1016.3,714.0 994.3,714.5 976.8,712.8 M1016.3,714.0 1023.7,714.8 M1016.3,714.0 1024.6,733.0 M1016.3,714.0 1001.9,700.2 M1030.7,665.2 1038.3,660.3 1050.4,663.3 1062.8,665.0 M1093.2,662.9 1083.9,683.4 1086.6,696.7 1088.6,710.1 1089.8,722.8 1096.3,736.1 M1062.8,665.0 1062.0,678.5 1061.7,692.1 1068.5,715.0 1060.3,733.6 M1093.2,662.9 1076.5,646.1 M1099.8,679.1 1100.3,692.2 1100.3,708.5 1101.6,721.1 1101.9,732.4 M1099.8,745.8 1105.2,761.7 M1133.3,751.2 1135.6,764.9 M1135.6,764.9 1150.3,777.5 1156.6,788.2 1157.6,806.6 M1130.7,730.6 1128.7,716.6 1123.0,703.2 1118.5,689.4 1099.8,679.1 M1130.7,730.6 1144.6,731.5 1158.5,732.9 1165.0,732.2 1175.6,736.8 1189.0,738.3 1202.3,740.2 1215.5,742.7 1226.4,741.9 1236.9,736.8 M1093.2,662.9 1104.4,667.6 1114.9,673.9 1132.3,676.3 1146.5,677.1 1160.4,679.9 M1155.4,666.7 1152.0,648.2 1150.7,638.6 1148.0,625.5 M1146.7,702.4 1147.9,713.0 M1160.4,679.9 1166.4,691.1 1172.5,702.2 M1172.5,702.2 1167.8,724.9 1165.0,732.2 M1085.4,638.7 1101.1,640.0 1122.4,637.6 1136.6,637.9 1150.7,638.6 1164.6,638.2 1178.6,637.6 M1178.6,637.6 1185.4,650.1 1196.6,669.8 M1215.0,675.3 1210.3,690.5 1210.5,707.1 1214.8,712.5 1215.9,727.6 1215.5,742.7 M1233.1,761.3 1235.4,763.2 1243.6,769.0 M1233.1,761.3 1225.0,761.8 1211.7,768.7 1206.7,777.1 M1236.9,736.8 1246.2,730.1 M1193.4,785.1 1199.7,767.1 1198.6,762.8 1207.1,756.6 1215.5,742.7 M1199.7,767.1 1206.7,777.1 M1177.7,799.9 1179.6,782.6 M1140.3,828.5 1140.5,843.0 M1140.3,828.5 1126.5,827.9 M1162.5,818.7 1162.6,835.1 1161.5,851.5 1150.0,859.9 1153.3,874.8 M1153.3,874.8 1137.0,874.6 1124.8,870.1 1112.0,868.0 M1153.3,874.8 1155.3,887.1 1155.1,899.6 M1100.4,797.3 1109.2,815.7 1106.7,827.7 1101.2,845.8 1105.6,857.4 1112.0,868.0 M1106.9,772.9 1097.3,768.3 1082.9,768.0 1068.6,768.4 1054.3,770.1 M1157.6,806.6 1169.4,790.8 M1171.8,837.1 1180.0,858.2 M1171.8,837.1 1183.6,823.2 M1206.4,809.7 1205.6,815.6 1210.0,822.7 M1155.0,760.3 1135.6,764.9 M1177.2,981.7 1174.9,970.6 1168.8,956.8 1162.4,943.0 1152.3,935.4 1142.4,927.5 1121.6,916.7 1121.7,900.6 M1181.7,988.1 1199.2,999.0 1203.5,999.2 1218.7,1002.0 M1140.1,982.7 1132.0,975.3 1135.8,961.1 1135.3,949.0 1130.6,935.6 1121.6,916.7 M1140.1,982.7 1148.8,973.7 1155.9,963.4 1162.4,943.0 M1162.4,943.0 1159.7,931.1 1155.2,919.7 1155.1,899.6 M1162.4,943.0 1170.8,929.7 1191.0,932.6 M1170.8,899.4 1177.6,890.2 M1224.9,969.2 1224.4,957.0 1223.1,944.9 M1174.9,970.6 1164.4,973.3 M1203.7,972.2 1193.1,963.0 M1218.7,1002.0 1233.3,1006.7 M1239.5,970.3 1242.5,956.8 M1121.7,900.6 1113.6,888.5 M1177.2,981.7 1175.6,990.6 M991.1,596.5 1011.2,598.7 M1168.7,556.3 1158.7,548.3 1150.2,538.6 M1117.0,556.3 1125.8,540.2 1123.7,528.2 1122.2,516.1 M1122.0,497.7 1125.2,482.1 1123.9,474.2 M1144.8,483.6 1166.0,481.7 1176.8,490.2 M1138.4,358.3 1139.5,361.6 1131.3,363.3 M1112.9,422.0 1113.2,407.9 1111.5,393.8 M1095.0,414.5 1098.7,400.8 M1098.7,400.8 1086.1,399.5 1073.6,397.9 1056.8,384.6 1035.0,382.9 M1095.4,453.6 1078.3,445.6 M1078.3,445.6 1062.8,438.1 1054.8,429.7 M1105.3,479.7 1091.1,486.2 1076.9,489.0 1064.9,498.4 M1105.3,479.7 1116.9,482.6 1125.2,482.1 M1105.3,479.7 1092.3,474.2 M1142.5,464.2 1154.2,473.0 1166.0,481.7 M1122.7,429.0 1122.2,417.3 1130.4,412.6 M1116.8,456.4 1102.1,459.1 1087.7,463.2 1072.9,465.5 1058.5,469.8 M1055.6,585.0 1040.1,578.1 M1055.6,585.0 1051.0,579.3 M1055.6,585.0 1056.2,596.2 1057.6,608.6 M1035.1,601.2 1033.5,619.6 M1035.1,601.2 1029.0,608.1 M991.1,596.5 988.4,607.8 M1043.5,540.1 1058.7,538.6 1073.9,536.6 1088.1,537.5 1102.1,539.7 M1102.1,539.7 1110.1,541.8 1125.8,540.2 1138.0,538.4 1150.2,538.6 M1150.2,538.6 1160.6,539.5 1177.5,538.4 1194.3,536.2 M1117.0,556.3 1111.0,555.8 1097.9,557.5 1086.1,556.3 1070.4,558.6 M1117.0,556.3 1135.5,552.8 1152.0,555.1 1168.7,556.3 M1168.7,556.3 1181.5,546.8 1194.3,536.2 M1198.5,571.4 1193.2,552.5 1194.3,536.2 M1198.5,571.4 1183.6,577.8 1185.7,597.9 1180.1,603.6 1177.7,611.0 M1117.4,572.2 1131.2,582.4 1147.9,584.5 1150.4,591.8 1161.9,590.2 1174.6,593.5 1185.7,597.9 M1172.9,567.7 1169.7,581.8 1174.6,593.5 M1117.4,572.2 1106.9,580.7 M1117.4,572.2 1102.9,564.0 M1126.9,515.6 1142.4,517.9 1145.5,529.7 1150.2,538.6 M1126.9,515.6 1122.2,516.1 M1102.1,539.7 1100.0,531.2 1099.1,518.9 M1074.8,516.0 1073.9,536.6 M1057.7,585.0 1073.9,593.9 M1116.0,591.7 1124.9,592.7 1141.0,593.1 1150.4,591.8 M1194.3,536.2 1184.3,527.5 1174.3,518.8 1164.7,509.7 M1257.8,459.1 1265.6,437.1 1270.7,424.4 1277.7,412.6 M1241.7,450.6 1228.8,447.2 1215.4,446.1 1198.0,447.5 1184.5,449.0 1170.9,449.4 1168.3,454.2 M1223.3,496.8 1221.7,479.1 1218.0,461.8 1215.4,446.1 M1226.0,513.6 1239.5,498.5 1248.7,486.6 M1226.0,513.6 1207.2,518.8 1198.6,527.6 1194.3,536.2 M1226.0,513.6 1216.2,506.0 1209.8,498.2 M1248.0,468.9 1232.6,467.4 1218.0,461.8 1202.4,457.4 M1245.7,477.8 1226.0,478.5 M1176.8,490.2 1185.9,497.7 1180.7,517.0 M1226.0,513.6 1222.1,530.3 M1264.8,511.7 1251.4,501.6 1239.5,498.5 M1252.6,705.5 1250.5,718.1 1246.2,730.1 M1264.8,617.6 1246.3,629.2 1227.4,632.0 1211.4,634.0 1196.9,639.7 1178.6,637.6 M1226.8,599.8 1235.1,618.5 M1243.5,606.2 1246.3,629.2 1244.6,644.8 1242.7,660.4 1246.0,677.4 1251.8,684.1 M1205.3,591.7 1198.3,592.8 1185.3,598.9 M1236.1,541.8 1223.2,543.6 1208.9,539.6 1194.3,536.2 M1205.3,591.7 1215.6,581.8 1238.6,575.7 M1218.6,665.6 1216.0,649.6 1211.4,634.0 M1252.6,705.5 1263.0,701.7 M1259.6,654.4 1270.7,668.0 1286.4,665.1 1288.7,668.0 M1272.0,580.7 1284.8,592.7 M1281.4,616.2 1281.6,631.5 1289.5,639.1 M1244.4,706.1 1239.9,697.4 1232.8,687.4 1225.3,677.7 M1314.6,647.7 1316.8,658.7 1318.6,668.6 M1344.8,574.9 1337.2,584.0 1328.5,588.3 1319.1,588.4 1313.5,590.3 1300.7,603.5 M1289.9,693.7 1290.0,680.8 1288.7,668.0 1289.6,652.1 1289.5,639.1 M1289.5,639.1 1296.2,628.6 1301.4,617.3 1300.7,603.5 M1289.9,693.7 1306.1,682.0 1306.3,676.9 M1288.7,668.0 1299.7,666.2 1316.8,658.7 1332.9,653.4 1340.4,649.5 1347.9,659.8 M1322.5,625.0 1332.9,630.7 1342.7,638.5 M1356.7,619.0 1354.3,607.0 1349.6,590.9 1344.8,574.9 M1320.6,599.0 1333.0,595.1 M1300.7,603.5 1284.8,592.7 M1331.2,644.9 1314.6,647.7 M1307.2,500.8 1302.7,488.1 1299.4,475.1 M1323.6,508.9 1323.2,494.9 1324.6,481.1 1325.1,461.9 M1366.6,480.9 1362.2,469.2 1356.2,458.4 1340.9,445.2 M1353.4,513.8 1347.2,493.0 1343.9,483.3 1343.0,475.4 M1366.6,480.9 1357.2,481.0 1343.0,475.4 M1365.8,487.1 1361.8,502.9 1353.4,513.8 M1374.4,500.9 1361.8,502.9 M1312.5,516.2 1323.6,508.9 M1313.0,556.5 1313.0,550.8 1306.1,541.2 M1328.0,532.7 1329.2,544.6 1320.1,555.7 M1359.4,530.5 1370.4,541.9 1384.7,549.2 M1394.3,523.1 1394.0,506.1 1384.9,497.5 M1323.6,508.9 1339.2,507.9 1353.4,513.8 M1323.6,508.9 1333.4,501.1 M1394.4,575.9 1390.8,565.1 1384.7,549.2 M1411.0,630.4 1413.2,636.0 1413.4,652.0 M1434.9,627.0 1449.9,626.9 M1385.3,594.3 1369.8,593.3 1373.8,583.8 M1421.5,603.5 1436.4,590.9 1447.1,583.3 M1411.0,630.4 1423.7,641.4 1435.8,645.0 M1370.2,644.1 1388.4,649.8 1401.0,649.9 1413.4,652.0 1430.1,661.0 M1416.2,577.3 1403.9,578.3 1394.4,575.9 1373.8,583.8 1359.9,580.9 1344.8,574.9 M1446.3,571.4 1452.8,564.1 1464.0,557.6 M1446.3,571.4 1455.7,578.6 1466.7,572.8 M1464.0,557.6 1466.7,572.8 1467.0,584.3 1468.2,595.1 M1464.0,557.6 1458.9,544.5 1455.9,530.7 M1384.7,549.2 1372.0,560.8 1362.6,563.4 1344.8,574.9 M1384.7,549.2 1369.4,552.6 1360.0,558.9 1346.2,554.7 M1384.7,571.4 1396.1,567.9 1412.9,560.1 1423.9,553.9 M1407.6,553.3 1412.9,560.1 1416.2,577.3 M1376.0,619.3 1385.6,612.2 1386.1,604.5 1385.3,594.3 M1385.6,612.2 1395.0,610.5 1407.3,607.8 M1376.0,619.3 1371.5,628.2 1368.7,634.6 1370.2,644.1 M1370.2,644.1 1361.0,630.5 1356.7,619.0 M1445.0,599.8 1459.3,589.9 1467.0,584.3 1485.2,578.3 M1400.7,585.7 1408.5,587.0 1416.2,577.3 M1434.3,547.6 1441.2,539.8 1451.1,546.8 1455.7,552.8 M1441.1,561.9 1443.4,559.0 1447.5,556.2 1455.7,552.8 1464.0,557.6 M1384.7,571.4 1375.9,572.7 1362.6,563.4 M1403.1,551.5 1399.7,560.1 1396.1,567.9 M1338.7,699.1 1325.7,705.7 1311.8,710.3 1303.9,719.5 1296.7,715.5 1284.6,725.2 1263.7,728.2 M1325.0,726.0 1311.8,710.3 1303.4,699.7 M1303.4,699.7 1287.2,699.8 M1303.4,699.7 1322.0,697.4 1338.7,699.1 M1376.5,716.7 1390.9,713.4 1403.1,709.6 1415.4,705.9 M1375.1,682.2 1394.2,686.7 1410.1,694.0 1415.4,705.9 1433.0,695.0 M1433.0,695.0 1435.2,712.7 1436.6,728.5 M1376.5,716.7 1379.6,739.5 1379.0,759.0 M1375.1,682.2 1379.7,669.7 1375.2,657.9 1366.3,646.5 M1339.3,678.6 1348.3,693.5 1356.2,699.2 1369.6,699.7 M1348.3,693.5 1338.7,699.1 M1325.0,726.0 1315.2,733.9 1296.7,733.6 M1263.7,728.2 1265.0,739.4 1256.2,749.0 1252.4,753.1 1244.0,767.9 M1263.7,728.2 1271.3,742.7 1271.9,754.6 M1364.2,677.6 1376.1,674.9 M1259.3,775.0 1259.7,770.3 1252.4,753.1 M1261.7,781.8 1274.1,779.3 1281.3,779.2 1288.7,780.1 1300.7,778.4 1312.7,777.1 M1261.7,781.8 1271.9,795.8 1272.0,805.7 M1227.0,800.9 1245.9,797.6 1256.1,796.6 1271.9,795.8 1280.2,796.3 1293.9,794.0 1307.7,791.6 1313.8,794.0 1328.4,796.0 1342.4,790.2 1364.8,792.5 M1261.7,781.8 1270.4,763.7 1271.9,754.6 1286.3,750.1 1300.5,745.1 M1318.3,756.9 1299.8,759.8 1291.0,761.0 1280.3,765.8 1270.4,763.7 M1318.3,756.9 1328.1,748.1 1337.6,741.9 M1318.3,756.9 1313.0,743.7 M1330.6,767.0 1330.1,777.6 1328.4,796.0 1328.8,807.9 M1330.6,767.0 1346.8,770.8 1354.4,757.0 1354.9,753.1 M1331.5,754.5 1330.6,767.0 M1364.8,792.5 1373.9,775.5 1379.0,759.0 M1376.8,787.1 1389.5,771.5 1401.0,764.8 1411.5,756.8 M1312.7,777.1 1307.7,791.6 1296.9,808.4 M1312.7,777.1 1319.9,780.5 1330.1,777.6 M1376.8,787.1 1392.8,790.4 M1453.1,660.2 1447.8,679.1 1439.1,686.5 1433.0,695.0 M1453.1,660.2 1445.2,650.9 1437.2,641.8 1435.8,645.0 M1430.1,661.0 1437.2,641.8 1444.7,640.2 M1449.9,626.9 1460.0,614.7 1468.8,601.5 1468.2,595.1 M1523.5,600.6 1542.7,613.9 M1470.4,697.1 1455.4,707.0 1445.3,702.3 1433.0,695.0 M1455.4,707.0 1450.8,721.4 M1324.9,964.6 1343.6,950.5 1356.5,950.2 1370.6,948.5 1384.6,945.7 M1466.5,956.3 1480.9,950.7 1495.8,946.9 M1229.5,904.0 1219.8,883.5 1217.7,874.1 1212.1,862.1 M1258.8,937.1 1242.9,939.4 1223.6,942.6 1208.8,937.8 1194.1,932.7 M1194.1,932.7 1200.6,917.7 1208.3,903.4 M1200.9,865.5 1209.2,852.3 1213.9,836.1 1219.3,818.0 1227.0,800.9 M1200.9,865.5 1212.1,862.1 1226.8,860.0 1240.3,861.1 1252.5,857.8 1267.4,859.8 1278.8,857.1 1291.7,860.0 1305.2,865.4 M1298.8,957.1 1292.7,945.6 1284.3,935.6 1277.9,924.3 1273.5,908.7 1273.9,898.7 1275.9,884.7 1276.7,870.5 1278.8,857.1 1275.9,843.7 1268.7,830.3 1269.3,818.3 1272.0,805.7 M1227.0,800.9 1241.9,803.7 1257.0,804.5 1272.0,805.7 1282.8,810.6 1296.9,808.4 1317.9,813.7 1328.8,807.9 M1346.0,807.7 1356.8,793.0 1364.8,792.5 M1232.1,831.1 1244.3,828.1 1258.7,830.5 1268.7,830.3 M1237.2,850.3 1240.3,861.1 M1213.9,836.1 1232.1,831.1 M1256.2,972.0 1267.4,971.1 M1348.8,832.1 1355.1,844.1 1348.9,848.0 1342.9,863.1 M1355.1,844.1 1370.9,861.7 1376.3,872.6 1372.4,878.9 M1317.9,813.7 1299.1,810.2 1297.1,821.1 1289.7,833.8 M1323.5,828.8 1311.7,842.3 M1346.0,891.9 1339.4,890.1 1324.2,892.6 1311.7,892.8 1299.3,890.9 1286.3,893.8 1273.9,898.7 M1305.2,865.4 1304.1,884.6 1299.3,890.9 1301.0,905.8 1304.2,920.5 1300.9,928.7 1300.7,943.0 1298.8,957.1 M1377.9,930.2 1384.6,945.7 1378.1,956.9 1373.8,969.0 M1377.9,930.2 1362.1,929.0 1355.9,925.7 1347.0,930.3 1329.4,927.6 1317.4,927.7 1304.2,920.5 M1377.9,930.2 1380.7,916.7 1382.8,903.1 1384.9,884.4 M1346.0,891.9 1344.5,886.3 1354.0,871.3 M1298.8,957.1 1304.5,964.9 1310.0,965.6 1311.3,970.5 M1514.2,1095.8 1527.6,1094.8 1540.6,1091.1 1553.9,1089.3 1567.2,1088.0 M1560.1,1112.7 1563.6,1125.7 1558.4,1132.7 1544.6,1142.5 1536.3,1145.2 1522.8,1151.2 M1474.6,1001.9 1464.5,990.2 1455.0,978.0 1438.0,962.7 1426.4,958.7 1415.1,954.1 M1510.2,1033.1 1514.7,1043.4 1521.3,1047.2 1529.0,1058.5 1534.6,1070.9 1545.8,1080.6 1557.1,1090.3 1567.7,1100.6 M1503.6,1069.3 1507.1,1058.9 1504.0,1047.8 1504.8,1032.1 M1484.3,1056.9 1507.1,1058.9 1522.6,1055.6 1538.0,1051.6 1553.4,1042.3 M1509.0,1078.6 1522.4,1072.8 1534.6,1070.9 1547.2,1070.4 1566.6,1066.8 M1487.1,989.6 1480.4,995.3 1474.6,1001.9 M1482.6,1013.5 1483.6,1004.0 1487.1,989.6 M1499.0,1029.5 1491.6,1023.8 1482.6,1013.5 M1514.2,1009.1 1514.6,1018.1 1510.2,1033.1 M1514.2,1095.8 1525.1,1083.6 M1373.8,969.0 1384.7,975.2 1395.1,982.3 M1415.1,954.1 1422.4,938.7 1418.5,925.6 1413.6,912.9 M1415.1,954.1 1403.9,938.8 1408.0,925.5 1413.6,912.9 M1343.6,950.5 1343.3,963.2 M1356.5,950.2 1347.1,963.5 M1331.1,956.1 1324.9,964.6 M1495.8,946.9 1500.3,936.0 M1425.8,824.7 1441.7,817.6 1444.4,802.4 M1425.8,824.7 1425.1,837.5 1433.8,853.0 1423.7,865.8 M1372.4,820.4 1378.0,812.5 M1372.4,820.4 1383.3,822.4 M1372.4,820.4 1366.8,805.4 1364.8,792.5 M1384.9,884.4 1397.5,889.1 1409.3,895.6 1423.4,897.8 M1413.6,912.9 1412.9,926.3 1422.4,938.7 M1443.8,936.2 1434.6,938.3 1422.4,938.7 1403.9,938.8 1391.1,933.8 1377.9,930.2 M1411.4,814.2 1419.5,817.7 1425.8,824.7 M1418.1,806.0 1431.2,810.1 1444.4,802.4 M1387.8,853.1 1403.2,853.5 M1375.2,842.9 1387.8,853.1 M1375.8,801.4 1389.3,805.0 M1494.3,813.2 1514.9,812.8 1526.8,811.1 1538.8,809.8 1550.9,809.9 M1533.8,851.4 1528.2,837.4 1530.2,817.6 1530.1,799.9 1524.8,791.7 1521.2,782.6 1525.2,773.6 M1494.3,813.2 1514.9,812.8 1530.1,799.9 M1494.3,813.2 1484.6,821.9 1476.5,832.1 M1494.3,813.2 1490.2,802.3 1485.0,785.7 1489.1,780.3 M1449.9,788.8 1460.0,809.3 1463.8,823.2 1469.7,836.4 M1449.9,788.8 1446.6,775.5 1441.7,762.6 M1506.2,800.9 1495.3,786.6 1492.8,768.4 M1528.2,784.8 1521.2,782.6 M1530.1,799.9 1528.2,784.8 1525.2,773.6 M1596.4,726.8 1605.2,726.5 1620.1,722.3 1634.4,716.2 M1550.1,765.2 1561.6,779.5 1582.6,789.3 M1550.1,765.2 1565.3,765.1 1576.1,762.1 1593.7,767.9 M1550.1,765.2 1534.2,761.1 M1573.3,748.7 1573.0,736.2 M1573.3,748.7 1573.0,754.5 1577.4,772.3 M1584.3,748.4 1589.3,737.0 M1584.3,748.4 1593.7,767.9 M1492.8,768.4 1511.4,758.4 1519.4,746.3 M1499.5,752.0 1511.4,758.4 M1441.7,762.6 1424.2,775.3 1405.9,782.2 M1424.2,775.3 1418.6,779.5 1417.4,792.7 1418.1,806.0 M1463.5,736.6 1469.5,727.9 M1463.5,736.6 1443.8,736.3 M1441.7,762.6 1455.8,747.9 M1616.8,705.9 1609.0,717.6 1596.4,726.8 M1574.9,727.7 1574.0,709.4 M1616.8,705.9 1634.3,712.6 1634.4,716.2 M1590.1,711.5 1596.4,726.8 M1543.4,731.8 1539.1,721.7 1540.2,705.8 M1526.8,732.6 1519.4,746.3 M1560.2,701.4 1540.2,705.8 1525.5,712.9 1511.6,711.6 1498.1,713.5 1484.4,713.4 M1527.5,682.3 1547.4,680.6 1562.3,680.8 1577.1,679.6 M1573.8,668.8 1587.0,651.8 M1604.8,680.7 1592.6,665.7 1587.0,651.8 1567.9,641.9 M1567.9,641.9 1552.2,638.7 M1567.9,641.9 1555.8,629.1 1542.7,613.9 M1573.8,668.8 1560.6,674.8 1547.4,680.6 M1525.5,712.9 1537.3,706.8 1549.4,701.2 1558.2,690.9 1564.8,679.0 1573.8,668.8 M1610.7,686.8 1615.2,671.2 1619.3,655.4 1618.8,642.3 1618.2,629.2 M1528.3,643.9 1537.0,634.3 1552.2,638.7 M1541.8,656.9 1552.2,646.9 1552.2,638.7 M1493.3,694.9 1470.4,697.1 M1506.1,691.2 1505.9,678.8 1504.9,666.4 M1476.1,707.9 1484.4,713.4 1491.9,721.9 M1594.7,695.7 1603.5,692.8 M1614.2,600.4 1623.4,614.0 1631.6,628.1 M1568.1,466.4 1566.5,449.6 1567.2,432.7 M1541.1,550.8 1550.7,543.5 1559.3,535.0 M1541.1,550.8 1558.3,545.6 1575.5,540.6 1588.5,539.3 1608.7,533.8 M1629.7,442.9 1622.5,424.1 1622.4,408.6 1622.8,393.0 M1472.6,518.4 1495.0,515.6 1516.2,512.5 1533.5,498.0 1551.6,503.4 1558.2,503.9 1581.4,498.6 M1581.4,498.6 1592.8,502.4 1604.7,504.3 1616.4,507.2 1625.1,513.0 M1528.0,586.1 1523.5,600.6 M1539.8,555.5 1546.8,558.3 1557.8,564.4 1569.5,568.8 M1514.7,577.1 1517.7,571.7 1507.9,567.3 M1512.5,589.3 1514.7,577.1 M1484.5,566.0 1496.7,548.0 M1485.2,578.3 1489.0,571.6 1507.9,567.3 1510.4,554.5 1513.8,548.2 M1485.2,578.3 1497.4,593.9 1491.2,607.0 M1498.4,581.1 1502.1,581.4 1514.7,577.1 M1586.4,573.8 1594.2,561.0 M1586.4,573.8 1581.5,563.7 M1593.1,521.6 1603.0,515.6 M1567.6,547.4 1575.5,540.6 M1579.7,550.5 1588.5,539.3 M1604.4,549.2 1595.1,543.4 1588.5,539.3 M1565.9,549.2 1567.6,547.4 1574.0,546.9 M1626.2,558.4 1627.4,551.5 1625.3,543.5 M1610.3,544.5 1613.9,533.3 1621.9,523.0 M1676.9,523.1 1685.8,516.5 M1636.0,501.1 1635.8,490.6 1636.5,479.1 1632.5,466.7 M1662.3,461.6 1661.0,452.3 1657.8,434.7 1660.0,422.8 M1660.0,500.6 1658.9,492.9 1645.3,480.9 1646.9,470.6 M1646.9,470.6 1646.9,461.5 1644.5,455.2 M1644.5,455.2 1645.1,441.7 1644.1,428.2 1637.7,415.9 1630.6,399.3 M1632.5,466.7 1636.5,464.2 1644.5,455.2 M1683.6,433.0 1674.8,414.8 1667.8,396.2 1660.6,394.0 M1687.6,440.2 1704.5,432.7 M1687.6,440.2 1667.4,447.7 1661.0,452.3 M1683.6,433.0 1672.8,427.7 1661.9,422.7 1660.0,422.8 1648.1,403.1 1630.6,399.3 M1704.5,432.7 1696.8,426.2 1690.9,415.2 1686.7,403.5 M1683.6,433.0 1682.4,421.4 1674.8,414.8 M1683.6,433.0 1696.8,426.2 M1716.4,398.0 1719.9,397.0 1722.1,394.4 1735.6,385.4 1734.7,373.2 1748.0,365.2 M1718.3,373.5 1713.9,366.5 M1711.4,408.7 1691.1,401.9 1686.7,403.5 M1717.0,382.8 1734.7,373.2 M1644.1,428.2 1660.0,422.8 M1644.1,428.2 1636.4,429.9 1629.7,442.9 M1568.1,466.4 1559.8,457.1 1563.0,444.7 1567.2,432.7 M1591.1,459.6 1584.4,457.0 1575.9,444.8 1567.2,432.7 M1581.4,498.6 1587.7,480.0 1591.1,459.6 M1581.4,498.6 1591.4,490.6 1600.6,481.5 1612.8,470.3 1626.2,460.7 M1563.6,489.8 1558.2,503.9 M1563.6,489.8 1548.1,477.2 M1568.1,466.4 1558.2,472.9 1548.1,477.2 M1530.0,470.1 1541.9,465.0 1559.8,457.1 M1496.1,478.4 1502.4,477.5 1522.1,470.9 1530.0,470.1 M1499.5,492.7 1507.8,502.7 1516.2,512.5 M1499.2,485.9 1511.0,482.0 1522.8,478.1 1539.1,477.6 1548.1,477.2 M1516.2,478.7 1521.5,487.2 1531.4,491.5 M1632.5,466.7 1621.8,465.2 1611.8,474.1 1600.6,481.5 M1632.1,493.5 1624.0,502.9 1625.1,513.0 M1635.4,508.7 1636.0,501.1 1640.7,499.8 M1258.9,914.6 1251.7,901.0 1248.0,886.1 M1258.9,914.6 1249.6,926.1 1242.9,939.4 M1258.9,914.6 1272.5,899.8 M1084.2,967.4 1096.1,973.4 1107.9,979.6 M1084.2,967.4 1091.6,977.2 1097.5,987.8 1102.8,998.8 M1521.5,487.2 1502.4,477.5 M1521.5,487.2 1532.5,484.6 1542.3,478.8 1553.2,475.8 M1466.7,572.8 1455.4,576.5 1443.9,579.9 1432.4,583.1 M1466.7,572.8 1477.4,579.2 1487.2,586.8 1497.4,593.9 M1466.7,572.8 1477.9,573.2 1489.0,571.6 M1156.1,612.4 1144.8,610.7 1133.2,610.9 1121.8,610.2 1110.6,607.0 M1283.0,565.2 1292.2,554.3 1300.4,542.7 1310.3,532.4 M1283.0,565.2 1303.2,570.2 M999.2,940.5 998.0,951.7 996.9,962.9 993.2,973.6 M999.2,940.5 1008.4,927.3 1020.8,917.0 M999.2,940.5 999.3,928.2 1000.2,915.9 999.3,903.6 M1364.2,886.7 1374.4,892.1 1384.3,898.0 1394.1,904.1 1405.1,908.0 M1364.2,886.7 1372.2,878.3 1383.4,874.1 1391.9,866.4 M1263.0,549.9 1250.3,553.1 1237.4,555.4 M1345.9,566.5 1356.5,572.1 1368.0,575.1 1379.6,577.7 M1345.9,566.5 1357.2,559.0 1370.0,554.1 1381.3,546.5 M1084.9,900.9 1080.3,888.8 1076.7,876.2 M1248.0,886.1 1232.3,874.0 M1248.0,886.1 1263.2,880.0 1276.7,870.5 M1248.0,886.1 1255.6,865.9 M1576.2,619.2 1583.9,628.3 1592.7,636.3 M1576.2,619.2 1571.8,606.5 1570.9,593.0 M1448.5,733.4 1446.7,745.1 1444.3,756.7 1442.8,768.4 M1448.5,733.4 1458.5,741.4 1467.4,750.7 M1247.8,536.1 1239.8,523.9 1231.5,511.9 M1065.6,797.7 1065.3,781.0 1068.9,764.8 M1034.1,840.8 1034.3,829.8 1034.4,818.8 M1553.2,475.8 1567.6,461.6 M372.7,608.9 370.4,593.3 368.6,577.5 M372.7,608.9 357.7,608.7 343.2,612.9 M1315.9,943.8 1313.8,957.2 1311.3,970.5 M1191.0,932.6 1195.5,944.7 1197.4,957.7 1203.6,969.2 M1103.0,451.3 1118.4,450.6 1133.7,448.8 M1432.4,583.1 1437.3,604.1 M1495.2,547.7 1509.3,548.4 1523.5,549.1 M1237.4,555.4 1246.5,563.5 1256.2,570.9 M1237.4,555.4 1236.9,575.1 M1396.1,567.9 1379.6,577.7 M1431.2,810.1 1425.3,800.6 1424.7,788.9 1418.6,779.5 M1384.1,730.1 1396.6,733.9 1409.1,737.4 M1384.1,730.1 1385.4,718.7 1383.1,707.5 1381.6,696.3 M1392.8,790.4 1393.1,803.2 1393.7,816.0 M1636.5,479.1 1640.7,499.8 M1383.5,523.8 1374.5,512.1 1362.9,503.0 M1383.5,523.8 1392.6,514.0 1404.2,507.4 M1383.5,523.8 1384.7,511.8 1385.5,499.8 1388.4,488.1 M1383.5,523.8 1375.2,531.3 1364.6,535.7 1355.9,542.9 M1206.2,672.3 1196.8,660.3 1185.4,650.1 M1305.6,598.6 1304.5,584.4 1303.2,570.2 M1007.7,816.8 1021.0,817.8 1034.4,818.8 M1221.9,984.3 1211.5,978.3 1203.6,969.2 M1163.3,815.6 1167.6,804.0 1174.0,793.5 1179.6,782.6 M1325.4,740.5 1326.3,761.6 M1674.0,524.4 1664.1,514.6 1652.1,507.6 1640.7,499.8 M1604.1,550.3 1596.5,538.2 1592.0,524.5 M1276.7,870.5 1255.6,865.9 M1658.9,492.9 1670.1,484.1 1681.0,475.1 M1425.6,628.4 1411.9,624.7 1397.8,623.4 M1637.9,591.3 1640.0,578.7 1640.9,565.9 M1476.6,553.8 1489.0,571.6 M1373.9,775.5 1386.4,768.6 1399.9,763.9 1412.5,757.1 M1057.1,873.5 1076.7,876.2 M1497.4,593.9 1485.0,598.8 1472.6,603.9 1459.5,606.8 M1497.4,593.9 1503.9,604.6 1511.8,614.5 1517.3,625.8 M1277.9,924.3 1274.5,912.2 1272.5,899.8 M1592.7,636.3 1587.6,649.8 1581.0,662.5 1572.4,674.0 M1611.7,598.8 1603.9,586.8 1598.7,573.4 M1552.1,752.7 1555.5,740.1 1559.3,727.6 M1627.4,551.5 1640.9,565.9 M1681.0,475.1 1680.1,489.6 1675.4,503.3 M1681.0,475.1 1685.6,461.7 1688.2,447.8 M1675.4,503.3 1685.6,498.4 1695.4,492.6 1706.7,490.0 1717.5,486.4 1727.7,481.4 1737.4,475.4 M1172.3,404.2 1158.3,411.0 1144.8,418.8 M1369.7,614.4 1350.7,624.5 M1434.6,836.7 1445.6,837.5 1456.6,838.4 1467.7,836.8 M1434.6,836.7 1417.3,825.0 M1235.1,618.5 1229.7,607.6 1226.0,596.0 M1235.1,618.5 1250.3,622.5 1264.0,630.0 M355.9,637.6 350.2,624.9 343.2,612.9 M355.9,637.6 336.8,639.2 M1024.5,995.3 1023.3,983.7 1025.9,972.0 1024.2,960.4 M1598.7,573.4 1588.8,579.2 1580.2,586.6 1570.9,593.0 M1373.8,829.0 1381.1,840.8 1386.4,853.6 1391.9,866.4 M1373.8,829.0 1369.7,817.4 1366.8,805.4 M1400.4,848.7 1404.4,861.7 1411.9,873.2 1415.0,886.5 M1621.8,465.2 1607.5,463.6 1593.3,462.0 M1621.8,465.2 1612.2,474.4 1599.6,479.3 1590.1,488.6 1578.8,495.2 M1486.7,614.5 1502.6,618.7 1517.3,625.8 M1408.5,587.0 1411.3,575.6 1417.4,565.6 1422.2,555.1 M1087.8,851.0 1097.9,846.1 1107.1,839.3 1117.3,834.4 1126.5,827.9 M1561.6,779.5 1549.5,779.7 1537.8,776.8 M1284.8,592.7 1275.9,584.6 1266.2,577.6 1256.2,570.9 M1528.2,837.4 1516.3,841.4 1504.7,845.9 1492.9,850.2 M1515.9,800.7 1507.0,807.7 1497.6,814.0 1489.1,821.5 M1415.0,886.5 1403.4,876.4 1391.9,866.4 M1379.6,577.7 1372.1,587.0 1362.8,594.4 M1381.3,546.5 1368.9,542.5 1355.9,542.9 M1132.0,975.3 1134.5,962.3 1135.3,949.0 M1528.1,745.1 1516.6,747.7 1504.9,746.2 M1528.1,745.1 1519.6,736.0 1515.1,724.3 1507.8,714.4 M1593.3,462.0 1587.7,472.8 1583.9,484.3 1578.8,495.2 M1489.1,821.5 1503.0,822.2 1516.7,821.1 1530.2,817.6 M1404.2,507.4 1396.3,497.8 1388.4,488.1 M1304.1,884.6 1313.8,872.1 1324.0,859.9 M1485.0,785.7 1488.9,775.3 1496.7,766.8 1498.6,755.4 1504.9,746.2 M1517.7,571.7 1521.8,586.6 1523.7,601.8 M1517.7,571.7 1527.6,580.7 1540.7,584.6 1550.8,593.3 M1517.7,571.7 1532.8,566.1 1546.8,558.3 M1034.4,818.8 1031.0,807.9 1031.4,796.6 1030.3,785.4 M1150.5,697.8 1139.4,707.0 1128.7,716.6 M1590.1,711.5 1594.6,700.4 1598.8,689.2 1603.0,678.0 M1442.8,768.4 1456.9,768.1 1470.8,770.9 M1442.8,768.4 1435.1,756.2 1431.2,742.4 M1442.8,768.4 1427.5,763.1 1412.5,757.1 M1442.8,768.4 1454.4,758.5 1467.4,750.7 M1514.7,1043.4 1497.1,1031.6 M1169.7,581.8 1179.1,588.9 1185.3,598.9 M1578.8,495.2 1570.2,514.2 M1203.6,969.2 1188.9,971.1 1174.3,969.6 M1203.6,969.2 1199.6,983.9 1199.2,999.0 M1100.3,692.2 1088.1,692.1 1075.9,692.9 M364.1,681.0 352.4,678.2 341.7,672.6 M343.2,612.9 326.4,622.0 M1523.7,601.8 1532.6,610.1 1543.4,615.5 M1523.7,601.8 1519.2,613.5 1517.3,625.8 M1214.9,452.7 1224.3,459.5 1232.6,467.4 M1204.5,559.8 1215.3,564.8 1226.9,568.3 1236.9,575.1 M1570.6,570.5 1559.8,581.1 1550.8,593.3 M1570.9,593.0 1588.9,599.7 M1067.9,989.9 1080.2,1006.2 M1602.1,616.2 1588.9,599.7 M1504.9,746.2 1507.5,730.4 1507.8,714.4 M1504.9,746.2 1492.8,740.6 1480.7,735.1 1469.5,727.9 M1088.6,710.1 1075.9,692.9 M1550.8,593.3 1546.7,604.3 1543.4,615.5 M1550.8,593.3 1548.9,581.7 1549.2,569.8 1546.8,558.3 M1397.8,623.4 1392.9,613.4 1386.1,604.5 M1381.6,696.3 1371.5,708.3 1362.7,721.3 M1513.8,1018.2 1497.1,1031.6 M1077.7,924.8 1072.2,945.1 M341.7,672.6 332.6,664.5 325.3,654.6 M341.7,672.6 339.7,661.5 336.9,650.6 336.8,639.2 M345.1,715.8 350.3,695.7 M1467.4,750.7 1466.9,739.2 1469.5,727.9 M1024.2,960.4 1036.0,955.9 1048.2,952.7 1059.8,947.6 1072.2,945.1" fill="none" stroke="#ee1111" stroke-width="4.6" stroke-linecap="round" stroke-dasharray="1.5 31.5" stroke-dashoffset="-12"/>
<path d="M558.4,689.7 567.9,681.1 576.7,671.7 585.1,662.7 592.1,652.4 595.7,641.2 605.1,629.3 M1046.0,894.5 1061.0,900.0 1075.1,907.5 1091.9,901.9 1104.9,900.9 1121.7,900.6 M1052.0,881.6 1065.3,878.3 1084.6,879.3 1098.3,873.6 1112.0,868.0 M1067.9,966.3 1056.8,958.0 1052.2,939.6 1046.3,927.9 1039.8,916.5 M1026.6,798.7 1045.7,796.2 1053.5,797.0 1067.9,794.7 1088.7,795.7 1100.4,797.3 M1030.3,785.4 1035.0,783.2 1041.8,782.5 M1068.9,764.8 1076.3,755.9 1078.2,752.5 1085.6,742.4 1096.3,736.1 M1100.5,654.4 1101.1,640.0 1107.5,620.3 1110.6,607.0 1116.0,591.7 M1210.3,690.5 1226.1,702.3 1232.0,713.2 1235.8,725.0 1236.9,736.8 1236.7,750.0 1233.1,761.3 1231.5,771.9 1226.9,781.3 1223.2,801.1 M1135.2,895.7 1155.1,899.6 1170.8,899.4 1181.3,899.8 1198.9,901.7 1208.3,903.4 M1264.9,566.4 1252.1,571.9 1238.6,575.7 1225.8,574.2 1212.9,573.0 1200.1,571.7 1198.5,571.4 M1264.9,566.4 1258.2,577.7 1252.1,589.5 1243.5,606.2 1235.1,618.5 1227.4,632.0 1228.2,655.0 M1272.0,580.7 1269.0,595.8 1267.0,611.1 1264.8,617.6 1263.2,641.0 1259.6,654.4 1255.1,669.1 1251.8,684.1 1252.6,705.5 M1236.1,541.8 1237.6,554.4 1238.6,575.7 1240.1,591.1 1243.5,606.2 M1243.5,606.2 1254.0,612.2 1264.8,617.6 1281.4,616.2 1301.4,617.3 M1226.8,599.8 1205.3,591.7 1200.1,571.7 M1215.0,675.3 1228.6,667.4 1242.7,660.4 1259.6,654.4 1273.7,646.6 1289.5,639.1 M1215.0,675.3 1227.1,678.9 1239.7,680.3 1251.8,684.1 1264.6,687.0 1277.2,690.4 1289.9,693.7 M1252.6,705.5 1258.1,716.9 1263.7,728.2 M1447.1,583.3 1445.0,599.8 1448.2,613.2 1449.9,626.9 M1289.9,693.7 1302.2,689.7 1314.6,686.0 1326.7,681.6 1339.3,678.6 M1300.5,745.1 1296.7,733.6 1280.2,731.0 1263.7,728.2 M1453.1,660.2 1444.7,640.2 1449.9,626.9 M1453.1,660.2 1465.4,653.5 1476.6,645.1 1480.9,630.4 1483.0,621.3 M1491.2,607.0 1507.3,603.6 1523.5,600.6 1537.4,597.7 1551.5,595.6 M1298.8,957.1 1305.1,950.1 1315.0,957.3 1324.9,964.6 M1246.3,975.8 1249.8,968.1 1254.3,952.6 1258.8,937.1 M1258.8,937.1 1262.7,923.8 1267.4,910.9 1273.9,898.7 M1229.5,904.0 1224.7,918.6 1223.2,930.4 1223.6,942.6 1223.9,955.9 1224.9,969.2 M1423.7,865.8 1435.0,870.8 1446.9,873.6 1459.6,874.1 1472.2,876.0 1487.7,879.5 1503.4,882.0 M1593.1,521.6 1586.8,510.4 1581.4,498.6 1570.7,482.5 1568.1,466.4 M1464.0,557.6 1480.2,552.3 1496.7,548.0 1513.8,548.2 1522.9,549.9 1541.1,550.8 M1472.6,518.4 1474.0,536.1 1476.6,553.8 M1472.6,518.4 1481.8,509.7 1491.6,501.8 M1516.2,478.7 1530.0,470.1 M1516.2,478.7 1532.2,478.8 1548.1,477.2 1568.1,466.4 1584.4,457.0 1591.1,459.6 1608.7,460.1 1626.2,460.7 M1632.5,466.7 1646.9,470.6 1666.9,478.7 M1635.4,508.7 1632.1,493.5 1632.4,480.1 1632.5,466.7 M1530.0,470.1 1531.4,491.5 1551.6,503.4" fill="none" stroke="#ee1111" stroke-width="5" stroke-linecap="round" stroke-dasharray="3 21"/>
<path d="M1643,535l12,1 M1621,576l5,7 M1661,524l-8,5 M1580,534l-9,8 M1569,572l6,1 M1624,562l-4,8 M1631,551l-4,5 M1637,499l2,9 M1567,576l1,10 M1594,555l-2,7 M1603,544l-2,6 M1608,514l7,9 M1590,590l-9,5 M1583,535l-4,8 M1609,522l-1,11 M1597,531l-1,8 M1570,560l4,6 M1610,522l3,4 M1624,528l-1,10 M1619,551l-12,5 M1639,511l-1,4 M1661,511l-9,9 M1605,568l-5,3 M1594,574l-5,5 M1615,541l1,5 M1628,578l-5,2 M1632,553l-4,4 M1596,525l8,1 M1583,543l6,9 M1644,556l-10,6 M1600,542l-3,10 M1636,513l6,8 M1652,513l-5,1 M1638,578l1,7 M1610,531l4,11 M1631,529l-5,5 M1643,516l2,5 M1629,563l1,6 M1578,596l-2,4 M1592,508l-2,12 M1587,518l0,10 M1616,520l-10,3 M1611,564l-2,6 M1586,524l7,4 M1582,559l4,1 M1617,585l8,1 M1608,513l10,2 M1669,454l-8,5 M1650,497l-9,1 M1649,457l-4,2 M1683,469l8,7 M1686,477l9,5 M1657,493l-1,4 M1664,482l1,10 M1690,493l-2,6 M1674,437l5,6 M1658,458l1,9 M1675,451l-3,2 M1704,482l4,2 M1640,471l2,4 M1650,458l8,8 M1669,440l-8,8 M1689,463l2,11 M1642,486l-1,8 M1660,466l-6,4 M1677,467l3,4 M1647,454l0,6 M1660,446l-10,6 M1685,437l4,12 M1654,463l-5,1 M1663,488l-11,2 M1595,652l8,3 M1557,635l5,7 M1569,587l-0,11 M1607,603l-8,1 M1595,662l-9,0 M1580,673l2,5 M1630,618l-10,4 M1579,636l4,2 M1580,623l-6,2 M1624,635l4,1 M1560,602l3,8 M1586,585l-10,1 M1586,650l-5,0 M1590,617l-11,4 M1584,633l-5,2 M1551,639l12,1 M1582,596l4,2 M1580,660l-4,2 M1600,586l-1,12 M1624,595l10,3 M1598,614l8,3 M1581,595l3,9 M1547,623l7,5 M1552,629l-11,3 M1561,632l-0,6 M1588,672l6,9 M1568,629l-2,7 M1559,639l9,7 M1616,623l-4,4 M1575,597l2,11 M1617,610l-6,0 M1597,654l5,7 M1629,641l-4,0 M1509,570l1,9 M1472,602l6,6 M1479,594l-9,9 M1516,556l4,3 M1500,557l-8,3 M1490,538l-7,8 M1532,559l5,4 M1497,569l-0,8 M1485,593l-8,10 M1556,608l-8,10 M1470,613l-8,2 M1459,610l2,7 M1562,557l13,1 M1536,609l6,1 M1473,595l11,4 M1478,594l-2,6 M1511,536l-7,3 M1475,544l5,7 M1476,561l0,11 M1497,569l-1,12 M1480,568l9,0 M1499,576l1,10 M1553,550l-5,4 M1436,569l10,4 M1507,541l-5,2 M1548,560l-2,4 M1517,605l-2,3 M1505,623l7,6 M1550,575l-1,10 M1533,608l-6,3 M1491,570l-1,10 M1476,604l-5,4 M1515,591l0,9 M1438,579l2,10 M1466,546l-2,9 M1470,595l-8,6 M1491,579l11,2 M1503,566l9,2 M1505,566l4,0 M1512,556l-6,8 M1543,737l-5,0 M1457,790l-8,5 M1573,777l-5,12 M1467,728l9,6 M1541,796l-4,6 M1454,792l10,0 M1544,751l8,6 M1544,766l-6,4 M1569,774l3,8 M1526,736l-6,7 M1495,781l3,8 M1417,765l0,5 M1566,770l6,9 M1568,752l12,3 M1467,788l7,5 M1475,792l-0,5 M1521,787l2,4 M1510,754l5,0 M1567,737l-12,4 M1436,785l-11,4 M1455,787l-11,7 M1516,723l-7,1 M1555,778l2,6 M1581,749l-6,7 M1401,560l1,5 M1444,616l-5,2 M1363,541l9,5 M1408,601l0,11 M1440,600l9,2 M1446,565l-12,3 M1362,547l-4,3 M1332,568l2,9 M1465,570l1,12 M1356,569l11,4 M1350,550l9,8 M1390,605l-1,9 M1321,630l-9,3 M1317,606l-8,5 M1436,622l11,3 M1419,552l-5,8 M1393,566l10,7 M1382,612l3,5 M1319,583l5,2 M1354,595l5,4 M1288,582l-6,3 M1371,562l-4,10 M1334,640l3,5 M1309,555l-7,3 M1430,558l4,7 M1370,586l-4,10 M1352,531l2,8 M1304,600l8,8 M1341,630l1,5 M1295,592l-0,6 M1442,571l5,4 M1361,572l3,5 M1397,566l-12,1 M1606,499l-6,3 M1601,468l8,5 M1613,459l-7,3 M1621,486l1,7 M1559,482l-3,10 M1529,493l-6,1 M1546,495l-0,8 M1606,490l3,3 M1621,501l-4,4 M1616,494l-8,2 M1541,485l4,5 M1556,481l-4,12 M1653,487l-5,10 M1376,816l7,7 M1435,857l-0,9 M1366,846l-9,4 M1370,857l-12,3 M1422,865l4,10 M1420,859l5,1 M1367,857l8,5 M1387,807l-11,2 M1397,847l3,4 M1447,824l-11,0 M1402,862l-10,6 M1405,791l8,6 M1440,849l-3,4 M1419,874l-6,2 M1430,846l-8,4 M1416,863l1,9 M1366,805l-1,9 M1411,799l1,4 M1303,736l-12,2 M1335,756l-4,5 M1338,713l-0,9 M1371,738l7,5 M1351,763l-13,1 M1351,778l5,1 M1432,746l3,5 M1422,766l4,7 M1356,772l8,5 M1399,721l-5,9 M1323,754l8,3 M1366,740l12,2 M1337,724l5,4 M1351,755l-7,8 M1515,970l1,7 M1546,1055l4,4 M1525,1075l-3,6 M1519,1070l-5,5 M1536,1084l1,8 M1526,1073l5,2 M1505,1037l7,6 M1540,1102l-1,8 M1510,1059l-3,5 M1545,1041l7,0 M1507,994l6,3 M1495,1060l9,9 M1556,1059l1,4 M1527,1097l5,3 M1266,582l-7,9 M1300,552l2,5 M1250,541l0,4 M1259,563l2,4 M1244,570l10,8 M1269,542l-8,6 M1238,511l-7,7 M1259,540l2,10 M1258,548l9,7 M1258,576l4,1 M1251,571l-3,5 M1250,495l-9,9 M1274,583l-0,7 M1360,526l-2,4 M1387,509l1,7 M1354,513l-0,13 M1386,515l-9,2 M1380,554l2,5 M1400,499l-1,6 M369,637l2,11 M385,608l9,2 M348,671l-3,11 M332,595l3,11 M348,670l4,4 M357,675l4,9 M340,617l-8,9 M372,623l12,0 M380,636l13,3 M381,633l2,9 M374,667l8,4 M380,588l4,8 M1513,681l-3,4 M1506,676l12,2 M1518,700l7,6 M1621,696l3,5 M1548,694l-11,2 M1544,677l-1,5 M1535,660l-11,3 M1583,706l1,7 M1544,683l-3,7 M1578,667l10,5 M1599,680l7,0 M1557,660l-9,5 M1538,669l9,1 M1580,718l4,6 M1557,652l2,6 M1481,808l-6,4 M1413,830l4,4 M1485,849l-7,2 M1519,802l4,1 M1515,829l3,8 M1440,822l1,7 M1483,857l3,8 M1436,843l3,3 M1466,816l5,5 M1518,810l-0,5 M1517,844l10,3 M1445,795l1,8 M1494,815l3,8 M1486,836l4,2 M1318,959l-7,1 M1197,941l-12,4 M1233,940l-7,7 M1267,954l7,3 M1338,948l-11,4 M1156,947l0,9 M1206,981l-2,7 M1087,885l4,0 M1071,884l4,1 M1112,896l-2,5 M1049,923l9,1 M1040,972l-7,3 M1099,972l-0,10 M1092,943l-6,3 M1040,990l-3,7 M1065,976l4,9 M1101,919l-10,6 M1110,976l-3,7 M1058,997l-2,4 M1050,900l6,1 M1044,904l-8,9 M1106,896l7,8 M1056,915l-9,8 M1104,869l-7,3 M1044,867l-6,11 M1096,944l-4,10 M1107,874l-5,7 M1110,976l-6,8 M1020,917l8,3 M1116,958l4,12 M1034,941l4,8 M1123,406l-5,3 M1153,402l-8,4 M1084,419l-6,4 M1137,385l12,1 M1124,435l-9,8 M1131,449l0,7 M1128,417l-12,3 M1134,459l-10,5 M1181,436l-0,5 M1094,672l4,5 M1165,704l-5,0 M1151,713l-1,8 M1142,729l10,2 M1152,737l1,9 M1096,648l2,8 M1192,662l5,5 M1172,662l12,0 M1104,699l-9,1 M1101,680l-10,6 M1126,671l-2,6 M1140,724l3,6 M1170,666l-1,9 M1116,723l8,7 M1148,682l-2,4 M1282,940l-0,12 M1370,845l7,6 M1343,843l6,5 M1247,838l5,5 M1214,856l-1,13 M1223,903l1,11 M1211,870l4,7 M1241,934l2,9 M1304,929l-11,3 M1379,869l-7,2 M1304,829l5,8 M1312,933l-4,4 M1225,874l11,1 M1293,936l-9,0 M1334,880l-8,3 M1226,889l10,7 M1329,911l7,5 M1381,846l1,10 M1233,852l4,5 M1280,925l-6,11 M1285,814l-0,8 M1263,904l-9,0 M1011,782l6,5 M1166,821l-8,6 M1157,841l4,4 M1051,767l4,3 M1180,788l-5,5 M1014,794l7,7 M1159,770l-2,13 M1172,789l-10,0 M1151,765l-1,11 M1076,775l-12,4 M1156,809l5,5 M1133,792l2,10 M1021,799l-6,3 M1158,810l-10,7 M1236,544l4,7 M1275,575l3,5 M1264,550l0,7 M1254,572l7,9 M1177,625l5,7 M1182,640l6,6 M1277,588l-9,5 M1190,598l4,1 M1186,598l3,7 M1252,577l-6,1 M1226,430l9,2 M1265,418l-9,8 M1207,489l4,6 M1164,466l-2,9 M1195,487l5,4 M1242,447l1,6 M1226,509l9,6 M1185,410l11,0 M1203,489l8,8 M1220,514l-11,6 M1199,467l5,6 M1225,474l-3,11 M1208,422l-0,10 M412,767l3,11" fill="none" stroke="#ee1111" stroke-width="4.4" stroke-linecap="round"/>
<path d="M1466.7,572.8 1456.1,564.1 1443.4,559.0 M1250.6,843.6 1255.7,829.3 1258.2,814.3 M1283.0,565.2 1269.7,568.3 1256.2,570.9 M1364.2,886.7 1353.0,888.7 1343.4,894.7 M1626.0,513.5 1633.9,524.6 1642.7,535.2 M1626.0,513.5 1615.2,518.8 1603.8,522.3 1592.0,524.5 M1291.9,906.0 1272.5,899.8 M1576.2,619.2 1582.4,609.4 1588.9,599.7 M1576.2,619.2 1560.0,615.7 1543.4,615.5 M1346.7,760.4 1335.0,751.5 1325.4,740.5 M1664.3,461.1 1660.3,476.8 1658.9,492.9 M1664.3,461.1 1676.5,454.9 1688.2,447.8 M1065.6,797.7 1054.2,792.3 1042.2,789.2 1030.3,785.4 M345.7,587.1 333.0,589.6 321.2,594.8 M1242.9,939.4 1224.1,929.4 M1191.0,932.6 1185.5,944.9 1181.8,958.2 1174.3,969.6 M1532.7,691.3 1547.1,698.3 1562.6,702.5 M1432.4,583.1 1440.5,592.1 1449.7,599.8 1459.5,606.8 M1619.6,532.2 1627.4,551.5 M1396.1,567.9 1401.7,556.6 1403.3,544.1 M1396.1,567.9 1409.0,561.3 1422.2,555.1 M1623.0,578.2 1637.9,591.3 M1623.0,578.2 1611.0,574.7 1598.7,573.4 M1418.6,779.5 1431.5,775.7 1442.8,768.4 M1636.5,479.1 1647.3,486.7 1658.9,492.9 M1567.6,461.6 1571.4,472.8 1576.4,483.6 1578.8,495.2 M1163.3,815.6 1159.7,802.0 1156.6,788.2 M1163.3,815.6 1155.0,824.0 1149.2,834.3 M1604.1,550.3 1615.7,552.5 1627.4,551.5 M1604.1,550.3 1591.9,551.1 1579.7,550.5 M1658.9,492.9 1675.4,503.3 M1357.3,857.4 1368.9,860.2 1380.7,861.9 1391.9,866.4 M1474.8,804.9 1469.8,820.5 1467.7,836.8 M1497.4,593.9 1492.8,604.6 1486.7,614.5 M1497.4,593.9 1510.9,596.4 1523.7,601.8 M1534.6,1070.9 1540.4,1085.7 1544.4,1101.1 M374.1,648.0 362.6,655.3 352.0,663.8 341.7,672.6 M1611.7,598.8 1602.1,616.2 M1627.4,551.5 1634.5,542.8 1642.7,535.2 M1409.1,737.4 1420.0,740.3 1431.2,742.4 M1515.8,772.1 1505.0,775.4 1494.7,779.8 1485.0,785.7 M1157.0,981.7 1149.7,970.8 1141.3,960.7 1135.3,949.0 M1154.6,446.4 1168.4,439.4 1179.7,428.8 M1598.7,573.4 1584.5,573.4 1570.6,570.5 M1393.7,816.0 1397.0,826.7 1397.7,837.9 1400.4,848.7 M1030.0,892.2 1018.3,876.6 M1400.4,848.7 1391.9,866.4 M1408.5,587.0 1398.0,596.6 1386.1,604.5 M1087.8,851.0 1084.2,836.7 1081.1,822.2 M1515.9,800.7 1505.0,797.1 1495.6,790.2 1485.0,785.7 M1304.1,884.6 1300.0,872.7 1299.3,860.1 1296.3,847.9 M1256.8,479.6 1245.0,472.9 1232.6,467.4 M1228.1,438.2 1214.9,452.7 M420.6,779.4 431.2,783.2 442.5,783.4 M1244.9,973.6 1231.2,971.8 1217.1,972.6 1203.6,969.2 M1688.2,447.8 1693.0,436.4 1701.5,427.3 1708.0,417.0 M343.2,612.9 338.5,625.7 336.8,639.2 M1122.7,429.0 1102.8,430.0 M1362.8,594.4 1373.9,600.8 1386.1,604.5 M321.2,594.8 324.0,606.6 323.2,618.7 325.1,630.6 326.0,642.5 325.3,654.6 M1470.8,770.9 1461.2,779.9 1451.4,788.7 M1602.1,616.2 1622.2,616.1 M1523.5,549.1 1534.8,554.6 1546.8,558.3 M1267.9,969.7 1259.6,979.3 1250.8,988.4 1241.8,997.3 1233.3,1006.7 M326.4,622.0 336.8,639.2 M1546.8,558.3 1558.3,557.8 1569.3,555.2 1579.7,550.5" fill="none" stroke="#ee1111" stroke-width="4.4" stroke-linecap="round" stroke-linejoin="round"/>
<path d="M427.4,226.5 426.9,238.2 424.7,258.4 420.6,268.6 414.6,279.9 400.9,286.4 396.1,295.9 M393.3,334.5 391.8,337.8 386.9,346.6 377.8,356.6 373.7,365.6 364.6,382.2 367.9,390.3 M343.9,436.7 355.5,445.3 359.0,453.2 M355.2,469.4 358.3,482.0 359.7,488.3 354.1,500.2 350.6,512.8 349.3,527.2 349.3,535.0 347.8,542.9 343.9,549.5 345.5,565.5 344.8,581.5 354.1,587.6 M354.1,587.6 355.8,605.0 353.6,610.8 354.0,616.9 347.7,617.4 M353.6,610.8 355.3,628.1 357.1,645.5 361.3,660.3 365.9,674.9 371.9,689.1 376.2,704.3 384.3,718.7 391.5,733.6 392.5,739.1 396.4,751.6 397.6,755.2 399.7,759.1 403.6,769.7 M403.6,769.7 411.3,779.3 412.3,785.5 416.6,795.8 422.4,805.0 422.0,807.0 424.0,823.8 424.0,823.8 M354.1,587.6 355.8,605.0 353.6,610.8 358.4,624.1 365.2,631.7 369.4,639.8 376.6,653.4 383.3,664.4 393.5,682.3 390.8,686.1 389.7,702.2 392.7,717.9 391.5,733.6 M349.3,527.2 356.0,544.9 361.2,554.6 357.0,567.0 354.1,587.6 M357.0,567.0 361.1,583.2 M321.2,608.9 325.5,609.0 328.8,598.6 336.2,595.1 347.1,587.2 354.1,587.6 M321.2,608.9 323.3,619.2 331.3,627.9 336.8,642.2 336.2,647.7 331.2,652.7 M325.5,609.0 328.2,615.0 331.3,627.9 M325.5,609.0 337.9,617.0 347.7,617.4 354.0,616.9 358.4,624.1 M325.5,609.0 333.2,604.0 336.2,595.1 M321.2,608.9 320.2,601.1 319.9,591.2 320.1,583.3 317.2,574.4 315.5,568.4 M328.8,598.6 329.3,594.5 320.1,583.3 M331.3,627.9 323.9,639.8 330.1,642.8 324.1,653.8 M348.1,696.7 345.7,709.2 349.1,722.5 352.8,736.2 361.1,745.2 375.5,754.3 377.9,757.9 387.4,761.3 403.6,769.7 M354.1,587.6 361.1,583.2 368.4,579.5 382.4,575.4 396.1,570.7 407.8,566.2 M354.1,587.6 374.0,587.4 M397.1,587.3 403.7,586.9 405.5,579.5 407.8,566.2 M353.6,610.8 372.7,608.9 M354.0,616.9 364.9,621.5 378.4,616.7 M383.3,664.4 392.0,669.3 M383.3,664.4 382.8,649.9 383.3,635.5 M337.2,501.9 350.6,512.8 M314.8,455.5 316.5,444.9 M403.6,769.7 407.3,766.9 417.7,772.7 422.0,773.8 431.4,773.9 441.7,783.0 457.8,793.2 459.2,794.6 M459.2,794.6 473.2,799.7 488.0,802.1 502.1,807.2 M417.7,772.7 426.9,778.9 430.4,796.7 429.2,810.2 424.0,823.8 M431.4,773.9 427.8,765.7 433.6,762.6 434.8,758.8 445.4,747.8 460.6,745.3 475.3,740.7 497.1,732.7 508.3,714.2 M426.9,778.9 431.4,773.9 M411.3,779.3 426.9,778.9 441.7,783.0 M392.7,717.9 406.7,730.2 413.9,735.0 M413.9,735.0 411.9,747.5 411.4,751.8 397.6,755.2 M411.4,751.8 422.8,756.3 434.8,758.8 M403.6,769.7 402.7,779.9 412.3,785.5 M403.6,769.7 397.2,769.4 377.9,757.9 M399.7,759.1 407.3,766.9 M424.0,823.8 430.3,821.3 M434.8,758.8 438.1,758.2 M457.8,793.2 470.2,781.7 M375.5,754.3 382.6,753.5 397.6,755.2 M392.7,717.9 378.8,723.0 M515.6,722.8 521.9,733.2 526.7,744.4 532.2,755.2 M508.3,714.2 519.7,708.8 531.6,704.1 542.7,697.8 558.4,689.7 M622.7,605.1 625.6,595.6 627.6,593.8 630.6,587.3 626.5,580.7 627.6,567.3 629.0,559.5 628.3,550.6 628.7,540.0 626.0,532.2 M509.4,740.4 517.3,753.0 517.5,753.5 532.2,755.2 M519.2,775.6 518.7,790.9 M553.1,821.6 560.1,825.4 569.2,826.9 578.3,827.5 585.2,829.8 598.6,837.9 M578.3,827.5 584.8,835.3 584.0,849.4 588.7,852.8 596.0,866.7 603.6,876.7 622.6,888.8 M603.6,876.7 603.9,891.3 602.8,905.9 M578.3,827.5 579.6,812.2 582.6,797.1 591.4,789.0 601.0,767.1 M578.3,827.5 570.4,816.5 562.3,805.6 M562.3,805.6 557.1,793.6 553.5,781.1 543.1,767.9 532.2,755.2 M591.4,789.0 587.1,782.1 594.9,779.0 M601.0,767.1 608.2,752.1 613.9,736.5 M627.6,567.3 637.8,570.5 640.8,561.8 655.3,553.2 M630.6,587.3 639.4,601.0 649.9,613.5 M627.6,567.3 614.5,570.5 M627.6,567.3 613.2,564.7 598.8,561.8 584.1,560.6 569.7,557.6 M535.4,444.4 526.9,444.0 524.5,441.2 M483.7,336.9 480.6,332.5 M424.7,258.4 428.8,259.6 438.9,264.5 M420.6,268.6 432.5,275.7 M440.5,280.9 450.7,292.4 457.7,299.8 M466.4,287.8 484.2,296.5 488.0,301.2 M536.7,296.2 552.1,295.5 M552.1,295.5 562.2,278.6 571.7,265.2 M414.6,279.9 409.4,269.4 M391.8,337.8 385.4,335.2 M391.8,337.8 382.9,343.6 377.5,345.8 M348.7,360.3 366.6,368.8 373.7,365.6 M364.6,382.2 379.6,400.5 M414.2,397.3 405.8,403.2 402.7,410.0 M741.7,401.5 734.9,403.3 M809.0,597.9 808.7,613.1 808.5,628.4 810.8,642.1 810.1,661.7 M767.4,771.8 748.3,783.9 744.5,791.5 737.4,806.5 M729.7,890.2 735.9,911.3 M767.4,771.8 764.5,760.5 M744.5,791.5 751.0,777.4 758.6,763.9 M808.5,628.4 794.4,627.0 778.7,629.4 M744.4,628.4 733.2,627.9 M744.4,628.4 755.3,641.6 M808.5,628.4 801.9,617.6 M808.5,628.4 814.2,616.1 820.6,604.2 M961.7,1021.7 976.1,1012.0 990.4,1002.1 996.0,995.4 1000.2,982.0 1002.2,973.4 1002.3,967.3 1009.3,953.7 1013.0,952.3 1019.0,936.2 1019.8,919.6 1026.5,903.6 1030.0,891.9 M1019.8,919.6 1010.8,907.1 1014.1,892.8 1020.3,876.3 1018.5,860.3 1020.4,841.6 M1030.0,891.9 1020.3,876.3 M1018.2,822.0 1012.1,803.5 1010.0,794.4 1013.2,780.7 M1014.8,727.3 1016.3,714.0 M976.1,1012.0 992.8,1007.0 1007.7,1006.8 1022.4,1003.9 1037.2,1002.9 1049.0,1000.1 1059.6,999.7 1073.6,1000.7 1085.8,1001.4 1102.8,998.8 1112.9,988.7 1122.2,988.9 1140.1,982.7 M745.3,921.2 735.9,911.3 M860.8,919.1 869.9,914.3 M1000.0,892.2 1014.1,892.8 1021.1,896.1 1030.0,891.9 1038.1,893.2 1046.0,894.5 M1030.0,891.9 1041.0,886.6 1052.0,881.6 M1112.0,868.0 1123.4,857.2 M1149.2,834.3 1154.0,825.9 1162.5,818.7 M1091.6,1017.1 1082.7,1008.8 1073.6,1000.7 1070.7,981.0 1067.9,966.3 M1039.8,916.5 1034.0,908.2 1030.0,891.9 M1030.0,891.9 1036.4,877.6 1035.9,860.9 1043.1,848.3 M1073.6,1000.7 1059.9,1008.0 1049.2,1019.0 M985.0,1118.7 981.6,1127.3 983.2,1127.7 989.9,1128.2 998.8,1128.0 1005.1,1138.4 M1009.4,1070.7 1000.1,1071.3 994.5,1080.5 M981.6,1127.3 985.0,1118.7 M1073.6,1000.7 1079.3,990.0 1084.7,979.2 M1073.6,1000.7 1062.2,995.3 1051.5,988.6 M1051.5,988.6 1051.2,978.2 1042.8,971.0 1042.6,968.1 M1073.6,1000.7 1070.9,1024.1 1071.9,1027.0 1074.1,1029.8 M1073.6,1000.7 1083.2,1003.9 1091.6,1017.1 M1112.9,988.7 1115.5,993.3 M1009.3,953.7 1001.0,951.4 M1014.1,892.8 1006.9,874.5 M1014.1,892.8 999.3,903.6 M1030.0,891.9 1026.5,903.6 M995.9,794.1 1010.0,794.4 M1010.0,794.4 1026.6,798.7 M1010.0,794.4 1030.3,785.4 M1041.8,782.5 1054.3,770.1 1068.9,764.8 M1054.3,770.1 1055.5,787.6 M1054.3,770.1 1053.7,747.9 M1054.3,770.1 1049.6,769.2 M1016.3,714.0 1016.2,701.0 1007.7,689.3 1009.4,672.2 M1086.8,672.4 1093.2,662.9 M1062.8,665.0 1075.0,667.8 1093.2,662.9 M1093.2,662.9 1099.0,667.9 1118.1,663.4 1132.0,664.9 1145.7,667.2 1155.4,666.7 1166.2,666.2 1181.4,668.1 1196.6,669.8 1207.1,666.4 1215.0,675.3 M1093.2,662.9 1089.4,650.8 1085.4,638.7 M1093.2,662.9 1100.5,654.4 M1116.0,591.7 1117.4,572.2 M1093.2,662.9 1099.8,679.1 M1101.9,732.4 1096.3,736.1 1099.8,745.8 M1105.2,761.7 1108.2,761.5 1108.0,768.6 1106.9,772.9 1105.6,793.9 1100.4,797.3 M1096.3,736.1 1113.4,733.0 1130.7,730.6 1139.4,721.8 1147.9,713.0 1160.1,707.4 1172.5,702.2 1189.0,691.2 1194.1,685.7 1215.0,675.3 M1130.7,730.6 1133.2,737.4 1133.3,751.2 M1160.4,679.9 1155.4,666.7 M1160.4,679.9 1149.5,688.3 1146.8,697.4 1146.7,702.4 M1215.0,675.3 1210.3,690.5 M1223.2,801.1 1227.0,800.9 M1206.7,777.1 1216.0,787.7 1223.2,801.1 M1100.4,797.3 1116.6,792.6 1128.5,793.7 1137.4,800.4 1146.8,805.2 1157.6,806.6 1162.5,818.7 1179.3,815.9 1194.8,812.5 1206.4,809.7 1223.2,801.1 M1162.5,818.7 1169.3,808.7 1177.7,799.9 1193.4,785.1 M1162.5,818.7 1161.3,834.0 1171.8,837.1 M1154.0,825.9 1140.3,828.5 M1140.1,982.7 1135.3,986.3 M1140.1,982.7 1157.0,981.7 1162.9,984.4 1177.2,981.7 1190.8,977.9 1203.7,972.2 1210.7,981.9 1225.2,984.7 1238.1,988.2 1246.3,975.8 M1203.7,972.2 1224.9,969.2 1239.5,970.3 1246.3,975.8 M1121.7,900.6 1135.2,895.7 M1177.2,981.7 1181.7,988.1 M1218.7,1002.0 1214.9,996.9 1226.8,993.3 1238.1,988.2 M1225.2,984.7 1224.9,969.2 M1238.1,988.2 1221.9,984.3 1203.7,972.2 M1011.2,598.7 1024.1,599.1 1035.1,601.2 1045.4,593.2 1055.6,585.0 1057.7,585.0 M1117.4,572.2 1133.2,568.7 1140.8,567.2 1156.9,567.9 1172.9,567.7 1185.7,569.7 1198.5,571.4 M1172.9,567.7 1168.7,556.3 M1117.4,572.2 1118.7,568.5 1117.0,556.3 M1123.9,474.2 1124.3,462.0 1123.2,449.8 M1034.5,382.6 1035.0,382.9 M1035.0,382.9 1042.6,394.3 1052.0,404.1 1069.5,418.0 1085.1,423.1 1100.2,429.5 1115.3,438.5 1123.2,449.8 M936.2,382.2 933.3,383.5 M1144.8,483.6 1133.1,466.4 1127.8,450.7 M1123.2,449.8 1127.8,450.7 1136.1,449.7 M1136.1,449.7 1158.9,451.6 1168.3,454.2 M1127.8,450.7 1130.0,438.8 1130.4,423.8 1130.4,412.6 1135.4,399.5 1141.4,386.7 1150.2,383.9 M1115.3,438.5 1114.1,429.2 1112.9,422.0 M1100.2,429.5 1095.0,414.5 M1098.7,400.8 1094.0,387.9 M1123.2,449.8 1108.5,443.7 M1123.2,449.8 1109.4,452.4 1095.4,453.6 M1123.2,449.8 1116.8,456.4 1107.3,469.7 1105.3,479.7 M1127.8,450.7 1142.5,464.2 M1123.2,449.8 1122.7,429.0 M1168.3,454.2 1177.5,463.6 1185.7,473.8 1195.5,482.7 1215.0,494.1 1223.3,496.8 1226.0,513.6 1236.9,526.9 1237.1,533.1 1236.1,541.8 1258.1,548.5 1263.4,548.4 1275.8,552.8 M1226.0,513.6 1241.3,513.5 1256.6,513.4 1264.8,511.7 1269.2,522.5 1268.6,528.0 1268.7,536.0 1273.7,546.8 1275.8,552.8 M1195.5,482.7 1176.8,490.2 M1264.8,511.7 1256.6,498.2 1248.7,486.6 1245.7,477.8 1248.0,468.9 1257.8,459.1 M1264.8,511.7 1265.8,498.6 1267.8,485.7 1268.0,473.4 1257.8,459.1 M1237.1,533.1 1250.8,522.1 1264.8,511.7 M1215.4,446.1 1212.8,437.6 M1275.8,552.8 1264.9,566.4 M1275.8,552.8 1262.3,557.2 1257.9,558.6 1246.0,553.4 M1275.8,552.8 1270.7,562.3 1264.9,566.4 M1228.2,655.0 1221.4,665.0 1215.0,675.3 M1275.8,552.8 1274.7,566.8 1272.0,580.7 M1301.4,617.3 1322.5,625.0 M1243.5,606.2 1226.8,599.8 M1289.5,639.1 1306.0,632.2 1322.5,625.0 M1252.6,705.5 1244.4,706.1 M1275.8,552.8 1280.2,563.3 1284.1,562.6 1295.7,557.1 1313.0,556.5 1320.1,555.7 1333.2,554.8 1346.2,554.7 1359.0,552.7 1371.8,550.2 1384.7,549.2 M1284.1,562.6 1290.7,585.3 1300.7,603.5 1311.3,614.6 1322.5,625.0 M1322.5,625.0 1331.2,644.9 1332.9,653.4 1335.2,666.2 1339.3,678.6 M1322.5,625.0 1334.2,611.7 1341.7,607.6 M1334.2,611.7 1333.0,595.1 1344.8,574.9 1346.2,554.7 M1322.5,625.0 1339.5,621.6 1356.7,619.0 1376.0,619.3 1385.6,612.2 1407.3,607.8 M1322.5,625.0 1333.0,631.1 1342.7,638.5 1356.6,640.7 1370.2,644.1 M1322.5,625.0 1320.7,612.1 1320.6,599.0 1315.6,584.2 1312.6,568.9 1313.0,556.5 M1322.5,625.0 1314.6,647.7 M1284.1,562.6 1292.2,566.2 1312.6,568.9 1325.2,571.2 1344.8,574.9 M1289.9,693.7 1287.2,699.8 M1339.3,678.6 1339.4,674.4 M1295.7,557.1 1306.1,541.2 1328.0,532.7 1338.6,530.4 1359.4,530.5 1376.5,527.3 1394.3,523.1 1400.8,510.5 1407.2,497.9 M1306.1,541.2 1308.5,528.5 1312.5,516.2 1307.2,500.8 M1307.2,500.8 1323.6,508.9 1338.5,510.8 1353.4,513.8 1368.5,515.6 1381.3,519.8 1394.3,523.1 M1328.0,532.7 1326.4,520.7 1323.6,508.9 M1344.8,574.9 1345.8,559.2 1344.9,543.5 1338.6,530.4 M1338.6,530.4 1353.4,513.8 1363.4,506.5 1374.4,500.9 1384.9,497.5 1407.2,497.9 M1384.7,549.2 1387.1,539.0 1394.3,523.1 1386.5,512.8 1374.4,500.9 1365.8,487.1 1366.6,480.9 M1384.7,549.2 1376.5,527.3 1375.9,514.1 1374.4,500.9 M1359.4,530.5 1353.4,513.8 M1384.7,549.2 1407.6,553.3 1423.9,553.9 1434.3,547.6 1445.5,539.6 1455.9,530.7 1472.6,518.4 M1384.7,549.2 1383.6,558.8 1384.7,571.4 1373.8,583.8 1374.9,601.8 1376.0,619.3 1373.5,631.8 1370.2,644.1 M1370.2,644.1 1386.1,627.4 1397.1,618.1 1407.3,607.8 1411.8,592.6 1416.2,577.3 1426.0,570.1 1434.3,561.1 1434.3,547.6 M1407.3,607.8 1420.7,606.3 1434.1,604.7 1445.0,599.8 1468.2,595.1 1480.2,589.0 M1434.3,547.6 1441.1,561.9 1446.3,571.4 1447.1,583.3 M1434.3,547.6 1448.9,553.4 1464.0,557.6 1472.6,559.8 M1441.1,561.9 1464.0,557.6 M1423.9,553.9 1434.3,561.1 1441.1,561.9 M1407.3,607.8 1402.6,596.8 1400.7,585.7 1394.4,575.9 1384.7,571.4 M1407.3,607.8 1410.0,623.7 1411.0,630.4 M1407.3,607.8 1417.6,613.9 1434.9,627.0 M1407.3,607.8 1396.5,599.6 1385.3,594.3 M1407.3,607.8 1421.5,603.5 M1376.0,619.3 1397.8,623.4 1411.0,630.4 M1370.2,644.1 1378.5,643.8 M1416.2,577.3 1431.4,573.7 1446.3,571.4 M1339.3,678.6 1351.7,678.3 1364.2,677.6 1375.1,682.2 1389.5,679.7 1401.4,675.4 1413.0,667.5 1424.5,659.6 1430.1,661.0 1453.1,660.2 M1453.1,660.2 1460.0,670.0 1468.4,678.7 1488.8,674.7 1501.6,672.9 1516.9,670.6 M1339.3,678.6 1349.4,667.0 1359.8,655.5 1370.2,644.1 M1370.2,644.1 1372.3,659.7 1376.1,674.9 1375.1,682.2 1381.6,696.3 1390.9,713.4 1391.2,720.0 1392.2,742.3 1400.8,754.9 M1339.3,678.6 1338.7,699.1 1331.5,712.4 1325.0,726.0 1320.6,741.2 1318.3,756.9 M1318.3,756.9 1312.7,777.1 1313.8,794.0 1317.9,813.7 1323.5,828.8 1327.0,852.1 M1318.3,756.9 1330.6,767.0 1336.4,783.5 1350.6,788.1 1364.8,792.5 M1318.3,756.9 1300.5,745.1 M1227.0,800.9 1238.6,794.5 1250.6,788.9 1261.7,781.8 1272.6,775.9 1284.2,771.4 1296.1,767.8 1307.0,761.8 1318.3,756.9 1331.5,754.5 1354.9,753.1 1369.1,759.2 1385.0,757.6 1400.8,754.9 M1364.8,792.5 1376.8,787.1 1384.9,777.4 1393.7,766.8 1400.8,754.9 1417.6,743.6 1431.2,742.4 1443.8,736.3 1436.6,728.5 1446.8,725.2 M1400.8,754.9 1411.5,756.8 M1400.8,754.9 1421.6,751.8 1441.7,762.6 M1400.8,754.9 1414.7,756.4 1428.1,759.7 1441.7,762.6 M1443.8,736.3 1442.2,749.4 1441.7,762.6 M1446.8,725.2 1450.8,721.4 1468.9,711.1 1476.1,707.9 1486.3,699.4 1493.3,694.9 1506.1,691.2 1516.9,670.6 1524.7,655.6 1528.3,643.9 1534.6,628.5 1542.7,613.9 1551.5,595.6 M1289.9,693.7 1287.2,699.8 1296.7,715.5 1296.7,733.6 M1424.5,659.6 1427.1,672.6 1428.3,685.7 1433.0,695.0 M1391.2,720.0 1403.0,730.9 1409.1,737.4 1417.6,743.6 M1375.1,682.2 1369.6,699.7 1376.5,716.7 M1244.0,767.9 1239.4,784.4 1230.9,794.6 1227.0,800.9 M1261.7,781.8 1259.3,775.0 M1483.0,621.3 1491.2,607.0 1480.2,589.0 1485.2,578.3 M1468.4,678.7 1470.4,697.1 1476.1,707.9 M1468.4,678.7 1474.9,659.3 1476.6,645.1 M1449.9,626.9 1466.5,624.2 1483.0,621.3 M1238.1,988.2 1246.3,975.8 1267.4,971.1 1283.7,969.9 1298.8,957.1 M1298.8,957.1 1309.8,948.1 1318.5,936.8 1329.4,927.6 1338.3,912.3 1346.0,891.9 1334.9,875.6 1328.7,864.3 1327.0,852.1 M1327.0,852.1 1338.1,842.4 1348.8,832.1 1355.1,814.5 1359.2,803.2 1364.8,792.5 M1327.0,852.1 1343.1,849.1 1355.1,844.1 1375.2,842.9 1397.1,836.0 M1327.0,852.1 1316.0,858.6 1305.2,865.4 1295.3,877.0 1284.2,887.5 1273.9,898.7 M1273.9,898.7 1260.9,901.5 1250.2,900.7 1229.5,904.0 1208.3,903.4 M1346.0,891.9 1364.2,886.7 1369.6,880.7 1381.3,863.7 1387.8,853.1 1397.1,836.0 M1327.0,852.1 1311.7,842.3 1289.7,833.8 1268.7,830.3 1258.4,820.6 1243.2,812.4 1227.0,800.9 M1229.5,904.0 1231.5,898.8 1231.9,886.6 1233.9,874.5 1236.8,862.5 1237.2,850.3 1232.1,831.1 1230.3,815.9 1227.0,800.9 M1267.4,971.1 1264.0,954.3 1258.8,937.1 1251.2,927.3 1241.9,919.1 1229.5,904.0 M1227.0,800.9 1235.1,806.6 1243.2,812.4 M1328.8,807.9 1346.0,807.7 M1327.0,852.1 1342.9,863.1 1354.0,871.3 1369.6,880.7 1372.4,878.9 1384.9,884.4 M1328.8,807.9 1339.4,818.9 1340.4,825.0 1348.8,832.1 M1328.8,807.9 1317.9,813.7 M1346.0,891.9 1358.0,911.0 1370.1,923.4 1377.9,930.2 M1364.8,792.5 1375.8,801.4 1378.0,812.5 1383.3,822.4 1389.9,827.3 1397.1,836.0 1403.2,853.5 1423.7,865.8 1421.2,878.1 1423.4,897.8 1433.9,915.0 1443.8,936.2 1455.7,945.6 1466.5,956.3 1479.1,974.1 1487.1,989.6 1491.9,1000.9 1482.6,1013.5 1483.4,1035.0 M1483.4,1035.0 1484.3,1056.9 1488.5,1066.0 1503.6,1069.3 1509.0,1078.6 1514.2,1095.8 M1397.1,836.0 1408.7,826.2 1419.5,817.7 1431.8,809.8 1444.4,802.4 1449.9,788.8 1463.0,783.2 1472.4,775.6 1482.6,768.9 1492.8,768.4 1495.6,762.2 1499.5,752.0 1504.9,746.2 1517.7,733.4 1526.8,732.6 1543.4,731.8 1551.5,716.6 1555.3,717.0 1560.2,701.4 1567.9,689.9 1577.1,679.6 M1397.1,836.0 1413.6,838.2 1425.1,837.5 1434.6,836.7 1453.3,836.6 1469.7,836.4 1476.5,832.1 1485.2,822.4 1494.3,813.2 1506.2,800.9 1530.1,799.9 M1567.7,1100.6 1567.2,1088.0 1566.6,1066.8 1558.4,1051.2 1553.4,1042.3 1547.2,1031.9 1540.9,1021.5 1531.6,1003.8 1521.7,983.6 1515.4,972.0 1508.9,960.6 1495.8,946.9 1495.3,931.9 1496.5,917.0 1500.6,899.6 1503.4,882.0 1502.6,874.8 1506.1,862.5 1511.2,850.8 1513.4,829.2 1521.6,814.5 1530.1,799.9 1539.6,790.6 1549.1,781.1 1550.1,765.2 1557.4,751.7 1573.0,736.2 1574.9,727.7 1574.0,709.4 1577.0,699.6 1577.1,679.6 1573.8,668.8 1571.8,655.2 1567.9,641.9 1571.1,630.0 1575.1,618.3 M1567.7,1100.6 1560.1,1112.7 M1566.6,1066.8 1559.0,1055.1 1553.4,1042.3 1533.9,1036.4 1524.4,1022.5 1514.2,1009.1 1491.9,1000.9 M1483.4,1035.0 1492.5,1031.9 1499.0,1029.5 1506.0,1018.9 1514.2,1009.1 1514.3,990.0 1521.7,983.6 M1483.4,1035.0 1478.7,1042.2 1473.9,1035.4 1474.3,1018.7 1474.6,1001.9 M1514.2,1009.1 1531.6,1003.8 M1514.2,1009.1 1499.3,1001.1 1487.1,989.6 M1499.0,1029.5 1504.8,1032.1 1510.2,1033.1 M1487.1,989.6 1486.5,966.0 1495.8,946.9 M1324.9,964.6 1343.3,963.2 1347.1,963.5 1360.3,967.0 1373.8,969.0 M1397.1,836.0 1393.7,816.0 1392.1,811.1 1389.3,805.0 1403.7,794.9 M1397.1,836.0 1405.1,825.6 1411.4,814.2 1418.1,806.0 1425.2,801.6 M1397.1,836.0 1417.3,825.0 1425.8,824.7 M1397.1,836.0 1385.2,833.4 1373.8,829.0 1372.4,820.4 M1381.3,863.7 1386.5,870.4 1384.9,884.4 M1403.2,853.5 1404.4,864.1 1405.8,880.0 1409.3,895.6 1413.6,912.9 M1533.8,851.4 1521.7,843.0 1513.4,829.2 1502.2,830.6 1494.3,813.2 1474.8,804.9 1468.1,794.5 1463.0,783.2 1452.0,773.2 1441.7,762.6 M1494.3,813.2 1491.4,796.8 1489.1,780.3 1492.8,768.4 1488.2,748.9 1488.3,730.6 1482.0,719.4 1476.1,707.9 M1441.7,762.6 1454.6,756.6 1467.4,750.7 1475.6,752.7 1488.2,748.9 1504.8,734.5 1517.7,733.4 M1543.4,731.8 1552.2,737.9 1557.4,751.7 M1557.4,751.7 1568.2,761.2 1577.4,772.3 1582.6,789.3 M1449.9,788.8 1464.8,799.2 1474.8,804.9 M1503.4,882.0 1512.7,875.4 M1502.6,874.8 1513.9,867.5 M1503.4,882.0 1507.3,866.4 1511.2,850.8 1533.8,851.4 1541.2,839.0 1548.9,826.7 1558.6,813.6 1571.5,802.3 1582.6,789.3 1588.0,778.5 1593.7,767.9 1602.3,752.9 1598.2,740.1 1596.4,726.8 1607.4,717.1 1616.8,705.9 1610.7,686.8 M1558.6,813.6 1550.9,809.9 1542.5,798.5 1530.1,799.9 M1449.9,788.8 1436.7,797.2 1444.4,802.4 M1441.7,762.6 1460.3,766.1 1470.8,770.9 1482.6,768.9 M1492.8,768.4 1500.3,774.9 1515.8,772.1 1525.2,773.6 1537.8,776.8 1549.1,781.1 1559.9,791.9 1582.6,789.3 M1552.2,737.9 1560.8,745.1 1573.3,748.7 1584.3,748.4 1602.3,752.9 1614.0,764.9 M1552.2,737.9 1563.8,733.4 1574.9,727.7 1582.1,726.4 1596.4,726.8 M1552.2,737.9 1573.0,736.2 1589.3,737.0 1598.7,736.6 M1525.2,773.6 1534.2,761.1 1538.7,751.4 1552.2,737.9 1555.3,717.0 M1525.2,773.6 1521.7,760.1 1519.4,746.3 1517.7,733.4 1513.7,720.6 1525.5,712.9 1525.7,697.6 1527.5,682.3 1535.6,670.2 1541.8,656.9 1552.2,638.7 1555.8,629.1 1564.5,626.0 1575.1,618.3 M1517.7,733.4 1511.6,711.6 1506.1,691.2 M1504.8,734.5 1491.9,721.9 1476.1,707.9 M1582.6,789.3 1573.1,777.8 1565.3,765.1 1550.1,765.2 1538.7,751.4 1528.1,745.1 1517.7,733.4 M1504.8,734.5 1491.6,734.6 1478.7,736.9 1463.5,736.6 M1482.6,768.9 1482.1,760.8 1475.6,752.7 1463.5,736.6 M1550.1,765.2 1550.2,751.5 1552.2,737.9 M1516.9,670.6 1524.7,655.6 M1524.7,655.6 1541.8,656.9 1557.9,662.5 1573.8,668.8 1589.7,673.7 1604.8,680.7 1610.7,686.8 M1610.7,686.8 1603.5,692.8 1590.1,695.8 1577.0,699.6 1560.2,701.4 M1506.1,691.2 1527.5,682.3 M1577.1,679.6 1590.3,686.1 1603.5,692.8 M1575.1,618.3 1559.4,613.3 1542.7,613.9 M1575.1,618.3 1564.5,626.0 1542.0,624.1 M1575.1,618.3 1561.4,602.2 1551.5,595.6 M1561.4,602.2 1583.9,602.1 M1575.1,618.3 1583.9,602.1 1596.2,590.9 1608.9,580.1 1617.4,570.4 1626.2,558.4 1632.2,547.0 1637.6,536.8 1642.2,536.5 M1575.1,618.3 1589.4,612.4 M1583.9,602.1 1589.4,612.4 M1589.4,612.4 1602.1,616.2 1605.2,625.4 1618.2,629.2 1631.6,628.1 M1608.9,580.1 1614.2,600.4 1622.2,616.1 1618.2,629.2 M1583.9,602.1 1580.4,590.3 1575.7,579.0 1569.5,568.8 M1583.9,602.1 1570.9,593.0 1562.1,586.1 M1485.2,578.3 1498.4,581.1 1512.5,589.3 1528.0,586.1 1535.1,585.5 1548.6,579.6 1561.7,572.9 1569.5,568.8 1581.5,563.7 1594.2,561.0 1604.4,549.2 M1569.5,568.8 1586.4,573.8 1598.7,573.4 1617.4,570.4 M1535.1,585.5 1551.5,595.6 M1551.5,595.6 1551.2,583.4 1561.7,572.9 M1569.5,568.8 1578.4,553.7 1588.5,539.3 1588.6,528.5 1593.1,521.6 M1608.7,533.8 1628.9,536.3 1642.2,536.5 M1604.4,549.2 1610.3,544.5 1625.3,543.5 1637.6,536.8 M1617.4,570.4 1611.1,559.7 1604.4,549.2 1595.8,539.4 1588.6,528.5 M1593.1,521.6 1608.7,533.8 M1593.1,521.6 1605.9,519.3 1618.7,517.1 1625.1,513.0 1635.4,508.7 1650.8,509.1 1660.0,500.6 1667.6,491.2 M1476.6,553.8 1480.0,566.4 1485.2,578.3 M1485.2,578.3 1480.2,589.0 M1491.6,501.8 1499.2,485.9 1516.2,478.7 M1626.2,460.7 1632.5,466.7 M1530.0,470.1 1548.1,477.2 M1666.9,478.7 1685.7,468.0 1703.6,459.5 M1642.2,536.5 1639.9,522.3 1635.4,508.7 M1632.5,466.7 1628.1,451.8 1629.7,442.9 M1559.3,535.0 1565.9,549.2 1569.5,568.8 M1569.5,568.8 1562.1,586.1 1561.4,602.2 M1539.8,555.5 1527.6,567.8 1528.0,586.1 M1539.8,555.5 1541.1,550.8 M1485.2,578.3 1501.5,574.9 1517.7,571.7 1527.6,567.8 M1485.2,578.3 1484.5,566.0 M1485.2,578.3 1472.8,568.2 1472.6,559.8 M1617.4,570.4 1606.1,571.3 M1617.4,570.4 1603.3,562.4 1594.2,561.0 1579.7,550.5 M1617.4,570.4 1615.7,556.6 1610.3,544.5 M1586.4,573.8 1575.7,579.0 1562.1,586.1 1551.2,583.4 M1617.4,570.4 1618.9,570.8 1630.6,577.9 1642.2,586.7 M1618.9,570.8 1624.8,585.8 1624.6,590.4 1632.4,604.6 M1632.4,604.6 1642.2,586.7 1643.2,564.5 1638.8,554.0 1632.2,547.0 M1626.2,558.4 1638.8,554.0 1643.2,555.7 M1643.2,564.5 1642.8,560.3 1636.2,552.0 1637.6,536.8 M1618.9,570.8 1626.1,568.7 1643.2,564.5 M1637.6,536.8 1636.0,530.1 1621.9,523.0 M1628.9,536.3 1625.3,543.5 1632.2,547.0 M1637.6,536.8 1628.9,536.3 M1636.0,530.1 1645.8,523.7 M1642.2,536.5 1654.3,531.4 1662.7,530.8 1671.1,525.5 1675.5,520.6 M1642.2,536.5 1657.4,532.2 1666.6,528.8 1676.9,523.1 M1642.2,536.5 1645.8,523.7 1651.4,521.7 1659.4,514.9 1665.3,508.6 1686.1,501.5 1693.9,499.8 1699.7,480.7 1703.5,473.0 1703.6,459.5 M1642.2,536.5 1639.3,518.8 1636.0,501.1 M1645.8,523.7 1650.8,509.1 M1665.3,508.6 1665.9,501.0 1667.6,491.2 1666.9,478.7 1664.3,470.9 1662.3,461.6 M1659.4,514.9 1660.0,500.6 M1667.6,491.2 1680.1,489.9 1687.1,484.0 1699.7,480.7 M1686.1,501.5 1685.2,495.7 1687.1,484.0 1685.7,468.0 M1667.6,491.2 1685.2,495.7 M1667.6,491.2 1681.0,475.1 1685.7,468.0 M1679.5,505.8 1675.4,503.3 1667.6,491.2 M1650.8,509.1 1647.3,495.2 1645.3,480.9 M1699.7,480.7 1707.2,483.2 1713.7,483.7 1721.2,477.9 1730.3,478.8 1736.4,471.8 M1736.4,471.8 1728.7,464.2 M1703.6,459.5 1717.3,470.7 1721.2,477.9 M1703.6,459.5 1709.3,476.1 1707.2,483.2 M1699.7,480.7 1709.3,476.1 M1699.7,480.7 1685.7,468.0 M1685.7,468.0 1682.8,456.8 1677.5,459.2 1670.4,460.3 1662.3,461.6 M1703.6,459.5 1682.8,456.8 M1703.6,459.5 1694.5,451.8 1689.4,447.9 1687.6,440.2 1683.6,433.0 M1703.6,459.5 1697.8,447.9 1687.6,440.2 M1685.7,468.0 1694.5,451.8 1697.8,447.9 1704.5,432.7 M1703.6,459.5 1705.2,450.7 1704.5,432.7 1704.8,431.8 1708.3,415.9 1711.4,408.7 1716.4,398.0 1717.0,382.8 1718.3,373.5 1736.8,358.7 M1711.4,408.7 1708.4,393.1 1717.0,382.8 M1736.8,358.7 1748.0,365.2 1755.0,368.7 M1570.7,482.5 1563.6,489.8 M1499.2,485.9 1496.1,478.4 M1499.2,485.9 1499.5,492.7" fill="none" stroke="#ee1111" stroke-width="5.4" stroke-linecap="round" stroke-linejoin="round"/>
<path d="M1592,565l4,9 M1615,597l2,12 M1646,504l-4,5 M1600,540l3,3 M1612,573l-6,5 M1587,571l3,5 M1585,530l9,6 M1612,594l-5,5 M1568,587l-6,6 M1585,550l-8,8 M1563,560l-4,7 M1645,494l-6,2 M1679,464l7,2 M1704,446l4,2 M1681,476l9,2 M1672,471l5,9 M1691,491l-6,10 M1677,480l3,11 M1696,482l2,9 M1604,582l3,11 M1599,584l6,5 M1564,657l-5,1 M1567,645l8,6 M1591,633l8,9 M1596,661l1,8 M1582,582l4,5 M1615,612l9,1 M1568,645l7,0 M1562,632l7,8 M1616,601l0,4 M1515,593l-3,4 M1463,554l-6,1 M1508,545l1,4 M1506,611l-11,6 M1562,601l-2,7 M1548,552l-5,4 M1488,777l12,2 M1542,786l3,7 M1524,761l8,10 M1434,766l-10,2 M1561,782l-3,3 M1522,745l4,12 M1486,737l10,1 M1561,788l-2,12 M1534,743l-4,2 M1508,771l6,3 M1448,762l-2,8 M1343,616l-3,10 M1376,592l-3,7 M1318,632l7,10 M1364,634l-1,6 M1351,554l8,7 M1314,558l6,4 M1417,571l11,4 M1612,482l-3,5 M1517,494l-6,1 M1433,849l-5,4 M1367,872l-11,1 M1375,876l4,7 M1314,721l-4,4 M1317,729l4,1 M1353,762l-6,3 M1399,770l-6,0 M1312,756l-4,3 M1549,1060l-5,11 M1515,1016l-4,6 M1557,1059l8,4 M1550,1081l4,2 M1261,535l-12,0 M1309,533l-5,12 M1261,570l-11,4 M1376,539l-8,1 M1376,518l1,5 M1376,534l-6,2 M1373,530l11,1 M369,616l-10,1 M382,628l-7,5 M1597,666l4,5 M1548,702l7,3 M1536,691l7,10 M1455,852l-3,6 M1483,848l-5,11 M1472,857l8,2 M1222,978l1,5 M1123,972l-9,3 M1129,948l-9,5 M1249,955l5,3 M1113,944l-9,6 M1060,964l-1,13 M1012,981l1,4 M1150,468l-1,7 M1160,416l8,1 M1138,456l-5,6 M1215,665l-6,4 M1139,700l3,4 M1264,945l-8,5 M1360,840l-8,6 M1381,874l-5,6 M1246,873l-13,2 M1295,844l-9,7 M1263,843l0,5 M1041,827l1,6 M1146,781l1,11 M1016,794l8,3 M1290,614l-7,10 M1183,635l-3,12 M1205,547l10,5 M1190,468l9,0 M379,745l-1,7 M407,758l6,8" fill="none" stroke="#ffff00" stroke-width="3.6" stroke-linecap="round" stroke-dasharray="4 30"/>
<path d="M313.0,544.6h0.1 M304.5,497.1h0.1 M350.6,512.8h0.1 M405.8,492.7h0.1 M349.3,527.2h0.1 M314.8,455.5h0.1 M430.1,681.5h0.1 M412.2,614.7h0.1 M403.7,586.9h0.1 M445.5,555.6h0.1 M494.5,547.2h0.1 M524.8,545.4h0.1 M548.8,539.8h0.1 M467.4,679.9h0.1 M430.7,608.8h0.1 M435.8,574.4h0.1 M601.0,767.1h0.1 M643.0,783.3h0.1 M617.6,631.8h0.1 M655.3,553.2h0.1 M670.6,551.1h0.1 M797.9,570.2h0.1 M817.9,578.4h0.1 M626.0,532.2h0.1 M589.7,495.1h0.1 M566.7,476.8h0.1 M543.6,464.2h0.1 M648.6,458.4h0.1 M670.6,430.7h0.1 M640.2,469.4h0.1 M546.6,414.6h0.1 M547.4,400.3h0.1 M518.0,425.8h0.1 M463.8,346.4h0.1 M457.7,299.8h0.1 M470.1,306.1h0.1 M397.8,275.7h0.1 M398.5,242.9h0.1 M374.0,242.2h0.1 M348.7,360.3h0.1 M341.1,380.6h0.1 M338.4,390.3h0.1 M324.3,409.1h0.1 M316.7,432.2h0.1 M316.5,444.9h0.1 M402.7,410.0h0.1 M382.8,445.2h0.1 M565.4,306.7h0.1 M594.5,326.6h0.1 M613.1,341.1h0.1 M722.4,404.3h0.1 M734.9,403.3h0.1 M658.9,359.6h0.1 M674.6,291.7h0.1 M643.3,378.3h0.1 M638.1,404.6h0.1 M741.7,401.5h0.1 M780.3,456.8h0.1 M808.7,517.3h0.1 M817.9,545.1h0.1 M817.9,578.4h0.1 M780.3,456.8h0.1 M810.3,461.2h0.1 M813.6,722.4h0.1 M814.4,732.3h0.1 M790.2,775.4h0.1 M732.8,828.7h0.1 M701.0,888.9h0.1 M635.9,880.7h0.1 M800.1,861.8h0.1 M800.1,861.8h0.1 M846.3,824.8h0.1 M837.5,887.1h0.1 M805.0,897.2h0.1 M842.6,609.8h0.1 M858.0,600.8h0.1 M885.9,589.2h0.1 M843.2,648.4h0.1 M881.1,652.3h0.1 M724.0,663.9h0.1 M774.2,658.6h0.1 M814.1,682.4h0.1 M867.0,694.0h0.1 M742.0,711.1h0.1 M682.2,330.5h0.1 M724.7,299.5h0.1 M822.8,327.7h0.1 M741.7,401.5h0.1 M886.3,379.6h0.1 M614.7,293.1h0.1 M587.3,284.6h0.1 M730.0,498.5h0.1 M721.8,506.5h0.1 M722.6,444.6h0.1 M730.1,433.0h0.1 M809.0,597.9h0.1 M703.5,548.7h0.1 M693.8,503.3h0.1 M672.9,475.1h0.1 M817.9,578.4h0.1 M836.3,579.5h0.1 M664.7,594.1h0.1 M638.9,578.4h0.1 M842.9,952.5h0.1 M783.7,942.2h0.1 M745.3,921.2h0.1 M783.7,942.2h0.1 M825.7,932.1h0.1 M843.8,927.6h0.1 M887.3,907.7h0.1 M919.5,900.2h0.1 M941.7,901.7h0.1 M969.3,904.0h0.1 M936.7,1018.2h0.1 M900.7,1011.2h0.1 M943.4,835.7h0.1 M921.5,818.0h0.1 M975.2,922.1h0.1 M964.2,926.2h0.1 M930.5,801.4h0.1 M976.8,790.9h0.1 M884.6,822.3h0.1 M885.6,836.8h0.1 M880.4,857.8h0.1 M894.7,872.3h0.1 M880.4,857.8h0.1 M854.3,888.8h0.1 M880.4,857.8h0.1 M858.5,834.4h0.1 M846.3,824.8h0.1 M884.6,799.3h0.1 M880.8,775.2h0.1 M865.8,768.2h0.1 M876.5,887.4h0.1 M953.3,757.9h0.1 M1043.1,848.3h0.1 M976.8,712.8h0.1 M930.8,726.4h0.1 M976.8,712.8h0.1 M942.6,709.3h0.1 M1009.4,672.2h0.1 M976.2,670.3h0.1 M961.9,669.6h0.1 M946.5,664.5h0.1 M921.2,659.5h0.1 M1008.7,636.8h0.1 M967.8,694.1h0.1 M867.0,582.4h0.1 M900.7,585.1h0.1 M926.2,586.1h0.1 M1034.5,382.6h0.1 M1034.5,382.6h0.1 M1004.3,379.9h0.1 M987.3,380.6h0.1 M936.2,382.2h0.1 M886.3,379.6h0.1 M1035.1,502.2h0.1 M968.3,493.0h0.1 M932.6,488.4h0.1 M912.3,487.9h0.1 M893.3,480.9h0.1 M868.4,476.1h0.1 M865.6,463.7h0.1 M1080.2,498.5h0.1 M1103.4,500.1h0.1 M1122.0,497.7h0.1 M1081.3,361.4h0.1 M1081.3,361.4h0.1 M1076.8,381.8h0.1 M1116.3,321.7h0.1 M1138.4,358.3h0.1 M1029.0,345.1h0.1 M926.2,586.1h0.1 M932.6,488.4h0.1 M997.0,471.5h0.1 M1001.4,493.6h0.1 M926.2,330.9h0.1 M957.2,326.8h0.1 M1029.0,345.1h0.1 M926.2,330.9h0.1 M931.1,362.5h0.1 M936.2,382.2h0.1 M869.6,328.9h0.1 M926.2,330.9h0.1 M1017.8,524.8h0.1 M1156.9,418.4h0.1 M1150.3,386.4h0.1 M1257.8,459.1h0.1 M1272.7,446.2h0.1 M1219.3,421.3h0.1 M1211.3,413.6h0.1 M1198.5,393.6h0.1 M1252.3,412.3h0.1 M1277.7,412.6h0.1 M1335.3,402.1h0.1 M1266.7,385.2h0.1 M1315.5,388.5h0.1 M1342.0,378.6h0.1 M1198.6,607.7h0.1 M1226.8,599.8h0.1 M1226.8,599.8h0.1 M1216.2,617.5h0.1 M1265.2,680.9h0.1 M1259.6,654.4h0.1 M1263.3,670.7h0.1 M1230.0,691.8h0.1 M1225.3,677.7h0.1 M1327.4,667.1h0.1 M1318.6,668.6h0.1 M1299.4,475.1h0.1 M1331.7,420.6h0.1 M1375.5,448.4h0.1 M1371.4,426.9h0.1 M1360.2,415.8h0.1 M1341.5,409.2h0.1 M1335.7,405.3h0.1 M1365.8,487.1h0.1 M1378.6,484.1h0.1 M1393.9,482.1h0.1 M1331.7,420.6h0.1 M1396.4,637.5h0.1 M1423.7,641.4h0.1 M1434.1,604.7h0.1 M1430.4,614.4h0.1 M1434.9,627.0h0.1 M1362.8,594.4h0.1 M1325.0,726.0h0.1 M1375.1,682.2h0.1 M1354.9,753.1h0.1 M1369.8,744.5h0.1 M1430.1,661.0h0.1 M1470.4,697.1h0.1 M1483.0,621.3h0.1 M1491.3,624.1h0.1 M1486.5,630.9h0.1 M1498.5,631.5h0.1 M1498.5,631.5h0.1 M1542.7,613.9h0.1 M1498.5,631.5h0.1 M1528.3,643.9h0.1 M1468.4,678.7h0.1 M1459.1,686.7h0.1 M1258.8,937.1h0.1 M1269.7,936.8h0.1 M1298.8,957.1h0.1 M1223.2,930.4h0.1 M1262.7,923.8h0.1 M1277.9,924.3h0.1 M1248.0,886.1h0.1 M1273.9,898.7h0.1 M1229.5,904.0h0.1 M1246.8,874.3h0.1 M1261.0,871.3h0.1 M1232.4,945.5h0.1 M1262.7,923.8h0.1 M1334.9,875.6h0.1 M1289.7,833.8h0.1 M1347.0,930.3h0.1 M1350.5,939.6h0.1 M1315.9,943.8h0.1 M1327.4,941.5h0.1 M1347.0,930.3h0.1 M1347.0,930.3h0.1 M1377.9,930.2h0.1 M1380.9,916.1h0.1 M1382.8,903.1h0.1 M1508.9,960.6h0.1 M1479.1,974.1h0.1 M1498.6,970.9h0.1 M1538.0,1051.6h0.1 M1522.4,1072.8h0.1 M1479.1,974.1h0.1 M1466.5,956.3h0.1 M1438.0,962.7h0.1 M1470.2,918.7h0.1 M1425.8,824.7h0.1 M1443.2,828.9h0.1 M1384.9,884.4h0.1 M1406.5,877.9h0.1 M1423.7,865.8h0.1 M1384.9,884.4h0.1 M1393.0,911.0h0.1 M1413.6,912.9h0.1 M1421.7,912.7h0.1 M1433.9,915.0h0.1 M1496.5,917.0h0.1 M1440.0,905.7h0.1 M1443.8,936.2h0.1 M1488.5,895.1h0.1 M1413.6,912.9h0.1 M1405.1,908.0h0.1 M1393.0,911.0h0.1 M1382.8,903.1h0.1 M1426.7,929.2h0.1 M1458.1,926.0h0.1 M1470.2,918.7h0.1 M1436.4,880.1h0.1 M1441.7,886.2h0.1 M1457.8,895.9h0.1 M1496.5,917.0h0.1 M1471.7,887.6h0.1 M1503.4,882.0h0.1 M1469.7,836.4h0.1 M1472.9,856.9h0.1 M1480.8,872.0h0.1 M1458.8,847.0h0.1 M1459.9,855.5h0.1 M1463.2,882.9h0.1 M1466.2,900.9h0.1 M1433.8,853.0h0.1 M1462.4,868.9h0.1 M1469.7,836.4h0.1 M1487.9,841.4h0.1 M1469.7,836.4h0.1 M1492.9,850.2h0.1 M1502.6,874.8h0.1 M1495.9,838.4h0.1 M1492.9,850.2h0.1 M1463.0,783.2h0.1 M1495.3,786.6h0.1 M1472.4,819.3h0.1 M1460.0,809.3h0.1 M1567.2,432.7h0.1 M1572.2,405.1h0.1 M1600.7,392.7h0.1 M1551.6,503.4h0.1 M1545.5,519.8h0.1 M1518.7,536.6h0.1 M1593.1,521.6h0.1 M1570.2,514.2h0.1 M1558.2,503.9h0.1 M1483.2,544.2h0.1 M1496.7,548.0h0.1 M1660.0,422.8h0.1 M1660.6,394.0h0.1 M1736.8,358.7h0.1 M1729.5,328.7h0.1 M1745.5,306.3h0.1 M1748.0,365.2h0.1 M1768.9,334.4h0.1 M1708.4,393.1h0.1 M1690.5,385.9h0.1 M1690.5,385.9h0.1 M1680.0,383.1h0.1 M1667.8,396.2h0.1 M1736.8,358.7h0.1 M1660.6,394.0h0.1 M1630.6,399.3h0.1 M1628.1,451.8h0.1 M1614.8,457.9h0.1 M1591.1,459.6h0.1 M1622.8,393.0h0.1 M1585.1,402.9h0.1" fill="none" stroke="#ee1111" stroke-width="4.6" stroke-linecap="round"/>
<path d="M523.3,545.4h3 M684.8,767.9h3 M707.1,641.8h3 M677.2,655.6h3 M702.0,548.7h3 M638.7,469.4h3 M624.4,489.6h3 M671.4,475.1h3 M397.0,242.9h3 M331.0,400.9h3 M380.8,461.1h3 M611.6,341.1h3 M613.2,293.1h3 M676.7,395.8h3 M657.4,359.6h3 M680.7,330.5h3 M783.3,512.9h3 M808.8,461.2h3 M705.3,726.7h3 M717.3,708.6h3 M940.2,901.7h3 M940.6,1079.3h3 M899.2,1011.2h3 M910.6,1035.1h3 M978.9,850.2h3 M1090.4,901.9h3 M1073.6,907.5h3 M1017.5,936.2h3 M883.1,799.3h3 M878.9,857.8h3 M917.1,936.5h3 M824.2,932.1h3 M941.1,709.3h3 M920.1,702.4h3 M911.8,734.0h3 M960.4,669.6h3 M972.8,689.4h3 M1169.3,899.4h3 M924.7,586.1h3 M1042.0,540.1h3 M1033.6,502.2h3 M1027.5,345.1h3 M866.9,476.1h3 M999.9,493.6h3 M1079.8,361.4h3 M1113.0,369.0h3 M849.5,554.7h3 M991.5,433.1h3 M941.2,470.2h3 M924.7,330.9h3 M868.1,328.9h3 M1016.3,524.8h3 M1024.1,453.5h3 M1031.6,475.0h3 M884.8,379.6h3 M1217.8,421.3h3 M1265.2,385.2h3 M1250.8,412.3h3 M1316.0,444.3h3" fill="none" stroke="#ee1111" stroke-width="5.4" stroke-linecap="round"/>
<path d="M403,775l-0,-2 M403,775l1,-1 M404,773l-1,1 M404,773l1,1 M387,778l1,1 M387,778l2,1 M389,762l4,3 M389,762l-2,5 M414,751l-3,3 M414,751l0,7 M434,768l2,2 M434,768l-2,4 M404,763l-1,3 M404,763l1,4 M403,771l1,-2 M403,771l1,2 M408,776l0,-0 M408,776l-2,1 M413,769l0,-1 M413,769l-1,-0 M423,772l-2,-2 M423,772l-3,-0 M397,771l1,-2 M397,771l0,3 M422,763l-2,-3 M422,763l2,-4 M403,790l-3,1 M403,790l-2,-3 M433,762l-2,1 M433,762l-2,1 M395,761l-1,2 M395,761l2,-4 M413,766l0,2 M413,766l-2,2 M400,791l-2,-1 M393,772l1,-1 M393,772l-2,-0 M390,779l-0,0 M390,779l-1,1 M397,780l-1,1 M397,780l-0,1 M410,759l1,2 M410,759l3,1 M384,770l1,-1 M384,770l2,-0 M423,759l1,-3 M423,759l3,3 M386,775l0,-0 M386,775l2,0 M411,755l3,4 M385,770l-1,-1 M400,771l-2,-1 M400,771l-1,3 M389,779l-0,0 M410,767l1,1 M410,767l3,-1 M431,763l0,-1 M417,762l3,-1 M417,762l-4,-1 M387,767l-2,2 M387,767l-2,3 M409,770l1,1 M409,770l1,1 M396,780l0,1 M421,770l1,-1 M421,770l-2,1 M398,778l1,0 M398,778l-1,2 M411,762l2,-1 M400,773l-2,1 M386,774l2,1 M380,775l3,-2 M380,775l6,-1 M413,771l-0,-3 M413,771l-3,-1 M436,770l-3,2 M382,784l-1,-2 M382,784l-3,2 M380,782l4,-2 M398,782l-2,-1 M398,782l-2,-1 M428,762l-2,-0 M428,762l3,1 M428,767l-1,4 M428,767l1,-6 M400,777l0,1 M400,777l-1,2 M379,786l1,-4 M426,772l-3,0 M419,770l1,2 M410,770l-0,0 M417,768l2,-1 M417,768l-2,-2 M411,768l2,-0 M399,778l1,-1 M416,767l-3,-1 M405,784l0,0 M405,784l-3,0 M393,765l2,-2 M430,777l3,-5 M430,777l-4,-5 M391,776l-3,-1 M391,776l3,1 M403,766l1,1 M403,766l0,3 M419,767l-3,-0 M408,764l2,3 M408,764l3,-2 M398,757l-3,6 M420,780l0,2 M420,780l-4,1 M413,761l1,-2 M406,777l-1,1 M390,772l1,-2 M408,775l-1,-2 M402,785l-0,2 M414,758l-4,1 M415,781l-1,3 M415,781l-3,-2 M414,783l-3,-1 M389,786l-1,-1 M389,786l0,-4 M413,775l-0,-3 M413,775l-1,3 M436,764l-3,-2 M436,764l-5,-0 M399,790l3,-3 M411,779l1,-0 M411,779l-2,1 M383,773l2,1 M383,773l3,1 M409,779l3,-1 M420,781l-5,-1 M394,777l0,4 M420,772l1,-2 M422,768l-3,-1 M402,787l3,-2 M390,791l-1,-5 M390,791l-2,-6 M407,773l1,-2 M408,771l2,-1 M408,771l1,-2 M406,768l1,2 M406,768l-1,-2 M384,780l3,-2 M405,784l-3,0 M404,769l1,-2 M404,769l2,-0 M394,771l-3,-1 M394,780l2,-0 M394,780l2,0 M407,770l2,-0 M390,782l-1,-2 M390,782l-1,-2 M411,782l-2,-3 M411,782l-0,-3 M425,756l1,5 M391,770l1,2 M405,778l-2,-3 M388,785l2,-3 M411,783l3,0 M411,783l3,-1 M414,794l-1,0 M414,794l5,-4 M426,773l3,-1 M426,773l3,3 M419,790l-0,-0 M419,790l4,-0 M417,786l2,-0 M417,786l4,0 M431,774l1,2 M431,774l-1,3 M424,780l1,-2 M424,780l-1,2 M420,786l-2,-0 M420,786l3,1 M418,789l0,-4 M413,779l2,-1 M413,779l3,1 M425,778l-0,0 M425,778l2,1 M430,779l1,-2 M430,779l2,-2 M423,787l-0,3 M414,783l-1,1 M414,783l3,-2 M429,772l2,2 M417,781l-1,-1 M417,781l-0,-3 M415,778l1,1 M415,778l1,1 M432,777l-2,0 M420,774l2,-2 M420,774l3,3 M424,778l2,0 M423,782l4,1 M439,776l-2,5 M439,776l-7,1 M408,790l4,3 M408,790l6,3 M427,783l-1,-0 M427,783l-1,-4 M422,772l4,1 M423,776l2,2 M423,776l2,2 M416,780l1,-1 M427,778l-0,1 M432,782l-2,-3 M432,782l-4,2 M437,781l-5,0 M426,779l-2,-1 M429,776l2,1 M429,776l3,-1 M417,779l-0,-0 M427,783l-0,-4 M332,610l-2,0 M332,610l1,3 M323,620l1,1 M323,620l0,1 M326,627l2,-2 M326,627l-4,-1 M319,606l-2,1 M319,606l0,-5 M329,622l-2,-0 M329,622l2,-0 M325,603l-1,2 M325,603l-0,-3 M334,634l-4,-2 M334,634l-5,1 M328,622l-1,-2 M327,616l1,1 M327,616l-1,1 M324,621l-1,0 M324,621l-1,0 M326,618l1,0 M326,618l0,-1 M322,614l-2,-1 M322,614l1,3 M317,608l3,5 M331,632l-1,-3 M331,632l-1,3 M329,608l-2,0 M329,608l1,2 M322,626l0,-0 M319,616l2,-3 M319,616l3,-2 M324,606l0,2 M324,606l0,2 M317,601l2,1 M317,601l2,6 M326,617l-0,-0 M326,617l0,-1 M335,623l2,1 M335,623l-3,-2 M326,616l0,1 M326,616l-0,1 M329,625l3,-1 M329,625l1,-3 M335,619l-2,3 M335,619l-3,-2 M327,620l0,-0 M327,620l-0,-1 M325,618l-0,1 M325,618l1,-1 M332,617l-1,-0 M332,617l-3,1 M338,627l0,1 M338,627l-1,-3 M325,617l1,-0 M331,624l0,-2 M331,624l-2,-2 M326,611l1,-2 M326,611l-2,-2 M323,621l-0,0 M330,629l-4,-2 M329,618l-1,-1 M329,618l-2,1 M331,617l-3,1 M330,605l-1,3 M330,605l-3,3 M325,618l1,-0 M329,610l-0,2 M323,617l1,1 M323,617l1,1 M326,618l0,0 M324,608l0,-1 M327,619l0,1 M324,601l-5,1 M328,615l-1,1 M328,615l-0,2 M333,622l-1,0 M333,622l-2,2 M332,613l-3,-1 M329,612l-1,2 M338,628l-1,-4 M322,626l4,1 M354,593l-1,-3 M354,593l-1,-3 M351,589l-1,-1 M351,589l2,-1 M353,590l-1,0 M353,590l-0,-2 M355,588l0,-0 M355,588l3,0 M358,588l-2,-0 M352,590l-2,-2 M357,585l2,1 M357,585l-2,-0 M359,592l-3,-1 M359,592l-1,-4 M356,591l-1,-3 M356,591l-1,-3 M358,585l-0,3 M349,588l3,-0 M354,584l1,4 M426,827l-1,-0 M426,827l1,1 M421,821l2,-0 M421,821l2,1 M425,818l2,-1 M425,818l-2,2 M429,818l1,-1 M429,818l-2,-1 M431,820l-2,-2 M431,820l-2,-1 M429,822l-3,0 M429,822l2,-3 M426,822l-2,-1 M424,825l1,1 M424,825l2,1 M428,827l1,-2 M430,817l-2,-0 M424,822l-0,-2 M423,817l2,1 M423,817l1,3 M428,826l-2,1 M423,258l-2,-2 M423,258l1,4 M420,271l-0,-1 M420,271l1,-2 M424,262l-1,0 M424,262l2,-0 M423,263l3,-1 M418,277l2,-1 M418,277l2,-2 M419,279l-0,1 M419,279l2,1 M419,267l1,2 M419,267l1,2 M422,273l-0,-0 M422,273l1,2 M421,280l-2,-0 M423,277l-2,-0 M423,277l1,-2 M417,268l0,-1 M417,268l1,2 M417,267l2,-0 M421,266l1,0 M421,266l-2,1 M420,270l-0,-1 M422,266l-1,2 M420,269l0,-1 M420,269l1,-0 M421,277l-1,-2 M420,268l-0,-0 M421,257l-3,4 M422,270l-2,0 M422,270l-0,-2 M418,283l1,-3 M418,283l1,-4 M419,274l0,-1 M419,274l1,1 M420,275l0,0 M420,275l-0,1 M419,273l1,2 M420,276l0,-0 M417,270l3,-0 M418,261l5,2 M421,268l-1,0 M421,268l-1,0 M422,273l-2,-2 M395,341l-2,-3 M395,341l-4,-1 M391,341l-0,1 M391,341l-1,-2 M394,347l-4,-3 M394,347l1,-5 M388,341l1,2 M388,341l3,0 M394,337l-1,-0 M394,337l1,-2 M393,336l1,-1 M389,343l1,1 M391,338l-0,1 M391,338l-1,-1 M393,338l1,-2 M393,338l2,-2 M389,344l1,-2 M389,337l1,2 M391,342l-2,1 M393,333l2,2 M393,333l0,3 M389,335l-0,2 M389,335l1,3 M581,824l1,-1 M581,824l2,-0 M567,824l1,-0 M567,824l1,2 M578,826l-0,-1 M578,826l-0,2 M565,826l3,-0 M565,826l2,-3 M586,829l2,-1 M586,829l2,2 M588,831l0,-4 M592,824l-4,3 M592,824l-5,-5 M577,828l1,0 M577,828l-1,-0 M581,822l1,1 M581,822l0,2 M575,828l1,-1 M575,828l2,-1 M574,831l-2,-0 M574,831l1,-2 M567,823l0,3 M572,829l0,-0 M572,829l1,1 M571,824l-3,-1 M571,824l-3,2 M574,826l2,2 M574,826l3,1 M587,819l-6,0 M587,819l-4,5 M578,831l-0,-3 M578,831l-1,-3 M578,828l-1,-0 M572,829l1,1 M575,822l2,3 M575,822l3,4 M583,824l-1,-1 M570,828l1,2 M570,828l2,1 M581,819l-0,3 M581,819l1,4 M584,825l-2,-1 M584,825l-3,-2 M578,825l-0,3 M605,881l1,-0 M605,881l0,-3 M602,876l0,2 M602,876l-2,-1 M599,875l2,0 M599,875l3,1 M605,879l-2,-1 M605,879l1,2 M602,878l1,-1 M602,878l1,-2 M510,714l-1,-2 M510,714l0,2 M507,711l-0,-1 M507,711l2,1 M507,718l0,1 M507,718l0,1 M507,715l-1,2 M507,715l-2,-1 M506,717l1,2 M505,719l2,-1 M505,719l2,-0 M507,719l-0,-0 M511,716l-1,0 M503,714l2,-0 M503,714l3,2 M510,716l1,-3 M506,710l3,2 M626,566l1,0 M626,566l1,-1 M628,586l2,-8 M628,586l-1,-10 M630,575l-2,-0 M630,575l-0,2 M626,569l1,0 M626,569l-1,1 M625,569l1,1 M625,569l-1,1 M626,574l0,2 M626,574l2,1 M623,575l3,-1 M623,575l3,1 M629,564l-3,1 M629,564l-2,2 M628,575l-2,1 M626,557l1,3 M626,557l5,4 M622,567l2,3 M622,567l3,2 M627,560l-1,3 M626,571l0,-1 M626,571l-2,-1 M627,566l-0,-1 M624,570l2,0 M631,560l-4,-1 M631,560l-1,4 M627,569l-1,2 M626,563l1,2 M626,563l0,3 M630,578l-2,-2 M803,629l-0,3 M803,629l3,1 M809,624l-1,-1 M809,624l-1,-1 M808,624l-0,-1 M806,634l2,-1 M806,634l3,-0 M801,625l2,-3 M801,625l2,4 M817,625l-2,1 M817,625l-3,-0 M808,623l0,-1 M811,623l-2,1 M811,623l3,1 M810,631l-1,0 M810,631l-0,1 M805,623l-2,-1 M805,623l3,-0 M815,626l-1,-0 M815,626l-1,-1 M808,622l-0,1 M814,624l-0,1 M815,636l-4,-0 M815,636l-6,-2 M803,631l3,-2 M812,629l-1,-0 M812,629l-2,2 M809,634l-1,-0 M809,634l1,-1 M809,627l-1,2 M809,627l2,2 M808,631l1,1 M810,636l-1,-2 M810,636l-1,-3 M808,629l0,2 M808,629l-2,0 M809,617l-2,4 M809,617l5,-0 M814,617l-3,7 M806,630l2,1 M808,621l0,1 M808,621l-0,2 M812,659l-1,-0 M812,659l-2,1 M811,662l-1,-2 M811,662l2,0 M813,662l0,1 M813,663l-2,-1 M809,665l2,-4 M809,665l4,-3 M810,660l1,-1 M809,657l2,2 M809,657l1,3 M747,796l0,-0 M747,796l-1,1 M750,789l-3,3 M750,789l-4,0 M743,790l1,2 M743,790l3,-1 M748,796l-1,1 M746,790l0,-0 M746,790l2,2 M748,792l-2,-3 M746,786l-0,4 M746,786l-0,4 M745,793l3,-1 M740,911l-1,-0 M740,911l-1,1 M735,909l1,0 M735,909l2,2 M732,911l3,-1 M732,911l4,-1 M739,912l-0,-1 M737,912l0,-1 M737,912l2,-0 M737,911l2,-0 M736,910l1,1 M1032,888l-1,-1 M1032,888l1,0 M1030,885l1,2 M1030,885l-2,2 M1018,896l2,-1 M1018,896l3,0 M1015,887l-0,-2 M1015,887l4,-1 M1034,895l-1,4 M1034,895l2,-4 M1026,880l-3,2 M1026,880l4,0 M1015,885l-0,-2 M1017,902l-2,-3 M1017,902l0,-6 M1019,881l2,-1 M1019,881l3,1 M1036,886l-3,2 M1036,886l-2,4 M1019,885l0,1 M1019,885l-0,3 M1035,890l-0,1 M1035,890l0,1 M1007,890l1,0 M1007,890l-0,5 M1008,883l2,-0 M1008,883l3,0 M1020,897l-1,-1 M1030,897l4,1 M1030,897l-1,4 M1007,895l1,-5 M1023,889l1,1 M1023,889l1,1 M1020,895l1,-2 M1019,889l-0,3 M1019,889l1,-3 M1025,891l0,-2 M1025,891l-1,-1 M1036,891l-1,-1 M1036,891l1,1 M1006,886l2,-3 M1006,886l2,5 M1035,890l1,0 M1019,892l-1,-0 M1019,892l2,0 M1022,893l-1,0 M1022,893l-2,-1 M1022,882l-1,-2 M1028,889l-0,0 M1028,889l-0,-2 M1009,882l1,1 M1013,897l0,-1 M1013,897l-1,2 M1028,890l-1,0 M1028,888l-0,-1 M1038,892l-2,-2 M1025,890l1,0 M1025,890l-1,0 M1043,883l-7,3 M1043,883l-7,8 M1015,882l4,-1 M1017,892l1,-3 M1034,888l-2,-1 M1024,900l-4,-3 M1024,900l5,2 M1024,885l1,1 M1024,885l-2,-3 M1024,890l-0,0 M1012,899l3,0 M1015,899l-1,-2 M1021,892l0,2 M1043,895l-5,-3 M1043,895l-6,-4 M1014,896l-2,3 M1025,886l-2,2 M1029,902l4,-3 M1030,880l-0,5 M1071,990l-1,0 M1071,990l3,-1 M1066,1006l-1,1 M1066,1006l3,-2 M1062,999l5,0 M1062,999l-0,6 M1080,998l1,-0 M1080,998l-0,2 M1075,1002l-0,-1 M1075,1002l0,2 M1075,996l0,-2 M1075,996l0,3 M1072,994l-3,1 M1072,994l3,-0 M1071,1000l0,-1 M1071,1000l0,1 M1072,1003l-1,-0 M1072,1003l-1,-1 M1066,992l-2,1 M1066,992l4,-1 M1073,999l-2,1 M1073,999l-2,2 M1086,993l-2,0 M1086,993l-4,2 M1078,1000l2,0 M1078,1000l-2,-1 M1071,1000l0,2 M1080,1000l2,0 M1082,1000l-1,-2 M1080,995l-1,-0 M1080,995l1,1 M1087,1005l-4,-3 M1087,1005l-6,2 M1071,1004l0,-1 M1071,1004l1,-1 M1082,1002l0,-2 M1082,1002l-2,-2 M1071,1002l-0,-1 M1071,1006l0,-3 M1071,1006l-2,-3 M1076,994l1,-1 M1076,994l1,-1 M1075,1011l-1,0 M1075,1011l-2,-2 M1069,1003l2,0 M1069,1003l2,-1 M1080,1008l-1,0 M1080,1008l-1,-1 M1065,1006l-4,-2 M1073,1009l1,2 M1082,995l-0,2 M1075,1002l-2,1 M1061,1005l5,1 M1078,994l1,0 M1078,994l-1,-1 M1070,991l3,-1 M1079,991l-2,2 M1079,991l-2,2 M1079,1007l0,1 M1070,995l-1,0 M1076,993l1,0 M1068,996l0,4 M1078,1005l1,1 M1078,1005l-2,-1 M1083,993l-1,2 M1066,999l2,0 M1066,999l2,-3 M1064,993l4,3 M1068,999l2,1 M966,1005l4,1 M966,1005l2,5 M977,1011l1,-0 M977,1011l-2,1 M985,1011l-3,1 M985,1011l-2,-4 M975,1012l-2,1 M977,1018l-1,-1 M977,1018l2,-5 M981,1013l-2,0 M968,1010l-0,0 M968,1010l1,3 M979,1006l-1,-2 M979,1006l-2,2 M977,1008l1,0 M977,1008l1,1 M978,1005l-1,-1 M977,1008l-0,0 M982,1007l-3,-1 M977,1003l2,3 M971,1017l0,2 M971,1017l-1,-4 M973,1009l2,-0 M973,1009l-1,-3 M968,1010l2,3 M972,1006l-2,1 M969,1013l3,0 M976,1017l-3,-4 M971,1019l5,-2 M970,1007l-2,4 M979,1013l-1,-2 M976,1009l1,-1 M976,1009l2,-0 M995,982l2,1 M995,982l-0,-3 M999,981l2,-2 M999,981l-2,2 M1001,977l0,-0 M1001,977l0,1 M1001,979l0,-1 M999,984l-1,-1 M999,984l2,-0 M1001,984l2,2 M997,977l-2,2 M997,977l-2,2 M1004,985l1,-1 M1004,985l-2,1 M995,979l0,0 M1004,973l-3,3 M1004,973l-3,4 M1001,990l-0,-1 M1001,990l1,-4 M1001,989l1,-3 M1005,984l-3,2 M1001,976l0,2 M1014,794l-1,-1 M1014,794l-0,2 M1004,799l3,-1 M1004,799l3,-3 M1008,795l-1,0 M1008,795l1,-0 M1006,794l1,2 M1006,794l2,2 M1014,795l-1,-2 M1010,799l1,-1 M1010,799l-3,-1 M1011,798l2,-1 M1009,795l-1,1 M1011,789l-1,-1 M1011,789l-0,2 M1013,798l1,-2 M1011,796l3,-0 M1011,796l-0,3 M1007,798l-0,-2 M1010,788l1,3 M1057,774l-0,-3 M1057,774l2,2 M1052,769l1,-3 M1052,769l4,2 M1058,771l-1,-0 M1058,771l-1,-1 M1058,768l-1,2 M1058,768l0,3 M1057,765l1,0 M1057,765l0,3 M1053,766l4,-2 M1058,770l-1,-1 M1057,769l-0,1 M1057,771l1,-0 M1058,765l-0,3 M1060,772l-2,-1 M1060,772l-2,-2 M1059,776l2,-4 M1099,664l-1,1 M1099,664l0,-2 M1091,662l-0,0 M1091,662l-0,0 M1098,665l1,1 M1098,665l-1,1 M1096,665l2,0 M1102,662l-2,-0 M1102,662l-3,2 M1091,662l-0,0 M1095,661l-2,1 M1095,661l-3,-2 M1099,669l-1,-3 M1099,669l-2,-5 M1090,662l1,0 M1090,662l0,1 M1085,667l-2,-0 M1085,667l3,3 M1084,659l6,3 M1084,659l6,2 M1088,669l1,3 M1092,659l-1,-0 M1092,659l-1,1 M1091,659l-0,1 M1083,666l5,3 M1091,660l0,0 M1094,656l-0,0 M1094,656l-2,4 M1093,662l-2,-0 M1091,660l0,-1 M1090,672l-5,-6 M1094,656l-2,3 M1213,675l1,2 M1213,675l-1,-1 M1213,667l-1,3 M1213,667l-1,3 M1204,671l2,-1 M1204,671l-0,3 M1214,677l1,0 M1212,670l-1,-1 M1212,670l0,2 M1210,676l-3,1 M1210,676l2,-2 M1206,670l3,1 M1210,668l2,1 M1210,668l-1,2 M1218,681l-3,-3 M1218,681l-4,-4 M1209,671l1,2 M1209,671l2,1 M1206,683l2,-3 M1206,683l0,-4 M1212,670l-1,2 M1207,677l-0,1 M1207,677l-2,-1 M1217,674l-4,2 M1217,674l-2,4 M1212,673l1,-0 M1212,673l-0,1 M1215,678l-2,-2 M1213,672l-2,-1 M1211,674l1,-2 M1203,673l2,3 M1209,673l1,-1 M1209,673l2,1 M1205,676l2,2 M1211,672l1,1 M1207,679l2,1 M1208,680l-1,-2 M1123,451l1,1 M1123,451l-0,-1 M1125,449l-1,-1 M1125,449l-2,-1 M1129,447l-1,1 M1129,447l-0,3 M1124,448l1,0 M1124,448l1,-1 M1122,448l1,0 M1122,448l1,2 M1122,450l1,-0 M1122,450l-1,1 M1133,448l-2,2 M1133,448l-2,4 M1125,445l-1,2 M1125,445l3,-1 M1131,451l0,-1 M1131,451l-0,1 M1122,455l3,1 M1122,455l-4,1 M1133,458l-3,-5 M1133,458l-2,-5 M1130,454l1,-1 M1130,454l-2,-0 M1126,452l1,1 M1126,452l-2,0 M1128,453l-0,-1 M1128,453l-1,-1 M1124,447l0,1 M1120,451l-2,-2 M1131,450l-0,3 M1118,456l-0,-0 M1118,456l0,1 M1128,448l0,2 M1127,453l1,-0 M1129,451l-1,2 M1129,451l-2,2 M1118,450l3,1 M1128,444l1,3 M1128,461l5,-3 M1128,461l-3,-5 M1119,446l3,2 M1119,446l-1,4 M1117,456l1,1 M1118,441l1,5 M1118,441l7,4 M1124,456l-0,-4 M1055,587l0,1 M1055,587l-0,2 M1053,584l-0,-3 M1053,584l2,3 M1056,580l-2,-0 M1056,580l-3,1 M1059,586l-0,-0 M1059,586l2,-2 M1054,580l-0,1 M1056,588l-0,0 M1059,586l2,-2 M1114,572l-1,-1 M1114,572l2,-2 M1120,570l-1,-1 M1120,570l-3,-0 M1117,570l2,-1 M1113,571l4,-1 M1120,574l-0,1 M1120,574l-2,1 M1118,575l2,0 M1015,716l-0,1 M1015,716l1,-1 M1017,712l-0,2 M1017,712l-0,2 M1017,714l-0,-0 M1017,714l-1,0 M1017,714l-1,0 M1017,718l-2,-2 M1017,718l-2,-3 M1013,716l2,0 M1013,716l3,-1 M1274,559l-1,1 M1274,559l-1,0 M1265,548l-0,-3 M1265,548l2,4 M1269,552l-0,2 M1269,552l1,-1 M1282,544l-2,0 M1282,544l-5,-1 M1269,549l1,-1 M1269,549l1,1 M1272,560l1,-0 M1272,560l2,-0 M1274,543l1,-0 M1274,543l2,-0 M1278,559l0,-0 M1278,559l-0,2 M1269,540l-0,-1 M1269,540l-2,1 M1275,551l-3,-1 M1275,551l-3,2 M1265,545l-3,0 M1272,557l1,-1 M1272,557l-1,-2 M1268,540l-2,1 M1277,543l-1,-0 M1277,543l-2,-0 M1262,551l-4,1 M1262,551l-4,2 M1258,558l3,-0 M1258,558l4,0 M1279,570l2,-1 M1279,570l-2,-1 M1262,545l-3,2 M1267,556l0,1 M1267,556l-0,-1 M1272,553l-0,1 M1272,553l-0,-3 M1270,566l2,2 M1270,566l0,3 M1276,565l-0,1 M1276,565l-1,2 M1272,554l-0,2 M1271,546l-1,-2 M1271,546l0,2 M1274,560l-1,-0 M1275,543l1,0 M1267,555l-1,-0 M1282,560l-1,3 M1282,560l-4,-1 M1273,571l-2,-1 M1273,571l-2,-2 M1277,561l0,-2 M1263,538l3,2 M1263,538l4,3 M1272,568l-1,1 M1272,568l-1,2 M1271,570l-0,-1 M1281,569l-4,-0 M1268,557l-2,-0 M1277,569l-1,1 M1277,569l-2,1 M1266,556l1,-0 M1266,556l1,-1 M1267,541l-2,-1 M1281,563l-4,-1 M1269,554l2,0 M1277,555l2,-1 M1277,555l2,-0 M1266,554l0,2 M1265,540l3,-0 M1275,567l1,-1 M1258,547l-0,5 M1270,551l1,-0 M1270,551l1,-0 M1271,550l0,-0 M1267,552l2,0 M1267,552l2,2 M1261,558l1,1 M1276,570l-1,-0 M1266,558l-0,-2 M1266,558l2,-1 M1279,555l-0,-1 M1265,562l1,-3 M1265,562l-3,-3 M1274,546l-1,-3 M1274,546l-4,-0 M1271,549l0,2 M1270,545l4,-1 M1258,552l0,2 M1273,556l-2,-0 M1280,545l-3,-2 M1260,516l-1,-1 M1260,516l2,-1 M1267,511l-0,1 M1267,511l-3,-0 M1263,512l-1,-0 M1263,512l0,-2 M1263,520l1,-2 M1263,520l-1,-4 M1264,510l-2,1 M1258,511l0,0 M1258,511l2,-0 M1260,511l-1,0 M1260,511l-0,1 M1264,517l-2,-2 M1266,514l-0,-2 M1266,514l0,-3 M1262,511l1,0 M1262,511l-2,0 M1263,507l-0,1 M1263,507l1,4 M1259,515l1,-2 M1259,513l-1,-1 M1263,508l1,3 M1386,512l2,2 M1386,512l3,1 M1398,525l2,-1 M1398,525l-2,-2 M1389,518l0,-0 M1389,518l2,1 M1388,521l2,0 M1388,521l-1,-2 M1394,516l-1,-1 M1394,516l-2,-1 M1383,523l-2,-2 M1383,523l0,-3 M1394,519l1,-0 M1394,519l-3,0 M1390,512l-1,1 M1390,512l-2,1 M1381,515l0,1 M1381,515l-1,1 M1388,525l1,1 M1388,525l1,-2 M1391,515l1,0 M1391,515l2,0 M1391,523l1,-0 M1391,523l-1,-1 M1381,529l3,1 M1381,529l3,-0 M1381,521l2,-1 M1391,522l-1,-0 M1389,523l1,0 M1392,523l-2,-1 M1386,529l-2,-1 M1386,529l2,-1 M1398,528l-2,0 M1398,528l-0,-3 M1389,518l2,2 M1393,515l-1,-0 M1390,524l1,-1 M1381,516l-1,0 M1397,518l-2,1 M1397,518l-3,2 M1387,519l0,0 M1387,519l-1,-1 M1396,529l-2,-2 M1384,529l-0,1 M1388,528l0,-1 M1388,528l1,-2 M1391,520l-0,2 M1383,533l1,-3 M1383,533l1,-4 M1394,527l1,-4 M1389,513l-1,1 M1389,527l1,-1 M1377,523l4,-2 M1377,523l6,0 M1396,523l-3,-0 M1392,533l1,-3 M1392,533l-3,-5 M1392,530l2,-3 M1386,523l2,-1 M1386,523l1,-3 M1387,518l1,2 M1400,524l-4,-1 M1384,530l2,-0 M1400,514l-3,4 M1400,514l-5,2 M1316,624l0,1 M1316,624l1,3 M1326,626l-4,0 M1326,626l-2,-3 M1318,627l-1,2 M1318,627l-1,-3 M1325,619l0,0 M1325,619l1,1 M1317,629l3,0 M1319,629l-2,-2 M1322,624l0,0 M1322,624l0,-1 M1323,632l2,0 M1323,632l0,-3 M1325,619l1,1 M1325,623l-2,0 M1325,623l-2,2 M1321,626l2,-0 M1321,626l2,-2 M1323,623l0,1 M1327,630l-2,2 M1327,630l-4,-1 M1321,623l2,1 M1321,623l2,2 M1324,629l-1,-3 M1323,626l-0,-1 M1317,619l-0,4 M1317,619l-0,5 M1323,617l2,2 M1323,617l2,2 M1400,606l1,-1 M1400,606l3,-0 M1406,613l1,1 M1406,613l2,-0 M1403,601l2,-0 M1403,601l-1,4 M1411,610l-1,1 M1411,610l-1,0 M1401,605l2,1 M1410,611l-0,-0 M1408,601l-3,-0 M1408,601l0,6 M1410,613l-1,-0 M1410,613l-1,1 M1407,614l2,0 M1406,610l3,0 M1406,610l-0,3 M1408,613l-1,2 M1409,607l-0,-1 M1409,607l-1,-1 M1404,606l1,2 M1408,607l1,-0 M1412,612l-1,-2 M1412,612l-2,-1 M1405,607l3,-1 M1374,638l-1,-1 M1374,638l-1,-1 M1375,641l1,1 M1375,641l-3,1 M1370,636l1,-0 M1370,636l2,1 M1373,639l-1,1 M1373,639l1,-2 M1379,638l-1,-1 M1379,638l-4,3 M1371,645l0,1 M1371,645l-2,-2 M1371,641l0,-0 M1371,641l1,0 M1378,637l-4,1 M1372,632l-1,-0 M1372,632l-3,1 M1372,646l-2,-3 M1372,637l1,-0 M1372,637l2,-0 M1367,639l-0,-0 M1367,639l3,3 M1374,636l-1,0 M1373,642l-1,-1 M1369,633l2,-1 M1369,633l1,2 M1369,642l2,-1 M1369,642l2,-2 M1366,639l3,3 M1376,642l-3,-0 M1371,636l1,1 M1427,549l2,0 M1427,549l1,2 M1443,549l-1,2 M1443,549l-2,-2 M1433,553l1,-1 M1433,553l2,1 M1433,552l1,2 M1432,549l-2,0 M1432,549l-1,2 M1439,546l2,1 M1439,546l-2,2 M1442,551l-2,-0 M1440,552l0,-2 M1440,552l-2,1 M1439,556l-1,-2 M1439,556l1,-3 M1438,550l-1,-1 M1438,550l-1,-1 M1436,546l2,1 M1436,546l2,3 M1431,551l-1,-2 M1437,549l0,0 M1428,551l2,-2 M1430,555l2,1 M1430,555l3,-1 M1437,552l1,1 M1437,552l1,-2 M1432,556l1,-3 M1438,547l-0,2 M1438,547l-0,2 M1489,587l-0,-2 M1489,587l-1,-5 M1489,575l3,-0 M1489,575l-2,3 M1488,580l-1,-2 M1488,580l-0,2 M1484,570l-2,-0 M1484,570l-2,2 M1481,581l1,-3 M1481,581l0,-4 M1478,573l1,1 M1478,573l2,2 M1490,570l-3,1 M1490,570l-4,1 M1481,578l-0,-1 M1481,578l-2,-1 M1481,577l-1,-1 M1488,585l-0,-2 M1482,572l-0,-2 M1482,572l-2,-1 M1484,574l1,-0 M1484,574l-1,2 M1484,584l4,-1 M1484,584l4,1 M1492,577l0,3 M1492,577l-1,-3 M1480,576l-1,1 M1479,577l2,-0 M1483,576l-1,-0 M1483,576l-1,1 M1487,571l0,0 M1487,571l-3,-1 M1480,571l2,-1 M1479,574l1,2 M1494,585l-5,2 M1494,585l-6,-1 M1485,578l2,0 M1485,578l2,1 M1482,575l-0,1 M1485,574l-2,2 M1493,580l-5,1 M1477,579l2,-2 M1477,579l3,-3 M1494,572l2,2 M1494,572l-2,3 M1487,579l-1,-1 M1496,573l-4,1 M1499,484l-0,1 M1499,484l2,1 M1496,488l1,-3 M1496,488l2,-3 M1501,491l2,-5 M1501,491l3,-5 M1505,482l-0,2 M1505,482l-4,2 M1499,485l-1,0 M1503,487l1,-0 M1503,487l-2,-2 M1501,485l1,-1 M1505,484l-1,3 M1497,486l2,-1 M1506,487l-3,-0 M1506,487l-1,-3 M1501,484l-2,0 M1342,678l-0,1 M1342,678l-0,3 M1341,682l1,2 M1341,682l1,2 M1338,679l-1,1 M1338,679l0,2 M1343,683l-0,0 M1337,677l-1,-0 M1337,677l0,-2 M1347,680l0,-2 M1347,680l-4,3 M1339,675l-2,-0 M1339,675l-2,2 M1337,680l1,1 M1341,679l0,3 M1347,678l-6,0 M1336,677l1,-2 M1323,753l-2,-2 M1323,753l2,4 M1317,757l1,-0 M1317,757l1,1 M1318,757l0,1 M1318,759l-0,-0 M1318,759l1,-0 M1313,760l2,1 M1313,760l3,1 M1316,761l-2,-1 M1316,761l2,-2 M1323,761l-1,-1 M1323,761l-2,0 M1318,758l1,0 M1320,751l-3,4 M1324,760l-1,1 M1324,760l-2,0 M1317,755l0,2 M1317,755l-2,0 M1322,761l1,-1 M1316,756l1,2 M1325,758l-1,-0 M1325,758l-1,2 M1324,757l0,2 M1229,796l-1,4 M1229,796l-4,2 M1230,803l-1,-1 M1230,803l-1,-1 M1225,798l-0,3 M1225,798l3,2 M1228,800l0,2 M1228,800l1,2 M1235,798l-2,2 M1235,798l-4,1 M1228,805l0,2 M1228,805l2,2 M1225,801l3,-1 M1229,802l-1,-0 M1231,799l1,0 M1231,799l-3,1 M1228,807l2,-0 M1232,804l-2,-1 M1232,804l-2,-2 M1397,849l2,0 M1397,849l-2,-0 M1386,824l1,2 M1386,824l-0,3 M1398,832l1,0 M1398,832l-1,-1 M1394,841l1,0 M1394,841l2,-1 M1386,835l1,1 M1386,835l4,-1 M1400,834l-1,1 M1400,834l-1,-1 M1399,835l-1,0 M1399,835l-0,1 M1404,827l-3,-0 M1404,827l-0,3 M1400,826l-1,-0 M1400,826l-1,-0 M1398,840l-1,-1 M1398,840l-2,-0 M1396,829l1,-0 M1396,829l-1,1 M1403,838l-0,-1 M1403,838l1,0 M1395,830l1,1 M1399,826l0,-0 M1399,850l1,-2 M1407,838l-0,-2 M1407,838l-3,1 M1391,825l1,-1 M1391,825l3,-1 M1411,837l-0,-2 M1411,837l1,2 M1407,836l-1,-3 M1394,849l5,0 M1404,830l3,-1 M1404,830l-3,0 M1395,841l1,-1 M1402,850l-3,-2 M1402,850l-4,-1 M1403,823l-1,-1 M1403,823l-1,-2 M1393,838l-1,-0 M1393,838l1,0 M1392,829l1,2 M1392,829l-3,-1 M1400,847l-0,1 M1400,847l-1,3 M1402,842l-1,-2 M1402,842l-2,-0 M1396,838l-0,-1 M1396,838l1,1 M1407,850l-5,0 M1407,850l-3,-6 M1388,823l-2,1 M1388,823l3,2 M1392,825l2,-0 M1398,836l1,-0 M1398,836l0,-1 M1401,844l2,0 M1401,844l0,-2 M1404,844l-2,-2 M1400,829l-1,-0 M1400,829l1,2 M1396,839l-0,0 M1396,839l0,-0 M1397,834l-1,1 M1397,834l1,-2 M1385,827l1,-0 M1385,827l-2,-1 M1395,832l1,-2 M1395,832l-1,-2 M1411,833l1,1 M1411,833l-1,2 M1391,838l-1,-1 M1399,828l-1,1 M1397,839l-0,1 M1394,824l-0,1 M1394,824l-2,1 M1393,836l0,1 M1393,836l1,-1 M1391,834l-1,-1 M1391,834l-1,2 M1387,835l3,-2 M1400,842l-1,0 M1400,842l-1,1 M1386,829l-1,-3 M1386,829l0,-3 M1390,834l1,3 M1399,843l-1,-1 M1414,835l-2,-0 M1414,835l-3,-2 M1382,831l4,-2 M1382,831l1,-5 M1407,832l0,2 M1407,832l-0,-2 M1398,821l4,-0 M1398,821l4,1 M1394,838l2,-0 M1394,836l1,-1 M1404,839l-1,-1 M1389,828l-3,1 M1395,835l1,-0 M1402,820l-0,2 M1401,830l-2,2 M1383,826l2,-2 M1411,839l-4,-1 M1393,830l2,0 M1400,840l-1,1 M1379,839l3,-7 M1379,839l7,-4 M1399,835l0,1 M1404,835l2,-1 M1404,835l-2,3 M1395,837l1,1 M1390,847l5,3 M1390,847l7,3 M1323,851l-1,-0 M1323,851l-1,-4 M1326,856l-1,-1 M1326,856l1,-2 M1325,855l2,-1 M1330,855l0,-0 M1330,855l0,0 M1329,856l1,-1 M1329,856l1,-2 M1330,855l0,0 M1329,852l-0,1 M1329,852l2,-2 M1327,854l-0,-1 M1327,853l2,-0 M1331,850l-2,2 M1329,853l1,2 M1322,851l0,-4 M1241,983l0,5 M1241,983l-2,4 M1232,989l-1,-1 M1232,989l-1,-1 M1231,988l0,0 M1231,988l1,-1 M1238,987l3,0 M1238,987l-4,-2 M1233,985l-1,-0 M1233,985l1,0 M1232,985l1,-1 M1234,984l-1,1 M1234,984l0,1 M1232,987l-1,1 M1244,989l-1,-2 M1244,989l-3,-2 M1241,987l2,0 M1234,992l-2,-3 M1234,992l-3,-3 M1205,969l-0,1 M1205,969l-2,-0 M1203,969l0,-0 M1203,969l2,0 M1204,972l-0,0 M1204,972l1,1 M1205,970l-1,2 M1204,972l1,0 M1207,976l-2,-3 M1207,976l-3,-4 M1496,944l1,-1 M1496,944l-0,2 M1493,945l3,-1 M1493,945l3,2 M1500,945l-0,0 M1500,945l-1,-3 M1500,942l0,3 M1489,947l1,-4 M1489,947l4,-2 M1497,944l3,-1 M1496,947l2,2 M1499,954l-2,-4 M1499,954l-2,-5 M1498,950l0,-1 M1498,950l-2,-3 M1492,952l0,-1 M1492,952l5,-2 M1490,943l3,2 M1493,951l5,-1 M1516,1006l2,-0 M1516,1006l-2,-0 M1518,1006l0,-1 M1516,1002l0,0 M1516,1002l2,2 M1518,1004l0,1 M1518,1004l1,1 M1506,1011l3,0 M1506,1011l3,-1 M1516,1002l2,2 M1517,1011l-2,1 M1517,1011l2,0 M1523,1005l-3,0 M1523,1005l-4,-0 M1513,1006l1,-1 M1513,1006l3,-1 M1515,1000l1,3 M1515,1000l1,3 M1511,1013l-1,0 M1511,1013l-2,-3 M1523,1012l-1,-2 M1523,1012l-3,-0 M1509,1016l0,-3 M1509,1016l2,-3 M1515,1019l-5,-3 M1515,1019l1,-7 M1519,1005l-1,-0 M1519,1005l1,1 M1520,1005l-2,-1 M1522,1010l-2,2 M1517,1008l-0,-3 M1517,1008l1,-3 M1509,1011l0,-1 M1509,1011l0,3 M1520,1007l0,-2 M1520,1007l-2,-2 M1515,1012l1,-4 M1483,1026l1,2 M1483,1026l2,4 M1479,1041l-2,0 M1479,1041l-1,-3 M1478,1028l1,4 M1478,1028l0,4 M1477,1039l1,-0 M1477,1039l-1,-0 M1476,1039l2,0 M1479,1032l-1,0 M1479,1032l3,1 M1482,1036l-1,1 M1482,1036l1,-2 M1484,1027l1,2 M1486,1038l-4,-2 M1486,1038l-3,-4 M1483,1034l-1,-1 M1474,1037l2,1 M1474,1037l3,2 M1482,1033l0,-2 M1478,1033l4,1 M1478,1044l-0,-2 M1478,1044l1,-3 M1485,1029l-2,1 M1482,1031l1,-1 M1478,1039l0,-2 M1485,1032l-2,-2 M1485,1032l-0,-3 M1478,1037l-1,2 M1481,1037l-3,-0 M1567,1086l-1,1 M1567,1086l-1,1 M1562,1074l2,1 M1562,1074l1,5 M1561,1091l2,2 M1561,1091l3,-1 M1566,1106l-0,-3 M1566,1106l1,3 M1565,1088l0,-1 M1565,1088l1,-2 M1563,1079l-0,1 M1563,1079l0,1 M1566,1081l-0,0 M1566,1081l-0,-1 M1569,1087l1,1 M1569,1087l-2,-1 M1565,1087l1,-1 M1565,1087l1,-0 M1566,1093l-1,-2 M1566,1093l-0,-3 M1564,1080l-0,-0 M1565,1079l-0,-0 M1565,1079l0,1 M1567,1109l-2,2 M1563,1094l3,-0 M1564,1099l1,-1 M1564,1099l3,-3 M1564,1075l-1,4 M1570,1088l1,1 M1565,1081l0,1 M1563,1086l1,0 M1563,1086l3,1 M1565,1091l-0,0 M1565,1091l0,-0 M1565,1079l-1,-0 M1564,1087l2,0 M1569,1101l-3,2 M1569,1101l-4,-3 M1562,1104l4,-1 M1562,1104l4,1 M1566,1086l1,0 M1565,1112l1,-6 M1564,1091l1,0 M1564,1091l1,0 M1565,1084l1,2 M1565,1084l-1,2 M1567,1096l-2,2 M1567,1096l-1,-3 M1565,1091l-0,0 M1569,1075l-5,-0 M1569,1075l-4,4 M1571,1095l-0,-0 M1571,1095l-4,1 M1571,1089l-2,-2 M1571,1095l-4,2 M1494,763l-1,1 M1494,763l0,-2 M1495,766l-1,1 M1495,766l-2,-1 M1502,770l-1,1 M1502,770l-2,2 M1494,763l-1,2 M1491,761l2,1 M1491,761l1,3 M1491,764l2,1 M1491,764l2,-2 M1494,767l-1,-2 M1492,777l3,-2 M1492,777l-2,-3 M1496,762l1,1 M1496,762l-2,0 M1500,772l1,-1 M1500,772l-2,1 M1493,773l1,2 M1493,773l-4,1 M1498,763l-3,-0 M1495,761l1,1 M1497,773l2,2 M1492,768l-1,1 M1492,768l-1,1 M1491,769l-1,-1 M1499,775l1,-3 M1493,762l2,1 M1498,768l-3,-2 M1498,768l-4,-1 M1489,770l2,-1 M1489,770l3,-1 M1486,765l6,-1 M1486,765l3,5 M1544,734l2,2 M1544,734l2,1 M1552,732l2,-0 M1552,732l-2,-4 M1542,737l3,-3 M1542,737l1,4 M1547,738l0,-1 M1547,738l-0,-3 M1548,736l1,1 M1548,736l-1,-1 M1546,736l0,-0 M1546,736l1,-1 M1546,732l-2,-1 M1546,732l-1,-2 M1547,738l-1,-2 M1552,742l1,-4 M1552,742l-2,-6 M1550,736l1,-0 M1550,736l-1,0 M1551,736l-2,0 M1554,736l-0,2 M1554,736l2,-1 M1547,735l1,-1 M1556,735l-2,-4 M1544,732l1,-2 M1543,741l4,-2 M1553,738l-2,-2 M1551,728l4,4 M1513,728l1,4 M1513,728l4,0 M1518,739l-0,1 M1518,739l-4,-1 M1518,729l-1,-1 M1518,729l2,0 M1513,740l2,-2 M1513,740l-0,-5 M1506,735l2,-1 M1506,735l-1,-2 M1517,732l0,0 M1517,732l-2,2 M1517,732l-2,2 M1508,734l-2,-1 M1517,728l3,1 M1520,731l-0,-2 M1520,731l-2,-2 M1515,733l-2,-1 M1513,732l-2,3 M1518,740l-4,-3 M1514,737l-2,-2 M1512,735l0,1 M1617,691l-0,1 M1617,691l-1,-2 M1610,687l1,0 M1610,687l0,1 M1604,685l2,1 M1604,685l2,1 M1611,688l1,-1 M1606,686l-0,0 M1617,692l-1,-3 M1613,684l1,1 M1613,684l2,-0 M1615,684l-0,1 M1610,684l-0,2 M1610,684l0,3 M1610,681l0,3 M1610,681l3,3 M1610,686l1,1 M1609,692l2,-4 M1609,692l1,-5 M1574,671l2,-0 M1574,671l-1,-1 M1577,665l-3,-1 M1577,665l-3,3 M1572,669l1,1 M1572,669l1,2 M1573,670l-0,-1 M1573,670l-1,1 M1569,669l3,-0 M1569,669l3,2 M1576,671l-1,-2 M1575,664l-0,4 M1574,674l1,1 M1574,674l-3,-0 M1575,669l-0,-1 M1575,669l-2,1 M1574,675l-3,-1 M1571,674l1,-3 M1575,668l-2,2 M1572,671l1,-2 M1580,610l1,3 M1580,610l1,3 M1572,607l-1,4 M1572,607l3,1 M1573,616l1,-0 M1573,616l1,-0 M1569,617l-1,1 M1569,617l-2,-1 M1574,616l-0,-0 M1574,616l1,0 M1582,616l-2,-3 M1582,616l-2,-3 M1583,620l0,1 M1583,620l-1,-1 M1568,612l0,1 M1568,612l2,0 M1569,620l1,-1 M1569,620l-0,-2 M1570,612l-2,0 M1570,612l0,2 M1572,617l1,0 M1572,617l1,-1 M1578,614l2,-0 M1578,614l2,-0 M1562,614l3,-2 M1562,614l5,1 M1570,614l1,2 M1566,625l4,1 M1566,625l2,-5 M1580,625l-2,-1 M1580,625l-5,1 M1575,608l-2,4 M1575,618l-1,-0 M1575,618l-1,-1 M1566,615l1,1 M1566,615l2,-3 M1581,613l-0,0 M1581,613l-0,1 M1574,617l-1,0 M1574,617l1,-0 M1571,626l3,3 M1571,626l4,0 M1574,629l2,-3 M1561,620l1,-7 M1561,620l6,5 M1571,616l-1,1 M1571,616l2,1 M1582,619l1,2 M1575,627l3,-3 M1574,617l0,0 M1570,619l-1,-1 M1573,612l-0,1 M1573,612l-2,-2 M1565,612l3,-0 M1565,612l3,0 M1571,611l-2,1 M1580,620l2,-1 M1580,620l3,-0 M1580,614l-0,-0 M1573,613l-1,-2 M1579,600l-2,0 M1579,600l3,1 M1583,603l-1,-0 M1583,603l0,3 M1577,605l3,1 M1577,605l-1,3 M1582,599l1,0 M1582,599l-1,2 M1585,597l-1,-0 M1585,597l-1,2 M1580,605l1,0 M1580,605l2,-2 M1584,597l-0,2 M1583,606l-2,-0 M1583,606l2,2 M1580,597l2,2 M1580,597l-1,3 M1586,602l-0,-1 M1586,602l-2,-2 M1577,598l-1,1 M1577,598l-0,2 M1584,601l-1,-0 M1584,601l-1,-2 M1586,602l-2,-1 M1585,593l-1,4 M1585,593l-0,4 M1576,608l3,-3 M1576,598l1,2 M1587,597l-2,0 M1587,597l-3,-0 M1584,599l-1,1 M1582,601l2,0 M1590,600l2,2 M1590,600l-3,-3 M1585,608l-4,-2 M1592,602l-6,0 M1582,603l-0,-2 M1619,567l-0,-1 M1619,567l-0,-2 M1611,561l-1,0 M1611,561l-1,1 M1617,573l-1,2 M1617,573l2,-2 M1612,575l0,-1 M1612,575l2,-0 M1610,562l-0,0 M1616,570l-2,0 M1616,570l2,-1 M1618,569l1,2 M1618,569l1,-2 M1624,566l-1,2 M1624,566l2,1 M1613,567l1,1 M1613,567l1,1 M1613,571l1,-1 M1613,571l0,2 M1613,574l1,-1 M1613,574l0,-1 M1608,575l-1,1 M1608,575l-3,1 M1607,576l-2,0 M1614,575l-0,-2 M1617,579l4,-3 M1617,579l-1,-5 M1626,567l-2,1 M1616,574l-2,1 M1620,573l0,3 M1620,573l-0,-3 M1621,576l3,-2 M1625,572l-1,2 M1625,572l3,2 M1619,566l-0,-0 M1625,579l-1,-4 M1625,579l-4,-2 M1620,570l-2,0 M1620,570l-2,-2 M1625,563l-0,4 M1625,563l1,5 M1608,565l-1,1 M1608,565l2,-2 M1624,574l-4,-1 M1607,566l3,-3 M1610,563l1,-1 M1610,563l1,-1 M1611,566l2,0 M1611,566l2,1 M1614,564l1,-2 M1614,564l-1,2 M1614,562l-3,-1 M1611,569l-0,3 M1611,569l2,1 M1620,563l-1,2 M1620,563l-1,2 M1624,568l-2,-0 M1613,573l1,1 M1622,568l2,-2 M1614,568l-0,-0 M1611,572l2,1 M1628,574l-4,0 M1659,543l-3,2 M1659,543l2,-3 M1650,528l-1,-1 M1650,528l1,2 M1629,540l1,1 M1629,540l0,1 M1638,533l-1,2 M1638,533l-1,2 M1642,543l-1,-0 M1642,543l-1,1 M1624,540l1,-1 M1624,540l-1,1 M1642,550l0,0 M1642,550l1,1 M1652,540l0,-1 M1652,540l-2,0 M1641,536l1,-3 M1641,536l0,-3 M1634,532l0,-0 M1634,532l-0,1 M1634,529l-0,2 M1634,529l2,1 M1642,533l-0,-0 M1642,533l0,-2 M1650,554l-1,-3 M1650,554l2,-3 M1621,542l-0,-0 M1621,542l1,0 M1633,538l-2,0 M1633,538l-2,-2 M1636,542l1,0 M1636,542l1,1 M1621,533l-1,-0 M1621,533l3,-2 M1648,539l0,0 M1648,539l2,1 M1642,550l1,1 M1643,531l-2,0 M1643,531l-2,2 M1659,535l-3,-3 M1659,535l2,6 M1641,525l1,-1 M1641,525l2,0 M1619,532l4,-2 M1641,533l1,-2 M1634,545l-0,-2 M1634,545l3,-3 M1643,550l-2,0 M1643,550l-2,0 M1629,541l0,-0 M1649,550l0,0 M1649,550l-1,-3 M1625,539l1,-1 M1647,547l1,-1 M1647,547l-3,0 M1631,533l-2,1 M1631,533l2,-0 M1652,543l-1,-3 M1652,543l-2,2 M1641,544l0,-1 M1650,536l0,-2 M1650,536l-1,-2 M1634,531l-0,1 M1644,544l-2,-2 M1644,544l-3,-1 M1630,534l-1,-0 M1630,534l-1,1 M1647,529l2,-2 M1647,529l3,-0 M1635,550l-1,-5 M1635,550l5,-1 M1621,542l2,0 M1624,527l-3,1 M1624,527l-1,4 M1650,540l-1,-1 M1649,551l3,0 M1645,540l-3,-1 M1645,540l3,-1 M1639,523l2,2 M1639,523l3,1 M1636,542l0,1 M1636,542l1,0 M1628,524l3,2 M1628,524l4,2 M1638,527l3,-1 M1638,527l1,3 M1632,526l-2,-0 M1632,526l2,-2 M1631,536l1,0 M1631,536l1,2 M1651,530l0,3 M1632,538l0,-2 M1644,537l3,-1 M1644,537l-3,-0 M1642,539l-1,3 M1634,524l-3,2 M1648,546l1,-1 M1645,548l-1,2 M1652,539l-2,2 M1628,531l-0,0 M1628,531l-1,-1 M1640,530l-1,-1 M1640,530l2,1 M1656,545l-4,-2 M1642,529l0,-0 M1642,529l-1,2 M1637,542l-1,1 M1639,518l-1,-2 M1639,518l-0,5 M1628,531l-1,-1 M1655,531l-4,-1 M1655,531l-4,1 M1647,535l0,-2 M1647,535l2,-2 M1637,535l-0,-1 M1637,535l0,1 M1650,545l2,1 M1636,530l-2,1 M1643,526l-1,-2 M1629,552l6,-3 M1629,552l5,-7 M1623,541l-1,1 M1650,523l0,1 M1650,523l-1,4 M1626,533l2,0 M1626,533l2,1 M1639,516l0,7 M1637,534l0,1 M1624,531l3,-1 M1628,534l0,-1 M1626,539l-2,1 M1629,537l-0,-2 M1629,537l2,-1 M1642,529l-2,2 M1634,543l2,-2 M1652,551l-3,-1 M1649,533l-1,0 M1649,533l1,-0 M1651,546l-3,-0 M1650,533l1,-0 M1640,549l1,1 M1640,549l2,1 M1621,528l3,3 M1639,529l3,-1 M1644,521l-2,2 M1644,521l-1,4 M1650,524l-1,3 M1666,526l1,1 M1666,526l-1,1 M1660,529l0,1 M1660,529l2,1 M1658,533l2,-1 M1658,533l2,-3 M1652,531l2,0 M1652,531l-2,-1 M1647,533l0,1 M1647,533l1,1 M1660,532l2,-1 M1668,526l-1,1 M1668,526l-2,-0 M1662,532l-1,-0 M1662,532l-1,-2 M1672,530l0,-0 M1672,530l-1,-1 M1668,531l-3,-0 M1668,531l2,-3 M1650,530l3,1 M1670,526l0,2 M1670,526l0,3 M1662,530l0,1 M1662,530l-2,-0 M1671,528l-0,1 M1666,531l-3,1 M1647,533l1,0 M1672,529l-1,-1 M1662,527l3,-0 M1662,527l-0,3 M1665,527l2,0 M1650,534l-2,-0 M1650,534l-3,-1 M1672,512l3,-1 M1672,512l-2,-6 M1664,504l0,1 M1664,504l-2,0 M1662,504l-0,1 M1662,504l-2,1 M1652,509l4,-1 M1652,509l5,-2 M1665,505l1,2 M1660,508l-1,2 M1660,508l0,-3 M1657,514l2,-1 M1657,514l-1,-2 M1668,506l-0,0 M1668,506l1,0 M1659,514l0,1 M1656,512l3,1 M1666,507l0,-0 M1666,507l2,-0 M1665,510l0,-1 M1665,510l-1,-0 M1667,501l-0,2 M1667,501l-3,3 M1665,509l1,-1 M1656,507l1,-1 M1659,510l1,1 M1667,503l1,2 M1667,507l1,-1 M1667,507l-1,0 M1662,505l-2,0 M1666,509l-1,1 M1660,511l-1,2 M1665,514l-0,-4 M1665,514l-1,-4 M1657,507l3,1 M1670,506l-1,0 M1664,510l1,-0 M1659,514l-2,-0 M1675,511l-5,-5 M1671,491l-0,0 M1671,491l-3,-1 M1669,488l-1,-1 M1669,488l-1,2 M1663,497l0,-3 M1663,497l-2,-3 M1666,486l-1,3 M1666,486l3,1 M1664,494l1,-2 M1664,494l-3,-0 M1665,489l-0,3 M1671,494l-0,-3 M1671,494l-0,-3 M1661,494l0,-4 M1670,499l1,-5 M1670,499l-6,-2 M1673,487l1,2 M1673,487l-4,0 M1674,490l-3,1 M1662,490l4,-1 M1662,490l3,2 M1694,480l3,1 M1694,480l2,3 M1698,486l-2,-3 M1698,486l3,-2 M1701,486l-1,-3 M1701,486l-4,-0 M1696,483l2,-1 M1696,483l1,-2 M1699,482l-1,-0 M1699,482l1,1 M1700,483l2,-1 M1702,482l-3,-0 M1698,482l-1,-1 M1703,478l-2,-1 M1703,478l-4,0 M1701,477l-2,1 M1699,478l-2,2 M1708,461l-2,1 M1708,461l-2,0 M1704,470l2,0 M1704,470l-3,1 M1703,452l-1,2 M1703,452l-3,-0 M1702,466l-1,-0 M1702,466l1,-2 M1702,454l0,2 M1702,454l1,1 M1698,454l0,1 M1698,454l2,1 M1699,472l-0,-1 M1699,472l3,-1 M1689,458l2,1 M1689,458l3,-1 M1702,459l-1,1 M1702,459l0,-1 M1695,456l1,-0 M1695,456l2,0 M1702,458l-1,2 M1698,456l-2,-0 M1698,456l1,-2 M1711,463l-3,-2 M1711,463l-5,-0 M1699,448l2,2 M1699,448l1,4 M1698,464l-1,-0 M1698,464l-1,-1 M1691,459l1,-2 M1701,466l-2,1 M1701,460l-1,1 M1696,460l0,-1 M1696,460l1,1 M1705,455l-1,1 M1705,455l-2,-0 M1707,471l-5,0 M1700,464l1,2 M1700,464l-2,0 M1701,450l-1,2 M1699,461l1,1 M1699,461l2,-1 M1701,452l1,2 M1695,459l1,0 M1695,459l1,1 M1697,461l-1,-2 M1704,464l3,-1 M1704,464l1,-2 M1697,464l0,-1 M1691,466l4,-0 M1691,466l2,-4 M1700,461l0,0 M1707,456l-2,-1 M1707,456l2,-3 M1704,456l-1,-2 M1699,471l2,-2 M1701,461l0,-1 M1705,461l1,0 M1705,461l1,1 M1700,469l1,2 M1703,455l-1,1 M1706,461l1,1 M1700,466l1,-3 M1699,455l1,-0 M1693,461l3,-1 M1693,461l2,-2 M1709,453l-4,2 M1696,466l1,-2 M1696,466l2,-3 M1701,471l-3,0 M1628,467l3,-0 M1628,467l2,-3 M1635,465l-1,-1 M1635,465l0,2 M1634,468l2,-1 M1634,468l-0,-2 M1632,465l1,1 M1632,465l-2,-1 M1631,467l1,-2 M1631,467l2,-1 M1631,465l1,-2 M1631,462l3,1 M1634,464l-2,2 M1565,465l1,0 M1565,465l0,3 M1570,465l0,0 M1570,465l-2,-1 M1569,464l2,1 M1565,468l1,-2 M1528,470l-0,1 M1528,470l2,-1 M1532,471l-3,1 M1532,471l-2,-2 M1531,469l-0,1 M1531,469l1,-2 M1530,473l-0,-1 M1530,473l-2,-2 M1528,472l2,0 M1532,467l-2,2 M1601,548l1,-0 M1601,548l2,1 M1604,548l-1,-1 M1604,548l1,-2 M1606,548l1,1 M1606,548l-1,-1 M1610,550l-4,-0 M1610,550l-5,-2 M1604,552l2,-2 M1604,552l-1,-3 M1567,568l2,0 M1567,568l0,3 M1567,571l1,0 M1569,568l4,-0 M1574,568l-0,1 M1574,568l-1,-1 M1570,572l-3,-1 M1570,572l-3,-1 M1573,569l-1,-1 M1373,624l3,-1 M1373,624l3,-3 M1378,615l-2,3 M1378,615l-3,4 M1376,619l0,-1 M1376,619l-0,1 M1376,619l-1,0 M1376,623l-1,-2 M1376,623l-1,-3 M1376,621l-0,-0 M1376,621l0,-1 M1375,619l1,1 M1386,553l0,-1 M1386,553l-1,-1 M1382,546l1,2 M1382,546l3,-0 M1386,551l-1,-1 M1385,551l-0,1 M1384,548l1,1 M1385,546l-1,2 M1384,551l2,0 M1385,549l-0,1 M1326,510l1,-2 M1326,510l2,1 M1329,507l0,1 M1329,507l-2,0 M1327,513l1,-0 M1327,513l1,-2 M1327,510l1,2 M1326,508l0,-1 M1329,507l-2,-0 M1322,509l4,1 M1322,509l5,-1 M1327,504l-0,3 M1327,504l2,3 M1454,786l-2,0 M1454,786l-2,-2 M1449,788l-0,-2 M1449,788l-1,-2 M1452,786l-0,-2 M1448,786l1,0 M1449,793l-1,-0 M1449,793l-1,-5 M1456,788l-2,-2 M1456,788l-4,-2 M1444,791l5,2 M1444,791l5,-3 M1449,793l-0,-4 M1494,810l-1,1 M1494,810l-2,1 M1494,814l2,1 M1494,814l3,-0 M1495,815l1,-1 M1490,813l1,0 M1490,813l2,-1 M1492,811l1,-1 M1492,811l-2,2 M1496,814l-0,-1 M1496,812l-1,3 M1499,816l-2,-3 M1499,816l-3,-1 M1531,850l1,0 M1531,850l1,-1 M1532,850l1,1 M1534,851l2,-0 M1535,850l-0,1 M1535,850l-2,2 M1531,845l0,0 M1531,845l1,3 M1533,848l-0,2 M1531,846l1,3 M1396,751l2,3 M1396,751l-2,5 M1398,753l2,2 M1401,755l1,1 M1405,757l1,-1 M1405,757l-3,-1 M1398,759l-2,2 M1398,759l2,-3 M1405,753l1,4 M1405,753l0,4 M1394,756l2,4 M1394,756l4,-3 M1371,793l-4,3 M1371,793l-5,-3 M1362,791l0,3 M1362,791l3,1 M1363,794l3,-2 M1366,789l0,2 M1366,789l-1,-2 M1365,787l1,4 M1367,791l-1,2 M1367,796l-1,-4 M1367,796l-4,-2 M1295,959l0,1 M1295,959l2,-2 M1295,961l4,-1 M1297,957l-1,0 M1297,957l1,-2 M1299,960l0,1 M1299,960l-1,-3 M1299,961l-4,-1 M1297,957l1,-2 M1300,955l-3,-0 M1300,955l-3,1 M1225,901l0,1 M1225,901l2,1 M1232,904l-2,-2 M1232,904l-1,4 M1225,901l2,1 M1226,903l1,-1 M1226,903l-1,-2 M1230,902l-3,-0 M1228,907l3,1 M1228,907l-1,-4 M1163,818l-0,-1 M1163,818l-2,-1 M1164,814l3,1 M1164,814l1,3 M1158,819l4,-1 M1158,819l4,2 M1163,818l-1,-0 M1163,823l0,-2 M1163,823l-0,-3 M1166,815l-2,2 M1162,820l1,0 M1162,820l1,-2 M1165,817l-2,1 M1165,817l-2,1 M1121,900l2,-1 M1121,900l-2,1 M1118,901l-2,0 M1116,901l4,-1 M1122,900l-2,-2 M1120,898l0,3 M1122,903l-1,-3 M1122,903l1,-3 M534,445l0,-0 M534,445l2,-1 M534,445l2,-1 M532,444l2,2 M532,444l3,2 M536,444l0,-1 M536,444l-0,-2 M536,443l0,1 M536,295l0,1 M536,295l1,-1 M537,297l0,-1 M537,297l-1,-1 M537,296l-1,-1 M537,294l-1,1 M536,296l-0,1 M536,296l0,-1 M408,566l-1,1 M408,566l3,-1 M408,571l0,1 M408,571l-1,-3 M408,572l-1,-5 M406,563l2,4 M406,563l1,5 M411,565l-4,2 M382,661l-1,3 M382,661l4,1 M386,661l0,2 M382,666l2,0 M382,666l2,-0 M383,668l-1,-2 M383,668l1,-2 M384,665l-0,0 M386,663l-3,2 M382,664l0,2 M382,664l2,2 M393,719l-1,-0 M393,719l2,-1 M392,715l-0,4 M392,715l3,3 M395,718l-0,-0 M395,718l-2,1 M390,720l2,-1 M390,720l3,-1 M988,1127l1,-0 M988,1127l-1,-1 M992,1127l3,-1 M992,1127l-3,-0 M987,1128l1,-1 M987,1128l-2,-0 M988,1127l-1,-1 M985,1128l-1,-1 M989,1130l-2,-1 M989,1130l-1,-3 M995,1126l-3,5 M984,1127l3,-1 M992,1131l-3,-2 M992,1131l-0,-4" fill="none" stroke="#ee1111" stroke-width="4.2" stroke-linecap="round"/>
<path d="M404,774h.1 M412,750h.1 M434,768h.1 M401,770h.1 M396,773h.1 M390,780h.1 M396,781h.1 M382,770h.1 M425,760h.1 M389,768h.1 M435,770h.1 M381,785h.1 M382,783h.1 M412,769h.1 M399,776h.1 M415,765h.1 M402,778h.1 M404,767h.1 M421,766h.1 M398,757h.1 M400,769h.1 M407,777h.1 M391,771h.1 M407,774h.1 M403,784h.1 M416,785h.1 M433,762h.1 M436,765h.1 M420,781h.1 M392,777h.1 M419,773h.1 M402,786h.1 M383,782h.1 M413,779h.1 M403,769h.1 M388,781h.1 M392,768h.1 M397,781h.1 M411,784h.1 M424,771h.1 M418,791h.1 M430,773h.1 M425,779h.1 M415,780h.1 M427,774h.1 M426,779h.1 M421,782h.1 M421,776h.1 M432,777h.1 M432,780h.1 M438,783h.1 M428,776h.1 M413,794h.1 M330,612h.1 M335,634h.1 M328,614h.1 M321,613h.1 M332,633h.1 M322,608h.1 M334,621h.1 M326,617h.1 M339,629h.1 M326,616h.1 M324,612h.1 M330,637h.1 M329,604h.1 M323,617h.1 M323,602h.1 M333,620h.1 M329,611h.1 M339,627h.1 M333,621h.1 M324,606h.1 M320,614h.1 M355,594h.1 M354,587h.1 M357,589h.1 M357,583h.1 M352,586h.1 M349,587h.1 M356,583h.1 M422,820h.1 M423,817h.1 M428,820h.1 M431,818h.1 M429,817h.1 M425,821h.1 M428,824h.1 M426,262h.1 M422,266h.1 M419,269h.1 M422,265h.1 M418,267h.1 M420,270h.1 M423,271h.1 M417,283h.1 M424,274h.1 M389,339h.1 M393,337h.1 M390,343h.1 M390,338h.1 M397,337h.1 M565,826h.1 M577,830h.1 M584,823h.1 M572,824h.1 M579,829h.1 M573,829h.1 M569,828h.1 M588,829h.1 M586,827h.1 M597,876h.1 M603,880h.1 M605,879h.1 M508,715h.1 M507,710h.1 M626,564h.1 M627,588h.1 M625,567h.1 M625,576h.1 M627,569h.1 M807,623h.1 M813,637h.1 M809,628h.1 M810,633h.1 M810,622h.1 M811,658h.1 M815,664h.1 M748,795h.1 M745,793h.1 M746,797h.1 M741,910h.1 M739,910h.1 M735,909h.1 M1034,889h.1 M1018,897h.1 M1027,878h.1 M1006,896h.1 M1024,890h.1 M1024,892h.1 M1024,882h.1 M1028,890h.1 M1030,888h.1 M1024,890h.1 M1043,881h.1 M1007,891h.1 M1024,902h.1 M1024,886h.1 M1021,894h.1 M1036,889h.1 M1011,882h.1 M1068,1007h.1 M1061,998h.1 M1076,1000h.1 M1071,1002h.1 M1076,998h.1 M1075,999h.1 M1081,994h.1 M1070,1003h.1 M1082,1002h.1 M1070,1004h.1 M1072,988h.1 M1078,993h.1 M1067,997h.1 M964,1007h.1 M975,1014h.1 M977,1018h.1 M978,1007h.1 M978,1006h.1 M978,1006h.1 M975,1008h.1 M966,1008h.1 M975,1010h.1 M970,1018h.1 M968,1005h.1 M976,1011h.1 M1001,977h.1 M1002,978h.1 M995,975h.1 M997,979h.1 M1005,972h.1 M1014,795h.1 M1010,787h.1 M1009,791h.1 M1057,772h.1 M1057,764h.1 M1054,767h.1 M1057,775h.1 M1099,662h.1 M1091,661h.1 M1091,662h.1 M1089,659h.1 M1096,655h.1 M1095,655h.1 M1211,678h.1 M1211,670h.1 M1211,669h.1 M1213,674h.1 M1212,672h.1 M1210,673h.1 M1207,678h.1 M1126,450h.1 M1124,447h.1 M1124,452h.1 M1131,455h.1 M1126,454h.1 M1126,450h.1 M1123,451h.1 M1117,445h.1 M1127,451h.1 M1060,585h.1 M1059,586h.1 M1119,570h.1 M1115,570h.1 M1121,573h.1 M1117,576h.1 M1017,715h.1 M1015,716h.1 M1015,712h.1 M1271,550h.1 M1281,543h.1 M1268,549h.1 M1273,560h.1 M1274,552h.1 M1266,546h.1 M1257,558h.1 M1269,558h.1 M1269,547h.1 M1268,558h.1 M1281,562h.1 M1271,552h.1 M1266,556h.1 M1267,538h.1 M1271,550h.1 M1261,558h.1 M1262,560h.1 M1265,561h.1 M1273,545h.1 M1278,559h.1 M1275,556h.1 M1259,554h.1 M1264,514h.1 M1263,510h.1 M1266,510h.1 M1265,506h.1 M1399,524h.1 M1394,518h.1 M1389,517h.1 M1391,522h.1 M1388,519h.1 M1382,535h.1 M1389,513h.1 M1391,515h.1 M1379,515h.1 M1387,512h.1 M1392,531h.1 M1381,522h.1 M1385,522h.1 M1388,518h.1 M1385,529h.1 M1320,625h.1 M1318,628h.1 M1320,625h.1 M1327,618h.1 M1325,630h.1 M1326,631h.1 M1404,614h.1 M1402,605h.1 M1407,601h.1 M1409,612h.1 M1409,616h.1 M1409,605h.1 M1377,640h.1 M1373,641h.1 M1378,638h.1 M1370,642h.1 M1376,638h.1 M1366,640h.1 M1368,641h.1 M1366,637h.1 M1373,641h.1 M1372,636h.1 M1426,549h.1 M1431,554h.1 M1432,550h.1 M1441,557h.1 M1436,550h.1 M1436,549h.1 M1439,551h.1 M1430,555h.1 M1480,580h.1 M1478,571h.1 M1487,586h.1 M1481,571h.1 M1484,584h.1 M1484,574h.1 M1489,584h.1 M1481,576h.1 M1488,572h.1 M1485,580h.1 M1498,485h.1 M1500,483h.1 M1501,484h.1 M1341,684h.1 M1345,684h.1 M1336,679h.1 M1336,675h.1 M1323,755h.1 M1318,758h.1 M1316,758h.1 M1315,758h.1 M1319,759h.1 M1320,758h.1 M1323,759h.1 M1229,795h.1 M1228,799h.1 M1232,798h.1 M1385,823h.1 M1397,830h.1 M1388,834h.1 M1400,833h.1 M1396,841h.1 M1404,838h.1 M1400,827h.1 M1408,838h.1 M1395,836h.1 M1403,846h.1 M1401,830h.1 M1395,840h.1 M1386,826h.1 M1391,836h.1 M1395,835h.1 M1385,830h.1 M1393,826h.1 M1391,833h.1 M1410,834h.1 M1408,831h.1 M1396,840h.1 M1394,836h.1 M1388,830h.1 M1399,824h.1 M1392,828h.1 M1401,833h.1 M1405,835h.1 M1400,823h.1 M1391,846h.1 M1399,837h.1 M1323,851h.1 M1328,855h.1 M1327,856h.1 M1326,852h.1 M1232,989h.1 M1236,994h.1 M1205,970h.1 M1203,971h.1 M1492,946h.1 M1500,943h.1 M1488,949h.1 M1499,952h.1 M1491,950h.1 M1499,944h.1 M1518,1003h.1 M1505,1012h.1 M1516,1013h.1 M1517,1000h.1 M1522,1010h.1 M1521,1010h.1 M1509,1018h.1 M1514,1019h.1 M1519,1003h.1 M1509,1010h.1 M1519,1008h.1 M1513,1014h.1 M1509,1011h.1 M1484,1024h.1 M1480,1040h.1 M1477,1039h.1 M1485,1034h.1 M1479,1046h.1 M1479,1037h.1 M1561,1093h.1 M1562,1078h.1 M1565,1094h.1 M1564,1079h.1 M1565,1109h.1 M1562,1095h.1 M1566,1089h.1 M1564,1078h.1 M1563,1088h.1 M1564,1083h.1 M1564,1098h.1 M1568,1087h.1 M1497,767h.1 M1504,771h.1 M1494,763h.1 M1494,764h.1 M1495,765h.1 M1502,773h.1 M1495,773h.1 M1497,772h.1 M1493,767h.1 M1490,768h.1 M1486,764h.1 M1550,737h.1 M1548,737h.1 M1551,744h.1 M1550,738h.1 M1542,741h.1 M1554,739h.1 M1518,727h.1 M1516,734h.1 M1513,739h.1 M1610,686h.1 M1611,687h.1 M1604,687h.1 M1614,683h.1 M1611,693h.1 M1579,664h.1 M1575,662h.1 M1574,674h.1 M1572,673h.1 M1574,669h.1 M1573,609h.1 M1574,618h.1 M1584,619h.1 M1572,617h.1 M1579,626h.1 M1579,611h.1 M1575,628h.1 M1577,627h.1 M1568,613h.1 M1572,618h.1 M1573,618h.1 M1578,621h.1 M1583,599h.1 M1587,592h.1 M1574,597h.1 M1582,601h.1 M1583,608h.1 M1617,574h.1 M1618,567h.1 M1615,575h.1 M1618,578h.1 M1626,566h.1 M1626,564h.1 M1611,564h.1 M1611,565h.1 M1611,561h.1 M1614,565h.1 M1610,568h.1 M1624,569h.1 M1612,572h.1 M1612,571h.1 M1614,568h.1 M1657,545h.1 M1650,530h.1 M1643,550h.1 M1633,530h.1 M1620,532h.1 M1624,541h.1 M1646,549h.1 M1632,532h.1 M1654,544h.1 M1640,544h.1 M1652,535h.1 M1644,545h.1 M1631,534h.1 M1635,540h.1 M1631,524h.1 M1632,535h.1 M1632,537h.1 M1644,539h.1 M1650,546h.1 M1627,530h.1 M1658,544h.1 M1629,554h.1 M1624,541h.1 M1638,534h.1 M1625,530h.1 M1627,539h.1 M1630,536h.1 M1643,528h.1 M1648,533h.1 M1641,548h.1 M1627,533h.1 M1620,527h.1 M1639,530h.1 M1631,542h.1 M1629,524h.1 M1638,536h.1 M1662,531h.1 M1661,533h.1 M1672,530h.1 M1666,527h.1 M1659,529h.1 M1662,526h.1 M1672,527h.1 M1670,512h.1 M1664,506h.1 M1651,510h.1 M1662,507h.1 M1659,516h.1 M1669,507h.1 M1667,506h.1 M1660,507h.1 M1664,512h.1 M1668,488h.1 M1662,496h.1 M1666,487h.1 M1671,493h.1 M1669,489h.1 M1663,489h.1 M1696,482h.1 M1704,481h.1 M1699,482h.1 M1706,461h.1 M1702,453h.1 M1689,457h.1 M1698,447h.1 M1699,461h.1 M1699,462h.1 M1698,461h.1 M1697,463h.1 M1691,465h.1 M1709,458h.1 M1704,457h.1 M1700,473h.1 M1700,463h.1 M1706,462h.1 M1700,468h.1 M1703,453h.1 M1629,466h.1 M1633,470h.1 M1631,467h.1 M1569,465h.1 M1567,464h.1 M1534,470h.1 M1532,474h.1 M1530,472h.1 M1601,546h.1 M1603,550h.1 M1606,547h.1 M1605,553h.1 M1606,548h.1 M1570,574h.1 M1375,618h.1 M1383,553h.1 M1383,547h.1 M1385,550h.1 M1329,511h.1 M1328,505h.1 M1327,510h.1 M1320,508h.1 M1326,505h.1 M1327,503h.1 M1454,785h.1 M1490,814h.1 M1495,809h.1 M1536,848h.1 M1398,751h.1 M1397,754h.1 M1406,752h.1 M1406,755h.1 M1398,762h.1 M1364,795h.1 M1366,789h.1 M1298,959h.1 M1298,963h.1 M1299,954h.1 M1227,899h.1 M1233,902h.1 M1227,900h.1 M1162,819h.1 M1166,818h.1 M1161,822h.1 M1120,903h.1 M1116,903h.1 M532,444h.1 M531,443h.1 M536,295h.1 M538,297h.1 M538,297h.1 M537,292h.1 M382,660h.1 M381,669h.1 M380,663h.1 M989,1125h.1 M988,1126h.1 M989,1131h.1 M993,1125h.1 M986,1128h.1" fill="none" stroke="#ffee00" stroke-width="2.4" stroke-linecap="round"/>
<clipPath id="akc"><rect x="117.3" y="985.7" width="592.0" height="392.89999999999986"/></clipPath>
<g clip-path="url(#akc)"><rect x="117.3" y="985.7" width="592.0" height="392.89999999999986" fill="#93c4e0"/>
<path d="M625.3,1097.2 520.5,1234.2 532.8,1244.4 529.7,1253.8 531.2,1270.9 545.3,1272.5 554.7,1272.5 555.5,1291.2 554.7,1306.9 556.2,1338.1 562.5,1356.9 560.9,1364.7 550.0,1375.6 550.0,1383.6 714.3,1383.6 713.5,1147.6 709.0,1144.5 705.9,1132.4 698.4,1126.4 683.2,1130.9 668.1,1129.4 653.0,1127.9 639.3,1123.3 636.3,1105.2Z" fill="#5e8770"/>
<path d="M506.6,986.2 512.0,987.8 517.5,993.8 526.1,996.9 536.2,994.8 546.4,995.6 555.0,1000.0 564.4,1003.1 573.8,1006.9 580.8,1009.7 583.9,1017.5 585.5,1026.9 588.6,1036.2 587.8,1045.6 594.1,1051.1 601.1,1059.7 607.3,1071.4 614.4,1078.4 620.9,1083.9 625.3,1097.2 520.5,1234.2 532.8,1244.4 529.7,1253.8 531.2,1270.9 545.3,1272.5 554.7,1272.5 555.5,1291.2 554.7,1306.9 556.2,1338.1 562.5,1356.9 560.9,1364.7 550.0,1375.6 545.3,1376.4 535.9,1372.5 526.6,1366.2 525.0,1353.8 523.4,1335.0 523.4,1314.7 525.0,1299.1 526.6,1283.4 523.4,1267.8 518.8,1252.2 514.1,1241.2 506.2,1228.8 496.9,1219.4 493.8,1213.1 492.2,1205.3 489.1,1197.5 515.9,1207.3 512.8,1200.3 506.6,1198.8 500.3,1205.0 494.1,1209.7 495.6,1198.8 492.5,1190.9 487.8,1201.9 478.4,1205.0 470.6,1198.8 474.5,1186.2 471.4,1181.6 465.9,1187.8 459.7,1190.2 448.8,1188.1 439.4,1188.6 433.9,1184.7 437.8,1180.0 442.5,1175.3 448.8,1171.4 455.0,1168.3 461.2,1169.8 467.5,1172.2 476.1,1169.8 478.4,1161.2 467.5,1162.0 455.0,1164.4 448.8,1165.9 439.4,1164.4 426.9,1165.9 420.6,1167.5 417.5,1175.3 405.0,1178.4 392.5,1176.9 376.9,1175.3 361.2,1172.2 345.6,1167.5 330.0,1164.4 322.8,1158.4 316.6,1154.5 310.3,1149.1 304.1,1143.1 308.8,1141.2 316.6,1142.8 322.8,1144.4 330.6,1150.6 336.9,1153.1 346.2,1155.0 358.8,1158.8 371.2,1161.6 380.6,1156.1 388.4,1151.4 405.6,1149.1 405.0,1148.8 392.5,1145.6 383.1,1142.5 381.6,1136.2 378.4,1125.3 370.6,1120.6 365.9,1114.4 370.6,1112.8 376.9,1109.7 387.8,1097.2 381.6,1095.6 375.3,1089.4 376.9,1081.6 381.6,1073.8 389.4,1067.5 392.5,1058.1 398.8,1051.9 408.1,1051.1 417.5,1051.9 423.8,1051.1 430.0,1053.4 437.8,1058.1 439.4,1062.8 445.6,1069.1 453.4,1067.5 459.7,1061.2 464.4,1053.4 455.0,1048.8 453.4,1042.5 444.1,1037.8 442.5,1025.3 448.8,1015.9 451.1,1003.4 459.7,1006.6 467.5,1011.2 475.3,1013.6 482.3,1019.8 476.9,1026.9 480.0,1037.8 486.2,1040.2 490.9,1045.6 497.2,1042.5 490.9,1026.9 492.5,1017.5 497.2,1011.2 499.5,998.8 501.9,989.4Z" fill="#fff" stroke="#000" stroke-width="1.5" stroke-linejoin="round"/>
<path d="M625.3,1097.2L520.5,1234.2" stroke="#111" stroke-width="0.9"/>
<path d="M401.7,994.4 407.2,993.6 408.8,1000.6 410.3,1008.4 411.1,1017.8 407.2,1018.6 404.1,1014.7 401.7,1015.5 403.3,1008.4 402.5,1000.6Z" fill="#fff" stroke="#000" stroke-width="1.1" stroke-linejoin="round"/>
<path d="M365.0,1056.9 368.9,1058.4 372.8,1064.7 374.4,1069.4 371.2,1072.5 366.6,1073.3 363.4,1070.2 363.4,1061.6Z" fill="#fff" stroke="#000" stroke-width="1.1" stroke-linejoin="round"/>
<path d="M285.3,1131.1 291.6,1129.5 296.2,1131.9 300.2,1135.8 300.9,1141.2 296.2,1141.2 291.6,1137.3 286.1,1135.0Z" fill="#fff" stroke="#000" stroke-width="1.1" stroke-linejoin="round"/>
<path d="M379.1,1194.4 386.9,1188.1 390.0,1184.2 402.5,1183.4 411.9,1186.6 421.2,1185.0 419.7,1191.2 411.9,1194.4 407.2,1201.4 399.4,1199.1 390.0,1199.8 383.8,1198.3Z" fill="#fff" stroke="#000" stroke-width="1.1" stroke-linejoin="round"/>
<path d="M162.7,987.3 161.9,992.8 161.6,998.3 M172.5,996.2 173.1,997.5 M165.0,1013.9 171.2,1016.2 175.9,1018.6 M177.5,1021.7 180.6,1030.3 184.5,1035.8 188.4,1041.2 192.3,1045.9 M194.7,1049.1 198.6,1055.3 202.5,1061.6 204.1,1067.8 205.3,1072.5 M210.6,1076.4 211.9,1077.5 M219.4,1087.8 221.2,1088.4 M223.6,1092.0 226.2,1092.8 M230.6,1096.7 234.5,1099.1 237.2,1098.8 M235.3,1106.1 240.0,1107.7 244.7,1108.4 M247.8,1110.0 253.3,1110.8 256.4,1116.2 260.3,1120.2 M262.7,1118.6 267.3,1120.9 271.2,1124.1 276.7,1128.0 281.4,1134.2 M349.4,1006.9 347.5,1011.9 344.4,1015.0 M302.2,1058.1 303.4,1059.7 M295.0,1069.1 296.2,1070.3 M297.0,1150.6 298.1,1154.5 M319.7,1158.4 322.8,1164.7 325.2,1170.9 324.4,1176.4 M328.3,1164.7 325.9,1169.4 M358.8,1181.9 360.0,1184.2 M361.1,1195.2 362.3,1196.2 M375.9,1195.2 380.6,1199.8" fill="none" stroke="#000" stroke-width="2.6" stroke-linecap="round" stroke-linejoin="round"/>
<path d="M243.1,1108.4 245.5,1109.2 M249.7,1110.3 252.2,1110.9 M263.4,1119.1 265.8,1120.3 M201.7,1060.0 204.1,1062.3" fill="none" stroke="#fff" stroke-width="1.3" stroke-linecap="round"/>
<path d="M528.7,1359.9 528.6,1363.4 M554.2,1282.2 550.9,1279.5 M550.6,1300.0 548.7,1298.7 547.8,1300.6 M545.0,1308.2 545.7,1311.5 545.2,1313.5 547.1,1310.3 545.5,1308.3 M528.2,1306.8 531.6,1306.2 535.1,1305.5 537.2,1304.1 536.2,1308.9 M542.9,1369.5 541.2,1368.4 541.4,1372.8 M544.9,1345.0 544.7,1342.7 543.5,1340.8 545.8,1344.6 543.0,1347.7 M541.8,1304.3 539.1,1302.6 540.8,1305.6 545.1,1305.2 540.6,1304.0 M532.5,1325.5 529.6,1329.3 527.6,1326.0 527.2,1322.9 530.2,1319.1 M528.5,1352.7 526.5,1353.6 529.1,1350.9 M531.2,1324.5 532.5,1321.6 536.1,1321.6 536.8,1318.7 M546.9,1355.5 548.5,1358.8 551.3,1355.5 552.6,1351.2 552.5,1355.7 M549.7,1281.1 545.7,1282.3 545.1,1285.1 M554.6,1291.5 552.1,1291.1 551.5,1295.2 M541.2,1305.7 543.4,1307.6 541.0,1311.3 540.8,1314.0 M552.0,1373.2 548.6,1374.4 M540.1,1358.3 541.2,1354.9 541.8,1358.8 538.9,1361.1 537.2,1364.6 M525.7,1303.3 527.8,1301.2 529.7,1299.0 M539.7,1298.5 535.5,1296.8 533.2,1295.4 M555.8,1362.2 554.3,1360.7 555.0,1362.9 550.8,1360.8 547.8,1358.9 M543.1,1274.3 545.7,1274.6 543.4,1279.0 544.0,1276.0 M531.8,1342.1 534.5,1340.8 537.5,1338.1 532.6,1338.5 M532.6,1347.3 534.3,1349.2 531.6,1348.5 M536.4,1324.7 534.4,1326.9 533.2,1331.3 529.3,1328.4 M545.0,1283.3 542.4,1285.0 544.8,1284.9 M528.3,1284.3 528.9,1281.3 531.4,1282.6 534.2,1280.3 M534.3,1353.7 538.3,1354.0 540.2,1355.3 541.8,1353.8 M539.9,1284.4 538.8,1282.2 540.7,1279.4 M561.1,1355.7 561.0,1359.1 M546.7,1318.9 545.0,1320.2 543.4,1323.7 540.8,1324.4 M554.1,1352.7 556.4,1350.2 554.8,1352.2 555.5,1354.7 552.7,1358.1 M526.9,1350.2 524.7,1347.0 527.6,1345.8 M535.4,1306.2 536.4,1302.6 538.8,1301.3 541.9,1303.6 M532.0,1355.9 535.3,1357.5 537.3,1358.4 535.4,1356.3 M554.4,1323.4 552.7,1326.5 M549.4,1291.0 553.9,1290.6 552.9,1292.7 M543.5,1367.3 545.4,1369.2 541.4,1368.0 542.2,1363.6 M547.8,1341.8 550.1,1338.3 549.1,1335.9 546.9,1336.9 546.0,1333.0 M533.3,1279.1 534.6,1275.7 531.6,1276.7 M536.7,1299.1 537.9,1294.5 540.0,1294.2 M550.5,1332.3 552.4,1334.3 553.9,1331.5 550.8,1333.7 551.0,1335.7 M544.1,1324.2 548.3,1321.9 546.6,1319.8 545.0,1323.6 549.0,1322.4 M536.6,1335.5 539.1,1334.1 537.8,1332.4 540.9,1334.0 542.7,1332.2 M553.4,1363.6 552.5,1366.3 550.1,1365.5 549.1,1362.3 M547.1,1325.5 548.3,1328.0 549.1,1331.6 549.2,1329.4 M550.1,1346.5 546.7,1349.5 541.9,1348.1 539.6,1347.8 M533.4,1282.9 537.6,1280.4 540.3,1283.7 542.5,1280.4 541.5,1277.2 M538.4,1355.3 534.6,1358.1 531.0,1359.6 528.4,1359.8 M540.3,1327.6 538.8,1325.2 536.1,1327.7 M546.1,1275.7 546.2,1278.5 547.3,1280.6 548.2,1283.4 548.4,1278.9 M540.9,1361.3 537.5,1360.3 540.2,1356.9 M545.7,1312.0 547.5,1307.6 551.1,1308.2 554.0,1308.4 M549.8,1347.2 552.1,1349.8 549.4,1348.6 546.3,1348.5 544.4,1348.1 M540.7,1318.9 537.8,1318.1 537.3,1314.4 541.0,1317.5 M538.4,1329.9 535.6,1326.8 535.3,1322.6 536.8,1327.1 M546.9,1325.8 545.7,1321.0 544.8,1317.8 543.5,1315.5 539.5,1314.9 M546.1,1372.6 548.5,1369.7 548.0,1365.0 548.0,1361.5 M552.6,1338.5 552.0,1340.5 551.6,1338.1 552.2,1335.0 551.9,1337.5 M526.3,1352.5 525.1,1348.1 M544.7,1288.2 541.3,1288.5 544.7,1289.5 544.6,1286.2 M537.3,1340.2 539.4,1343.8 540.6,1345.7 M548.3,1300.9 549.0,1303.5 551.1,1301.6 555.1,1303.7 M543.9,1310.5 541.9,1309.7 540.6,1313.7 544.3,1313.6 541.7,1317.0 M538.8,1313.7 539.9,1309.3 538.6,1311.6 542.6,1310.7 M535.8,1317.0 536.4,1314.5 534.6,1312.7 M559.1,1347.6 557.9,1350.6 M528.0,1293.8 527.2,1295.9 529.2,1297.4 532.8,1298.7 M524.8,1345.1 528.5,1344.2 526.1,1348.0 529.1,1350.8 531.7,1352.6 M542.8,1311.5 545.4,1311.0 544.7,1314.6 M538.7,1319.1 536.8,1322.4 541.0,1319.7 545.2,1321.0 M538.4,1332.3 534.7,1335.1 534.8,1332.6 M529.1,1341.1 526.6,1340.0 530.0,1341.9 M535.3,1274.0 539.5,1275.7 542.2,1276.4 543.9,1278.0 547.7,1278.6 M552.5,1343.3 550.9,1340.6 547.5,1337.0 M548.5,1297.6 544.8,1295.3 546.3,1298.2 M550.7,1338.3 553.7,1336.3 549.7,1335.3 M544.4,1367.4 543.4,1363.2 542.7,1359.1 M529.3,1367.2 530.6,1365.5 534.4,1367.9 531.3,1368.5 M544.2,1318.2 547.6,1315.6 550.3,1313.6 M552.2,1300.3 552.9,1298.2 552.6,1295.3 M528.5,1354.4 530.3,1352.1 527.9,1353.4 M545.2,1306.5 542.0,1306.4 544.8,1304.3 547.8,1307.5 M543.9,1330.1 542.8,1326.7 546.4,1324.0 545.8,1326.3 543.3,1328.9 M527.2,1308.1 529.9,1309.3 531.0,1305.8 528.4,1307.3 527.8,1311.5 M543.8,1273.4 546.6,1277.2 545.2,1279.9 M542.2,1366.6 546.5,1365.8 550.8,1363.6 551.6,1361.4 547.9,1360.8 M550.9,1349.5 555.3,1349.2 553.3,1351.4 550.8,1349.6 M543.3,1275.5 545.4,1274.1 541.8,1276.3 M544.8,1299.9 545.4,1302.0 541.8,1300.3 M556.8,1354.4 555.3,1352.4 556.6,1350.9 M537.8,1359.9 538.8,1357.4 539.8,1360.7 542.0,1359.1 539.0,1360.0 M542.3,1280.0 540.6,1281.1 537.5,1280.5 539.1,1278.9 M547.5,1325.1 545.7,1324.0 547.7,1321.3 548.7,1324.0 548.0,1322.1 M528.1,1303.7 526.4,1307.7 525.7,1310.8 530.2,1309.1 M543.7,1334.7 542.6,1337.4 538.9,1337.2 534.2,1335.7 536.2,1339.0 M545.5,1310.5 544.8,1314.4 544.8,1312.3 546.7,1313.6 M534.1,1353.1 534.0,1349.7 532.3,1352.5 534.6,1354.6 532.8,1355.6 M530.2,1299.3 527.7,1297.8 530.5,1297.8 M543.5,1348.8 543.1,1351.7 545.3,1350.4 547.7,1346.1 545.0,1348.0 M526.0,1293.8 526.2,1295.8 526.2,1299.3 M551.7,1358.5 547.3,1360.7 549.8,1361.5 M539.9,1277.4 542.2,1276.9 539.1,1275.8 538.0,1273.8 537.7,1276.6 M542.2,1354.3 543.1,1350.4 545.8,1352.0 M549.6,1302.8 546.4,1302.9 543.7,1300.8 546.0,1303.9 545.2,1301.5 M533.5,1349.1 532.7,1352.5 535.5,1350.3 536.5,1354.5 534.7,1357.4 M549.1,1368.0 548.7,1371.6 544.7,1373.1 546.2,1370.9 M539.5,1285.9 536.3,1288.1 538.1,1286.8 M542.2,1304.0 542.9,1307.1 539.9,1307.6 537.9,1306.0 M557.8,1344.1 555.4,1343.7 555.8,1338.7 556.7,1342.5 M542.2,1284.7 541.4,1282.2 538.4,1278.8 M528.0,1330.6 523.7,1328.7 526.6,1329.0 524.9,1327.5 M532.2,1342.7 531.7,1346.8 530.0,1348.4 528.7,1350.4 M545.9,1308.3 545.5,1306.0 544.3,1308.6 M528.9,1313.7 527.1,1311.6 525.9,1309.0 528.8,1308.1 M554.8,1338.6 551.2,1335.8 547.9,1338.0 M547.7,1326.9 543.5,1329.3 542.7,1331.8 541.9,1334.1 540.0,1332.7 M532.8,1365.0 530.2,1364.2 529.7,1367.8 M527.5,1311.0 530.5,1310.6 526.4,1309.1 M546.1,1342.3 541.7,1342.7 542.0,1339.6 M534.9,1288.5 536.5,1285.8 538.9,1285.4 537.7,1289.3 M548.4,1370.8 552.9,1369.4 551.0,1366.9 546.7,1365.2 542.5,1366.3 M546.8,1316.0 543.6,1318.1 546.8,1319.2 550.8,1320.2 M527.8,1286.9 528.5,1283.3 531.5,1282.7 M525.0,1345.1 527.2,1343.0 524.5,1338.9 524.8,1336.7 M540.4,1311.3 540.5,1308.3 541.3,1305.7 539.4,1304.1 M536.8,1284.2 538.6,1287.7 535.6,1287.9 534.4,1283.1 539.0,1283.8 M538.4,1358.5 536.3,1360.1 536.3,1365.0 M536.3,1297.8 533.0,1298.6 528.7,1298.8 528.2,1296.3 M545.8,1368.1 547.6,1370.6 549.2,1371.9 M526.4,1291.4 525.8,1293.8 530.2,1293.0 M538.9,1337.9 539.6,1335.3 538.0,1330.6 535.3,1329.8 533.1,1331.0 M530.4,1340.8 531.2,1336.1 533.6,1335.4 M546.3,1325.4 546.5,1327.5 543.9,1327.3 540.1,1327.2 M539.0,1320.4 537.0,1318.0 533.4,1316.5 528.5,1317.2 528.6,1319.2 M534.3,1315.4 536.8,1318.1 538.8,1314.3 535.5,1310.5 536.7,1307.0 M550.7,1344.5 547.9,1344.6 550.4,1343.4 M534.4,1290.6 531.3,1287.7 530.1,1289.7 530.0,1292.8 529.4,1296.1 M529.3,1285.9 529.6,1288.1 M532.8,1286.9 530.8,1288.5 529.2,1286.9 529.7,1284.8 M552.6,1312.0 555.1,1314.8 553.4,1311.6 555.0,1313.6 M551.5,1313.5 552.9,1311.2 552.2,1308.2 550.0,1307.7 551.2,1305.4 M541.5,1302.4 538.3,1300.3 538.4,1297.6 542.6,1299.2 540.8,1303.2 M527.5,1360.6 531.7,1358.0 532.8,1362.7 M549.3,1325.9 545.6,1323.9 544.7,1319.6 548.4,1319.2 546.5,1316.1 M539.9,1300.5 537.7,1296.6 538.5,1298.5 M552.9,1322.9 554.5,1319.6 M525.1,1316.1 526.0,1318.4 523.7,1320.5 M532.5,1340.4 536.8,1339.9 541.2,1341.8 536.8,1342.9 537.9,1345.1 M525.1,1324.2 526.4,1319.8 524.5,1317.3 527.3,1315.4 M540.1,1333.2 541.2,1329.6 536.5,1327.9 540.0,1329.4 M554.3,1309.7 552.2,1308.7 550.4,1307.7 M537.8,1329.3 536.3,1330.9 538.1,1329.6 535.2,1328.8 538.4,1327.1 M537.5,1287.6 538.9,1289.4 537.5,1292.7 539.6,1288.2 541.9,1285.1 M548.1,1357.1 548.2,1353.9 547.2,1358.1 550.8,1360.2 M539.6,1285.5 539.2,1282.8 539.9,1285.5 535.7,1286.0 534.2,1290.4 M561.6,1357.3 558.7,1356.3 557.7,1359.7 M554.7,1276.3 552.5,1277.6 548.6,1276.1 M544.0,1291.5 544.4,1295.3 547.9,1294.7 M551.6,1319.8 549.5,1322.3 552.9,1320.6 M537.3,1368.0 542.2,1368.2 544.9,1368.8 543.0,1368.1 543.2,1365.9 M544.1,1294.1 544.2,1297.6 542.0,1301.9 545.4,1303.6 M530.8,1336.8 527.7,1338.3 529.7,1338.6 532.8,1341.0 530.3,1336.8 M540.3,1345.5 538.2,1348.8 539.4,1352.2 534.9,1352.3 M547.2,1340.6 549.5,1337.6 549.2,1332.9 549.6,1329.1 551.0,1331.5 M553.3,1313.4 553.1,1316.3 551.5,1315.0 546.9,1316.2 547.3,1319.5 M550.8,1367.9 553.2,1367.8 554.6,1366.1 557.0,1364.7 M544.6,1278.1 547.6,1278.4 543.9,1276.0 545.7,1274.1 M528.5,1343.7 526.3,1342.0 530.3,1341.1 532.1,1345.0 M543.1,1331.7 542.1,1334.7 546.5,1332.5 548.2,1328.2 M532.5,1276.9 530.6,1274.9 M552.5,1363.2 551.5,1359.2 549.2,1360.1 M540.5,1307.8 535.7,1308.1 538.7,1310.6 540.2,1306.9 536.1,1308.8 M552.8,1338.4 548.2,1338.3 548.2,1334.1 M538.0,1296.3 535.1,1294.3 536.6,1296.7 M532.0,1341.8 531.4,1337.3 533.3,1338.1 530.4,1337.4 M531.7,1293.1 528.6,1291.4 530.5,1289.7 528.8,1291.1 M524.8,1306.2 527.4,1306.4 524.6,1303.1 M532.0,1290.7 534.7,1291.8 534.4,1289.6 M540.7,1296.3 540.1,1299.3 537.2,1297.5 538.3,1293.6 540.2,1295.4 M552.6,1284.5 553.1,1287.3 553.1,1290.5 553.1,1292.6 553.1,1295.2 M537.1,1319.3 539.2,1317.0 538.2,1315.0 542.3,1313.1 539.3,1313.3 M530.4,1339.4 534.4,1341.4 537.1,1339.0 M552.9,1310.7 551.0,1312.9 554.4,1312.0 552.4,1314.1 M535.2,1285.6 534.7,1283.2 530.9,1284.2 532.4,1285.9 530.3,1284.1 M548.6,1290.2 547.4,1293.2 543.0,1291.8 546.9,1289.5 M550.2,1279.6 548.1,1279.9 552.7,1281.3 M548.8,1348.3 544.2,1348.1 546.9,1344.7 544.1,1341.9 M536.8,1284.9 539.6,1285.5 535.9,1282.3 536.5,1284.9 M539.2,1309.6 539.5,1312.5 537.2,1311.4 M543.2,1300.0 543.6,1302.9 538.9,1302.6 M544.5,1365.7 545.6,1361.2 542.3,1362.5 544.2,1366.7 545.7,1370.9 M534.3,1296.1 536.0,1298.1 537.6,1300.7 M525.4,1309.7 525.7,1313.7 526.5,1317.0 524.4,1313.8 526.4,1317.3 M556.1,1345.4 557.0,1350.0 552.6,1348.5 M537.1,1322.8 535.3,1326.7 530.8,1324.6 527.1,1321.8 524.0,1320.2 M539.7,1279.9 543.6,1279.7 541.4,1284.1 M533.7,1356.8 536.8,1355.8 539.3,1356.0 538.7,1358.3 M540.3,1335.7 537.8,1338.8 534.4,1337.3 531.3,1334.8 M536.0,1308.8 533.4,1312.1 532.6,1309.7 535.0,1309.4 M542.2,1344.5 541.9,1341.7 541.8,1339.6 M543.2,1331.3 541.6,1334.4 543.6,1338.0 541.0,1339.9 540.3,1335.5 M541.0,1333.7 545.0,1335.0 546.4,1332.0 544.9,1328.4 M535.3,1281.6 536.1,1283.9 538.0,1283.0 536.1,1285.2 M555.0,1331.2 553.0,1328.2 M528.3,1299.5 527.0,1301.8 530.3,1299.7 M535.5,1329.7 532.0,1330.4 530.7,1333.7 527.8,1333.5 M549.7,1342.9 552.0,1345.0 549.7,1341.5 547.2,1339.3 M540.8,1291.3 537.0,1290.7 532.9,1288.2 530.0,1286.4 M534.8,1308.5 536.3,1306.1 537.8,1304.7 M525.8,1341.8 526.4,1346.3 528.1,1347.6 M541.6,1324.8 537.9,1327.5 540.7,1324.9 M535.9,1308.6 533.9,1306.9 534.9,1304.4 M541.2,1363.0 540.1,1359.8 535.4,1361.3 M545.3,1369.2 548.8,1369.5 544.8,1370.9 M535.7,1350.2 537.7,1351.6 539.0,1353.6 M528.3,1305.4 531.8,1304.3 529.0,1301.1 527.4,1304.5 M541.5,1322.5 543.6,1318.2 545.4,1321.4 548.5,1317.6 M525.5,1305.6 525.6,1302.6 528.5,1301.5 526.0,1304.4 M554.2,1360.5 556.6,1358.9 559.8,1358.8 560.1,1356.8 M548.9,1372.4 545.4,1369.7 546.9,1367.5 550.4,1369.0 M538.5,1345.8 540.1,1346.9 537.5,1350.5 539.7,1349.8 M554.3,1356.9 554.4,1354.4 551.0,1355.8 M548.4,1344.8 550.8,1343.8 553.5,1348.0 556.1,1352.1 M528.1,1332.8 524.0,1334.7 M550.0,1333.8 548.4,1335.8 548.8,1339.3 M542.5,1367.6 544.8,1370.2 547.4,1370.1 M551.1,1301.4 549.9,1303.2 546.3,1303.7 549.5,1301.0 550.8,1305.6 M530.8,1354.7 532.8,1352.5 528.3,1354.1 M546.0,1345.7 544.8,1343.6 542.7,1345.8 542.7,1342.6 M537.8,1329.1 538.6,1331.4 538.8,1334.1 M538.8,1353.4 536.8,1352.5 538.6,1348.4 541.9,1348.6 M554.1,1315.3 552.8,1311.6 M546.3,1277.4 549.6,1280.8 548.1,1282.5 551.5,1285.6 M548.3,1285.3 549.3,1282.4 550.5,1284.1 M548.4,1322.3 545.3,1323.8 543.4,1322.4 539.5,1321.4 543.2,1320.1 M544.7,1314.8 541.4,1317.9 540.5,1320.0 541.4,1323.7 540.7,1321.5 M537.3,1363.6 540.3,1366.1 543.4,1368.0 M535.4,1335.5 532.8,1336.8 530.1,1333.9 534.7,1334.8 532.1,1335.1 M559.0,1362.1 556.9,1362.9 552.7,1362.6 550.0,1363.7 M546.5,1305.6 542.6,1308.5 540.8,1303.9 537.8,1302.7 537.9,1300.1 M542.7,1357.2 544.0,1354.7 546.3,1351.0 M544.6,1303.7 542.2,1303.7 540.1,1304.3 M541.8,1331.3 539.5,1330.6 543.1,1330.1 543.5,1326.3 M526.0,1320.1 523.4,1316.8 M539.1,1282.6 536.0,1280.2 534.2,1275.8 530.6,1277.0 M544.1,1333.2 546.5,1333.9 543.3,1331.0 545.9,1333.4 546.0,1330.8 M544.3,1296.0 546.9,1297.6 545.5,1294.2 M533.9,1286.4 534.7,1284.3 532.9,1283.1 536.2,1282.9 540.6,1282.0 M539.9,1359.2 541.6,1363.1 545.4,1364.0 M555.6,1316.8 553.7,1319.2 554.4,1316.6 M531.9,1299.1 535.1,1296.5 532.6,1298.8 532.1,1294.0 529.5,1291.8 M533.7,1354.3 538.4,1354.2 539.6,1350.3 538.1,1351.7 M553.4,1319.6 550.6,1315.9 M550.8,1317.5 549.4,1319.9 547.1,1320.0 543.0,1320.1 546.6,1318.7 M547.8,1313.8 548.9,1312.0 545.2,1314.7 543.3,1315.7 M538.6,1316.8 539.5,1319.5 537.2,1318.0 M554.0,1288.3 551.3,1287.6 549.4,1284.1 545.5,1282.5 548.1,1284.3 M533.8,1282.3 534.8,1279.2 536.9,1278.8 M546.2,1285.9 549.6,1285.3 551.1,1283.0 549.2,1284.2 M549.7,1365.4 549.1,1367.5 549.4,1365.3 M555.8,1332.8 554.5,1336.2 551.2,1333.0 552.7,1331.1 M548.0,1362.9 546.7,1365.3 546.7,1369.6 M535.4,1327.8 534.7,1329.7 530.2,1330.3 530.7,1327.9 530.8,1330.4 M533.6,1293.4 535.5,1288.9 536.8,1284.6 M526.3,1312.3 526.8,1314.4 527.8,1318.6 526.9,1315.8 527.6,1319.7 M543.4,1354.4 542.3,1356.3 543.3,1354.2 539.0,1355.2 M541.3,1334.5 537.8,1335.4 538.8,1338.0 M531.8,1335.0 531.5,1338.1 531.0,1340.1 535.4,1340.4 M526.4,1319.1 529.5,1321.8 531.1,1323.1 529.5,1321.3 M546.7,1363.7 542.8,1365.2 538.7,1363.6 M530.2,1327.4 530.5,1329.5 532.6,1327.4 M546.0,1325.9 546.7,1327.8 546.1,1330.5 541.7,1329.3 M544.1,1327.5 547.8,1329.8 545.6,1328.8 542.9,1326.4 M543.6,1359.8 544.3,1362.9 547.3,1360.0 M546.6,1358.3 547.2,1356.3 543.8,1355.0 M544.7,1333.5 546.1,1337.4 550.7,1336.2 M524.3,1331.2 526.4,1329.5 M531.7,1289.5 534.2,1285.6 538.6,1286.0 539.7,1284.2 536.8,1282.4 M530.3,1356.9 526.4,1357.7 530.0,1360.6 527.7,1362.1 530.2,1364.6 M542.7,1340.6 544.3,1337.2 546.1,1334.5 549.0,1333.4 M538.2,1336.5 540.1,1340.7 538.0,1338.5 M542.7,1373.4 545.9,1371.1 546.3,1366.3 542.9,1367.3 M534.2,1333.3 535.6,1331.3 537.6,1334.8 536.7,1330.7 533.6,1330.9 M534.6,1275.1 533.0,1278.2 534.2,1280.8 M526.6,1319.5 523.8,1316.2 M556.0,1330.5 555.7,1333.0 551.6,1333.6 M536.6,1319.4 537.0,1324.3 534.4,1328.0 534.0,1326.0 M543.4,1313.1 543.8,1316.3 544.7,1318.1 M544.5,1336.4 547.6,1337.2 548.7,1334.7 M543.7,1371.4 545.7,1368.1 545.0,1365.0 M543.4,1300.5 541.5,1299.7 537.4,1300.4 533.3,1302.7 M529.7,1328.5 529.2,1324.7 528.8,1327.9 524.0,1328.5 527.1,1327.2 M539.0,1311.3 536.7,1314.2 539.8,1311.5 M532.2,1274.6 536.0,1276.4 533.8,1278.2 534.3,1274.4 531.8,1274.6 M542.3,1295.1 540.4,1296.8 543.5,1298.9 M549.0,1353.5 548.5,1357.0 551.5,1354.5 M537.3,1317.7 541.0,1314.9 544.0,1313.7 547.8,1315.9 M540.7,1308.5 536.4,1310.5 536.3,1306.8 538.1,1311.0 M536.3,1308.8 539.8,1310.3 543.5,1309.7 545.9,1309.2 M551.5,1359.3 548.2,1358.6 547.3,1355.6" fill="none" stroke="#000" stroke-width="1.7" stroke-linecap="round" stroke-linejoin="round"/>
<path d="M485.2,1204.8 489.1,1204.8 490.6,1200.5 M482.3,1196.0 477.6,1195.9 479.7,1193.7 484.0,1191.7 M472.1,1187.8 475.0,1188.2 477.3,1190.9 M490.8,1211.3 491.6,1208.3 493.9,1211.9 M488.4,1199.8 488.4,1202.6 484.9,1202.7 486.0,1198.8 481.5,1200.2 M483.7,1199.6 484.3,1202.5 483.5,1200.1 485.8,1198.6 488.3,1197.0 M495.6,1210.1 492.4,1208.8 489.9,1206.6 489.5,1203.2 486.8,1206.2 M493.4,1213.4 492.7,1208.7 494.2,1212.7 M475.3,1189.9 475.4,1187.5 474.9,1191.9 M493.8,1212.4 492.2,1214.3 491.2,1212.3 M471.9,1188.1 475.6,1188.1 476.4,1185.5 478.3,1185.1 481.9,1183.6 M489.4,1192.4 492.7,1193.0 493.1,1188.8 M492.8,1210.1 495.0,1209.5 493.3,1205.3 M495.3,1202.2 492.4,1202.4 494.5,1200.3 494.1,1205.2 M486.6,1209.8 485.3,1207.4 487.0,1209.2 M480.6,1190.1 485.2,1188.1 485.6,1191.4 485.6,1195.2 482.4,1192.1 M488.3,1191.1 487.5,1195.3 489.3,1197.9 491.2,1200.9 M469.8,1184.6 470.9,1187.1 471.6,1190.6 M481.0,1193.4 478.0,1196.2 478.2,1193.5 479.3,1190.5 483.1,1191.0 M493.4,1219.5 494.4,1216.6 489.6,1216.0 487.4,1214.2 M470.2,1193.2 472.2,1189.3 475.9,1190.7 471.3,1191.8 469.8,1190.5 M467.9,1193.2 471.7,1195.2 473.0,1198.7 470.4,1200.8 470.4,1197.6 M470.8,1185.4 468.6,1183.4 M481.2,1182.1 478.1,1182.2 473.8,1183.3 473.4,1186.9 468.6,1187.6 M491.1,1219.6 488.3,1219.8 491.6,1218.0 M491.5,1184.4 493.1,1187.6 M487.4,1214.5 489.4,1216.6 489.9,1220.5 M487.4,1198.8 486.8,1201.2 491.7,1200.8 489.1,1202.2 489.1,1205.7 M472.2,1187.0 472.7,1191.6 470.0,1194.9 469.5,1191.5 468.7,1187.2 M478.9,1182.6 475.4,1184.9 479.2,1183.3 474.4,1184.1 M486.7,1212.4 487.3,1216.3 491.2,1215.7 494.6,1215.9 M488.3,1217.6 489.3,1219.6 487.1,1221.1 M491.0,1191.9 487.9,1190.2 486.4,1188.9 484.9,1185.8 482.4,1185.6 M494.6,1219.2 494.7,1216.7 M489.5,1213.4 489.3,1217.3 491.4,1213.7 494.7,1214.8 M471.8,1192.2 474.8,1191.6 471.8,1190.9 M481.5,1203.0 485.5,1205.1 484.2,1208.8 485.3,1205.0 M478.8,1202.7 479.9,1199.0 479.0,1201.5 M480.8,1190.1 482.9,1191.0 481.0,1187.1 482.6,1185.0 M477.8,1194.4 479.4,1197.3 478.2,1201.8 481.1,1200.3 M476.9,1184.5 472.7,1185.3 474.1,1183.2 M471.4,1186.0 472.8,1182.4 469.1,1185.0 M494.7,1201.5 494.3,1198.6 491.0,1201.0 489.9,1197.3 494.0,1196.5 M483.0,1207.2 485.2,1211.5 M477.7,1200.4 480.0,1200.0 M472.1,1183.6 469.5,1182.8 468.7,1186.7 M471.7,1193.7 473.7,1195.0 474.4,1197.7 472.0,1199.0 M477.4,1190.7 477.1,1188.6 480.7,1187.1 M472.5,1183.0 472.9,1180.6 470.6,1184.3 M485.3,1197.0 482.6,1199.1 480.5,1197.1 M492.1,1205.5 488.1,1205.3 484.9,1205.3 484.0,1203.0 M493.3,1199.4 491.3,1195.1 493.8,1196.4 494.4,1194.5 M470.3,1195.1 473.6,1195.6 476.6,1195.3 M491.5,1199.9 491.7,1203.4 489.5,1202.5 487.3,1202.5 M491.6,1202.4 488.9,1201.9 487.5,1203.3 484.9,1202.7 480.6,1203.6 M485.5,1206.7 482.2,1203.5 485.6,1201.2 480.9,1201.0 M472.0,1184.8 470.2,1182.9 M480.0,1198.4 478.8,1201.0 480.7,1202.4 M481.7,1192.1 480.5,1188.2 479.4,1186.4 476.9,1185.6 M486.3,1206.7 486.0,1210.9 487.7,1208.8 489.5,1211.1 M496.2,1218.3 492.9,1214.7 494.5,1217.2 M482.6,1183.2 481.5,1181.3 480.2,1185.7 477.4,1182.5 M479.6,1191.3 476.8,1193.6 479.1,1192.4 479.7,1188.3 480.5,1185.1 M480.7,1194.9 477.8,1192.4 474.8,1190.8 475.0,1186.2 M477.2,1183.3 477.9,1187.1 475.4,1183.2 M487.4,1193.3 483.1,1192.3 486.6,1194.8 M490.7,1208.3 493.8,1209.8 493.1,1207.1 490.7,1205.9 M488.6,1207.0 492.0,1205.0 487.6,1205.1 489.7,1203.9 M488.1,1217.2 485.7,1215.1 M488.9,1215.1 492.0,1214.5 488.9,1215.0 M473.6,1189.8 469.0,1189.0 472.1,1189.1 469.7,1190.3 M475.3,1195.7 471.0,1195.1 470.7,1192.5 M471.5,1192.8 469.2,1190.0 M488.2,1181.7 485.6,1185.8 483.8,1184.3 M490.5,1195.6 489.9,1199.0 489.1,1202.8 490.4,1204.5 486.8,1206.0 M483.1,1182.5 486.3,1184.1 483.7,1182.0 479.9,1184.1 481.0,1186.0 M491.7,1208.7 495.4,1208.0 M469.1,1195.5 471.4,1194.1 469.2,1193.4 468.4,1191.3 470.7,1188.3 M484.2,1202.1 487.7,1200.8 489.7,1196.7 486.5,1197.8 M484.1,1190.9 481.6,1191.4 477.6,1193.1 475.3,1196.2 M468.1,1197.0 472.8,1197.7 M481.4,1191.4 481.4,1195.5 478.4,1198.9 474.6,1199.8 M483.7,1202.9 482.6,1207.5 M478.7,1198.6 476.3,1196.2 481.1,1195.1 478.1,1197.5 M489.9,1209.7 493.1,1207.8 494.4,1210.1 M488.6,1187.6 491.8,1185.6 488.5,1187.9 489.5,1183.3 M487.1,1208.5 484.9,1207.0 486.5,1208.2 488.1,1205.7 M476.6,1197.4 478.1,1194.9 481.4,1196.7 477.5,1199.4 475.4,1200.2 M468.7,1194.2 472.2,1194.3 474.3,1192.9 M489.2,1194.1 487.7,1198.4 483.9,1196.6 481.1,1197.3 M482.1,1204.5 483.6,1200.1 M483.2,1207.7 484.9,1210.4 M481.2,1195.6 479.4,1191.8 477.4,1190.2 M489.0,1219.0 488.8,1216.2 487.3,1214.8 M477.9,1185.2 474.8,1183.7 478.3,1187.1 M493.3,1199.5 491.1,1199.7 492.3,1196.3 493.2,1193.6 M473.4,1197.9 474.5,1200.6 478.6,1198.5 M487.9,1199.7 489.4,1201.9 486.5,1199.3 M491.1,1207.5 493.7,1211.5 496.1,1211.9 M485.4,1195.1 485.1,1192.6 483.2,1191.9 487.1,1192.3 M488.5,1216.6 491.3,1219.8 495.3,1219.4 M481.5,1192.8 483.3,1191.2 483.2,1189.2 M469.9,1186.3 471.5,1188.7 469.3,1188.2 472.6,1186.7 M490.3,1190.0 489.0,1187.7 487.8,1186.0 M482.0,1203.9 483.5,1202.1 M489.9,1211.4 489.5,1215.0 491.4,1213.7 493.5,1210.2 495.2,1213.7 M485.6,1210.3 487.9,1209.5 488.2,1213.5 486.6,1210.5 485.8,1212.5 M473.9,1186.2 478.0,1184.4 479.2,1186.5 M470.3,1193.0 468.0,1193.5 470.3,1193.5 473.5,1194.2 M491.5,1216.1 491.2,1218.8 M476.4,1197.9 478.4,1195.5 477.6,1198.6 475.7,1195.9 M490.7,1199.8 488.0,1198.4 489.8,1199.3 494.0,1197.2 M480.8,1184.1 477.4,1183.2 476.5,1188.0 474.9,1189.7 475.4,1192.3 M472.9,1196.8 474.8,1194.6 470.7,1195.7 M469.9,1196.1 470.7,1200.4 474.3,1201.3 M493.8,1203.4 494.1,1205.8 492.0,1207.4 493.7,1205.5 M493.8,1203.6 493.6,1205.6 491.3,1203.5 493.1,1202.3 493.7,1199.8 M476.8,1192.7 479.7,1193.5 477.2,1194.4 477.0,1198.6 476.7,1202.1 M481.5,1198.1 485.9,1200.3 486.0,1198.2 487.8,1196.9 M483.0,1186.8 479.7,1190.4 477.2,1187.0 M494.1,1206.2 491.9,1210.1 493.8,1211.1 489.0,1210.2 490.7,1207.0 M471.8,1192.8 475.5,1193.2 479.8,1191.2 M487.1,1208.0 489.8,1208.2 491.8,1211.5 487.5,1213.3 M484.3,1184.6 484.4,1187.3 482.4,1183.8 484.5,1188.0 489.4,1188.0 M484.5,1207.5 483.4,1209.5 M487.7,1189.2 487.3,1191.4 488.8,1188.0 487.2,1185.7 M490.2,1220.9 488.1,1217.7 M486.4,1190.1 484.9,1188.5 487.0,1189.7 490.1,1190.3 486.6,1190.7 M470.3,1194.7 472.7,1197.6 469.8,1198.1 474.5,1198.2 M468.5,1185.2 471.7,1186.3 469.0,1186.3 469.1,1188.5" fill="none" stroke="#000" stroke-width="1.6" stroke-linecap="round" stroke-linejoin="round"/>
<path d="M389.1,1193.2 391.6,1191.7 388.8,1190.2 391.3,1188.6 M402.3,1186.9 398.7,1187.6 395.4,1188.1 397.4,1190.7 399.4,1188.5 M413.8,1188.3 411.0,1190.5 407.3,1191.8 M405.5,1188.8 407.1,1186.1 404.3,1185.5 404.6,1188.2 406.4,1187.1 M390.9,1194.3 392.8,1197.5 396.5,1196.7 393.4,1195.2 394.3,1198.8 M403.3,1188.6 400.0,1188.9 397.3,1189.2 M396.6,1185.6 395.0,1184.2 M392.1,1184.8 394.7,1184.4 394.4,1187.7 397.0,1187.4 M394.3,1185.9 391.6,1188.5 388.8,1191.0 387.8,1189.0 M390.5,1194.8 390.7,1197.4 393.7,1197.0 391.8,1196.4 389.1,1198.0 M379.9,1194.5 382.7,1192.9 382.2,1195.8 M405.6,1188.8 404.4,1191.3 403.3,1193.8 401.2,1192.3 398.7,1194.8 M380.2,1193.7 382.2,1195.9 380.8,1193.8 M404.4,1200.5 405.8,1198.0 407.3,1196.2 405.6,1199.0 407.8,1197.1 M401.4,1186.9 402.4,1189.2 403.6,1186.1 405.4,1188.0 M412.6,1188.3 410.8,1186.4 408.8,1187.6 M399.2,1198.4 402.1,1198.2 405.7,1197.0 406.3,1200.4 408.1,1197.6 M401.0,1188.6 403.8,1186.3 405.6,1188.0 M400.7,1187.0 398.9,1186.1 398.8,1183.7 397.8,1186.9 M401.2,1190.9 402.9,1192.3 405.9,1191.8 406.7,1189.8 407.2,1192.0 M389.2,1188.4 390.1,1186.6 M390.4,1192.9 392.9,1193.7 394.5,1190.4 394.8,1188.3 M400.8,1192.2 399.7,1194.7 397.8,1192.2 M394.3,1186.9 392.3,1187.8 395.7,1187.9 396.6,1184.9 M406.5,1193.2 407.5,1190.1 405.0,1191.2 401.6,1191.3 398.6,1192.9 M398.5,1187.8 398.1,1191.0 398.9,1188.7 400.3,1190.2 398.5,1193.7 M402.6,1199.1 403.9,1196.0 M407.2,1196.6 403.7,1195.9 403.1,1193.0 403.3,1195.8 400.2,1195.3 M406.9,1190.2 404.9,1193.3 407.1,1193.7 M399.4,1196.0 396.2,1194.2 399.7,1195.0 396.3,1194.8 M383.6,1196.9 386.0,1197.9 382.7,1196.5 M410.9,1190.5 407.7,1188.2 404.0,1186.9 402.3,1188.6 M403.0,1193.9 402.1,1191.7 399.1,1193.9 400.6,1196.5 397.2,1196.8 M415.0,1193.1 413.2,1189.8 410.6,1188.1 414.4,1187.7 M392.0,1188.3 393.0,1191.2 393.2,1194.2 395.1,1192.1 M408.5,1196.0 404.9,1196.8 406.2,1194.0 M399.4,1196.4 400.1,1192.7 403.8,1193.8 406.4,1191.7 M410.0,1189.5 408.6,1192.0 406.2,1192.2 M395.6,1193.2 397.2,1191.8 394.5,1193.0 M401.3,1187.9 403.9,1187.0 402.9,1190.2 400.9,1187.2 M390.3,1197.0 388.8,1194.3 391.1,1196.2 389.0,1199.0 M407.7,1193.6 405.6,1190.9 407.2,1193.1 M404.3,1193.4 405.4,1196.1 406.1,1192.8 407.9,1194.3 405.0,1193.2 M395.6,1185.2 392.8,1187.7 395.7,1188.5 395.8,1192.1 M394.0,1189.4 390.6,1190.6 393.3,1191.8 395.6,1191.8 M404.0,1195.7 404.6,1192.3 405.5,1194.5 402.5,1196.2 403.9,1193.0 M404.0,1186.1 405.2,1188.1 407.0,1186.1 M391.4,1198.6 394.4,1196.1 392.1,1198.2 389.3,1196.6 M391.7,1198.9 394.0,1199.3 392.6,1197.7 392.6,1195.2 M386.4,1194.7 387.4,1197.5 390.3,1198.2 M406.3,1191.4 405.6,1194.7 407.3,1197.1 M400.4,1192.4 402.8,1191.3 405.1,1188.8 M404.4,1200.1 406.8,1200.1 406.1,1197.7 M392.4,1197.6 394.5,1198.7 393.5,1195.8 M396.9,1195.1 399.8,1195.5 398.7,1192.8 396.7,1193.4 M389.9,1198.7 386.8,1198.1 M385.1,1191.7 386.2,1193.4 383.6,1191.9 M405.9,1185.9 407.4,1188.5 409.3,1189.3 406.6,1190.2 406.0,1188.2 M396.1,1190.6 399.2,1188.5 399.4,1191.3 M387.1,1189.4 385.8,1191.3 389.1,1192.4 M390.7,1197.6 391.6,1193.8 388.5,1194.0 391.1,1194.5 M382.8,1194.5 385.0,1194.9 386.0,1196.8 M381.3,1195.2 384.7,1193.3 M404.7,1200.4 406.9,1199.7 M402.2,1193.1 403.7,1196.2 403.4,1192.5 399.7,1191.3 M394.4,1190.9 391.2,1192.1 389.1,1195.1 M400.5,1197.0 399.2,1193.3 401.4,1193.9 401.5,1190.3 404.3,1192.1 M406.9,1189.2 408.8,1186.5 405.1,1187.6 404.9,1185.0 M394.7,1184.7 393.3,1187.0 389.8,1188.1 M387.9,1195.8 390.0,1194.9 392.3,1194.7" fill="none" stroke="#000" stroke-width="1.5" stroke-linecap="round" stroke-linejoin="round"/>
<path d="M331.2,1154.9 331.7,1157.9 M305.8,1144.3 306.6,1142.1 M325.4,1155.8 328.1,1157.5 326.7,1154.8 328.0,1157.5 M315.7,1145.6 317.1,1147.9 317.9,1145.9 321.0,1146.9 M317.2,1146.6 318.2,1149.3 319.1,1152.4 318.7,1155.1 318.6,1152.4 M312.7,1146.3 316.2,1145.5 312.9,1147.6 310.3,1145.1 M311.7,1143.9 311.0,1146.3 309.1,1145.0 306.7,1143.8 M316.7,1147.0 319.9,1147.0 317.6,1147.9 319.5,1146.8 M321.5,1150.3 321.5,1154.3 323.7,1156.4 324.1,1153.6 327.0,1153.4 M310.1,1147.8 308.3,1145.6 M309.2,1143.8 309.2,1146.3 M322.9,1154.7 325.6,1155.4 322.1,1157.0 M312.3,1148.0 310.4,1145.2 M332.8,1157.8 330.3,1155.3 332.6,1152.9 M317.0,1149.0 319.2,1147.9 323.1,1148.0 M327.0,1156.2 330.7,1157.5 332.0,1154.7 M324.7,1148.5 323.5,1151.9 320.4,1153.6 322.2,1156.9 M308.0,1143.2 309.6,1146.0 M306.3,1142.5 303.5,1142.1 M330.9,1150.2 327.9,1151.4 M314.7,1145.0 312.6,1147.5 314.0,1149.1 316.3,1152.0 M314.1,1150.8 312.4,1147.5 315.3,1149.0 317.5,1147.5 M330.1,1151.3 327.5,1149.8 M326.3,1157.9 328.1,1156.3 M327.1,1152.3 324.4,1154.1 327.1,1152.1 326.2,1154.3 324.7,1157.2 M315.0,1147.7 314.4,1150.4 316.8,1150.6 313.5,1149.8 M332.2,1151.7 329.3,1151.5 M330.9,1154.0 331.6,1157.8 M323.8,1150.3 323.5,1153.3 324.7,1155.2 327.3,1155.7 328.9,1157.2 M330.3,1153.1 332.0,1155.4 M309.2,1145.8 311.3,1146.8 313.1,1145.0 310.5,1147.1 312.2,1145.1 M314.6,1148.1 314.0,1151.4 M324.6,1157.0 326.2,1154.3 328.7,1156.3 330.9,1154.9 M322.7,1156.6 322.4,1153.0 323.2,1156.0 324.2,1153.0 324.8,1150.1 M328.6,1155.0 331.5,1152.6 M324.3,1151.3 320.5,1151.9 322.6,1150.9 325.5,1151.7 M328.3,1155.5 330.1,1152.8 328.6,1151.4 M325.9,1155.1 327.9,1152.6 326.0,1153.9 323.9,1154.0 M318.5,1149.6 317.2,1146.3 318.1,1148.1 M315.2,1151.7 317.7,1152.2 M323.4,1156.5 323.7,1153.2 326.8,1153.4 327.5,1155.4 M312.6,1146.4 314.5,1149.4 316.5,1150.0 318.5,1153.3 M331.5,1152.6 332.2,1154.7 M317.5,1150.3 316.2,1152.8 318.2,1151.7 M331.8,1152.6 329.6,1155.2 331.8,1154.4 329.6,1157.6 M325.4,1157.3 329.0,1155.9 330.1,1152.5 332.2,1155.9 M331.3,1153.3 327.8,1152.0 M321.7,1151.3 325.0,1151.7 323.2,1153.3 320.4,1151.7 322.5,1154.1 M319.4,1147.2 317.5,1149.9 313.7,1148.8 316.1,1147.9 314.5,1150.5 M319.5,1147.0 315.8,1147.2 318.8,1148.6" fill="none" stroke="#000" stroke-width="1.5" stroke-linecap="round" stroke-linejoin="round"/>
<path d="M457.1,1187.3 460.4,1186.0 462.2,1185.1 458.4,1185.9 456.2,1182.8 M448.8,1182.0 450.7,1185.0 452.8,1187.5 454.2,1189.0 M466.9,1182.3 469.1,1181.7 470.4,1184.0 M440.6,1188.5 439.1,1184.9 441.2,1183.3 439.7,1185.0 M438.5,1180.9 441.0,1182.0 M444.8,1186.8 441.4,1187.2 445.1,1188.6 M465.8,1180.5 463.7,1182.8 465.8,1183.0 467.4,1186.5 M447.0,1181.7 446.0,1184.1 446.9,1186.1 M438.6,1186.8 439.7,1188.6 442.8,1188.3 M456.0,1188.1 454.7,1186.2 457.9,1185.8 458.8,1183.2 M454.8,1181.6 457.1,1183.3 459.3,1186.3 458.5,1189.1 M470.9,1184.6 469.9,1182.1 469.5,1185.0 M464.9,1185.3 462.8,1183.2 461.7,1185.0 M443.4,1187.6 444.0,1184.3 442.2,1181.3 439.9,1183.9 M443.8,1184.9 443.0,1181.0 441.7,1183.0 443.4,1180.7 M443.5,1183.0 441.6,1185.7 441.3,1182.1 439.2,1185.0 M466.8,1186.8 469.7,1185.9 467.4,1185.5 469.4,1182.2 M451.5,1186.8 450.1,1184.3 447.2,1181.7 443.4,1181.3 442.4,1184.3 M466.7,1182.9 467.7,1185.8 466.1,1184.2 M462.5,1182.0 465.3,1182.8 465.6,1184.9 467.4,1186.8 468.4,1189.0 M447.7,1186.0 445.8,1188.0 449.3,1186.9 451.6,1184.4 M454.3,1183.1 451.7,1182.4 448.3,1180.5 M464.6,1186.3 462.3,1186.8 460.1,1188.8 M458.7,1183.9 455.7,1182.6 457.8,1185.1 459.9,1183.4 M449.7,1182.4 446.3,1182.9 443.5,1185.3 445.2,1188.0 M461.8,1183.1 459.5,1184.5 462.5,1184.2 461.8,1187.1 M437.6,1186.1 439.4,1188.2 M442.3,1184.8 442.4,1187.3 M444.3,1186.0 440.6,1185.6 443.3,1183.0 445.6,1183.2 M443.8,1187.0 441.2,1187.6 441.1,1184.4 443.5,1184.9" fill="none" stroke="#000" stroke-width="1.4" stroke-linecap="round" stroke-linejoin="round"/>
<path d="M525.4,1261.8 525.5,1259.7 527.5,1262.2 M528.2,1266.3 527.2,1264.2 523.8,1263.0 523.5,1266.6 M525.6,1260.9 524.5,1257.5 523.4,1254.1 525.2,1255.3 M529.3,1262.1 525.7,1262.4 526.8,1265.3 530.5,1264.6 M512.3,1237.8 515.5,1239.8 513.3,1239.5 M520.7,1235.5 518.9,1237.2 515.9,1235.0 M528.4,1246.3 528.7,1244.3 526.8,1247.6 M519.2,1235.2 516.6,1234.7 515.3,1232.0 516.6,1235.0 M528.2,1242.4 524.8,1243.0 523.0,1244.2 M509.9,1232.6 513.7,1232.1 511.1,1233.5 M513.7,1238.3 517.4,1237.6 515.2,1239.8 M498.9,1220.9 501.5,1223.2 M518.9,1241.1 516.0,1241.3 518.2,1242.9 520.2,1245.5 518.4,1244.0 M529.6,1266.2 526.4,1267.2 527.0,1265.0 530.6,1263.7 527.2,1265.0 M512.9,1233.6 509.7,1231.9 M512.8,1238.5 516.0,1240.4 514.0,1238.0 516.3,1238.5 514.8,1240.1 M516.5,1243.3 515.1,1241.6 516.4,1244.7 M520.7,1256.3 522.7,1259.0 524.1,1260.6 M524.3,1254.8 526.1,1256.0 524.2,1255.1 526.5,1253.3 M520.4,1247.0 521.1,1250.1 521.0,1253.7 520.9,1249.7 520.0,1246.4 M530.0,1268.3 528.4,1264.6 527.3,1266.3 M513.5,1233.0 511.4,1231.6 513.3,1233.7 514.9,1237.3 M514.1,1233.3 513.5,1235.3 513.6,1233.1 M527.8,1246.7 524.4,1245.8 525.1,1249.0 522.4,1251.3 M527.8,1257.5 525.3,1255.1 527.9,1258.1 528.8,1260.6 M520.4,1244.1 518.3,1244.7 517.8,1248.1 520.8,1250.3 M513.7,1240.2 517.3,1239.0 519.6,1242.2 M516.7,1233.1 519.2,1235.4 M528.6,1242.7 528.7,1246.7 531.7,1246.1 M526.2,1262.1 527.1,1264.2 529.3,1263.1 527.0,1265.2 524.9,1267.7 M518.8,1233.3 515.8,1232.7 514.0,1230.6 M525.1,1258.0 528.2,1257.9 M527.5,1256.4 525.1,1257.2 523.8,1260.5 527.0,1258.8 M516.4,1239.0 517.0,1235.8 M518.9,1244.5 521.7,1243.9 522.7,1241.0 523.3,1244.6 M527.6,1248.7 527.4,1245.9 524.8,1247.8 M514.8,1232.4 512.9,1234.3 512.2,1231.7 M518.0,1235.1 516.8,1233.0 513.7,1233.7 511.8,1235.9 515.3,1235.0 M518.9,1247.0 522.1,1245.3 519.5,1247.6 522.2,1247.6 M524.7,1261.7 522.8,1259.3 M517.1,1245.2 519.0,1244.4 M530.0,1268.0 528.5,1265.0 529.9,1268.8 M514.2,1236.4 515.1,1238.6 517.6,1235.5 518.0,1237.9 515.9,1237.0 M520.8,1257.0 523.3,1254.1 M526.9,1259.7 530.0,1259.1 528.2,1256.4 525.0,1256.4 527.1,1256.5" fill="none" stroke="#000" stroke-width="1.4" stroke-linecap="round" stroke-linejoin="round"/>
<path d="M598.8,1062.0 587.8,1069.1 567.5,1081.6 555.0,1087.8 540.9,1094.1 537.8,1105.0 536.2,1120.6 533.1,1133.9 M533.1,1133.9 523.8,1130.0 514.4,1136.2 506.6,1147.2 492.5,1150.3 483.1,1156.6 478.4,1161.2 476.1,1169.8 M533.1,1133.9 532.3,1145.6 534.7,1156.6 539.4,1175.3 539.4,1181.6 546.4,1189.4 546.4,1198.8 M534.7,1156.6 525.3,1167.5 515.9,1181.6 M478.4,1169.8 486.2,1170.6 498.8,1176.9 511.2,1183.1 539.4,1181.6 M511.2,1183.1 509.7,1190.9 501.9,1194.8 494.1,1195.6 M476.1,1169.8 471.4,1174.5 465.9,1180.0 459.7,1172.2 455.0,1168.3 448.8,1169.8 442.5,1173.8 439.4,1181.6 M465.9,1180.0 470.6,1183.1" fill="none" stroke="#3a9a2a" stroke-width="1.1" stroke-linejoin="round"/>
<path d="M586.2,1070.6 576.9,1075.3 567.5,1081.6" fill="none" stroke="#ffff00" stroke-width="2.6" stroke-linecap="round"/>
<path d="M455.0,1166.7 455.8,1169.8" fill="none" stroke="#e8e800" stroke-width="2.6" stroke-linecap="round"/>
<path d="M469.8,1171.4 473.8,1169.8 478.4,1169.1" fill="none" stroke="#ee1111" stroke-width="3" stroke-linecap="round"/>
</g>
<rect x="117.3" y="985.7" width="592.0" height="392.9" fill="none" stroke="#123" stroke-width="1.1"/>
<rect x="734.9" y="1204.6" width="239.60000000000002" height="174.4000000000001" fill="#93c4e0" stroke="#123" stroke-width="1.1"/>
<path d="M752.7,1242.0 752.3,1238.8 754.8,1235.6 757.4,1233.1 759.5,1232.5 759.9,1235.0 757.4,1238.8 754.8,1242.2Z" fill="#fff" stroke="#012" stroke-width="1.2" stroke-linejoin="round"/>
<path d="M770.4,1231.2 772.6,1226.7 777.1,1224.2 783.4,1223.6 788.5,1224.8 790.0,1228.6 789.1,1233.1 786.6,1237.5 782.8,1238.8 777.1,1237.5 772.6,1235.0Z" fill="#fff" stroke="#012" stroke-width="1.2" stroke-linejoin="round"/>
<path d="M829.7,1250.9 834.8,1250.9 839.9,1245.5 842.4,1245.5 846.2,1250.9 850.0,1255.9 853.2,1261.6 852.0,1263.6 847.5,1264.2 844.3,1261.6 839.9,1262.9 836.1,1262.9 834.2,1258.5 831.6,1254.7Z" fill="#fff" stroke="#012" stroke-width="1.2" stroke-linejoin="round"/>
<path d="M867.8,1269.9 869.7,1266.7 876.1,1266.1 881.2,1267.4 886.9,1266.7 891.1,1268.0 890.0,1271.2 885.6,1273.1 879.9,1271.8 873.5,1271.2 868.5,1271.4Z" fill="#fff" stroke="#012" stroke-width="1.2" stroke-linejoin="round"/>
<path d="M878.0,1279.4 880.5,1277.5 885.0,1278.5 887.5,1282.0 886.2,1285.1 882.4,1286.2 880.5,1283.9Z" fill="#fff" stroke="#012" stroke-width="1.2" stroke-linejoin="round"/>
<path d="M892.3,1277.5 894.5,1274.7 897.4,1275.0 899.2,1278.8 900.8,1280.3 905.3,1277.5 911.6,1278.2 917.3,1282.0 920.5,1285.1 919.2,1288.9 914.2,1290.8 907.8,1292.5 902.7,1292.1 901.2,1287.7 900.2,1283.9 896.4,1283.9 893.2,1282.0Z" fill="#fff" stroke="#012" stroke-width="1.2" stroke-linejoin="round"/>
<path d="M891.6,1295.3 893.8,1292.8 897.7,1292.1 897.9,1294.7 894.5,1296.3Z" fill="#fff" stroke="#012" stroke-width="1.2" stroke-linejoin="round"/>
<path d="M923.0,1307.4 925.6,1305.4 929.4,1308.0 934.5,1311.2 940.8,1313.1 947.2,1316.9 952.2,1322.0 957.3,1329.6 962.4,1334.6 965.6,1339.1 962.4,1343.5 956.1,1347.3 948.4,1350.5 942.1,1355.0 937.0,1360.0 931.9,1362.3 926.9,1358.8 923.0,1355.0 922.4,1347.3 921.1,1339.7 918.6,1334.6 917.0,1328.3 919.2,1324.5 924.3,1319.4 926.9,1315.6 924.3,1311.8Z" fill="#fff" stroke="#012" stroke-width="1.2" stroke-linejoin="round"/>
<path d="M831.6,1252.1 835.4,1255.9 839.3,1259.1 843.7,1261.0 848.8,1261.6 M839.9,1247.1 842.4,1252.1 845.6,1255.9 850.0,1258.5 M893.8,1277.5 895.8,1281.3 902.1,1282.6 907.8,1283.9 M924.3,1309.3 933.2,1313.1 943.4,1315.6 952.2,1323.2 958.6,1332.1 M920.5,1329.6 919.2,1334.6 921.1,1341.0" fill="none" stroke="#9ad06a" stroke-width="1.6" stroke-linejoin="round"/>
<path d="M832.9,1254.7 836.7,1258.5 M843.1,1250.9 845.0,1254.7 M894.5,1279.4 896.4,1282.6" fill="none" stroke="#f2f266" stroke-width="2.2" stroke-linecap="round"/>
<path d="M842.4,1259.7 845.6,1261.0 M846.2,1258.5 848.1,1260.4 M895.1,1282.0 897.0,1282.9 M933.2,1312.4 939.5,1314.3" fill="none" stroke="#e8452a" stroke-width="2.2" stroke-linecap="round"/>
<path d="M839.9,1259.1 841.2,1260.0" fill="none" stroke="#111" stroke-width="2.2" stroke-linecap="round"/>
<rect x="1454.5" y="1237" width="478.5" height="143" fill="#fff"/>
<path d="M1464,1295.6H1511" stroke="#2c7a2c" stroke-width="1.2"/>
<path d="M1464,1326.6H1511" stroke="#ffff00" stroke-width="6"/>
<path d="M1464,1357.2H1511" stroke="#e8101a" stroke-width="6"/>
<text x="1489" y="1271.8" font-size="29.5" font-weight="bold" textLength="418" lengthAdjust="spacingAndGlyphs">Recurring Peak-Period Congestion</text>
<text x="1511.5" y="1303.3" font-size="21.5" font-weight="bold" textLength="113" lengthAdjust="spacingAndGlyphs">Uncongested</text>
<text x="1511.5" y="1333.9" font-size="21.5" font-weight="bold" textLength="93" lengthAdjust="spacingAndGlyphs">Congested</text>
<text x="1511.5" y="1364.1" font-size="21.5" font-weight="bold" textLength="154" lengthAdjust="spacingAndGlyphs">Highly Congested</text>
</g>
<text x="610.3" y="138.1" font-size="32.38">Peak-Period Congestion on the National Highway System: 2035</text>
<text x="124.1" y="1439.8" font-size="23.46" xml:space="preserve">Note:  Highly congested segments are stop-and-go conditions with volume/service flow ratios greater than 0.95. Congested segments have reduced traffic speeds with</text>
<text x="124.1" y="1465.8" font-size="23.46" xml:space="preserve">volume/service flow ratios between 0.75 and 0.95.</text>
<text x="124.1" y="1491.8" font-size="23.46" xml:space="preserve">Source:  U. S. Department of Transportation, Federal Highway Administration, Office of Highway Policy Information, Highway Performance Monitoring System, and Office of</text>
<text x="124.1" y="1517.8" font-size="23.46" xml:space="preserve">Freight Management and Operations, Freight Analysis Framework, version 2.2, 2007</text>

</svg>
</body></html>
